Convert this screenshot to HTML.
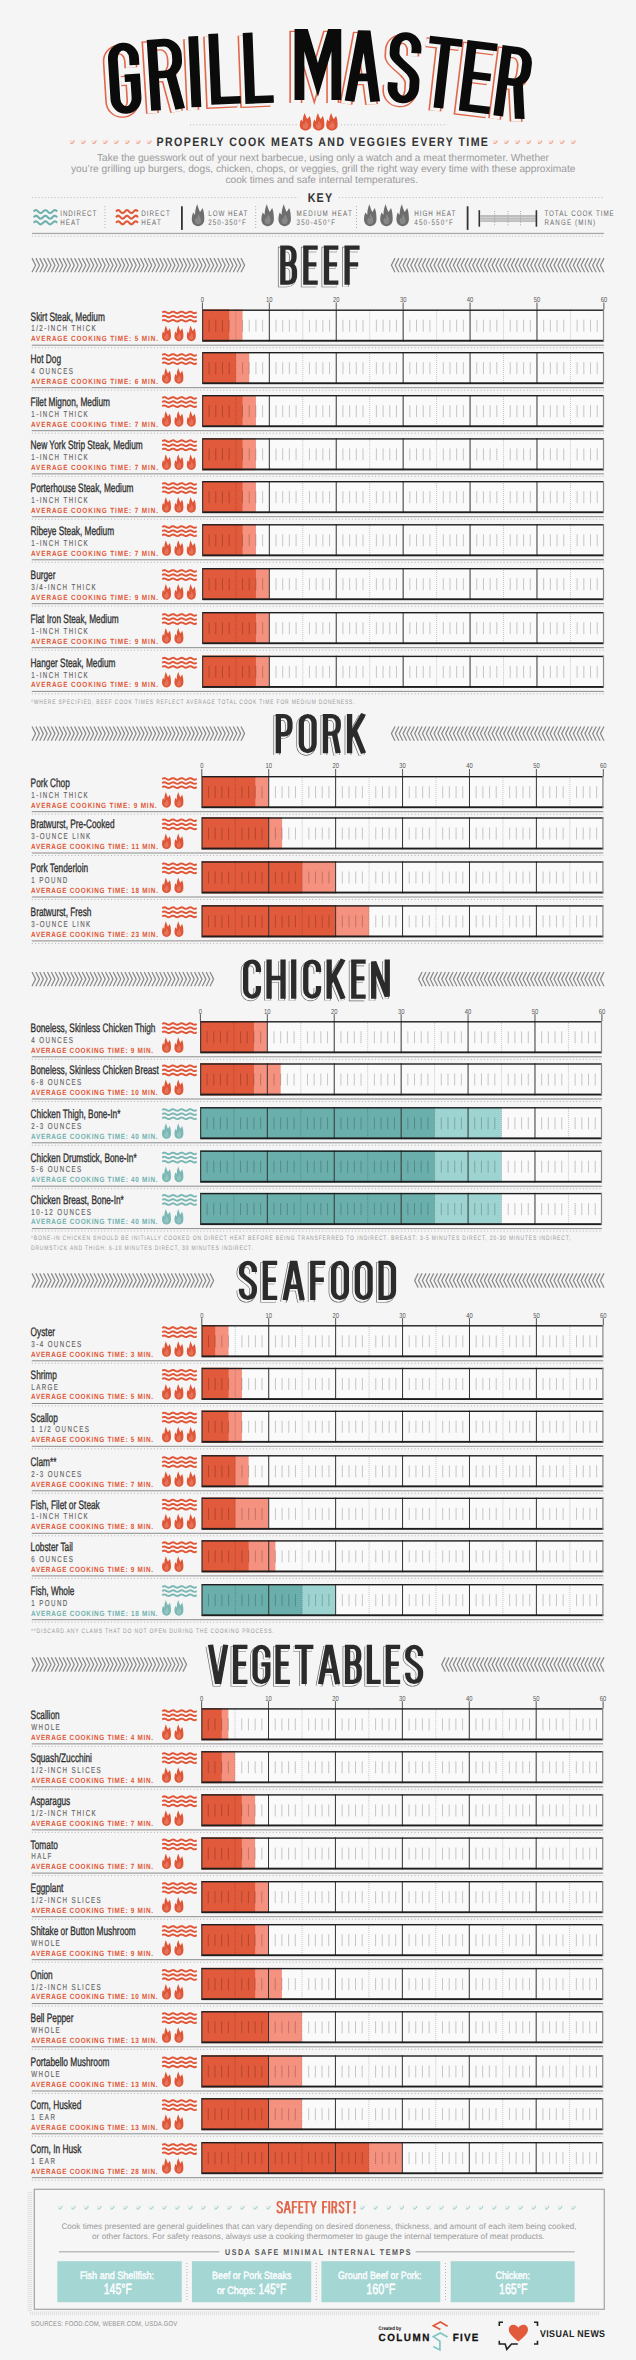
<!DOCTYPE html><html><head><meta charset="utf-8"><style>html,body{margin:0;padding:0;background:#f5f5f5;}text{text-rendering:geometricPrecision;}svg{display:block;}text{font-family:"Liberation Sans",sans-serif;}</style></head><body><svg width="636" height="2360" viewBox="0 0 636 2360" font-family="Liberation Sans, sans-serif">
<rect width="636" height="2360" fill="#f5f5f5"/>
<g transform="translate(121.10,81.10) rotate(-3.600) translate(-10.60,-31.70) scale(1,0.7755)"><path d="M21.20,24.53 V15.04 A10.60,15.04 0 0 0 0.00,15.04 V66.72 A10.60,15.04 0 0 0 21.20,66.72 V40.88 H10.60" fill="none" stroke="#e2664a" stroke-width="13.00" stroke-linejoin="miter" stroke-miterlimit="5" stroke-linecap="butt"/><path d="M21.20,24.53 V15.04 A10.60,15.04 0 0 0 0.00,15.04 V66.72 A10.60,15.04 0 0 0 21.20,66.72 V40.88 H10.60" fill="none" stroke="#f5f5f5" stroke-width="9.80" stroke-linejoin="miter" stroke-miterlimit="5" stroke-linecap="butt"/></g>
<g transform="translate(162.30,77.10) rotate(-3.600) translate(-12.10,-31.70) scale(1,0.7755)"><path d="M0.00,86.65 V0.00 H12.10 A12.10,17.16 0 0 1 24.20,17.16 V23.71 A12.10,17.16 0 0 1 12.10,40.88 H0 M16.94,40.88 L24.20,86.65" fill="none" stroke="#e2664a" stroke-width="13.00" stroke-linejoin="miter" stroke-miterlimit="5" stroke-linecap="butt"/><path d="M0.00,86.65 V0.00 H12.10 A12.10,17.16 0 0 1 24.20,17.16 V23.71 A12.10,17.16 0 0 1 12.10,40.88 H0 M16.94,40.88 L24.20,86.65" fill="none" stroke="#f5f5f5" stroke-width="9.80" stroke-linejoin="miter" stroke-miterlimit="5" stroke-linecap="butt"/></g>
<g transform="translate(190.90,74.50) rotate(-2.600) translate(0.30,-31.70) scale(1,0.7755)"><path d="M0.00,-4.90 V86.65" fill="none" stroke="#e2664a" stroke-width="13.00" stroke-linejoin="miter" stroke-miterlimit="5" stroke-linecap="butt"/><path d="M0.00,-4.90 V86.65" fill="none" stroke="#f5f5f5" stroke-width="9.80" stroke-linejoin="miter" stroke-miterlimit="5" stroke-linecap="butt"/></g>
<g transform="translate(221.00,71.50) rotate(-2.500) translate(-9.90,-31.70) scale(1,0.7755)"><path d="M0.00,-4.90 V81.75 H24.70" fill="none" stroke="#e2664a" stroke-width="13.00" stroke-linejoin="miter" stroke-miterlimit="5" stroke-linecap="butt"/><path d="M0.00,-4.90 V81.75 H24.70" fill="none" stroke="#f5f5f5" stroke-width="9.80" stroke-linejoin="miter" stroke-miterlimit="5" stroke-linecap="butt"/></g>
<g transform="translate(254.70,70.70) rotate(-2.200) translate(-9.35,-31.70) scale(1,0.7755)"><path d="M0.00,-4.90 V81.75 H23.60" fill="none" stroke="#e2664a" stroke-width="13.00" stroke-linejoin="miter" stroke-miterlimit="5" stroke-linecap="butt"/><path d="M0.00,-4.90 V81.75 H23.60" fill="none" stroke="#f5f5f5" stroke-width="9.80" stroke-linejoin="miter" stroke-miterlimit="5" stroke-linecap="butt"/></g>
<g transform="translate(314.30,67.40) translate(-18.45,-31.70) scale(1,0.7755)"><path d="M0.00,86.65 V0.00 H4.43 L18.45,60.50 L32.47,0.00 H36.90 V86.65" fill="none" stroke="#e2664a" stroke-width="13.00" stroke-linejoin="miter" stroke-miterlimit="5" stroke-linecap="butt"/><path d="M0.00,86.65 V0.00 H4.43 L18.45,60.50 L32.47,0.00 H36.90 V86.65" fill="none" stroke="#f5f5f5" stroke-width="9.80" stroke-linejoin="miter" stroke-miterlimit="5" stroke-linecap="butt"/></g>
<g transform="translate(359.70,68.70) rotate(1.500) translate(-12.10,-31.70) scale(1,0.7755)"><path d="M-0.73,86.65 L10.16,0.00 H14.04 L24.93,86.65 M3.63,55.59 H20.57" fill="none" stroke="#e2664a" stroke-width="13.00" stroke-linejoin="miter" stroke-miterlimit="5" stroke-linecap="butt"/><path d="M-0.73,86.65 L10.16,0.00 H14.04 L24.93,86.65 M3.63,55.59 H20.57" fill="none" stroke="#f5f5f5" stroke-width="9.80" stroke-linejoin="miter" stroke-miterlimit="5" stroke-linecap="butt"/></g>
<g transform="translate(400.90,70.60) rotate(3.500) translate(-10.85,-31.70) scale(1,0.7755)"><path d="M21.70,21.26 V15.39 A10.85,15.39 0 0 0 0.00,15.39 V22.89 C0.00,34.34 21.70,42.51 21.70,57.23 V66.36 A10.85,15.39 0 0 1 0.00,66.36 V60.50" fill="none" stroke="#e2664a" stroke-width="13.00" stroke-linejoin="miter" stroke-miterlimit="5" stroke-linecap="butt"/><path d="M21.70,21.26 V15.39 A10.85,15.39 0 0 0 0.00,15.39 V22.89 C0.00,34.34 21.70,42.51 21.70,57.23 V66.36 A10.85,15.39 0 0 1 0.00,66.36 V60.50" fill="none" stroke="#f5f5f5" stroke-width="9.80" stroke-linejoin="miter" stroke-miterlimit="5" stroke-linecap="butt"/></g>
<g transform="translate(438.80,75.60) rotate(6.500) translate(-11.60,-31.70) scale(1,0.7755)"><path d="M-4.90,0.00 H28.10 M11.60,0.00 V86.65" fill="none" stroke="#e2664a" stroke-width="13.00" stroke-linejoin="miter" stroke-miterlimit="5" stroke-linecap="butt"/><path d="M-4.90,0.00 H28.10 M11.60,0.00 V86.65" fill="none" stroke="#f5f5f5" stroke-width="9.80" stroke-linejoin="miter" stroke-miterlimit="5" stroke-linecap="butt"/></g>
<g transform="translate(474.70,80.00) rotate(7.000) translate(-10.35,-31.70) scale(1,0.7755)"><path d="M25.60,0.00 H0 V81.75 H25.60 M0.00,39.24 H22.70" fill="none" stroke="#e2664a" stroke-width="13.00" stroke-linejoin="miter" stroke-miterlimit="5" stroke-linecap="butt"/><path d="M25.60,0.00 H0 V81.75 H25.60 M0.00,39.24 H22.70" fill="none" stroke="#f5f5f5" stroke-width="9.80" stroke-linejoin="miter" stroke-miterlimit="5" stroke-linecap="butt"/></g>
<g transform="translate(510.00,85.00) rotate(7.500) translate(-10.85,-31.70) scale(1,0.7755)"><path d="M0.00,86.65 V0.00 H10.85 A10.85,15.39 0 0 1 21.70,15.39 V25.49 A10.85,15.39 0 0 1 10.85,40.88 H0 M15.19,40.88 L21.70,86.65" fill="none" stroke="#e2664a" stroke-width="13.00" stroke-linejoin="miter" stroke-miterlimit="5" stroke-linecap="butt"/><path d="M0.00,86.65 V0.00 H10.85 A10.85,15.39 0 0 1 21.70,15.39 V25.49 A10.85,15.39 0 0 1 10.85,40.88 H0 M15.19,40.88 L21.70,86.65" fill="none" stroke="#f5f5f5" stroke-width="9.80" stroke-linejoin="miter" stroke-miterlimit="5" stroke-linecap="butt"/></g>
<g transform="translate(124.70,78.30) rotate(-3.600) translate(-10.60,-31.70) scale(1,0.7755)"><path d="M21.20,24.53 V15.04 A10.60,15.04 0 0 0 0.00,15.04 V66.72 A10.60,15.04 0 0 0 21.20,66.72 V40.88 H10.60" fill="none" stroke="#0b0b0b" stroke-width="9.80" stroke-linejoin="miter" stroke-miterlimit="5" stroke-linecap="butt"/></g>
<g transform="translate(165.90,74.30) rotate(-3.600) translate(-12.10,-31.70) scale(1,0.7755)"><path d="M0.00,86.65 V0.00 H12.10 A12.10,17.16 0 0 1 24.20,17.16 V23.71 A12.10,17.16 0 0 1 12.10,40.88 H0 M16.94,40.88 L24.20,86.65" fill="none" stroke="#0b0b0b" stroke-width="9.80" stroke-linejoin="miter" stroke-miterlimit="5" stroke-linecap="butt"/></g>
<g transform="translate(194.50,71.70) rotate(-2.600) translate(0.30,-31.70) scale(1,0.7755)"><path d="M0.00,-4.90 V86.65" fill="none" stroke="#0b0b0b" stroke-width="9.80" stroke-linejoin="miter" stroke-miterlimit="5" stroke-linecap="butt"/></g>
<g transform="translate(224.60,68.70) rotate(-2.500) translate(-9.90,-31.70) scale(1,0.7755)"><path d="M0.00,-4.90 V81.75 H24.70" fill="none" stroke="#0b0b0b" stroke-width="9.80" stroke-linejoin="miter" stroke-miterlimit="5" stroke-linecap="butt"/></g>
<g transform="translate(258.30,67.90) rotate(-2.200) translate(-9.35,-31.70) scale(1,0.7755)"><path d="M0.00,-4.90 V81.75 H23.60" fill="none" stroke="#0b0b0b" stroke-width="9.80" stroke-linejoin="miter" stroke-miterlimit="5" stroke-linecap="butt"/></g>
<g transform="translate(317.90,64.60) translate(-18.45,-31.70) scale(1,0.7755)"><path d="M0.00,86.65 V0.00 H4.43 L18.45,60.50 L32.47,0.00 H36.90 V86.65" fill="none" stroke="#0b0b0b" stroke-width="9.80" stroke-linejoin="miter" stroke-miterlimit="5" stroke-linecap="butt"/></g>
<g transform="translate(363.30,65.90) rotate(1.500) translate(-12.10,-31.70) scale(1,0.7755)"><path d="M-0.73,86.65 L10.16,0.00 H14.04 L24.93,86.65 M3.63,55.59 H20.57" fill="none" stroke="#0b0b0b" stroke-width="9.80" stroke-linejoin="miter" stroke-miterlimit="5" stroke-linecap="butt"/></g>
<g transform="translate(404.50,67.80) rotate(3.500) translate(-10.85,-31.70) scale(1,0.7755)"><path d="M21.70,21.26 V15.39 A10.85,15.39 0 0 0 0.00,15.39 V22.89 C0.00,34.34 21.70,42.51 21.70,57.23 V66.36 A10.85,15.39 0 0 1 0.00,66.36 V60.50" fill="none" stroke="#0b0b0b" stroke-width="9.80" stroke-linejoin="miter" stroke-miterlimit="5" stroke-linecap="butt"/></g>
<g transform="translate(442.40,72.80) rotate(6.500) translate(-11.60,-31.70) scale(1,0.7755)"><path d="M-4.90,0.00 H28.10 M11.60,0.00 V86.65" fill="none" stroke="#0b0b0b" stroke-width="9.80" stroke-linejoin="miter" stroke-miterlimit="5" stroke-linecap="butt"/></g>
<g transform="translate(478.30,77.20) rotate(7.000) translate(-10.35,-31.70) scale(1,0.7755)"><path d="M25.60,0.00 H0 V81.75 H25.60 M0.00,39.24 H22.70" fill="none" stroke="#0b0b0b" stroke-width="9.80" stroke-linejoin="miter" stroke-miterlimit="5" stroke-linecap="butt"/></g>
<g transform="translate(513.60,82.20) rotate(7.500) translate(-10.85,-31.70) scale(1,0.7755)"><path d="M0.00,86.65 V0.00 H10.85 A10.85,15.39 0 0 1 21.70,15.39 V25.49 A10.85,15.39 0 0 1 10.85,40.88 H0 M15.19,40.88 L21.70,86.65" fill="none" stroke="#0b0b0b" stroke-width="9.80" stroke-linejoin="miter" stroke-miterlimit="5" stroke-linecap="butt"/></g>
<line x1="190" y1="124.8" x2="297" y2="124.8" stroke="#b9b9b9" stroke-width="1" stroke-dasharray="1 2.2"/>
<line x1="341" y1="124.8" x2="447" y2="124.8" stroke="#b9b9b9" stroke-width="1" stroke-dasharray="1 2.2"/>
<g transform="translate(299.80,112.90) scale(1.140,1.100)"><path d="M5,16 C2.1,16 0,13.9 0,11 C0,9 0.5,7.3 1.2,5.8 C1.6,6.8 2,7.3 2.6,7.6 C2.6,4.8 3.2,2.2 4.4,0 C5,2.4 5.8,4.2 6.6,5.6 C7.2,4.8 7.9,4 8.6,2.8 C9.6,4.8 10,7.6 10,11 C10,13.9 7.9,16 5,16 Z" fill="#e05536"/><path d="M5.2,7.2 C6,8.8 7.4,9.8 7.4,12 C7.4,13.6 6.4,14.6 5,14.6 C3.6,14.6 2.6,13.6 2.6,12.2 C2.6,11 3.1,10.2 3.6,9.6 C3.8,10.2 4.1,10.6 4.4,10.7 C4.4,9.4 4.7,8.2 5.2,7.2 Z" fill="#ffffff" opacity="0.18"/></g>
<g transform="translate(313.00,112.90) scale(1.140,1.100)"><path d="M5,16 C2.1,16 0,13.9 0,11 C0,9 0.5,7.3 1.2,5.8 C1.6,6.8 2,7.3 2.6,7.6 C2.6,4.8 3.2,2.2 4.4,0 C5,2.4 5.8,4.2 6.6,5.6 C7.2,4.8 7.9,4 8.6,2.8 C9.6,4.8 10,7.6 10,11 C10,13.9 7.9,16 5,16 Z" fill="#e05536"/><path d="M5.2,7.2 C6,8.8 7.4,9.8 7.4,12 C7.4,13.6 6.4,14.6 5,14.6 C3.6,14.6 2.6,13.6 2.6,12.2 C2.6,11 3.1,10.2 3.6,9.6 C3.8,10.2 4.1,10.6 4.4,10.7 C4.4,9.4 4.7,8.2 5.2,7.2 Z" fill="#ffffff" opacity="0.18"/></g>
<g transform="translate(326.20,112.90) scale(1.140,1.100)"><path d="M5,16 C2.1,16 0,13.9 0,11 C0,9 0.5,7.3 1.2,5.8 C1.6,6.8 2,7.3 2.6,7.6 C2.6,4.8 3.2,2.2 4.4,0 C5,2.4 5.8,4.2 6.6,5.6 C7.2,4.8 7.9,4 8.6,2.8 C9.6,4.8 10,7.6 10,11 C10,13.9 7.9,16 5,16 Z" fill="#e05536"/><path d="M5.2,7.2 C6,8.8 7.4,9.8 7.4,12 C7.4,13.6 6.4,14.6 5,14.6 C3.6,14.6 2.6,13.6 2.6,12.2 C2.6,11 3.1,10.2 3.6,9.6 C3.8,10.2 4.1,10.6 4.4,10.7 C4.4,9.4 4.7,8.2 5.2,7.2 Z" fill="#ffffff" opacity="0.18"/></g>
<path d="M69.60,140.00 Q69.80,144.10 72.60,143.90 Q74.60,143.50 74.40,138.90 Q73.20,142.10 69.60,140.00 Z" fill="#f7d3c8" opacity="0.8"/>
<path d="M70.40,143.40 Q73.40,144.10 74.20,140.70" fill="none" stroke="#e05536" stroke-width="0.9" opacity="0.55"/>
<path d="M80.60,140.00 Q80.80,144.10 83.60,143.90 Q85.60,143.50 85.40,138.90 Q84.20,142.10 80.60,140.00 Z" fill="#f7d3c8" opacity="0.8"/>
<path d="M81.40,143.40 Q84.40,144.10 85.20,140.70" fill="none" stroke="#e05536" stroke-width="0.9" opacity="0.55"/>
<path d="M91.60,140.00 Q91.80,144.10 94.60,143.90 Q96.60,143.50 96.40,138.90 Q95.20,142.10 91.60,140.00 Z" fill="#f7d3c8" opacity="0.8"/>
<path d="M92.40,143.40 Q95.40,144.10 96.20,140.70" fill="none" stroke="#e05536" stroke-width="0.9" opacity="0.55"/>
<path d="M102.60,140.00 Q102.80,144.10 105.60,143.90 Q107.60,143.50 107.40,138.90 Q106.20,142.10 102.60,140.00 Z" fill="#f7d3c8" opacity="0.8"/>
<path d="M103.40,143.40 Q106.40,144.10 107.20,140.70" fill="none" stroke="#e05536" stroke-width="0.9" opacity="0.55"/>
<path d="M113.60,140.00 Q113.80,144.10 116.60,143.90 Q118.60,143.50 118.40,138.90 Q117.20,142.10 113.60,140.00 Z" fill="#f7d3c8" opacity="0.8"/>
<path d="M114.40,143.40 Q117.40,144.10 118.20,140.70" fill="none" stroke="#e05536" stroke-width="0.9" opacity="0.55"/>
<path d="M124.60,140.00 Q124.80,144.10 127.60,143.90 Q129.60,143.50 129.40,138.90 Q128.20,142.10 124.60,140.00 Z" fill="#f7d3c8" opacity="0.8"/>
<path d="M125.40,143.40 Q128.40,144.10 129.20,140.70" fill="none" stroke="#e05536" stroke-width="0.9" opacity="0.55"/>
<path d="M135.60,140.00 Q135.80,144.10 138.60,143.90 Q140.60,143.50 140.40,138.90 Q139.20,142.10 135.60,140.00 Z" fill="#f7d3c8" opacity="0.8"/>
<path d="M136.40,143.40 Q139.40,144.10 140.20,140.70" fill="none" stroke="#e05536" stroke-width="0.9" opacity="0.55"/>
<path d="M146.60,140.00 Q146.80,144.10 149.60,143.90 Q151.60,143.50 151.40,138.90 Q150.20,142.10 146.60,140.00 Z" fill="#f7d3c8" opacity="0.8"/>
<path d="M147.40,143.40 Q150.40,144.10 151.20,140.70" fill="none" stroke="#e05536" stroke-width="0.9" opacity="0.55"/>
<path d="M492.60,140.00 Q492.80,144.10 495.60,143.90 Q497.60,143.50 497.40,138.90 Q496.20,142.10 492.60,140.00 Z" fill="#f7d3c8" opacity="0.8"/>
<path d="M493.40,143.40 Q496.40,144.10 497.20,140.70" fill="none" stroke="#e05536" stroke-width="0.9" opacity="0.55"/>
<path d="M503.74,140.00 Q503.94,144.10 506.74,143.90 Q508.74,143.50 508.54,138.90 Q507.34,142.10 503.74,140.00 Z" fill="#f7d3c8" opacity="0.8"/>
<path d="M504.54,143.40 Q507.54,144.10 508.34,140.70" fill="none" stroke="#e05536" stroke-width="0.9" opacity="0.55"/>
<path d="M514.89,140.00 Q515.09,144.10 517.89,143.90 Q519.89,143.50 519.69,138.90 Q518.49,142.10 514.89,140.00 Z" fill="#f7d3c8" opacity="0.8"/>
<path d="M515.69,143.40 Q518.69,144.10 519.49,140.70" fill="none" stroke="#e05536" stroke-width="0.9" opacity="0.55"/>
<path d="M526.03,140.00 Q526.23,144.10 529.03,143.90 Q531.03,143.50 530.83,138.90 Q529.63,142.10 526.03,140.00 Z" fill="#f7d3c8" opacity="0.8"/>
<path d="M526.83,143.40 Q529.83,144.10 530.63,140.70" fill="none" stroke="#e05536" stroke-width="0.9" opacity="0.55"/>
<path d="M537.17,140.00 Q537.37,144.10 540.17,143.90 Q542.17,143.50 541.97,138.90 Q540.77,142.10 537.17,140.00 Z" fill="#f7d3c8" opacity="0.8"/>
<path d="M537.97,143.40 Q540.97,144.10 541.77,140.70" fill="none" stroke="#e05536" stroke-width="0.9" opacity="0.55"/>
<path d="M548.31,140.00 Q548.51,144.10 551.31,143.90 Q553.31,143.50 553.11,138.90 Q551.91,142.10 548.31,140.00 Z" fill="#f7d3c8" opacity="0.8"/>
<path d="M549.11,143.40 Q552.11,144.10 552.91,140.70" fill="none" stroke="#e05536" stroke-width="0.9" opacity="0.55"/>
<path d="M559.46,140.00 Q559.66,144.10 562.46,143.90 Q564.46,143.50 564.26,138.90 Q563.06,142.10 559.46,140.00 Z" fill="#f7d3c8" opacity="0.8"/>
<path d="M560.26,143.40 Q563.26,144.10 564.06,140.70" fill="none" stroke="#e05536" stroke-width="0.9" opacity="0.55"/>
<path d="M570.60,140.00 Q570.80,144.10 573.60,143.90 Q575.60,143.50 575.40,138.90 Q574.20,142.10 570.60,140.00 Z" fill="#f7d3c8" opacity="0.8"/>
<path d="M571.40,143.40 Q574.40,144.10 575.20,140.70" fill="none" stroke="#e05536" stroke-width="0.9" opacity="0.55"/>
<text transform="translate(156.50,146.30) scale(0.86,1)" font-size="12.3" font-weight="bold" fill="#333" letter-spacing="1.650" >PROPERLY COOK MEATS AND VEGGIES EVERY TIME</text>
<text x="97.00" y="160.60" font-size="10.3" fill="#9a9a9a" textLength="452.00" lengthAdjust="spacingAndGlyphs" >Take the guesswork out of your next barbecue, using only a watch and a meat thermometer. Whether</text>
<text x="71.00" y="171.80" font-size="10.3" fill="#9a9a9a" textLength="504.50" lengthAdjust="spacingAndGlyphs" >you’re grilling up burgers, dogs, chicken, chops, or veggies, grill the right way every time with these approximate</text>
<text x="225.40" y="183.00" font-size="10.3" fill="#9a9a9a" textLength="192.60" lengthAdjust="spacingAndGlyphs" >cook times and safe internal temperatures.</text>
<line x1="32" y1="197.6" x2="298" y2="197.6" stroke="#b9b9b9" stroke-width="1" stroke-dasharray="1 2.2"/>
<line x1="339" y1="197.6" x2="604" y2="197.6" stroke="#b9b9b9" stroke-width="1" stroke-dasharray="1 2.2"/>
<text transform="translate(307.70,202.30) scale(0.85,1)" font-size="12.6" font-weight="bold" fill="#333" letter-spacing="1.399" >KEY</text>
<path d="M33.60,211.60 L34.63,210.65 L35.65,210.13 L36.68,210.27 L37.70,211.00 L38.73,212.00 L39.76,212.83 L40.78,213.10 L41.81,212.70 L42.83,211.80 L43.86,210.82 L44.89,210.19 L45.91,210.19 L46.94,210.82 L47.97,211.80 L48.99,212.70 L50.02,213.10 L51.04,212.83 L52.07,212.00 L53.10,211.00 L54.12,210.27 L55.15,210.13 L56.17,210.65 L57.20,211.60" fill="none" stroke="#6fb1ae" stroke-width="2.1"/>
<path d="M33.60,217.20 L34.63,216.25 L35.65,215.73 L36.68,215.87 L37.70,216.60 L38.73,217.60 L39.76,218.43 L40.78,218.70 L41.81,218.30 L42.83,217.40 L43.86,216.42 L44.89,215.79 L45.91,215.79 L46.94,216.42 L47.97,217.40 L48.99,218.30 L50.02,218.70 L51.04,218.43 L52.07,217.60 L53.10,216.60 L54.12,215.87 L55.15,215.73 L56.17,216.25 L57.20,217.20" fill="none" stroke="#6fb1ae" stroke-width="2.1"/>
<path d="M33.60,222.80 L34.63,221.85 L35.65,221.33 L36.68,221.47 L37.70,222.20 L38.73,223.20 L39.76,224.03 L40.78,224.30 L41.81,223.90 L42.83,223.00 L43.86,222.02 L44.89,221.39 L45.91,221.39 L46.94,222.02 L47.97,223.00 L48.99,223.90 L50.02,224.30 L51.04,224.03 L52.07,223.20 L53.10,222.20 L54.12,221.47 L55.15,221.33 L56.17,221.85 L57.20,222.80" fill="none" stroke="#6fb1ae" stroke-width="2.1"/>
<text transform="translate(60.20,215.80) scale(0.78,1)" font-size="8.0" fill="#6b6b6b" letter-spacing="1.233" >INDIRECT</text>
<text transform="translate(60.20,224.90) scale(0.78,1)" font-size="8.0" fill="#6b6b6b" letter-spacing="1.419" >HEAT</text>
<line x1="105" y1="206" x2="105" y2="228.5" stroke="#b0b0b0" stroke-width="1" stroke-dasharray="1 2"/>
<path d="M116.00,211.60 L117.00,210.62 L118.00,210.12 L119.00,210.34 L120.00,211.18 L121.00,212.22 L122.00,212.96 L123.00,213.04 L124.00,212.41 L125.00,211.39 L126.00,210.47 L127.00,210.10 L128.00,210.47 L129.00,211.39 L130.00,212.41 L131.00,213.04 L132.00,212.96 L133.00,212.22 L134.00,211.18 L135.00,210.34 L136.00,210.12 L137.00,210.62 L138.00,211.60" fill="none" stroke="#e05a3a" stroke-width="2.1"/>
<path d="M116.00,217.20 L117.00,216.22 L118.00,215.72 L119.00,215.94 L120.00,216.78 L121.00,217.82 L122.00,218.56 L123.00,218.64 L124.00,218.01 L125.00,216.99 L126.00,216.07 L127.00,215.70 L128.00,216.07 L129.00,216.99 L130.00,218.01 L131.00,218.64 L132.00,218.56 L133.00,217.82 L134.00,216.78 L135.00,215.94 L136.00,215.72 L137.00,216.22 L138.00,217.20" fill="none" stroke="#e05a3a" stroke-width="2.1"/>
<path d="M116.00,222.80 L117.00,221.82 L118.00,221.32 L119.00,221.54 L120.00,222.38 L121.00,223.42 L122.00,224.16 L123.00,224.24 L124.00,223.61 L125.00,222.59 L126.00,221.67 L127.00,221.30 L128.00,221.67 L129.00,222.59 L130.00,223.61 L131.00,224.24 L132.00,224.16 L133.00,223.42 L134.00,222.38 L135.00,221.54 L136.00,221.32 L137.00,221.82 L138.00,222.80" fill="none" stroke="#e05a3a" stroke-width="2.1"/>
<text transform="translate(141.20,215.80) scale(0.78,1)" font-size="8.0" fill="#6b6b6b" letter-spacing="1.352" >DIRECT</text>
<text transform="translate(141.20,224.90) scale(0.78,1)" font-size="8.0" fill="#6b6b6b" letter-spacing="1.419" >HEAT</text>
<rect x="181" y="206.3" width="1.8" height="23.6" fill="#333"/>
<g transform="translate(191.80,204.20) scale(1.250,1.375)"><path d="M5,16 C2.1,16 0,13.9 0,11 C0,9 0.5,7.3 1.2,5.8 C1.6,6.8 2,7.3 2.6,7.6 C2.6,4.8 3.2,2.2 4.4,0 C5,2.4 5.8,4.2 6.6,5.6 C7.2,4.8 7.9,4 8.6,2.8 C9.6,4.8 10,7.6 10,11 C10,13.9 7.9,16 5,16 Z" fill="#6d6d6d"/><path d="M5.2,7.2 C6,8.8 7.4,9.8 7.4,12 C7.4,13.6 6.4,14.6 5,14.6 C3.6,14.6 2.6,13.6 2.6,12.2 C2.6,11 3.1,10.2 3.6,9.6 C3.8,10.2 4.1,10.6 4.4,10.7 C4.4,9.4 4.7,8.2 5.2,7.2 Z" fill="#ffffff" opacity="0.18"/></g>
<text transform="translate(208.20,215.80) scale(0.78,1)" font-size="8.0" fill="#6b6b6b" letter-spacing="1.259" >LOW HEAT</text>
<text transform="translate(208.20,224.90) scale(0.78,1)" font-size="8.0" fill="#6b6b6b" letter-spacing="1.329" >250-350°F</text>
<line x1="255.7" y1="206" x2="255.7" y2="228.5" stroke="#b0b0b0" stroke-width="1" stroke-dasharray="1 2"/>
<g transform="translate(261.40,204.20) scale(1.250,1.375)"><path d="M5,16 C2.1,16 0,13.9 0,11 C0,9 0.5,7.3 1.2,5.8 C1.6,6.8 2,7.3 2.6,7.6 C2.6,4.8 3.2,2.2 4.4,0 C5,2.4 5.8,4.2 6.6,5.6 C7.2,4.8 7.9,4 8.6,2.8 C9.6,4.8 10,7.6 10,11 C10,13.9 7.9,16 5,16 Z" fill="#6d6d6d"/><path d="M5.2,7.2 C6,8.8 7.4,9.8 7.4,12 C7.4,13.6 6.4,14.6 5,14.6 C3.6,14.6 2.6,13.6 2.6,12.2 C2.6,11 3.1,10.2 3.6,9.6 C3.8,10.2 4.1,10.6 4.4,10.7 C4.4,9.4 4.7,8.2 5.2,7.2 Z" fill="#ffffff" opacity="0.18"/></g>
<g transform="translate(278.40,204.20) scale(1.250,1.375)"><path d="M5,16 C2.1,16 0,13.9 0,11 C0,9 0.5,7.3 1.2,5.8 C1.6,6.8 2,7.3 2.6,7.6 C2.6,4.8 3.2,2.2 4.4,0 C5,2.4 5.8,4.2 6.6,5.6 C7.2,4.8 7.9,4 8.6,2.8 C9.6,4.8 10,7.6 10,11 C10,13.9 7.9,16 5,16 Z" fill="#6d6d6d"/><path d="M5.2,7.2 C6,8.8 7.4,9.8 7.4,12 C7.4,13.6 6.4,14.6 5,14.6 C3.6,14.6 2.6,13.6 2.6,12.2 C2.6,11 3.1,10.2 3.6,9.6 C3.8,10.2 4.1,10.6 4.4,10.7 C4.4,9.4 4.7,8.2 5.2,7.2 Z" fill="#ffffff" opacity="0.18"/></g>
<text transform="translate(296.50,215.80) scale(0.78,1)" font-size="8.0" fill="#6b6b6b" letter-spacing="1.536" >MEDIUM HEAT</text>
<text transform="translate(296.50,224.90) scale(0.78,1)" font-size="8.0" fill="#6b6b6b" letter-spacing="1.490" >350-450°F</text>
<line x1="356.5" y1="206" x2="356.5" y2="228.5" stroke="#b0b0b0" stroke-width="1" stroke-dasharray="1 2"/>
<g transform="translate(364.00,204.20) scale(1.250,1.375)"><path d="M5,16 C2.1,16 0,13.9 0,11 C0,9 0.5,7.3 1.2,5.8 C1.6,6.8 2,7.3 2.6,7.6 C2.6,4.8 3.2,2.2 4.4,0 C5,2.4 5.8,4.2 6.6,5.6 C7.2,4.8 7.9,4 8.6,2.8 C9.6,4.8 10,7.6 10,11 C10,13.9 7.9,16 5,16 Z" fill="#6d6d6d"/><path d="M5.2,7.2 C6,8.8 7.4,9.8 7.4,12 C7.4,13.6 6.4,14.6 5,14.6 C3.6,14.6 2.6,13.6 2.6,12.2 C2.6,11 3.1,10.2 3.6,9.6 C3.8,10.2 4.1,10.6 4.4,10.7 C4.4,9.4 4.7,8.2 5.2,7.2 Z" fill="#ffffff" opacity="0.18"/></g>
<g transform="translate(380.20,204.20) scale(1.250,1.375)"><path d="M5,16 C2.1,16 0,13.9 0,11 C0,9 0.5,7.3 1.2,5.8 C1.6,6.8 2,7.3 2.6,7.6 C2.6,4.8 3.2,2.2 4.4,0 C5,2.4 5.8,4.2 6.6,5.6 C7.2,4.8 7.9,4 8.6,2.8 C9.6,4.8 10,7.6 10,11 C10,13.9 7.9,16 5,16 Z" fill="#6d6d6d"/><path d="M5.2,7.2 C6,8.8 7.4,9.8 7.4,12 C7.4,13.6 6.4,14.6 5,14.6 C3.6,14.6 2.6,13.6 2.6,12.2 C2.6,11 3.1,10.2 3.6,9.6 C3.8,10.2 4.1,10.6 4.4,10.7 C4.4,9.4 4.7,8.2 5.2,7.2 Z" fill="#ffffff" opacity="0.18"/></g>
<g transform="translate(396.40,204.20) scale(1.250,1.375)"><path d="M5,16 C2.1,16 0,13.9 0,11 C0,9 0.5,7.3 1.2,5.8 C1.6,6.8 2,7.3 2.6,7.6 C2.6,4.8 3.2,2.2 4.4,0 C5,2.4 5.8,4.2 6.6,5.6 C7.2,4.8 7.9,4 8.6,2.8 C9.6,4.8 10,7.6 10,11 C10,13.9 7.9,16 5,16 Z" fill="#6d6d6d"/><path d="M5.2,7.2 C6,8.8 7.4,9.8 7.4,12 C7.4,13.6 6.4,14.6 5,14.6 C3.6,14.6 2.6,13.6 2.6,12.2 C2.6,11 3.1,10.2 3.6,9.6 C3.8,10.2 4.1,10.6 4.4,10.7 C4.4,9.4 4.7,8.2 5.2,7.2 Z" fill="#ffffff" opacity="0.18"/></g>
<text transform="translate(414.30,215.80) scale(0.78,1)" font-size="8.0" fill="#6b6b6b" letter-spacing="1.200" >HIGH HEAT</text>
<text transform="translate(414.30,224.90) scale(0.78,1)" font-size="8.0" fill="#6b6b6b" letter-spacing="1.490" >450-550°F</text>
<rect x="466.7" y="206.3" width="1.8" height="23.6" fill="#333"/>
<rect x="480.4" y="215" width="55.5" height="7" fill="#bdbdbd"/>
<rect x="480.4" y="217" width="55.5" height="1" fill="#d0d0d0"/><rect x="480.4" y="219.5" width="55.5" height="1" fill="#d0d0d0"/>
<line x1="494.6" y1="211" x2="494.6" y2="225.2" stroke="#999" stroke-width="0.8" stroke-dasharray="1 1.2"/>
<line x1="508" y1="211" x2="508" y2="225.2" stroke="#999" stroke-width="0.8" stroke-dasharray="1 1.2"/>
<line x1="520.5" y1="211" x2="520.5" y2="225.2" stroke="#999" stroke-width="0.8" stroke-dasharray="1 1.2"/>
<rect x="478.5" y="210.2" width="1.6" height="16.5" fill="#333"/><rect x="535.6" y="210.2" width="1.6" height="16.5" fill="#333"/>
<text transform="translate(544.40,215.80) scale(0.78,1)" font-size="8.0" fill="#6b6b6b" letter-spacing="1.224" >TOTAL COOK TIME</text>
<text transform="translate(544.40,224.90) scale(0.78,1)" font-size="8.0" fill="#6b6b6b" letter-spacing="1.446" >RANGE (MIN)</text>
<rect x="32" y="232.8" width="572" height="1.3" fill="#a9a9a9"/>
<line x1="32" y1="236.3" x2="604" y2="236.3" stroke="#bdbdbd" stroke-width="1" stroke-dasharray="1 2.2"/>
<g transform="translate(287.05,267.05) translate(-5.80,-17.50) scale(1,0.8113)"><path d="M0.00,20.28 V0.00 H5.80 A5.57,7.86 0 0 1 11.14,7.86 V12.41 A5.57,7.86 0 0 1 5.80,20.28 H0 V43.14 H5.80 A5.80,7.86 0 0 0 11.60,35.28 V28.14 A5.80,7.86 0 0 0 5.80,20.28" fill="none" stroke="#6a6a6a" stroke-width="6.70" stroke-linejoin="miter" stroke-miterlimit="5" stroke-linecap="butt"/><path d="M0.00,20.28 V0.00 H5.80 A5.57,7.86 0 0 1 11.14,7.86 V12.41 A5.57,7.86 0 0 1 5.80,20.28 H0 V43.14 H5.80 A5.80,7.86 0 0 0 11.60,35.28 V28.14 A5.80,7.86 0 0 0 5.80,20.28" fill="none" stroke="#f5f5f5" stroke-width="5.30" stroke-linejoin="miter" stroke-miterlimit="5" stroke-linecap="butt"/></g>
<g transform="translate(308.87,267.05) translate(-4.62,-17.50) scale(1,0.8113)"><path d="M11.89,0.00 H0 V43.14 H11.89 M0.00,20.71 H10.60" fill="none" stroke="#6a6a6a" stroke-width="6.70" stroke-linejoin="miter" stroke-miterlimit="5" stroke-linecap="butt"/><path d="M11.89,0.00 H0 V43.14 H11.89 M0.00,20.71 H10.60" fill="none" stroke="#f5f5f5" stroke-width="5.30" stroke-linejoin="miter" stroke-miterlimit="5" stroke-linecap="butt"/></g>
<g transform="translate(329.50,267.05) translate(-4.62,-17.50) scale(1,0.8113)"><path d="M11.89,0.00 H0 V43.14 H11.89 M0.00,20.71 H10.60" fill="none" stroke="#6a6a6a" stroke-width="6.70" stroke-linejoin="miter" stroke-miterlimit="5" stroke-linecap="butt"/><path d="M11.89,0.00 H0 V43.14 H11.89 M0.00,20.71 H10.60" fill="none" stroke="#f5f5f5" stroke-width="5.30" stroke-linejoin="miter" stroke-miterlimit="5" stroke-linecap="butt"/></g>
<g transform="translate(350.43,267.05) translate(-4.92,-17.50) scale(1,0.8113)"><path d="M12.48,0.00 H0 V45.79 M0.00,20.71 H11.10" fill="none" stroke="#6a6a6a" stroke-width="6.70" stroke-linejoin="miter" stroke-miterlimit="5" stroke-linecap="butt"/><path d="M12.48,0.00 H0 V45.79 M0.00,20.71 H11.10" fill="none" stroke="#f5f5f5" stroke-width="5.30" stroke-linejoin="miter" stroke-miterlimit="5" stroke-linecap="butt"/></g>
<g transform="translate(288.65,265.15) translate(-5.80,-17.50) scale(1,0.8113)"><path d="M0.00,20.28 V0.00 H5.80 A5.57,7.86 0 0 1 11.14,7.86 V12.41 A5.57,7.86 0 0 1 5.80,20.28 H0 V43.14 H5.80 A5.80,7.86 0 0 0 11.60,35.28 V28.14 A5.80,7.86 0 0 0 5.80,20.28" fill="none" stroke="#2b2b2b" stroke-width="5.30" stroke-linejoin="miter" stroke-miterlimit="5" stroke-linecap="butt"/></g>
<g transform="translate(310.47,265.15) translate(-4.62,-17.50) scale(1,0.8113)"><path d="M11.89,0.00 H0 V43.14 H11.89 M0.00,20.71 H10.60" fill="none" stroke="#2b2b2b" stroke-width="5.30" stroke-linejoin="miter" stroke-miterlimit="5" stroke-linecap="butt"/></g>
<g transform="translate(331.10,265.15) translate(-4.62,-17.50) scale(1,0.8113)"><path d="M11.89,0.00 H0 V43.14 H11.89 M0.00,20.71 H10.60" fill="none" stroke="#2b2b2b" stroke-width="5.30" stroke-linejoin="miter" stroke-miterlimit="5" stroke-linecap="butt"/></g>
<g transform="translate(352.03,265.15) translate(-4.92,-17.50) scale(1,0.8113)"><path d="M12.48,0.00 H0 V45.79 M0.00,20.71 H11.10" fill="none" stroke="#2b2b2b" stroke-width="5.30" stroke-linejoin="miter" stroke-miterlimit="5" stroke-linecap="butt"/></g>
<path d="M32.00,258.10 L35.60,265.20 L32.00,272.30 M35.87,258.10 L39.47,265.20 L35.87,272.30 M39.74,258.10 L43.34,265.20 L39.74,272.30 M43.61,258.10 L47.21,265.20 L43.61,272.30 M47.48,258.10 L51.08,265.20 L47.48,272.30 M51.35,258.10 L54.95,265.20 L51.35,272.30 M55.22,258.10 L58.82,265.20 L55.22,272.30 M59.09,258.10 L62.69,265.20 L59.09,272.30 M62.96,258.10 L66.56,265.20 L62.96,272.30 M66.83,258.10 L70.43,265.20 L66.83,272.30 M70.70,258.10 L74.30,265.20 L70.70,272.30 M74.57,258.10 L78.17,265.20 L74.57,272.30 M78.44,258.10 L82.04,265.20 L78.44,272.30 M82.31,258.10 L85.91,265.20 L82.31,272.30 M86.18,258.10 L89.78,265.20 L86.18,272.30 M90.05,258.10 L93.65,265.20 L90.05,272.30 M93.92,258.10 L97.52,265.20 L93.92,272.30 M97.79,258.10 L101.39,265.20 L97.79,272.30 M101.66,258.10 L105.26,265.20 L101.66,272.30 M105.53,258.10 L109.13,265.20 L105.53,272.30 M109.40,258.10 L113.00,265.20 L109.40,272.30 M113.27,258.10 L116.87,265.20 L113.27,272.30 M117.14,258.10 L120.74,265.20 L117.14,272.30 M121.01,258.10 L124.61,265.20 L121.01,272.30 M124.88,258.10 L128.48,265.20 L124.88,272.30 M128.75,258.10 L132.35,265.20 L128.75,272.30 M132.62,258.10 L136.22,265.20 L132.62,272.30 M136.49,258.10 L140.09,265.20 L136.49,272.30 M140.36,258.10 L143.96,265.20 L140.36,272.30 M144.23,258.10 L147.83,265.20 L144.23,272.30 M148.10,258.10 L151.70,265.20 L148.10,272.30 M151.97,258.10 L155.57,265.20 L151.97,272.30 M155.84,258.10 L159.44,265.20 L155.84,272.30 M159.71,258.10 L163.31,265.20 L159.71,272.30 M163.58,258.10 L167.18,265.20 L163.58,272.30 M167.45,258.10 L171.05,265.20 L167.45,272.30 M171.32,258.10 L174.92,265.20 L171.32,272.30 M175.19,258.10 L178.79,265.20 L175.19,272.30 M179.06,258.10 L182.66,265.20 L179.06,272.30 M182.93,258.10 L186.53,265.20 L182.93,272.30 M186.80,258.10 L190.40,265.20 L186.80,272.30 M190.67,258.10 L194.27,265.20 L190.67,272.30 M194.54,258.10 L198.14,265.20 L194.54,272.30 M198.41,258.10 L202.01,265.20 L198.41,272.30 M202.28,258.10 L205.88,265.20 L202.28,272.30 M206.15,258.10 L209.75,265.20 L206.15,272.30 M210.02,258.10 L213.62,265.20 L210.02,272.30 M213.89,258.10 L217.49,265.20 L213.89,272.30 M217.76,258.10 L221.36,265.20 L217.76,272.30 M221.63,258.10 L225.23,265.20 L221.63,272.30 M225.50,258.10 L229.10,265.20 L225.50,272.30 M229.37,258.10 L232.97,265.20 L229.37,272.30 M233.24,258.10 L236.84,265.20 L233.24,272.30 M237.11,258.10 L240.71,265.20 L237.11,272.30 M240.98,258.10 L244.58,265.20 L240.98,272.30 " fill="none" stroke="#8a8a8a" stroke-width="1.25"/>
<path d="M604.00,258.10 L600.40,265.20 L604.00,272.30 M600.13,258.10 L596.53,265.20 L600.13,272.30 M596.26,258.10 L592.66,265.20 L596.26,272.30 M592.39,258.10 L588.79,265.20 L592.39,272.30 M588.52,258.10 L584.92,265.20 L588.52,272.30 M584.65,258.10 L581.05,265.20 L584.65,272.30 M580.78,258.10 L577.18,265.20 L580.78,272.30 M576.91,258.10 L573.31,265.20 L576.91,272.30 M573.04,258.10 L569.44,265.20 L573.04,272.30 M569.17,258.10 L565.57,265.20 L569.17,272.30 M565.30,258.10 L561.70,265.20 L565.30,272.30 M561.43,258.10 L557.83,265.20 L561.43,272.30 M557.56,258.10 L553.96,265.20 L557.56,272.30 M553.69,258.10 L550.09,265.20 L553.69,272.30 M549.82,258.10 L546.22,265.20 L549.82,272.30 M545.95,258.10 L542.35,265.20 L545.95,272.30 M542.08,258.10 L538.48,265.20 L542.08,272.30 M538.21,258.10 L534.61,265.20 L538.21,272.30 M534.34,258.10 L530.74,265.20 L534.34,272.30 M530.47,258.10 L526.87,265.20 L530.47,272.30 M526.60,258.10 L523.00,265.20 L526.60,272.30 M522.73,258.10 L519.13,265.20 L522.73,272.30 M518.86,258.10 L515.26,265.20 L518.86,272.30 M514.99,258.10 L511.39,265.20 L514.99,272.30 M511.12,258.10 L507.52,265.20 L511.12,272.30 M507.25,258.10 L503.65,265.20 L507.25,272.30 M503.38,258.10 L499.78,265.20 L503.38,272.30 M499.51,258.10 L495.91,265.20 L499.51,272.30 M495.64,258.10 L492.04,265.20 L495.64,272.30 M491.77,258.10 L488.17,265.20 L491.77,272.30 M487.90,258.10 L484.30,265.20 L487.90,272.30 M484.03,258.10 L480.43,265.20 L484.03,272.30 M480.16,258.10 L476.56,265.20 L480.16,272.30 M476.29,258.10 L472.69,265.20 L476.29,272.30 M472.42,258.10 L468.82,265.20 L472.42,272.30 M468.55,258.10 L464.95,265.20 L468.55,272.30 M464.68,258.10 L461.08,265.20 L464.68,272.30 M460.81,258.10 L457.21,265.20 L460.81,272.30 M456.94,258.10 L453.34,265.20 L456.94,272.30 M453.07,258.10 L449.47,265.20 L453.07,272.30 M449.20,258.10 L445.60,265.20 L449.20,272.30 M445.33,258.10 L441.73,265.20 L445.33,272.30 M441.46,258.10 L437.86,265.20 L441.46,272.30 M437.59,258.10 L433.99,265.20 L437.59,272.30 M433.72,258.10 L430.12,265.20 L433.72,272.30 M429.85,258.10 L426.25,265.20 L429.85,272.30 M425.98,258.10 L422.38,265.20 L425.98,272.30 M422.11,258.10 L418.51,265.20 L422.11,272.30 M418.24,258.10 L414.64,265.20 L418.24,272.30 M414.37,258.10 L410.77,265.20 L414.37,272.30 M410.50,258.10 L406.90,265.20 L410.50,272.30 M406.63,258.10 L403.03,265.20 L406.63,272.30 M402.76,258.10 L399.16,265.20 L402.76,272.30 M398.89,258.10 L395.29,265.20 L398.89,272.30 M395.02,258.10 L391.42,265.20 L395.02,272.30 " fill="none" stroke="#8a8a8a" stroke-width="1.25"/>
<text transform="translate(202.40,301.90) scale(0.8,1)" font-size="7.3" fill="#555" text-anchor="middle">0</text>
<line x1="202.40" y1="302.50" x2="202.40" y2="309.5" stroke="#444" stroke-width="0.9"/>
<text transform="translate(269.32,301.90) scale(0.8,1)" font-size="7.3" fill="#555" text-anchor="middle">10</text>
<line x1="269.32" y1="302.50" x2="269.32" y2="309.5" stroke="#444" stroke-width="0.9"/>
<text transform="translate(336.23,301.90) scale(0.8,1)" font-size="7.3" fill="#555" text-anchor="middle">20</text>
<line x1="336.23" y1="302.50" x2="336.23" y2="309.5" stroke="#444" stroke-width="0.9"/>
<text transform="translate(403.15,301.90) scale(0.8,1)" font-size="7.3" fill="#555" text-anchor="middle">30</text>
<line x1="403.15" y1="302.50" x2="403.15" y2="309.5" stroke="#444" stroke-width="0.9"/>
<text transform="translate(470.07,301.90) scale(0.8,1)" font-size="7.3" fill="#555" text-anchor="middle">40</text>
<line x1="470.07" y1="302.50" x2="470.07" y2="309.5" stroke="#444" stroke-width="0.9"/>
<text transform="translate(536.98,301.90) scale(0.8,1)" font-size="7.3" fill="#555" text-anchor="middle">50</text>
<line x1="536.98" y1="302.50" x2="536.98" y2="309.5" stroke="#444" stroke-width="0.9"/>
<text transform="translate(603.90,301.90) scale(0.8,1)" font-size="7.3" fill="#555" text-anchor="middle">60</text>
<line x1="603.90" y1="302.50" x2="603.90" y2="309.5" stroke="#444" stroke-width="0.9"/>
<text x="30.6" y="320.60" font-size="12.3" fill="#2e2e2e" stroke="#2e2e2e" stroke-width="0.32" textLength="74.26" lengthAdjust="spacingAndGlyphs">Skirt Steak, Medium</text>
<text transform="translate(31.3,331.30) scale(0.72,1)" font-size="8.6" fill="#646464" stroke="#646464" stroke-width="0.15" letter-spacing="1.972">1/2-INCH THICK</text>
<text transform="translate(31.1,341.00) scale(0.84,1)" font-size="7.6" font-weight="bold" fill="#e05536" letter-spacing="1.050">AVERAGE COOKING TIME: 5 MIN.</text>
<path d="M162.20,312.40 L163.21,311.86 L164.23,311.60 L165.24,311.76 L166.26,312.25 L167.27,312.82 L168.29,313.17 L169.30,313.12 L170.32,312.69 L171.33,312.11 L172.35,311.68 L173.36,311.63 L174.38,311.98 L175.39,312.55 L176.41,313.04 L177.42,313.20 L178.44,312.94 L179.45,312.40 L180.46,311.86 L181.48,311.60 L182.49,311.76 L183.51,312.25 L184.52,312.82 L185.54,313.17 L186.55,313.12 L187.57,312.69 L188.58,312.11 L189.60,311.68 L190.61,311.63 L191.63,311.98 L192.64,312.55 L193.66,313.04 L194.67,313.20 L195.69,312.94 L196.70,312.40" fill="none" stroke="#e05536" stroke-width="1.9"/>
<path d="M162.20,316.55 L163.21,316.01 L164.23,315.75 L165.24,315.91 L166.26,316.40 L167.27,316.97 L168.29,317.32 L169.30,317.27 L170.32,316.84 L171.33,316.26 L172.35,315.83 L173.36,315.78 L174.38,316.13 L175.39,316.70 L176.41,317.19 L177.42,317.35 L178.44,317.09 L179.45,316.55 L180.46,316.01 L181.48,315.75 L182.49,315.91 L183.51,316.40 L184.52,316.97 L185.54,317.32 L186.55,317.27 L187.57,316.84 L188.58,316.26 L189.60,315.83 L190.61,315.78 L191.63,316.13 L192.64,316.70 L193.66,317.19 L194.67,317.35 L195.69,317.09 L196.70,316.55" fill="none" stroke="#e05536" stroke-width="1.9"/>
<path d="M162.20,320.70 L163.21,320.16 L164.23,319.90 L165.24,320.06 L166.26,320.55 L167.27,321.12 L168.29,321.47 L169.30,321.42 L170.32,320.99 L171.33,320.41 L172.35,319.98 L173.36,319.93 L174.38,320.28 L175.39,320.85 L176.41,321.34 L177.42,321.50 L178.44,321.24 L179.45,320.70 L180.46,320.16 L181.48,319.90 L182.49,320.06 L183.51,320.55 L184.52,321.12 L185.54,321.47 L186.55,321.42 L187.57,320.99 L188.58,320.41 L189.60,319.98 L190.61,319.93 L191.63,320.28 L192.64,320.85 L193.66,321.34 L194.67,321.50 L195.69,321.24 L196.70,320.70" fill="none" stroke="#e05536" stroke-width="1.9"/>
<g transform="translate(162.00,325.60) scale(0.900,0.975)"><path d="M5,16 C2.1,16 0,13.9 0,11 C0,9 0.5,7.3 1.2,5.8 C1.6,6.8 2,7.3 2.6,7.6 C2.6,4.8 3.2,2.2 4.4,0 C5,2.4 5.8,4.2 6.6,5.6 C7.2,4.8 7.9,4 8.6,2.8 C9.6,4.8 10,7.6 10,11 C10,13.9 7.9,16 5,16 Z" fill="#e05536"/><path d="M5.2,7.2 C6,8.8 7.4,9.8 7.4,12 C7.4,13.6 6.4,14.6 5,14.6 C3.6,14.6 2.6,13.6 2.6,12.2 C2.6,11 3.1,10.2 3.6,9.6 C3.8,10.2 4.1,10.6 4.4,10.7 C4.4,9.4 4.7,8.2 5.2,7.2 Z" fill="#ffffff" opacity="0.18"/></g>
<g transform="translate(174.40,325.60) scale(0.900,0.975)"><path d="M5,16 C2.1,16 0,13.9 0,11 C0,9 0.5,7.3 1.2,5.8 C1.6,6.8 2,7.3 2.6,7.6 C2.6,4.8 3.2,2.2 4.4,0 C5,2.4 5.8,4.2 6.6,5.6 C7.2,4.8 7.9,4 8.6,2.8 C9.6,4.8 10,7.6 10,11 C10,13.9 7.9,16 5,16 Z" fill="#e05536"/><path d="M5.2,7.2 C6,8.8 7.4,9.8 7.4,12 C7.4,13.6 6.4,14.6 5,14.6 C3.6,14.6 2.6,13.6 2.6,12.2 C2.6,11 3.1,10.2 3.6,9.6 C3.8,10.2 4.1,10.6 4.4,10.7 C4.4,9.4 4.7,8.2 5.2,7.2 Z" fill="#ffffff" opacity="0.18"/></g>
<g transform="translate(186.80,325.60) scale(0.900,0.975)"><path d="M5,16 C2.1,16 0,13.9 0,11 C0,9 0.5,7.3 1.2,5.8 C1.6,6.8 2,7.3 2.6,7.6 C2.6,4.8 3.2,2.2 4.4,0 C5,2.4 5.8,4.2 6.6,5.6 C7.2,4.8 7.9,4 8.6,2.8 C9.6,4.8 10,7.6 10,11 C10,13.9 7.9,16 5,16 Z" fill="#e05536"/><path d="M5.2,7.2 C6,8.8 7.4,9.8 7.4,12 C7.4,13.6 6.4,14.6 5,14.6 C3.6,14.6 2.6,13.6 2.6,12.2 C2.6,11 3.1,10.2 3.6,9.6 C3.8,10.2 4.1,10.6 4.4,10.7 C4.4,9.4 4.7,8.2 5.2,7.2 Z" fill="#ffffff" opacity="0.18"/></g>
<rect x="202.40" y="309.50" width="401.5" height="32.0" fill="#fafafa"/>
<rect x="202.40" y="309.50" width="40.15" height="32.0" fill="#f5917f"/>
<rect x="202.40" y="309.50" width="26.77" height="32.0" fill="#e05a3b"/>
<path d="M209.09,319.70V331.70M215.78,319.70V331.70M222.47,319.70V331.70M229.17,319.70V331.70M242.55,319.70V331.70M249.24,319.70V331.70M255.93,319.70V331.70M262.62,319.70V331.70M276.01,319.70V331.70M282.70,319.70V331.70M289.39,319.70V331.70M296.08,319.70V331.70M309.47,319.70V331.70M316.16,319.70V331.70M322.85,319.70V331.70M329.54,319.70V331.70M342.93,319.70V331.70M349.62,319.70V331.70M356.31,319.70V331.70M363.00,319.70V331.70M376.38,319.70V331.70M383.07,319.70V331.70M389.77,319.70V331.70M396.46,319.70V331.70M409.84,319.70V331.70M416.53,319.70V331.70M423.23,319.70V331.70M429.92,319.70V331.70M443.30,319.70V331.70M449.99,319.70V331.70M456.68,319.70V331.70M463.38,319.70V331.70M476.76,319.70V331.70M483.45,319.70V331.70M490.14,319.70V331.70M496.83,319.70V331.70M510.22,319.70V331.70M516.91,319.70V331.70M523.60,319.70V331.70M530.29,319.70V331.70M543.67,319.70V331.70M550.37,319.70V331.70M557.06,319.70V331.70M563.75,319.70V331.70M577.13,319.70V331.70M583.83,319.70V331.70M590.52,319.70V331.70M597.21,319.70V331.70" stroke="#000" stroke-width="0.85" opacity="0.24"/>
<path d="M235.86,309.50V341.50M302.77,309.50V341.50M369.69,309.50V341.50M436.61,309.50V341.50M503.52,309.50V341.50M570.44,309.50V341.50" stroke="#000" stroke-width="0.8" stroke-dasharray="1 1" opacity="0.26"/>
<path d="M269.32,309.50V341.50M336.23,309.50V341.50M403.15,309.50V341.50M470.07,309.50V341.50M536.98,309.50V341.50" stroke="#333" stroke-width="1"/>
<rect x="202.40" y="309.50" width="401.5" height="1.4" fill="#1e1e1e"/>
<rect x="202.40" y="339.80" width="401.5" height="1.9" fill="#1e1e1e"/>
<rect x="202.10" y="309.50" width="1.1" height="32.0" fill="#333"/>
<rect x="602.90" y="309.50" width="1.2" height="32.0" fill="#888"/>
<line x1="31.8" y1="345.20" x2="603.90" y2="345.20" stroke="#8c8c8c" stroke-width="1"/>
<line x1="31.8" y1="347.7" x2="603.9" y2="347.7" stroke="#b5b5b5" stroke-width="1" stroke-dasharray="1 2.3"/>
<text x="30.6" y="363.10" font-size="12.3" fill="#2e2e2e" stroke="#2e2e2e" stroke-width="0.32" textLength="30.45" lengthAdjust="spacingAndGlyphs">Hot Dog</text>
<text transform="translate(31.3,373.80) scale(0.72,1)" font-size="8.6" fill="#646464" stroke="#646464" stroke-width="0.15" letter-spacing="1.972">4 OUNCES</text>
<text transform="translate(31.1,383.50) scale(0.84,1)" font-size="7.6" font-weight="bold" fill="#e05536" letter-spacing="1.050">AVERAGE COOKING TIME: 6 MIN.</text>
<path d="M162.20,354.90 L163.21,354.36 L164.23,354.10 L165.24,354.26 L166.26,354.75 L167.27,355.32 L168.29,355.67 L169.30,355.62 L170.32,355.19 L171.33,354.61 L172.35,354.18 L173.36,354.13 L174.38,354.48 L175.39,355.05 L176.41,355.54 L177.42,355.70 L178.44,355.44 L179.45,354.90 L180.46,354.36 L181.48,354.10 L182.49,354.26 L183.51,354.75 L184.52,355.32 L185.54,355.67 L186.55,355.62 L187.57,355.19 L188.58,354.61 L189.60,354.18 L190.61,354.13 L191.63,354.48 L192.64,355.05 L193.66,355.54 L194.67,355.70 L195.69,355.44 L196.70,354.90" fill="none" stroke="#e05536" stroke-width="1.9"/>
<path d="M162.20,359.05 L163.21,358.51 L164.23,358.25 L165.24,358.41 L166.26,358.90 L167.27,359.47 L168.29,359.82 L169.30,359.77 L170.32,359.34 L171.33,358.76 L172.35,358.33 L173.36,358.28 L174.38,358.63 L175.39,359.20 L176.41,359.69 L177.42,359.85 L178.44,359.59 L179.45,359.05 L180.46,358.51 L181.48,358.25 L182.49,358.41 L183.51,358.90 L184.52,359.47 L185.54,359.82 L186.55,359.77 L187.57,359.34 L188.58,358.76 L189.60,358.33 L190.61,358.28 L191.63,358.63 L192.64,359.20 L193.66,359.69 L194.67,359.85 L195.69,359.59 L196.70,359.05" fill="none" stroke="#e05536" stroke-width="1.9"/>
<path d="M162.20,363.20 L163.21,362.66 L164.23,362.40 L165.24,362.56 L166.26,363.05 L167.27,363.62 L168.29,363.97 L169.30,363.92 L170.32,363.49 L171.33,362.91 L172.35,362.48 L173.36,362.43 L174.38,362.78 L175.39,363.35 L176.41,363.84 L177.42,364.00 L178.44,363.74 L179.45,363.20 L180.46,362.66 L181.48,362.40 L182.49,362.56 L183.51,363.05 L184.52,363.62 L185.54,363.97 L186.55,363.92 L187.57,363.49 L188.58,362.91 L189.60,362.48 L190.61,362.43 L191.63,362.78 L192.64,363.35 L193.66,363.84 L194.67,364.00 L195.69,363.74 L196.70,363.20" fill="none" stroke="#e05536" stroke-width="1.9"/>
<g transform="translate(162.00,368.10) scale(0.900,0.975)"><path d="M5,16 C2.1,16 0,13.9 0,11 C0,9 0.5,7.3 1.2,5.8 C1.6,6.8 2,7.3 2.6,7.6 C2.6,4.8 3.2,2.2 4.4,0 C5,2.4 5.8,4.2 6.6,5.6 C7.2,4.8 7.9,4 8.6,2.8 C9.6,4.8 10,7.6 10,11 C10,13.9 7.9,16 5,16 Z" fill="#e05536"/><path d="M5.2,7.2 C6,8.8 7.4,9.8 7.4,12 C7.4,13.6 6.4,14.6 5,14.6 C3.6,14.6 2.6,13.6 2.6,12.2 C2.6,11 3.1,10.2 3.6,9.6 C3.8,10.2 4.1,10.6 4.4,10.7 C4.4,9.4 4.7,8.2 5.2,7.2 Z" fill="#ffffff" opacity="0.18"/></g>
<g transform="translate(174.40,368.10) scale(0.900,0.975)"><path d="M5,16 C2.1,16 0,13.9 0,11 C0,9 0.5,7.3 1.2,5.8 C1.6,6.8 2,7.3 2.6,7.6 C2.6,4.8 3.2,2.2 4.4,0 C5,2.4 5.8,4.2 6.6,5.6 C7.2,4.8 7.9,4 8.6,2.8 C9.6,4.8 10,7.6 10,11 C10,13.9 7.9,16 5,16 Z" fill="#e05536"/><path d="M5.2,7.2 C6,8.8 7.4,9.8 7.4,12 C7.4,13.6 6.4,14.6 5,14.6 C3.6,14.6 2.6,13.6 2.6,12.2 C2.6,11 3.1,10.2 3.6,9.6 C3.8,10.2 4.1,10.6 4.4,10.7 C4.4,9.4 4.7,8.2 5.2,7.2 Z" fill="#ffffff" opacity="0.18"/></g>
<rect x="202.40" y="352.00" width="401.5" height="32.0" fill="#fafafa"/>
<rect x="202.40" y="352.00" width="46.84" height="32.0" fill="#f5917f"/>
<rect x="202.40" y="352.00" width="33.46" height="32.0" fill="#e05a3b"/>
<path d="M209.09,362.20V374.20M215.78,362.20V374.20M222.47,362.20V374.20M229.17,362.20V374.20M242.55,362.20V374.20M249.24,362.20V374.20M255.93,362.20V374.20M262.62,362.20V374.20M276.01,362.20V374.20M282.70,362.20V374.20M289.39,362.20V374.20M296.08,362.20V374.20M309.47,362.20V374.20M316.16,362.20V374.20M322.85,362.20V374.20M329.54,362.20V374.20M342.93,362.20V374.20M349.62,362.20V374.20M356.31,362.20V374.20M363.00,362.20V374.20M376.38,362.20V374.20M383.07,362.20V374.20M389.77,362.20V374.20M396.46,362.20V374.20M409.84,362.20V374.20M416.53,362.20V374.20M423.23,362.20V374.20M429.92,362.20V374.20M443.30,362.20V374.20M449.99,362.20V374.20M456.68,362.20V374.20M463.38,362.20V374.20M476.76,362.20V374.20M483.45,362.20V374.20M490.14,362.20V374.20M496.83,362.20V374.20M510.22,362.20V374.20M516.91,362.20V374.20M523.60,362.20V374.20M530.29,362.20V374.20M543.67,362.20V374.20M550.37,362.20V374.20M557.06,362.20V374.20M563.75,362.20V374.20M577.13,362.20V374.20M583.83,362.20V374.20M590.52,362.20V374.20M597.21,362.20V374.20" stroke="#000" stroke-width="0.85" opacity="0.24"/>
<path d="M235.86,352.00V384.00M302.77,352.00V384.00M369.69,352.00V384.00M436.61,352.00V384.00M503.52,352.00V384.00M570.44,352.00V384.00" stroke="#000" stroke-width="0.8" stroke-dasharray="1 1" opacity="0.26"/>
<path d="M269.32,352.00V384.00M336.23,352.00V384.00M403.15,352.00V384.00M470.07,352.00V384.00M536.98,352.00V384.00" stroke="#333" stroke-width="1"/>
<rect x="202.40" y="352.00" width="401.5" height="1.4" fill="#1e1e1e"/>
<rect x="202.40" y="382.30" width="401.5" height="1.9" fill="#1e1e1e"/>
<rect x="202.10" y="352.00" width="1.1" height="32.0" fill="#333"/>
<rect x="602.90" y="352.00" width="1.2" height="32.0" fill="#888"/>
<line x1="31.8" y1="387.70" x2="603.90" y2="387.70" stroke="#8c8c8c" stroke-width="1"/>
<line x1="31.8" y1="390.2" x2="603.9" y2="390.2" stroke="#b5b5b5" stroke-width="1" stroke-dasharray="1 2.3"/>
<text x="30.6" y="406.10" font-size="12.3" fill="#2e2e2e" stroke="#2e2e2e" stroke-width="0.32" textLength="79.34" lengthAdjust="spacingAndGlyphs">Filet Mignon, Medium</text>
<text transform="translate(31.3,416.80) scale(0.72,1)" font-size="8.6" fill="#646464" stroke="#646464" stroke-width="0.15" letter-spacing="1.972">1-INCH THICK</text>
<text transform="translate(31.1,426.50) scale(0.84,1)" font-size="7.6" font-weight="bold" fill="#e05536" letter-spacing="1.050">AVERAGE COOKING TIME: 7 MIN.</text>
<path d="M162.20,397.90 L163.21,397.36 L164.23,397.10 L165.24,397.26 L166.26,397.75 L167.27,398.32 L168.29,398.67 L169.30,398.62 L170.32,398.19 L171.33,397.61 L172.35,397.18 L173.36,397.13 L174.38,397.48 L175.39,398.05 L176.41,398.54 L177.42,398.70 L178.44,398.44 L179.45,397.90 L180.46,397.36 L181.48,397.10 L182.49,397.26 L183.51,397.75 L184.52,398.32 L185.54,398.67 L186.55,398.62 L187.57,398.19 L188.58,397.61 L189.60,397.18 L190.61,397.13 L191.63,397.48 L192.64,398.05 L193.66,398.54 L194.67,398.70 L195.69,398.44 L196.70,397.90" fill="none" stroke="#e05536" stroke-width="1.9"/>
<path d="M162.20,402.05 L163.21,401.51 L164.23,401.25 L165.24,401.41 L166.26,401.90 L167.27,402.47 L168.29,402.82 L169.30,402.77 L170.32,402.34 L171.33,401.76 L172.35,401.33 L173.36,401.28 L174.38,401.63 L175.39,402.20 L176.41,402.69 L177.42,402.85 L178.44,402.59 L179.45,402.05 L180.46,401.51 L181.48,401.25 L182.49,401.41 L183.51,401.90 L184.52,402.47 L185.54,402.82 L186.55,402.77 L187.57,402.34 L188.58,401.76 L189.60,401.33 L190.61,401.28 L191.63,401.63 L192.64,402.20 L193.66,402.69 L194.67,402.85 L195.69,402.59 L196.70,402.05" fill="none" stroke="#e05536" stroke-width="1.9"/>
<path d="M162.20,406.20 L163.21,405.66 L164.23,405.40 L165.24,405.56 L166.26,406.05 L167.27,406.62 L168.29,406.97 L169.30,406.92 L170.32,406.49 L171.33,405.91 L172.35,405.48 L173.36,405.43 L174.38,405.78 L175.39,406.35 L176.41,406.84 L177.42,407.00 L178.44,406.74 L179.45,406.20 L180.46,405.66 L181.48,405.40 L182.49,405.56 L183.51,406.05 L184.52,406.62 L185.54,406.97 L186.55,406.92 L187.57,406.49 L188.58,405.91 L189.60,405.48 L190.61,405.43 L191.63,405.78 L192.64,406.35 L193.66,406.84 L194.67,407.00 L195.69,406.74 L196.70,406.20" fill="none" stroke="#e05536" stroke-width="1.9"/>
<g transform="translate(162.00,411.10) scale(0.900,0.975)"><path d="M5,16 C2.1,16 0,13.9 0,11 C0,9 0.5,7.3 1.2,5.8 C1.6,6.8 2,7.3 2.6,7.6 C2.6,4.8 3.2,2.2 4.4,0 C5,2.4 5.8,4.2 6.6,5.6 C7.2,4.8 7.9,4 8.6,2.8 C9.6,4.8 10,7.6 10,11 C10,13.9 7.9,16 5,16 Z" fill="#e05536"/><path d="M5.2,7.2 C6,8.8 7.4,9.8 7.4,12 C7.4,13.6 6.4,14.6 5,14.6 C3.6,14.6 2.6,13.6 2.6,12.2 C2.6,11 3.1,10.2 3.6,9.6 C3.8,10.2 4.1,10.6 4.4,10.7 C4.4,9.4 4.7,8.2 5.2,7.2 Z" fill="#ffffff" opacity="0.18"/></g>
<g transform="translate(174.40,411.10) scale(0.900,0.975)"><path d="M5,16 C2.1,16 0,13.9 0,11 C0,9 0.5,7.3 1.2,5.8 C1.6,6.8 2,7.3 2.6,7.6 C2.6,4.8 3.2,2.2 4.4,0 C5,2.4 5.8,4.2 6.6,5.6 C7.2,4.8 7.9,4 8.6,2.8 C9.6,4.8 10,7.6 10,11 C10,13.9 7.9,16 5,16 Z" fill="#e05536"/><path d="M5.2,7.2 C6,8.8 7.4,9.8 7.4,12 C7.4,13.6 6.4,14.6 5,14.6 C3.6,14.6 2.6,13.6 2.6,12.2 C2.6,11 3.1,10.2 3.6,9.6 C3.8,10.2 4.1,10.6 4.4,10.7 C4.4,9.4 4.7,8.2 5.2,7.2 Z" fill="#ffffff" opacity="0.18"/></g>
<g transform="translate(186.80,411.10) scale(0.900,0.975)"><path d="M5,16 C2.1,16 0,13.9 0,11 C0,9 0.5,7.3 1.2,5.8 C1.6,6.8 2,7.3 2.6,7.6 C2.6,4.8 3.2,2.2 4.4,0 C5,2.4 5.8,4.2 6.6,5.6 C7.2,4.8 7.9,4 8.6,2.8 C9.6,4.8 10,7.6 10,11 C10,13.9 7.9,16 5,16 Z" fill="#e05536"/><path d="M5.2,7.2 C6,8.8 7.4,9.8 7.4,12 C7.4,13.6 6.4,14.6 5,14.6 C3.6,14.6 2.6,13.6 2.6,12.2 C2.6,11 3.1,10.2 3.6,9.6 C3.8,10.2 4.1,10.6 4.4,10.7 C4.4,9.4 4.7,8.2 5.2,7.2 Z" fill="#ffffff" opacity="0.18"/></g>
<rect x="202.40" y="395.00" width="401.5" height="32.0" fill="#fafafa"/>
<rect x="202.40" y="395.00" width="53.53" height="32.0" fill="#f5917f"/>
<rect x="202.40" y="395.00" width="40.15" height="32.0" fill="#e05a3b"/>
<path d="M209.09,405.20V417.20M215.78,405.20V417.20M222.47,405.20V417.20M229.17,405.20V417.20M242.55,405.20V417.20M249.24,405.20V417.20M255.93,405.20V417.20M262.62,405.20V417.20M276.01,405.20V417.20M282.70,405.20V417.20M289.39,405.20V417.20M296.08,405.20V417.20M309.47,405.20V417.20M316.16,405.20V417.20M322.85,405.20V417.20M329.54,405.20V417.20M342.93,405.20V417.20M349.62,405.20V417.20M356.31,405.20V417.20M363.00,405.20V417.20M376.38,405.20V417.20M383.07,405.20V417.20M389.77,405.20V417.20M396.46,405.20V417.20M409.84,405.20V417.20M416.53,405.20V417.20M423.23,405.20V417.20M429.92,405.20V417.20M443.30,405.20V417.20M449.99,405.20V417.20M456.68,405.20V417.20M463.38,405.20V417.20M476.76,405.20V417.20M483.45,405.20V417.20M490.14,405.20V417.20M496.83,405.20V417.20M510.22,405.20V417.20M516.91,405.20V417.20M523.60,405.20V417.20M530.29,405.20V417.20M543.67,405.20V417.20M550.37,405.20V417.20M557.06,405.20V417.20M563.75,405.20V417.20M577.13,405.20V417.20M583.83,405.20V417.20M590.52,405.20V417.20M597.21,405.20V417.20" stroke="#000" stroke-width="0.85" opacity="0.24"/>
<path d="M235.86,395.00V427.00M302.77,395.00V427.00M369.69,395.00V427.00M436.61,395.00V427.00M503.52,395.00V427.00M570.44,395.00V427.00" stroke="#000" stroke-width="0.8" stroke-dasharray="1 1" opacity="0.26"/>
<path d="M269.32,395.00V427.00M336.23,395.00V427.00M403.15,395.00V427.00M470.07,395.00V427.00M536.98,395.00V427.00" stroke="#333" stroke-width="1"/>
<rect x="202.40" y="395.00" width="401.5" height="1.4" fill="#1e1e1e"/>
<rect x="202.40" y="425.30" width="401.5" height="1.9" fill="#1e1e1e"/>
<rect x="202.10" y="395.00" width="1.1" height="32.0" fill="#333"/>
<rect x="602.90" y="395.00" width="1.2" height="32.0" fill="#888"/>
<line x1="31.8" y1="430.70" x2="603.90" y2="430.70" stroke="#8c8c8c" stroke-width="1"/>
<line x1="31.8" y1="433.2" x2="603.9" y2="433.2" stroke="#b5b5b5" stroke-width="1" stroke-dasharray="1 2.3"/>
<text x="30.6" y="449.30" font-size="12.3" fill="#2e2e2e" stroke="#2e2e2e" stroke-width="0.32" textLength="112.09" lengthAdjust="spacingAndGlyphs">New York Strip Steak, Medium</text>
<text transform="translate(31.3,460.00) scale(0.72,1)" font-size="8.6" fill="#646464" stroke="#646464" stroke-width="0.15" letter-spacing="1.972">1-INCH THICK</text>
<text transform="translate(31.1,469.70) scale(0.84,1)" font-size="7.6" font-weight="bold" fill="#e05536" letter-spacing="1.050">AVERAGE COOKING TIME: 7 MIN.</text>
<path d="M162.20,441.10 L163.21,440.56 L164.23,440.30 L165.24,440.46 L166.26,440.95 L167.27,441.52 L168.29,441.87 L169.30,441.82 L170.32,441.39 L171.33,440.81 L172.35,440.38 L173.36,440.33 L174.38,440.68 L175.39,441.25 L176.41,441.74 L177.42,441.90 L178.44,441.64 L179.45,441.10 L180.46,440.56 L181.48,440.30 L182.49,440.46 L183.51,440.95 L184.52,441.52 L185.54,441.87 L186.55,441.82 L187.57,441.39 L188.58,440.81 L189.60,440.38 L190.61,440.33 L191.63,440.68 L192.64,441.25 L193.66,441.74 L194.67,441.90 L195.69,441.64 L196.70,441.10" fill="none" stroke="#e05536" stroke-width="1.9"/>
<path d="M162.20,445.25 L163.21,444.71 L164.23,444.45 L165.24,444.61 L166.26,445.10 L167.27,445.67 L168.29,446.02 L169.30,445.97 L170.32,445.54 L171.33,444.96 L172.35,444.53 L173.36,444.48 L174.38,444.83 L175.39,445.40 L176.41,445.89 L177.42,446.05 L178.44,445.79 L179.45,445.25 L180.46,444.71 L181.48,444.45 L182.49,444.61 L183.51,445.10 L184.52,445.67 L185.54,446.02 L186.55,445.97 L187.57,445.54 L188.58,444.96 L189.60,444.53 L190.61,444.48 L191.63,444.83 L192.64,445.40 L193.66,445.89 L194.67,446.05 L195.69,445.79 L196.70,445.25" fill="none" stroke="#e05536" stroke-width="1.9"/>
<path d="M162.20,449.40 L163.21,448.86 L164.23,448.60 L165.24,448.76 L166.26,449.25 L167.27,449.82 L168.29,450.17 L169.30,450.12 L170.32,449.69 L171.33,449.11 L172.35,448.68 L173.36,448.63 L174.38,448.98 L175.39,449.55 L176.41,450.04 L177.42,450.20 L178.44,449.94 L179.45,449.40 L180.46,448.86 L181.48,448.60 L182.49,448.76 L183.51,449.25 L184.52,449.82 L185.54,450.17 L186.55,450.12 L187.57,449.69 L188.58,449.11 L189.60,448.68 L190.61,448.63 L191.63,448.98 L192.64,449.55 L193.66,450.04 L194.67,450.20 L195.69,449.94 L196.70,449.40" fill="none" stroke="#e05536" stroke-width="1.9"/>
<g transform="translate(162.00,454.30) scale(0.900,0.975)"><path d="M5,16 C2.1,16 0,13.9 0,11 C0,9 0.5,7.3 1.2,5.8 C1.6,6.8 2,7.3 2.6,7.6 C2.6,4.8 3.2,2.2 4.4,0 C5,2.4 5.8,4.2 6.6,5.6 C7.2,4.8 7.9,4 8.6,2.8 C9.6,4.8 10,7.6 10,11 C10,13.9 7.9,16 5,16 Z" fill="#e05536"/><path d="M5.2,7.2 C6,8.8 7.4,9.8 7.4,12 C7.4,13.6 6.4,14.6 5,14.6 C3.6,14.6 2.6,13.6 2.6,12.2 C2.6,11 3.1,10.2 3.6,9.6 C3.8,10.2 4.1,10.6 4.4,10.7 C4.4,9.4 4.7,8.2 5.2,7.2 Z" fill="#ffffff" opacity="0.18"/></g>
<g transform="translate(174.40,454.30) scale(0.900,0.975)"><path d="M5,16 C2.1,16 0,13.9 0,11 C0,9 0.5,7.3 1.2,5.8 C1.6,6.8 2,7.3 2.6,7.6 C2.6,4.8 3.2,2.2 4.4,0 C5,2.4 5.8,4.2 6.6,5.6 C7.2,4.8 7.9,4 8.6,2.8 C9.6,4.8 10,7.6 10,11 C10,13.9 7.9,16 5,16 Z" fill="#e05536"/><path d="M5.2,7.2 C6,8.8 7.4,9.8 7.4,12 C7.4,13.6 6.4,14.6 5,14.6 C3.6,14.6 2.6,13.6 2.6,12.2 C2.6,11 3.1,10.2 3.6,9.6 C3.8,10.2 4.1,10.6 4.4,10.7 C4.4,9.4 4.7,8.2 5.2,7.2 Z" fill="#ffffff" opacity="0.18"/></g>
<g transform="translate(186.80,454.30) scale(0.900,0.975)"><path d="M5,16 C2.1,16 0,13.9 0,11 C0,9 0.5,7.3 1.2,5.8 C1.6,6.8 2,7.3 2.6,7.6 C2.6,4.8 3.2,2.2 4.4,0 C5,2.4 5.8,4.2 6.6,5.6 C7.2,4.8 7.9,4 8.6,2.8 C9.6,4.8 10,7.6 10,11 C10,13.9 7.9,16 5,16 Z" fill="#e05536"/><path d="M5.2,7.2 C6,8.8 7.4,9.8 7.4,12 C7.4,13.6 6.4,14.6 5,14.6 C3.6,14.6 2.6,13.6 2.6,12.2 C2.6,11 3.1,10.2 3.6,9.6 C3.8,10.2 4.1,10.6 4.4,10.7 C4.4,9.4 4.7,8.2 5.2,7.2 Z" fill="#ffffff" opacity="0.18"/></g>
<rect x="202.40" y="438.20" width="401.5" height="32.0" fill="#fafafa"/>
<rect x="202.40" y="438.20" width="53.53" height="32.0" fill="#f5917f"/>
<rect x="202.40" y="438.20" width="40.15" height="32.0" fill="#e05a3b"/>
<path d="M209.09,448.40V460.40M215.78,448.40V460.40M222.47,448.40V460.40M229.17,448.40V460.40M242.55,448.40V460.40M249.24,448.40V460.40M255.93,448.40V460.40M262.62,448.40V460.40M276.01,448.40V460.40M282.70,448.40V460.40M289.39,448.40V460.40M296.08,448.40V460.40M309.47,448.40V460.40M316.16,448.40V460.40M322.85,448.40V460.40M329.54,448.40V460.40M342.93,448.40V460.40M349.62,448.40V460.40M356.31,448.40V460.40M363.00,448.40V460.40M376.38,448.40V460.40M383.07,448.40V460.40M389.77,448.40V460.40M396.46,448.40V460.40M409.84,448.40V460.40M416.53,448.40V460.40M423.23,448.40V460.40M429.92,448.40V460.40M443.30,448.40V460.40M449.99,448.40V460.40M456.68,448.40V460.40M463.38,448.40V460.40M476.76,448.40V460.40M483.45,448.40V460.40M490.14,448.40V460.40M496.83,448.40V460.40M510.22,448.40V460.40M516.91,448.40V460.40M523.60,448.40V460.40M530.29,448.40V460.40M543.67,448.40V460.40M550.37,448.40V460.40M557.06,448.40V460.40M563.75,448.40V460.40M577.13,448.40V460.40M583.83,448.40V460.40M590.52,448.40V460.40M597.21,448.40V460.40" stroke="#000" stroke-width="0.85" opacity="0.24"/>
<path d="M235.86,438.20V470.20M302.77,438.20V470.20M369.69,438.20V470.20M436.61,438.20V470.20M503.52,438.20V470.20M570.44,438.20V470.20" stroke="#000" stroke-width="0.8" stroke-dasharray="1 1" opacity="0.26"/>
<path d="M269.32,438.20V470.20M336.23,438.20V470.20M403.15,438.20V470.20M470.07,438.20V470.20M536.98,438.20V470.20" stroke="#333" stroke-width="1"/>
<rect x="202.40" y="438.20" width="401.5" height="1.4" fill="#1e1e1e"/>
<rect x="202.40" y="468.50" width="401.5" height="1.9" fill="#1e1e1e"/>
<rect x="202.10" y="438.20" width="1.1" height="32.0" fill="#333"/>
<rect x="602.90" y="438.20" width="1.2" height="32.0" fill="#888"/>
<line x1="31.8" y1="473.90" x2="603.90" y2="473.90" stroke="#8c8c8c" stroke-width="1"/>
<line x1="31.8" y1="476.4" x2="603.9" y2="476.4" stroke="#b5b5b5" stroke-width="1" stroke-dasharray="1 2.3"/>
<text x="30.6" y="492.10" font-size="12.3" fill="#2e2e2e" stroke="#2e2e2e" stroke-width="0.32" textLength="102.87" lengthAdjust="spacingAndGlyphs">Porterhouse Steak, Medium</text>
<text transform="translate(31.3,502.80) scale(0.72,1)" font-size="8.6" fill="#646464" stroke="#646464" stroke-width="0.15" letter-spacing="1.972">1-INCH THICK</text>
<text transform="translate(31.1,512.50) scale(0.84,1)" font-size="7.6" font-weight="bold" fill="#e05536" letter-spacing="1.050">AVERAGE COOKING TIME: 7 MIN.</text>
<path d="M162.20,483.90 L163.21,483.36 L164.23,483.10 L165.24,483.26 L166.26,483.75 L167.27,484.32 L168.29,484.67 L169.30,484.62 L170.32,484.19 L171.33,483.61 L172.35,483.18 L173.36,483.13 L174.38,483.48 L175.39,484.05 L176.41,484.54 L177.42,484.70 L178.44,484.44 L179.45,483.90 L180.46,483.36 L181.48,483.10 L182.49,483.26 L183.51,483.75 L184.52,484.32 L185.54,484.67 L186.55,484.62 L187.57,484.19 L188.58,483.61 L189.60,483.18 L190.61,483.13 L191.63,483.48 L192.64,484.05 L193.66,484.54 L194.67,484.70 L195.69,484.44 L196.70,483.90" fill="none" stroke="#e05536" stroke-width="1.9"/>
<path d="M162.20,488.05 L163.21,487.51 L164.23,487.25 L165.24,487.41 L166.26,487.90 L167.27,488.47 L168.29,488.82 L169.30,488.77 L170.32,488.34 L171.33,487.76 L172.35,487.33 L173.36,487.28 L174.38,487.63 L175.39,488.20 L176.41,488.69 L177.42,488.85 L178.44,488.59 L179.45,488.05 L180.46,487.51 L181.48,487.25 L182.49,487.41 L183.51,487.90 L184.52,488.47 L185.54,488.82 L186.55,488.77 L187.57,488.34 L188.58,487.76 L189.60,487.33 L190.61,487.28 L191.63,487.63 L192.64,488.20 L193.66,488.69 L194.67,488.85 L195.69,488.59 L196.70,488.05" fill="none" stroke="#e05536" stroke-width="1.9"/>
<path d="M162.20,492.20 L163.21,491.66 L164.23,491.40 L165.24,491.56 L166.26,492.05 L167.27,492.62 L168.29,492.97 L169.30,492.92 L170.32,492.49 L171.33,491.91 L172.35,491.48 L173.36,491.43 L174.38,491.78 L175.39,492.35 L176.41,492.84 L177.42,493.00 L178.44,492.74 L179.45,492.20 L180.46,491.66 L181.48,491.40 L182.49,491.56 L183.51,492.05 L184.52,492.62 L185.54,492.97 L186.55,492.92 L187.57,492.49 L188.58,491.91 L189.60,491.48 L190.61,491.43 L191.63,491.78 L192.64,492.35 L193.66,492.84 L194.67,493.00 L195.69,492.74 L196.70,492.20" fill="none" stroke="#e05536" stroke-width="1.9"/>
<g transform="translate(162.00,497.10) scale(0.900,0.975)"><path d="M5,16 C2.1,16 0,13.9 0,11 C0,9 0.5,7.3 1.2,5.8 C1.6,6.8 2,7.3 2.6,7.6 C2.6,4.8 3.2,2.2 4.4,0 C5,2.4 5.8,4.2 6.6,5.6 C7.2,4.8 7.9,4 8.6,2.8 C9.6,4.8 10,7.6 10,11 C10,13.9 7.9,16 5,16 Z" fill="#e05536"/><path d="M5.2,7.2 C6,8.8 7.4,9.8 7.4,12 C7.4,13.6 6.4,14.6 5,14.6 C3.6,14.6 2.6,13.6 2.6,12.2 C2.6,11 3.1,10.2 3.6,9.6 C3.8,10.2 4.1,10.6 4.4,10.7 C4.4,9.4 4.7,8.2 5.2,7.2 Z" fill="#ffffff" opacity="0.18"/></g>
<g transform="translate(174.40,497.10) scale(0.900,0.975)"><path d="M5,16 C2.1,16 0,13.9 0,11 C0,9 0.5,7.3 1.2,5.8 C1.6,6.8 2,7.3 2.6,7.6 C2.6,4.8 3.2,2.2 4.4,0 C5,2.4 5.8,4.2 6.6,5.6 C7.2,4.8 7.9,4 8.6,2.8 C9.6,4.8 10,7.6 10,11 C10,13.9 7.9,16 5,16 Z" fill="#e05536"/><path d="M5.2,7.2 C6,8.8 7.4,9.8 7.4,12 C7.4,13.6 6.4,14.6 5,14.6 C3.6,14.6 2.6,13.6 2.6,12.2 C2.6,11 3.1,10.2 3.6,9.6 C3.8,10.2 4.1,10.6 4.4,10.7 C4.4,9.4 4.7,8.2 5.2,7.2 Z" fill="#ffffff" opacity="0.18"/></g>
<g transform="translate(186.80,497.10) scale(0.900,0.975)"><path d="M5,16 C2.1,16 0,13.9 0,11 C0,9 0.5,7.3 1.2,5.8 C1.6,6.8 2,7.3 2.6,7.6 C2.6,4.8 3.2,2.2 4.4,0 C5,2.4 5.8,4.2 6.6,5.6 C7.2,4.8 7.9,4 8.6,2.8 C9.6,4.8 10,7.6 10,11 C10,13.9 7.9,16 5,16 Z" fill="#e05536"/><path d="M5.2,7.2 C6,8.8 7.4,9.8 7.4,12 C7.4,13.6 6.4,14.6 5,14.6 C3.6,14.6 2.6,13.6 2.6,12.2 C2.6,11 3.1,10.2 3.6,9.6 C3.8,10.2 4.1,10.6 4.4,10.7 C4.4,9.4 4.7,8.2 5.2,7.2 Z" fill="#ffffff" opacity="0.18"/></g>
<rect x="202.40" y="481.00" width="401.5" height="32.0" fill="#fafafa"/>
<rect x="202.40" y="481.00" width="53.53" height="32.0" fill="#f5917f"/>
<rect x="202.40" y="481.00" width="40.15" height="32.0" fill="#e05a3b"/>
<path d="M209.09,491.20V503.20M215.78,491.20V503.20M222.47,491.20V503.20M229.17,491.20V503.20M242.55,491.20V503.20M249.24,491.20V503.20M255.93,491.20V503.20M262.62,491.20V503.20M276.01,491.20V503.20M282.70,491.20V503.20M289.39,491.20V503.20M296.08,491.20V503.20M309.47,491.20V503.20M316.16,491.20V503.20M322.85,491.20V503.20M329.54,491.20V503.20M342.93,491.20V503.20M349.62,491.20V503.20M356.31,491.20V503.20M363.00,491.20V503.20M376.38,491.20V503.20M383.07,491.20V503.20M389.77,491.20V503.20M396.46,491.20V503.20M409.84,491.20V503.20M416.53,491.20V503.20M423.23,491.20V503.20M429.92,491.20V503.20M443.30,491.20V503.20M449.99,491.20V503.20M456.68,491.20V503.20M463.38,491.20V503.20M476.76,491.20V503.20M483.45,491.20V503.20M490.14,491.20V503.20M496.83,491.20V503.20M510.22,491.20V503.20M516.91,491.20V503.20M523.60,491.20V503.20M530.29,491.20V503.20M543.67,491.20V503.20M550.37,491.20V503.20M557.06,491.20V503.20M563.75,491.20V503.20M577.13,491.20V503.20M583.83,491.20V503.20M590.52,491.20V503.20M597.21,491.20V503.20" stroke="#000" stroke-width="0.85" opacity="0.24"/>
<path d="M235.86,481.00V513.00M302.77,481.00V513.00M369.69,481.00V513.00M436.61,481.00V513.00M503.52,481.00V513.00M570.44,481.00V513.00" stroke="#000" stroke-width="0.8" stroke-dasharray="1 1" opacity="0.26"/>
<path d="M269.32,481.00V513.00M336.23,481.00V513.00M403.15,481.00V513.00M470.07,481.00V513.00M536.98,481.00V513.00" stroke="#333" stroke-width="1"/>
<rect x="202.40" y="481.00" width="401.5" height="1.4" fill="#1e1e1e"/>
<rect x="202.40" y="511.30" width="401.5" height="1.9" fill="#1e1e1e"/>
<rect x="202.10" y="481.00" width="1.1" height="32.0" fill="#333"/>
<rect x="602.90" y="481.00" width="1.2" height="32.0" fill="#888"/>
<line x1="31.8" y1="516.70" x2="603.90" y2="516.70" stroke="#8c8c8c" stroke-width="1"/>
<line x1="31.8" y1="519.2" x2="603.9" y2="519.2" stroke="#b5b5b5" stroke-width="1" stroke-dasharray="1 2.3"/>
<text x="30.6" y="535.20" font-size="12.3" fill="#2e2e2e" stroke="#2e2e2e" stroke-width="0.32" textLength="83.49" lengthAdjust="spacingAndGlyphs">Ribeye Steak, Medium</text>
<text transform="translate(31.3,545.90) scale(0.72,1)" font-size="8.6" fill="#646464" stroke="#646464" stroke-width="0.15" letter-spacing="1.972">1-INCH THICK</text>
<text transform="translate(31.1,555.60) scale(0.84,1)" font-size="7.6" font-weight="bold" fill="#e05536" letter-spacing="1.050">AVERAGE COOKING TIME: 7 MIN.</text>
<path d="M162.20,527.00 L163.21,526.46 L164.23,526.20 L165.24,526.36 L166.26,526.85 L167.27,527.42 L168.29,527.77 L169.30,527.72 L170.32,527.29 L171.33,526.71 L172.35,526.28 L173.36,526.23 L174.38,526.58 L175.39,527.15 L176.41,527.64 L177.42,527.80 L178.44,527.54 L179.45,527.00 L180.46,526.46 L181.48,526.20 L182.49,526.36 L183.51,526.85 L184.52,527.42 L185.54,527.77 L186.55,527.72 L187.57,527.29 L188.58,526.71 L189.60,526.28 L190.61,526.23 L191.63,526.58 L192.64,527.15 L193.66,527.64 L194.67,527.80 L195.69,527.54 L196.70,527.00" fill="none" stroke="#e05536" stroke-width="1.9"/>
<path d="M162.20,531.15 L163.21,530.61 L164.23,530.35 L165.24,530.51 L166.26,531.00 L167.27,531.57 L168.29,531.92 L169.30,531.87 L170.32,531.44 L171.33,530.86 L172.35,530.43 L173.36,530.38 L174.38,530.73 L175.39,531.30 L176.41,531.79 L177.42,531.95 L178.44,531.69 L179.45,531.15 L180.46,530.61 L181.48,530.35 L182.49,530.51 L183.51,531.00 L184.52,531.57 L185.54,531.92 L186.55,531.87 L187.57,531.44 L188.58,530.86 L189.60,530.43 L190.61,530.38 L191.63,530.73 L192.64,531.30 L193.66,531.79 L194.67,531.95 L195.69,531.69 L196.70,531.15" fill="none" stroke="#e05536" stroke-width="1.9"/>
<path d="M162.20,535.30 L163.21,534.76 L164.23,534.50 L165.24,534.66 L166.26,535.15 L167.27,535.72 L168.29,536.07 L169.30,536.02 L170.32,535.59 L171.33,535.01 L172.35,534.58 L173.36,534.53 L174.38,534.88 L175.39,535.45 L176.41,535.94 L177.42,536.10 L178.44,535.84 L179.45,535.30 L180.46,534.76 L181.48,534.50 L182.49,534.66 L183.51,535.15 L184.52,535.72 L185.54,536.07 L186.55,536.02 L187.57,535.59 L188.58,535.01 L189.60,534.58 L190.61,534.53 L191.63,534.88 L192.64,535.45 L193.66,535.94 L194.67,536.10 L195.69,535.84 L196.70,535.30" fill="none" stroke="#e05536" stroke-width="1.9"/>
<g transform="translate(162.00,540.20) scale(0.900,0.975)"><path d="M5,16 C2.1,16 0,13.9 0,11 C0,9 0.5,7.3 1.2,5.8 C1.6,6.8 2,7.3 2.6,7.6 C2.6,4.8 3.2,2.2 4.4,0 C5,2.4 5.8,4.2 6.6,5.6 C7.2,4.8 7.9,4 8.6,2.8 C9.6,4.8 10,7.6 10,11 C10,13.9 7.9,16 5,16 Z" fill="#e05536"/><path d="M5.2,7.2 C6,8.8 7.4,9.8 7.4,12 C7.4,13.6 6.4,14.6 5,14.6 C3.6,14.6 2.6,13.6 2.6,12.2 C2.6,11 3.1,10.2 3.6,9.6 C3.8,10.2 4.1,10.6 4.4,10.7 C4.4,9.4 4.7,8.2 5.2,7.2 Z" fill="#ffffff" opacity="0.18"/></g>
<g transform="translate(174.40,540.20) scale(0.900,0.975)"><path d="M5,16 C2.1,16 0,13.9 0,11 C0,9 0.5,7.3 1.2,5.8 C1.6,6.8 2,7.3 2.6,7.6 C2.6,4.8 3.2,2.2 4.4,0 C5,2.4 5.8,4.2 6.6,5.6 C7.2,4.8 7.9,4 8.6,2.8 C9.6,4.8 10,7.6 10,11 C10,13.9 7.9,16 5,16 Z" fill="#e05536"/><path d="M5.2,7.2 C6,8.8 7.4,9.8 7.4,12 C7.4,13.6 6.4,14.6 5,14.6 C3.6,14.6 2.6,13.6 2.6,12.2 C2.6,11 3.1,10.2 3.6,9.6 C3.8,10.2 4.1,10.6 4.4,10.7 C4.4,9.4 4.7,8.2 5.2,7.2 Z" fill="#ffffff" opacity="0.18"/></g>
<g transform="translate(186.80,540.20) scale(0.900,0.975)"><path d="M5,16 C2.1,16 0,13.9 0,11 C0,9 0.5,7.3 1.2,5.8 C1.6,6.8 2,7.3 2.6,7.6 C2.6,4.8 3.2,2.2 4.4,0 C5,2.4 5.8,4.2 6.6,5.6 C7.2,4.8 7.9,4 8.6,2.8 C9.6,4.8 10,7.6 10,11 C10,13.9 7.9,16 5,16 Z" fill="#e05536"/><path d="M5.2,7.2 C6,8.8 7.4,9.8 7.4,12 C7.4,13.6 6.4,14.6 5,14.6 C3.6,14.6 2.6,13.6 2.6,12.2 C2.6,11 3.1,10.2 3.6,9.6 C3.8,10.2 4.1,10.6 4.4,10.7 C4.4,9.4 4.7,8.2 5.2,7.2 Z" fill="#ffffff" opacity="0.18"/></g>
<rect x="202.40" y="524.10" width="401.5" height="32.0" fill="#fafafa"/>
<rect x="202.40" y="524.10" width="53.53" height="32.0" fill="#f5917f"/>
<rect x="202.40" y="524.10" width="40.15" height="32.0" fill="#e05a3b"/>
<path d="M209.09,534.30V546.30M215.78,534.30V546.30M222.47,534.30V546.30M229.17,534.30V546.30M242.55,534.30V546.30M249.24,534.30V546.30M255.93,534.30V546.30M262.62,534.30V546.30M276.01,534.30V546.30M282.70,534.30V546.30M289.39,534.30V546.30M296.08,534.30V546.30M309.47,534.30V546.30M316.16,534.30V546.30M322.85,534.30V546.30M329.54,534.30V546.30M342.93,534.30V546.30M349.62,534.30V546.30M356.31,534.30V546.30M363.00,534.30V546.30M376.38,534.30V546.30M383.07,534.30V546.30M389.77,534.30V546.30M396.46,534.30V546.30M409.84,534.30V546.30M416.53,534.30V546.30M423.23,534.30V546.30M429.92,534.30V546.30M443.30,534.30V546.30M449.99,534.30V546.30M456.68,534.30V546.30M463.38,534.30V546.30M476.76,534.30V546.30M483.45,534.30V546.30M490.14,534.30V546.30M496.83,534.30V546.30M510.22,534.30V546.30M516.91,534.30V546.30M523.60,534.30V546.30M530.29,534.30V546.30M543.67,534.30V546.30M550.37,534.30V546.30M557.06,534.30V546.30M563.75,534.30V546.30M577.13,534.30V546.30M583.83,534.30V546.30M590.52,534.30V546.30M597.21,534.30V546.30" stroke="#000" stroke-width="0.85" opacity="0.24"/>
<path d="M235.86,524.10V556.10M302.77,524.10V556.10M369.69,524.10V556.10M436.61,524.10V556.10M503.52,524.10V556.10M570.44,524.10V556.10" stroke="#000" stroke-width="0.8" stroke-dasharray="1 1" opacity="0.26"/>
<path d="M269.32,524.10V556.10M336.23,524.10V556.10M403.15,524.10V556.10M470.07,524.10V556.10M536.98,524.10V556.10" stroke="#333" stroke-width="1"/>
<rect x="202.40" y="524.10" width="401.5" height="1.4" fill="#1e1e1e"/>
<rect x="202.40" y="554.40" width="401.5" height="1.9" fill="#1e1e1e"/>
<rect x="202.10" y="524.10" width="1.1" height="32.0" fill="#333"/>
<rect x="602.90" y="524.10" width="1.2" height="32.0" fill="#888"/>
<line x1="31.8" y1="559.80" x2="603.90" y2="559.80" stroke="#8c8c8c" stroke-width="1"/>
<line x1="31.8" y1="562.3000000000001" x2="603.9" y2="562.3000000000001" stroke="#b5b5b5" stroke-width="1" stroke-dasharray="1 2.3"/>
<text x="30.6" y="579.10" font-size="12.3" fill="#2e2e2e" stroke="#2e2e2e" stroke-width="0.32" textLength="24.91" lengthAdjust="spacingAndGlyphs">Burger</text>
<text transform="translate(31.3,589.80) scale(0.72,1)" font-size="8.6" fill="#646464" stroke="#646464" stroke-width="0.15" letter-spacing="1.972">3/4-INCH THICK</text>
<text transform="translate(31.1,599.50) scale(0.84,1)" font-size="7.6" font-weight="bold" fill="#e05536" letter-spacing="1.050">AVERAGE COOKING TIME: 9 MIN.</text>
<path d="M162.20,570.90 L163.21,570.36 L164.23,570.10 L165.24,570.26 L166.26,570.75 L167.27,571.32 L168.29,571.67 L169.30,571.62 L170.32,571.19 L171.33,570.61 L172.35,570.18 L173.36,570.13 L174.38,570.48 L175.39,571.05 L176.41,571.54 L177.42,571.70 L178.44,571.44 L179.45,570.90 L180.46,570.36 L181.48,570.10 L182.49,570.26 L183.51,570.75 L184.52,571.32 L185.54,571.67 L186.55,571.62 L187.57,571.19 L188.58,570.61 L189.60,570.18 L190.61,570.13 L191.63,570.48 L192.64,571.05 L193.66,571.54 L194.67,571.70 L195.69,571.44 L196.70,570.90" fill="none" stroke="#e05536" stroke-width="1.9"/>
<path d="M162.20,575.05 L163.21,574.51 L164.23,574.25 L165.24,574.41 L166.26,574.90 L167.27,575.47 L168.29,575.82 L169.30,575.77 L170.32,575.34 L171.33,574.76 L172.35,574.33 L173.36,574.28 L174.38,574.63 L175.39,575.20 L176.41,575.69 L177.42,575.85 L178.44,575.59 L179.45,575.05 L180.46,574.51 L181.48,574.25 L182.49,574.41 L183.51,574.90 L184.52,575.47 L185.54,575.82 L186.55,575.77 L187.57,575.34 L188.58,574.76 L189.60,574.33 L190.61,574.28 L191.63,574.63 L192.64,575.20 L193.66,575.69 L194.67,575.85 L195.69,575.59 L196.70,575.05" fill="none" stroke="#e05536" stroke-width="1.9"/>
<path d="M162.20,579.20 L163.21,578.66 L164.23,578.40 L165.24,578.56 L166.26,579.05 L167.27,579.62 L168.29,579.97 L169.30,579.92 L170.32,579.49 L171.33,578.91 L172.35,578.48 L173.36,578.43 L174.38,578.78 L175.39,579.35 L176.41,579.84 L177.42,580.00 L178.44,579.74 L179.45,579.20 L180.46,578.66 L181.48,578.40 L182.49,578.56 L183.51,579.05 L184.52,579.62 L185.54,579.97 L186.55,579.92 L187.57,579.49 L188.58,578.91 L189.60,578.48 L190.61,578.43 L191.63,578.78 L192.64,579.35 L193.66,579.84 L194.67,580.00 L195.69,579.74 L196.70,579.20" fill="none" stroke="#e05536" stroke-width="1.9"/>
<g transform="translate(162.00,584.10) scale(0.900,0.975)"><path d="M5,16 C2.1,16 0,13.9 0,11 C0,9 0.5,7.3 1.2,5.8 C1.6,6.8 2,7.3 2.6,7.6 C2.6,4.8 3.2,2.2 4.4,0 C5,2.4 5.8,4.2 6.6,5.6 C7.2,4.8 7.9,4 8.6,2.8 C9.6,4.8 10,7.6 10,11 C10,13.9 7.9,16 5,16 Z" fill="#e05536"/><path d="M5.2,7.2 C6,8.8 7.4,9.8 7.4,12 C7.4,13.6 6.4,14.6 5,14.6 C3.6,14.6 2.6,13.6 2.6,12.2 C2.6,11 3.1,10.2 3.6,9.6 C3.8,10.2 4.1,10.6 4.4,10.7 C4.4,9.4 4.7,8.2 5.2,7.2 Z" fill="#ffffff" opacity="0.18"/></g>
<g transform="translate(174.40,584.10) scale(0.900,0.975)"><path d="M5,16 C2.1,16 0,13.9 0,11 C0,9 0.5,7.3 1.2,5.8 C1.6,6.8 2,7.3 2.6,7.6 C2.6,4.8 3.2,2.2 4.4,0 C5,2.4 5.8,4.2 6.6,5.6 C7.2,4.8 7.9,4 8.6,2.8 C9.6,4.8 10,7.6 10,11 C10,13.9 7.9,16 5,16 Z" fill="#e05536"/><path d="M5.2,7.2 C6,8.8 7.4,9.8 7.4,12 C7.4,13.6 6.4,14.6 5,14.6 C3.6,14.6 2.6,13.6 2.6,12.2 C2.6,11 3.1,10.2 3.6,9.6 C3.8,10.2 4.1,10.6 4.4,10.7 C4.4,9.4 4.7,8.2 5.2,7.2 Z" fill="#ffffff" opacity="0.18"/></g>
<g transform="translate(186.80,584.10) scale(0.900,0.975)"><path d="M5,16 C2.1,16 0,13.9 0,11 C0,9 0.5,7.3 1.2,5.8 C1.6,6.8 2,7.3 2.6,7.6 C2.6,4.8 3.2,2.2 4.4,0 C5,2.4 5.8,4.2 6.6,5.6 C7.2,4.8 7.9,4 8.6,2.8 C9.6,4.8 10,7.6 10,11 C10,13.9 7.9,16 5,16 Z" fill="#e05536"/><path d="M5.2,7.2 C6,8.8 7.4,9.8 7.4,12 C7.4,13.6 6.4,14.6 5,14.6 C3.6,14.6 2.6,13.6 2.6,12.2 C2.6,11 3.1,10.2 3.6,9.6 C3.8,10.2 4.1,10.6 4.4,10.7 C4.4,9.4 4.7,8.2 5.2,7.2 Z" fill="#ffffff" opacity="0.18"/></g>
<rect x="202.40" y="568.00" width="401.5" height="32.0" fill="#fafafa"/>
<rect x="202.40" y="568.00" width="66.92" height="32.0" fill="#f5917f"/>
<rect x="202.40" y="568.00" width="53.53" height="32.0" fill="#e05a3b"/>
<path d="M209.09,578.20V590.20M215.78,578.20V590.20M222.47,578.20V590.20M229.17,578.20V590.20M242.55,578.20V590.20M249.24,578.20V590.20M255.93,578.20V590.20M262.62,578.20V590.20M276.01,578.20V590.20M282.70,578.20V590.20M289.39,578.20V590.20M296.08,578.20V590.20M309.47,578.20V590.20M316.16,578.20V590.20M322.85,578.20V590.20M329.54,578.20V590.20M342.93,578.20V590.20M349.62,578.20V590.20M356.31,578.20V590.20M363.00,578.20V590.20M376.38,578.20V590.20M383.07,578.20V590.20M389.77,578.20V590.20M396.46,578.20V590.20M409.84,578.20V590.20M416.53,578.20V590.20M423.23,578.20V590.20M429.92,578.20V590.20M443.30,578.20V590.20M449.99,578.20V590.20M456.68,578.20V590.20M463.38,578.20V590.20M476.76,578.20V590.20M483.45,578.20V590.20M490.14,578.20V590.20M496.83,578.20V590.20M510.22,578.20V590.20M516.91,578.20V590.20M523.60,578.20V590.20M530.29,578.20V590.20M543.67,578.20V590.20M550.37,578.20V590.20M557.06,578.20V590.20M563.75,578.20V590.20M577.13,578.20V590.20M583.83,578.20V590.20M590.52,578.20V590.20M597.21,578.20V590.20" stroke="#000" stroke-width="0.85" opacity="0.24"/>
<path d="M235.86,568.00V600.00M302.77,568.00V600.00M369.69,568.00V600.00M436.61,568.00V600.00M503.52,568.00V600.00M570.44,568.00V600.00" stroke="#000" stroke-width="0.8" stroke-dasharray="1 1" opacity="0.26"/>
<path d="M269.32,568.00V600.00M336.23,568.00V600.00M403.15,568.00V600.00M470.07,568.00V600.00M536.98,568.00V600.00" stroke="#333" stroke-width="1"/>
<rect x="202.40" y="568.00" width="401.5" height="1.4" fill="#1e1e1e"/>
<rect x="202.40" y="598.30" width="401.5" height="1.9" fill="#1e1e1e"/>
<rect x="202.10" y="568.00" width="1.1" height="32.0" fill="#333"/>
<rect x="602.90" y="568.00" width="1.2" height="32.0" fill="#888"/>
<line x1="31.8" y1="603.70" x2="603.90" y2="603.70" stroke="#8c8c8c" stroke-width="1"/>
<line x1="31.8" y1="606.2" x2="603.9" y2="606.2" stroke="#b5b5b5" stroke-width="1" stroke-dasharray="1 2.3"/>
<text x="30.6" y="623.10" font-size="12.3" fill="#2e2e2e" stroke="#2e2e2e" stroke-width="0.32" textLength="88.10" lengthAdjust="spacingAndGlyphs">Flat Iron Steak, Medium</text>
<text transform="translate(31.3,633.80) scale(0.72,1)" font-size="8.6" fill="#646464" stroke="#646464" stroke-width="0.15" letter-spacing="1.972">1-INCH THICK</text>
<text transform="translate(31.1,643.50) scale(0.84,1)" font-size="7.6" font-weight="bold" fill="#e05536" letter-spacing="1.050">AVERAGE COOKING TIME: 9 MIN.</text>
<path d="M162.20,614.90 L163.21,614.36 L164.23,614.10 L165.24,614.26 L166.26,614.75 L167.27,615.32 L168.29,615.67 L169.30,615.62 L170.32,615.19 L171.33,614.61 L172.35,614.18 L173.36,614.13 L174.38,614.48 L175.39,615.05 L176.41,615.54 L177.42,615.70 L178.44,615.44 L179.45,614.90 L180.46,614.36 L181.48,614.10 L182.49,614.26 L183.51,614.75 L184.52,615.32 L185.54,615.67 L186.55,615.62 L187.57,615.19 L188.58,614.61 L189.60,614.18 L190.61,614.13 L191.63,614.48 L192.64,615.05 L193.66,615.54 L194.67,615.70 L195.69,615.44 L196.70,614.90" fill="none" stroke="#e05536" stroke-width="1.9"/>
<path d="M162.20,619.05 L163.21,618.51 L164.23,618.25 L165.24,618.41 L166.26,618.90 L167.27,619.47 L168.29,619.82 L169.30,619.77 L170.32,619.34 L171.33,618.76 L172.35,618.33 L173.36,618.28 L174.38,618.63 L175.39,619.20 L176.41,619.69 L177.42,619.85 L178.44,619.59 L179.45,619.05 L180.46,618.51 L181.48,618.25 L182.49,618.41 L183.51,618.90 L184.52,619.47 L185.54,619.82 L186.55,619.77 L187.57,619.34 L188.58,618.76 L189.60,618.33 L190.61,618.28 L191.63,618.63 L192.64,619.20 L193.66,619.69 L194.67,619.85 L195.69,619.59 L196.70,619.05" fill="none" stroke="#e05536" stroke-width="1.9"/>
<path d="M162.20,623.20 L163.21,622.66 L164.23,622.40 L165.24,622.56 L166.26,623.05 L167.27,623.62 L168.29,623.97 L169.30,623.92 L170.32,623.49 L171.33,622.91 L172.35,622.48 L173.36,622.43 L174.38,622.78 L175.39,623.35 L176.41,623.84 L177.42,624.00 L178.44,623.74 L179.45,623.20 L180.46,622.66 L181.48,622.40 L182.49,622.56 L183.51,623.05 L184.52,623.62 L185.54,623.97 L186.55,623.92 L187.57,623.49 L188.58,622.91 L189.60,622.48 L190.61,622.43 L191.63,622.78 L192.64,623.35 L193.66,623.84 L194.67,624.00 L195.69,623.74 L196.70,623.20" fill="none" stroke="#e05536" stroke-width="1.9"/>
<g transform="translate(162.00,628.10) scale(0.900,0.975)"><path d="M5,16 C2.1,16 0,13.9 0,11 C0,9 0.5,7.3 1.2,5.8 C1.6,6.8 2,7.3 2.6,7.6 C2.6,4.8 3.2,2.2 4.4,0 C5,2.4 5.8,4.2 6.6,5.6 C7.2,4.8 7.9,4 8.6,2.8 C9.6,4.8 10,7.6 10,11 C10,13.9 7.9,16 5,16 Z" fill="#e05536"/><path d="M5.2,7.2 C6,8.8 7.4,9.8 7.4,12 C7.4,13.6 6.4,14.6 5,14.6 C3.6,14.6 2.6,13.6 2.6,12.2 C2.6,11 3.1,10.2 3.6,9.6 C3.8,10.2 4.1,10.6 4.4,10.7 C4.4,9.4 4.7,8.2 5.2,7.2 Z" fill="#ffffff" opacity="0.18"/></g>
<g transform="translate(174.40,628.10) scale(0.900,0.975)"><path d="M5,16 C2.1,16 0,13.9 0,11 C0,9 0.5,7.3 1.2,5.8 C1.6,6.8 2,7.3 2.6,7.6 C2.6,4.8 3.2,2.2 4.4,0 C5,2.4 5.8,4.2 6.6,5.6 C7.2,4.8 7.9,4 8.6,2.8 C9.6,4.8 10,7.6 10,11 C10,13.9 7.9,16 5,16 Z" fill="#e05536"/><path d="M5.2,7.2 C6,8.8 7.4,9.8 7.4,12 C7.4,13.6 6.4,14.6 5,14.6 C3.6,14.6 2.6,13.6 2.6,12.2 C2.6,11 3.1,10.2 3.6,9.6 C3.8,10.2 4.1,10.6 4.4,10.7 C4.4,9.4 4.7,8.2 5.2,7.2 Z" fill="#ffffff" opacity="0.18"/></g>
<rect x="202.40" y="612.00" width="401.5" height="32.0" fill="#fafafa"/>
<rect x="202.40" y="612.00" width="66.92" height="32.0" fill="#f5917f"/>
<rect x="202.40" y="612.00" width="53.53" height="32.0" fill="#e05a3b"/>
<path d="M209.09,622.20V634.20M215.78,622.20V634.20M222.47,622.20V634.20M229.17,622.20V634.20M242.55,622.20V634.20M249.24,622.20V634.20M255.93,622.20V634.20M262.62,622.20V634.20M276.01,622.20V634.20M282.70,622.20V634.20M289.39,622.20V634.20M296.08,622.20V634.20M309.47,622.20V634.20M316.16,622.20V634.20M322.85,622.20V634.20M329.54,622.20V634.20M342.93,622.20V634.20M349.62,622.20V634.20M356.31,622.20V634.20M363.00,622.20V634.20M376.38,622.20V634.20M383.07,622.20V634.20M389.77,622.20V634.20M396.46,622.20V634.20M409.84,622.20V634.20M416.53,622.20V634.20M423.23,622.20V634.20M429.92,622.20V634.20M443.30,622.20V634.20M449.99,622.20V634.20M456.68,622.20V634.20M463.38,622.20V634.20M476.76,622.20V634.20M483.45,622.20V634.20M490.14,622.20V634.20M496.83,622.20V634.20M510.22,622.20V634.20M516.91,622.20V634.20M523.60,622.20V634.20M530.29,622.20V634.20M543.67,622.20V634.20M550.37,622.20V634.20M557.06,622.20V634.20M563.75,622.20V634.20M577.13,622.20V634.20M583.83,622.20V634.20M590.52,622.20V634.20M597.21,622.20V634.20" stroke="#000" stroke-width="0.85" opacity="0.24"/>
<path d="M235.86,612.00V644.00M302.77,612.00V644.00M369.69,612.00V644.00M436.61,612.00V644.00M503.52,612.00V644.00M570.44,612.00V644.00" stroke="#000" stroke-width="0.8" stroke-dasharray="1 1" opacity="0.26"/>
<path d="M269.32,612.00V644.00M336.23,612.00V644.00M403.15,612.00V644.00M470.07,612.00V644.00M536.98,612.00V644.00" stroke="#333" stroke-width="1"/>
<rect x="202.40" y="612.00" width="401.5" height="1.4" fill="#1e1e1e"/>
<rect x="202.40" y="642.30" width="401.5" height="1.9" fill="#1e1e1e"/>
<rect x="202.10" y="612.00" width="1.1" height="32.0" fill="#333"/>
<rect x="602.90" y="612.00" width="1.2" height="32.0" fill="#888"/>
<line x1="31.8" y1="647.70" x2="603.90" y2="647.70" stroke="#8c8c8c" stroke-width="1"/>
<line x1="31.8" y1="650.2" x2="603.9" y2="650.2" stroke="#b5b5b5" stroke-width="1" stroke-dasharray="1 2.3"/>
<text x="30.6" y="666.80" font-size="12.3" fill="#2e2e2e" stroke="#2e2e2e" stroke-width="0.32" textLength="84.88" lengthAdjust="spacingAndGlyphs">Hanger Steak, Medium</text>
<text transform="translate(31.3,677.50) scale(0.72,1)" font-size="8.6" fill="#646464" stroke="#646464" stroke-width="0.15" letter-spacing="1.972">1-INCH THICK</text>
<text transform="translate(31.1,687.20) scale(0.84,1)" font-size="7.6" font-weight="bold" fill="#e05536" letter-spacing="1.050">AVERAGE COOKING TIME: 9 MIN.</text>
<path d="M162.20,658.60 L163.21,658.06 L164.23,657.80 L165.24,657.96 L166.26,658.45 L167.27,659.02 L168.29,659.37 L169.30,659.32 L170.32,658.89 L171.33,658.31 L172.35,657.88 L173.36,657.83 L174.38,658.18 L175.39,658.75 L176.41,659.24 L177.42,659.40 L178.44,659.14 L179.45,658.60 L180.46,658.06 L181.48,657.80 L182.49,657.96 L183.51,658.45 L184.52,659.02 L185.54,659.37 L186.55,659.32 L187.57,658.89 L188.58,658.31 L189.60,657.88 L190.61,657.83 L191.63,658.18 L192.64,658.75 L193.66,659.24 L194.67,659.40 L195.69,659.14 L196.70,658.60" fill="none" stroke="#e05536" stroke-width="1.9"/>
<path d="M162.20,662.75 L163.21,662.21 L164.23,661.95 L165.24,662.11 L166.26,662.60 L167.27,663.17 L168.29,663.52 L169.30,663.47 L170.32,663.04 L171.33,662.46 L172.35,662.03 L173.36,661.98 L174.38,662.33 L175.39,662.90 L176.41,663.39 L177.42,663.55 L178.44,663.29 L179.45,662.75 L180.46,662.21 L181.48,661.95 L182.49,662.11 L183.51,662.60 L184.52,663.17 L185.54,663.52 L186.55,663.47 L187.57,663.04 L188.58,662.46 L189.60,662.03 L190.61,661.98 L191.63,662.33 L192.64,662.90 L193.66,663.39 L194.67,663.55 L195.69,663.29 L196.70,662.75" fill="none" stroke="#e05536" stroke-width="1.9"/>
<path d="M162.20,666.90 L163.21,666.36 L164.23,666.10 L165.24,666.26 L166.26,666.75 L167.27,667.32 L168.29,667.67 L169.30,667.62 L170.32,667.19 L171.33,666.61 L172.35,666.18 L173.36,666.13 L174.38,666.48 L175.39,667.05 L176.41,667.54 L177.42,667.70 L178.44,667.44 L179.45,666.90 L180.46,666.36 L181.48,666.10 L182.49,666.26 L183.51,666.75 L184.52,667.32 L185.54,667.67 L186.55,667.62 L187.57,667.19 L188.58,666.61 L189.60,666.18 L190.61,666.13 L191.63,666.48 L192.64,667.05 L193.66,667.54 L194.67,667.70 L195.69,667.44 L196.70,666.90" fill="none" stroke="#e05536" stroke-width="1.9"/>
<g transform="translate(162.00,671.80) scale(0.900,0.975)"><path d="M5,16 C2.1,16 0,13.9 0,11 C0,9 0.5,7.3 1.2,5.8 C1.6,6.8 2,7.3 2.6,7.6 C2.6,4.8 3.2,2.2 4.4,0 C5,2.4 5.8,4.2 6.6,5.6 C7.2,4.8 7.9,4 8.6,2.8 C9.6,4.8 10,7.6 10,11 C10,13.9 7.9,16 5,16 Z" fill="#e05536"/><path d="M5.2,7.2 C6,8.8 7.4,9.8 7.4,12 C7.4,13.6 6.4,14.6 5,14.6 C3.6,14.6 2.6,13.6 2.6,12.2 C2.6,11 3.1,10.2 3.6,9.6 C3.8,10.2 4.1,10.6 4.4,10.7 C4.4,9.4 4.7,8.2 5.2,7.2 Z" fill="#ffffff" opacity="0.18"/></g>
<g transform="translate(174.40,671.80) scale(0.900,0.975)"><path d="M5,16 C2.1,16 0,13.9 0,11 C0,9 0.5,7.3 1.2,5.8 C1.6,6.8 2,7.3 2.6,7.6 C2.6,4.8 3.2,2.2 4.4,0 C5,2.4 5.8,4.2 6.6,5.6 C7.2,4.8 7.9,4 8.6,2.8 C9.6,4.8 10,7.6 10,11 C10,13.9 7.9,16 5,16 Z" fill="#e05536"/><path d="M5.2,7.2 C6,8.8 7.4,9.8 7.4,12 C7.4,13.6 6.4,14.6 5,14.6 C3.6,14.6 2.6,13.6 2.6,12.2 C2.6,11 3.1,10.2 3.6,9.6 C3.8,10.2 4.1,10.6 4.4,10.7 C4.4,9.4 4.7,8.2 5.2,7.2 Z" fill="#ffffff" opacity="0.18"/></g>
<rect x="202.40" y="655.70" width="401.5" height="32.0" fill="#fafafa"/>
<rect x="202.40" y="655.70" width="66.92" height="32.0" fill="#f5917f"/>
<rect x="202.40" y="655.70" width="53.53" height="32.0" fill="#e05a3b"/>
<path d="M209.09,665.90V677.90M215.78,665.90V677.90M222.47,665.90V677.90M229.17,665.90V677.90M242.55,665.90V677.90M249.24,665.90V677.90M255.93,665.90V677.90M262.62,665.90V677.90M276.01,665.90V677.90M282.70,665.90V677.90M289.39,665.90V677.90M296.08,665.90V677.90M309.47,665.90V677.90M316.16,665.90V677.90M322.85,665.90V677.90M329.54,665.90V677.90M342.93,665.90V677.90M349.62,665.90V677.90M356.31,665.90V677.90M363.00,665.90V677.90M376.38,665.90V677.90M383.07,665.90V677.90M389.77,665.90V677.90M396.46,665.90V677.90M409.84,665.90V677.90M416.53,665.90V677.90M423.23,665.90V677.90M429.92,665.90V677.90M443.30,665.90V677.90M449.99,665.90V677.90M456.68,665.90V677.90M463.38,665.90V677.90M476.76,665.90V677.90M483.45,665.90V677.90M490.14,665.90V677.90M496.83,665.90V677.90M510.22,665.90V677.90M516.91,665.90V677.90M523.60,665.90V677.90M530.29,665.90V677.90M543.67,665.90V677.90M550.37,665.90V677.90M557.06,665.90V677.90M563.75,665.90V677.90M577.13,665.90V677.90M583.83,665.90V677.90M590.52,665.90V677.90M597.21,665.90V677.90" stroke="#000" stroke-width="0.85" opacity="0.24"/>
<path d="M235.86,655.70V687.70M302.77,655.70V687.70M369.69,655.70V687.70M436.61,655.70V687.70M503.52,655.70V687.70M570.44,655.70V687.70" stroke="#000" stroke-width="0.8" stroke-dasharray="1 1" opacity="0.26"/>
<path d="M269.32,655.70V687.70M336.23,655.70V687.70M403.15,655.70V687.70M470.07,655.70V687.70M536.98,655.70V687.70" stroke="#333" stroke-width="1"/>
<rect x="202.40" y="655.70" width="401.5" height="1.4" fill="#1e1e1e"/>
<rect x="202.40" y="686.00" width="401.5" height="1.9" fill="#1e1e1e"/>
<rect x="202.10" y="655.70" width="1.1" height="32.0" fill="#333"/>
<rect x="602.90" y="655.70" width="1.2" height="32.0" fill="#888"/>
<line x1="31.8" y1="691.40" x2="603.90" y2="691.40" stroke="#8c8c8c" stroke-width="1"/>
<line x1="31.8" y1="693.9000000000001" x2="603.9" y2="693.9000000000001" stroke="#b5b5b5" stroke-width="1" stroke-dasharray="1 2.3"/>
<text transform="translate(31.00,704.00) scale(0.78,1)" font-size="6.4" fill="#9a9a9a" letter-spacing="1.025" >*WHERE SPECIFIED, BEEF COOK TIMES REFLECT AVERAGE TOTAL COOK TIME FOR MEDIUM DONENESS.</text>
<g transform="translate(282.55,735.45) translate(-5.80,-17.50) scale(1,0.8113)"><path d="M0.00,45.79 V0.00 H5.80 A5.80,7.86 0 0 1 11.60,7.86 V14.57 A5.80,7.86 0 0 1 5.80,22.43 H0" fill="none" stroke="#6a6a6a" stroke-width="6.70" stroke-linejoin="miter" stroke-miterlimit="5" stroke-linecap="butt"/><path d="M0.00,45.79 V0.00 H5.80 A5.80,7.86 0 0 1 11.60,7.86 V14.57 A5.80,7.86 0 0 1 5.80,22.43 H0" fill="none" stroke="#f5f5f5" stroke-width="5.30" stroke-linejoin="miter" stroke-miterlimit="5" stroke-linecap="butt"/></g>
<g transform="translate(306.10,735.45) translate(-6.39,-17.50) scale(1,0.8113)"><path d="M0.00,8.66 A6.39,8.66 0 0 1 12.78,8.66 V34.48 A6.39,8.66 0 0 1 0.00,34.48 Z" fill="none" stroke="#6a6a6a" stroke-width="6.70" stroke-linejoin="miter" stroke-miterlimit="5" stroke-linecap="butt"/><path d="M0.00,8.66 A6.39,8.66 0 0 1 12.78,8.66 V34.48 A6.39,8.66 0 0 1 0.00,34.48 Z" fill="none" stroke="#f5f5f5" stroke-width="5.30" stroke-linejoin="miter" stroke-miterlimit="5" stroke-linecap="butt"/></g>
<g transform="translate(330.24,735.45) translate(-6.39,-17.50) scale(1,0.8113)"><path d="M0.00,45.79 V0.00 H6.39 A6.39,8.66 0 0 1 12.78,8.66 V12.91 A6.39,8.66 0 0 1 6.39,21.57 H0 M8.94,21.57 L12.78,45.79" fill="none" stroke="#6a6a6a" stroke-width="6.70" stroke-linejoin="miter" stroke-miterlimit="5" stroke-linecap="butt"/><path d="M0.00,45.79 V0.00 H6.39 A6.39,8.66 0 0 1 12.78,8.66 V12.91 A6.39,8.66 0 0 1 6.39,21.57 H0 M8.94,21.57 L12.78,45.79" fill="none" stroke="#f5f5f5" stroke-width="5.30" stroke-linejoin="miter" stroke-miterlimit="5" stroke-linecap="butt"/></g>
<g transform="translate(354.97,735.45) translate(-6.98,-17.50) scale(1,0.8113)"><path d="M0.00,-2.65 V45.79 M13.96,-2.65 L0.00,27.61 M4.75,18.12 L13.96,45.79" fill="none" stroke="#6a6a6a" stroke-width="6.70" stroke-linejoin="miter" stroke-miterlimit="5" stroke-linecap="butt"/><path d="M0.00,-2.65 V45.79 M13.96,-2.65 L0.00,27.61 M4.75,18.12 L13.96,45.79" fill="none" stroke="#f5f5f5" stroke-width="5.30" stroke-linejoin="miter" stroke-miterlimit="5" stroke-linecap="butt"/></g>
<g transform="translate(284.15,733.55) translate(-5.80,-17.50) scale(1,0.8113)"><path d="M0.00,45.79 V0.00 H5.80 A5.80,7.86 0 0 1 11.60,7.86 V14.57 A5.80,7.86 0 0 1 5.80,22.43 H0" fill="none" stroke="#2b2b2b" stroke-width="5.30" stroke-linejoin="miter" stroke-miterlimit="5" stroke-linecap="butt"/></g>
<g transform="translate(307.70,733.55) translate(-6.39,-17.50) scale(1,0.8113)"><path d="M0.00,8.66 A6.39,8.66 0 0 1 12.78,8.66 V34.48 A6.39,8.66 0 0 1 0.00,34.48 Z" fill="none" stroke="#2b2b2b" stroke-width="5.30" stroke-linejoin="miter" stroke-miterlimit="5" stroke-linecap="butt"/></g>
<g transform="translate(331.84,733.55) translate(-6.39,-17.50) scale(1,0.8113)"><path d="M0.00,45.79 V0.00 H6.39 A6.39,8.66 0 0 1 12.78,8.66 V12.91 A6.39,8.66 0 0 1 6.39,21.57 H0 M8.94,21.57 L12.78,45.79" fill="none" stroke="#2b2b2b" stroke-width="5.30" stroke-linejoin="miter" stroke-miterlimit="5" stroke-linecap="butt"/></g>
<g transform="translate(356.57,733.55) translate(-6.98,-17.50) scale(1,0.8113)"><path d="M0.00,-2.65 V45.79 M13.96,-2.65 L0.00,27.61 M4.75,18.12 L13.96,45.79" fill="none" stroke="#2b2b2b" stroke-width="5.30" stroke-linejoin="miter" stroke-miterlimit="5" stroke-linecap="butt"/></g>
<path d="M32.00,726.50 L35.60,733.60 L32.00,740.70 M35.87,726.50 L39.47,733.60 L35.87,740.70 M39.74,726.50 L43.34,733.60 L39.74,740.70 M43.61,726.50 L47.21,733.60 L43.61,740.70 M47.48,726.50 L51.08,733.60 L47.48,740.70 M51.35,726.50 L54.95,733.60 L51.35,740.70 M55.22,726.50 L58.82,733.60 L55.22,740.70 M59.09,726.50 L62.69,733.60 L59.09,740.70 M62.96,726.50 L66.56,733.60 L62.96,740.70 M66.83,726.50 L70.43,733.60 L66.83,740.70 M70.70,726.50 L74.30,733.60 L70.70,740.70 M74.57,726.50 L78.17,733.60 L74.57,740.70 M78.44,726.50 L82.04,733.60 L78.44,740.70 M82.31,726.50 L85.91,733.60 L82.31,740.70 M86.18,726.50 L89.78,733.60 L86.18,740.70 M90.05,726.50 L93.65,733.60 L90.05,740.70 M93.92,726.50 L97.52,733.60 L93.92,740.70 M97.79,726.50 L101.39,733.60 L97.79,740.70 M101.66,726.50 L105.26,733.60 L101.66,740.70 M105.53,726.50 L109.13,733.60 L105.53,740.70 M109.40,726.50 L113.00,733.60 L109.40,740.70 M113.27,726.50 L116.87,733.60 L113.27,740.70 M117.14,726.50 L120.74,733.60 L117.14,740.70 M121.01,726.50 L124.61,733.60 L121.01,740.70 M124.88,726.50 L128.48,733.60 L124.88,740.70 M128.75,726.50 L132.35,733.60 L128.75,740.70 M132.62,726.50 L136.22,733.60 L132.62,740.70 M136.49,726.50 L140.09,733.60 L136.49,740.70 M140.36,726.50 L143.96,733.60 L140.36,740.70 M144.23,726.50 L147.83,733.60 L144.23,740.70 M148.10,726.50 L151.70,733.60 L148.10,740.70 M151.97,726.50 L155.57,733.60 L151.97,740.70 M155.84,726.50 L159.44,733.60 L155.84,740.70 M159.71,726.50 L163.31,733.60 L159.71,740.70 M163.58,726.50 L167.18,733.60 L163.58,740.70 M167.45,726.50 L171.05,733.60 L167.45,740.70 M171.32,726.50 L174.92,733.60 L171.32,740.70 M175.19,726.50 L178.79,733.60 L175.19,740.70 M179.06,726.50 L182.66,733.60 L179.06,740.70 M182.93,726.50 L186.53,733.60 L182.93,740.70 M186.80,726.50 L190.40,733.60 L186.80,740.70 M190.67,726.50 L194.27,733.60 L190.67,740.70 M194.54,726.50 L198.14,733.60 L194.54,740.70 M198.41,726.50 L202.01,733.60 L198.41,740.70 M202.28,726.50 L205.88,733.60 L202.28,740.70 M206.15,726.50 L209.75,733.60 L206.15,740.70 M210.02,726.50 L213.62,733.60 L210.02,740.70 M213.89,726.50 L217.49,733.60 L213.89,740.70 M217.76,726.50 L221.36,733.60 L217.76,740.70 M221.63,726.50 L225.23,733.60 L221.63,740.70 M225.50,726.50 L229.10,733.60 L225.50,740.70 M229.37,726.50 L232.97,733.60 L229.37,740.70 M233.24,726.50 L236.84,733.60 L233.24,740.70 M237.11,726.50 L240.71,733.60 L237.11,740.70 M240.98,726.50 L244.58,733.60 L240.98,740.70 " fill="none" stroke="#8a8a8a" stroke-width="1.25"/>
<path d="M604.00,726.50 L600.40,733.60 L604.00,740.70 M600.13,726.50 L596.53,733.60 L600.13,740.70 M596.26,726.50 L592.66,733.60 L596.26,740.70 M592.39,726.50 L588.79,733.60 L592.39,740.70 M588.52,726.50 L584.92,733.60 L588.52,740.70 M584.65,726.50 L581.05,733.60 L584.65,740.70 M580.78,726.50 L577.18,733.60 L580.78,740.70 M576.91,726.50 L573.31,733.60 L576.91,740.70 M573.04,726.50 L569.44,733.60 L573.04,740.70 M569.17,726.50 L565.57,733.60 L569.17,740.70 M565.30,726.50 L561.70,733.60 L565.30,740.70 M561.43,726.50 L557.83,733.60 L561.43,740.70 M557.56,726.50 L553.96,733.60 L557.56,740.70 M553.69,726.50 L550.09,733.60 L553.69,740.70 M549.82,726.50 L546.22,733.60 L549.82,740.70 M545.95,726.50 L542.35,733.60 L545.95,740.70 M542.08,726.50 L538.48,733.60 L542.08,740.70 M538.21,726.50 L534.61,733.60 L538.21,740.70 M534.34,726.50 L530.74,733.60 L534.34,740.70 M530.47,726.50 L526.87,733.60 L530.47,740.70 M526.60,726.50 L523.00,733.60 L526.60,740.70 M522.73,726.50 L519.13,733.60 L522.73,740.70 M518.86,726.50 L515.26,733.60 L518.86,740.70 M514.99,726.50 L511.39,733.60 L514.99,740.70 M511.12,726.50 L507.52,733.60 L511.12,740.70 M507.25,726.50 L503.65,733.60 L507.25,740.70 M503.38,726.50 L499.78,733.60 L503.38,740.70 M499.51,726.50 L495.91,733.60 L499.51,740.70 M495.64,726.50 L492.04,733.60 L495.64,740.70 M491.77,726.50 L488.17,733.60 L491.77,740.70 M487.90,726.50 L484.30,733.60 L487.90,740.70 M484.03,726.50 L480.43,733.60 L484.03,740.70 M480.16,726.50 L476.56,733.60 L480.16,740.70 M476.29,726.50 L472.69,733.60 L476.29,740.70 M472.42,726.50 L468.82,733.60 L472.42,740.70 M468.55,726.50 L464.95,733.60 L468.55,740.70 M464.68,726.50 L461.08,733.60 L464.68,740.70 M460.81,726.50 L457.21,733.60 L460.81,740.70 M456.94,726.50 L453.34,733.60 L456.94,740.70 M453.07,726.50 L449.47,733.60 L453.07,740.70 M449.20,726.50 L445.60,733.60 L449.20,740.70 M445.33,726.50 L441.73,733.60 L445.33,740.70 M441.46,726.50 L437.86,733.60 L441.46,740.70 M437.59,726.50 L433.99,733.60 L437.59,740.70 M433.72,726.50 L430.12,733.60 L433.72,740.70 M429.85,726.50 L426.25,733.60 L429.85,740.70 M425.98,726.50 L422.38,733.60 L425.98,740.70 M422.11,726.50 L418.51,733.60 L422.11,740.70 M418.24,726.50 L414.64,733.60 L418.24,740.70 M414.37,726.50 L410.77,733.60 L414.37,740.70 M410.50,726.50 L406.90,733.60 L410.50,740.70 M406.63,726.50 L403.03,733.60 L406.63,740.70 M402.76,726.50 L399.16,733.60 L402.76,740.70 M398.89,726.50 L395.29,733.60 L398.89,740.70 M395.02,726.50 L391.42,733.60 L395.02,740.70 " fill="none" stroke="#8a8a8a" stroke-width="1.25"/>
<text transform="translate(201.80,768.40) scale(0.8,1)" font-size="7.3" fill="#555" text-anchor="middle">0</text>
<line x1="201.80" y1="769.00" x2="201.80" y2="776.0" stroke="#444" stroke-width="0.9"/>
<text transform="translate(268.72,768.40) scale(0.8,1)" font-size="7.3" fill="#555" text-anchor="middle">10</text>
<line x1="268.72" y1="769.00" x2="268.72" y2="776.0" stroke="#444" stroke-width="0.9"/>
<text transform="translate(335.63,768.40) scale(0.8,1)" font-size="7.3" fill="#555" text-anchor="middle">20</text>
<line x1="335.63" y1="769.00" x2="335.63" y2="776.0" stroke="#444" stroke-width="0.9"/>
<text transform="translate(402.55,768.40) scale(0.8,1)" font-size="7.3" fill="#555" text-anchor="middle">30</text>
<line x1="402.55" y1="769.00" x2="402.55" y2="776.0" stroke="#444" stroke-width="0.9"/>
<text transform="translate(469.47,768.40) scale(0.8,1)" font-size="7.3" fill="#555" text-anchor="middle">40</text>
<line x1="469.47" y1="769.00" x2="469.47" y2="776.0" stroke="#444" stroke-width="0.9"/>
<text transform="translate(536.38,768.40) scale(0.8,1)" font-size="7.3" fill="#555" text-anchor="middle">50</text>
<line x1="536.38" y1="769.00" x2="536.38" y2="776.0" stroke="#444" stroke-width="0.9"/>
<text transform="translate(603.30,768.40) scale(0.8,1)" font-size="7.3" fill="#555" text-anchor="middle">60</text>
<line x1="603.30" y1="769.00" x2="603.30" y2="776.0" stroke="#444" stroke-width="0.9"/>
<text x="30.6" y="787.10" font-size="12.3" fill="#2e2e2e" stroke="#2e2e2e" stroke-width="0.32" textLength="39.21" lengthAdjust="spacingAndGlyphs">Pork Chop</text>
<text transform="translate(31.3,797.80) scale(0.72,1)" font-size="8.6" fill="#646464" stroke="#646464" stroke-width="0.15" letter-spacing="1.972">1-INCH THICK</text>
<text transform="translate(31.1,807.50) scale(0.84,1)" font-size="7.6" font-weight="bold" fill="#e05536" letter-spacing="0.992">AVERAGE COOKING TIME: 9 MIN.</text>
<path d="M162.20,778.90 L163.21,778.36 L164.23,778.10 L165.24,778.26 L166.26,778.75 L167.27,779.32 L168.29,779.67 L169.30,779.62 L170.32,779.19 L171.33,778.61 L172.35,778.18 L173.36,778.13 L174.38,778.48 L175.39,779.05 L176.41,779.54 L177.42,779.70 L178.44,779.44 L179.45,778.90 L180.46,778.36 L181.48,778.10 L182.49,778.26 L183.51,778.75 L184.52,779.32 L185.54,779.67 L186.55,779.62 L187.57,779.19 L188.58,778.61 L189.60,778.18 L190.61,778.13 L191.63,778.48 L192.64,779.05 L193.66,779.54 L194.67,779.70 L195.69,779.44 L196.70,778.90" fill="none" stroke="#e05536" stroke-width="1.9"/>
<path d="M162.20,783.05 L163.21,782.51 L164.23,782.25 L165.24,782.41 L166.26,782.90 L167.27,783.47 L168.29,783.82 L169.30,783.77 L170.32,783.34 L171.33,782.76 L172.35,782.33 L173.36,782.28 L174.38,782.63 L175.39,783.20 L176.41,783.69 L177.42,783.85 L178.44,783.59 L179.45,783.05 L180.46,782.51 L181.48,782.25 L182.49,782.41 L183.51,782.90 L184.52,783.47 L185.54,783.82 L186.55,783.77 L187.57,783.34 L188.58,782.76 L189.60,782.33 L190.61,782.28 L191.63,782.63 L192.64,783.20 L193.66,783.69 L194.67,783.85 L195.69,783.59 L196.70,783.05" fill="none" stroke="#e05536" stroke-width="1.9"/>
<path d="M162.20,787.20 L163.21,786.66 L164.23,786.40 L165.24,786.56 L166.26,787.05 L167.27,787.62 L168.29,787.97 L169.30,787.92 L170.32,787.49 L171.33,786.91 L172.35,786.48 L173.36,786.43 L174.38,786.78 L175.39,787.35 L176.41,787.84 L177.42,788.00 L178.44,787.74 L179.45,787.20 L180.46,786.66 L181.48,786.40 L182.49,786.56 L183.51,787.05 L184.52,787.62 L185.54,787.97 L186.55,787.92 L187.57,787.49 L188.58,786.91 L189.60,786.48 L190.61,786.43 L191.63,786.78 L192.64,787.35 L193.66,787.84 L194.67,788.00 L195.69,787.74 L196.70,787.20" fill="none" stroke="#e05536" stroke-width="1.9"/>
<g transform="translate(162.00,792.10) scale(0.900,0.975)"><path d="M5,16 C2.1,16 0,13.9 0,11 C0,9 0.5,7.3 1.2,5.8 C1.6,6.8 2,7.3 2.6,7.6 C2.6,4.8 3.2,2.2 4.4,0 C5,2.4 5.8,4.2 6.6,5.6 C7.2,4.8 7.9,4 8.6,2.8 C9.6,4.8 10,7.6 10,11 C10,13.9 7.9,16 5,16 Z" fill="#e05536"/><path d="M5.2,7.2 C6,8.8 7.4,9.8 7.4,12 C7.4,13.6 6.4,14.6 5,14.6 C3.6,14.6 2.6,13.6 2.6,12.2 C2.6,11 3.1,10.2 3.6,9.6 C3.8,10.2 4.1,10.6 4.4,10.7 C4.4,9.4 4.7,8.2 5.2,7.2 Z" fill="#ffffff" opacity="0.18"/></g>
<g transform="translate(174.40,792.10) scale(0.900,0.975)"><path d="M5,16 C2.1,16 0,13.9 0,11 C0,9 0.5,7.3 1.2,5.8 C1.6,6.8 2,7.3 2.6,7.6 C2.6,4.8 3.2,2.2 4.4,0 C5,2.4 5.8,4.2 6.6,5.6 C7.2,4.8 7.9,4 8.6,2.8 C9.6,4.8 10,7.6 10,11 C10,13.9 7.9,16 5,16 Z" fill="#e05536"/><path d="M5.2,7.2 C6,8.8 7.4,9.8 7.4,12 C7.4,13.6 6.4,14.6 5,14.6 C3.6,14.6 2.6,13.6 2.6,12.2 C2.6,11 3.1,10.2 3.6,9.6 C3.8,10.2 4.1,10.6 4.4,10.7 C4.4,9.4 4.7,8.2 5.2,7.2 Z" fill="#ffffff" opacity="0.18"/></g>
<rect x="201.80" y="776.00" width="401.5" height="32.0" fill="#fafafa"/>
<rect x="201.80" y="776.00" width="66.92" height="32.0" fill="#f5917f"/>
<rect x="201.80" y="776.00" width="53.53" height="32.0" fill="#e05a3b"/>
<path d="M208.49,786.20V798.20M215.18,786.20V798.20M221.88,786.20V798.20M228.57,786.20V798.20M241.95,786.20V798.20M248.64,786.20V798.20M255.33,786.20V798.20M262.02,786.20V798.20M275.41,786.20V798.20M282.10,786.20V798.20M288.79,786.20V798.20M295.48,786.20V798.20M308.87,786.20V798.20M315.56,786.20V798.20M322.25,786.20V798.20M328.94,786.20V798.20M342.33,786.20V798.20M349.02,786.20V798.20M355.71,786.20V798.20M362.40,786.20V798.20M375.78,786.20V798.20M382.48,786.20V798.20M389.17,786.20V798.20M395.86,786.20V798.20M409.24,786.20V798.20M415.93,786.20V798.20M422.62,786.20V798.20M429.32,786.20V798.20M442.70,786.20V798.20M449.39,786.20V798.20M456.08,786.20V798.20M462.77,786.20V798.20M476.16,786.20V798.20M482.85,786.20V798.20M489.54,786.20V798.20M496.23,786.20V798.20M509.62,786.20V798.20M516.31,786.20V798.20M523.00,786.20V798.20M529.69,786.20V798.20M543.08,786.20V798.20M549.77,786.20V798.20M556.46,786.20V798.20M563.15,786.20V798.20M576.53,786.20V798.20M583.23,786.20V798.20M589.92,786.20V798.20M596.61,786.20V798.20" stroke="#000" stroke-width="0.85" opacity="0.24"/>
<path d="M235.26,776.00V808.00M302.18,776.00V808.00M369.09,776.00V808.00M436.01,776.00V808.00M502.93,776.00V808.00M569.84,776.00V808.00" stroke="#000" stroke-width="0.8" stroke-dasharray="1 1" opacity="0.26"/>
<path d="M268.72,776.00V808.00M335.63,776.00V808.00M402.55,776.00V808.00M469.47,776.00V808.00M536.38,776.00V808.00" stroke="#333" stroke-width="1"/>
<rect x="201.80" y="776.00" width="401.5" height="1.4" fill="#1e1e1e"/>
<rect x="201.80" y="806.30" width="401.5" height="1.9" fill="#1e1e1e"/>
<rect x="201.50" y="776.00" width="1.1" height="32.0" fill="#333"/>
<rect x="602.30" y="776.00" width="1.2" height="32.0" fill="#888"/>
<line x1="31.8" y1="811.70" x2="603.30" y2="811.70" stroke="#8c8c8c" stroke-width="1"/>
<line x1="31.8" y1="814.2" x2="603.3" y2="814.2" stroke="#b5b5b5" stroke-width="1" stroke-dasharray="1 2.3"/>
<text x="30.6" y="828.40" font-size="12.3" fill="#2e2e2e" stroke="#2e2e2e" stroke-width="0.32" textLength="83.95" lengthAdjust="spacingAndGlyphs">Bratwurst, Pre-Cooked</text>
<text transform="translate(31.3,839.10) scale(0.72,1)" font-size="8.6" fill="#646464" stroke="#646464" stroke-width="0.15" letter-spacing="1.972">3-OUNCE LINK</text>
<text transform="translate(31.1,848.80) scale(0.84,1)" font-size="7.6" font-weight="bold" fill="#e05536" letter-spacing="0.876">AVERAGE COOKING TIME: 11 MIN.</text>
<path d="M162.20,820.20 L163.21,819.66 L164.23,819.40 L165.24,819.56 L166.26,820.05 L167.27,820.62 L168.29,820.97 L169.30,820.92 L170.32,820.49 L171.33,819.91 L172.35,819.48 L173.36,819.43 L174.38,819.78 L175.39,820.35 L176.41,820.84 L177.42,821.00 L178.44,820.74 L179.45,820.20 L180.46,819.66 L181.48,819.40 L182.49,819.56 L183.51,820.05 L184.52,820.62 L185.54,820.97 L186.55,820.92 L187.57,820.49 L188.58,819.91 L189.60,819.48 L190.61,819.43 L191.63,819.78 L192.64,820.35 L193.66,820.84 L194.67,821.00 L195.69,820.74 L196.70,820.20" fill="none" stroke="#e05536" stroke-width="1.9"/>
<path d="M162.20,824.35 L163.21,823.81 L164.23,823.55 L165.24,823.71 L166.26,824.20 L167.27,824.77 L168.29,825.12 L169.30,825.07 L170.32,824.64 L171.33,824.06 L172.35,823.63 L173.36,823.58 L174.38,823.93 L175.39,824.50 L176.41,824.99 L177.42,825.15 L178.44,824.89 L179.45,824.35 L180.46,823.81 L181.48,823.55 L182.49,823.71 L183.51,824.20 L184.52,824.77 L185.54,825.12 L186.55,825.07 L187.57,824.64 L188.58,824.06 L189.60,823.63 L190.61,823.58 L191.63,823.93 L192.64,824.50 L193.66,824.99 L194.67,825.15 L195.69,824.89 L196.70,824.35" fill="none" stroke="#e05536" stroke-width="1.9"/>
<path d="M162.20,828.50 L163.21,827.96 L164.23,827.70 L165.24,827.86 L166.26,828.35 L167.27,828.92 L168.29,829.27 L169.30,829.22 L170.32,828.79 L171.33,828.21 L172.35,827.78 L173.36,827.73 L174.38,828.08 L175.39,828.65 L176.41,829.14 L177.42,829.30 L178.44,829.04 L179.45,828.50 L180.46,827.96 L181.48,827.70 L182.49,827.86 L183.51,828.35 L184.52,828.92 L185.54,829.27 L186.55,829.22 L187.57,828.79 L188.58,828.21 L189.60,827.78 L190.61,827.73 L191.63,828.08 L192.64,828.65 L193.66,829.14 L194.67,829.30 L195.69,829.04 L196.70,828.50" fill="none" stroke="#e05536" stroke-width="1.9"/>
<g transform="translate(162.00,833.40) scale(0.900,0.975)"><path d="M5,16 C2.1,16 0,13.9 0,11 C0,9 0.5,7.3 1.2,5.8 C1.6,6.8 2,7.3 2.6,7.6 C2.6,4.8 3.2,2.2 4.4,0 C5,2.4 5.8,4.2 6.6,5.6 C7.2,4.8 7.9,4 8.6,2.8 C9.6,4.8 10,7.6 10,11 C10,13.9 7.9,16 5,16 Z" fill="#e05536"/><path d="M5.2,7.2 C6,8.8 7.4,9.8 7.4,12 C7.4,13.6 6.4,14.6 5,14.6 C3.6,14.6 2.6,13.6 2.6,12.2 C2.6,11 3.1,10.2 3.6,9.6 C3.8,10.2 4.1,10.6 4.4,10.7 C4.4,9.4 4.7,8.2 5.2,7.2 Z" fill="#ffffff" opacity="0.18"/></g>
<g transform="translate(174.40,833.40) scale(0.900,0.975)"><path d="M5,16 C2.1,16 0,13.9 0,11 C0,9 0.5,7.3 1.2,5.8 C1.6,6.8 2,7.3 2.6,7.6 C2.6,4.8 3.2,2.2 4.4,0 C5,2.4 5.8,4.2 6.6,5.6 C7.2,4.8 7.9,4 8.6,2.8 C9.6,4.8 10,7.6 10,11 C10,13.9 7.9,16 5,16 Z" fill="#e05536"/><path d="M5.2,7.2 C6,8.8 7.4,9.8 7.4,12 C7.4,13.6 6.4,14.6 5,14.6 C3.6,14.6 2.6,13.6 2.6,12.2 C2.6,11 3.1,10.2 3.6,9.6 C3.8,10.2 4.1,10.6 4.4,10.7 C4.4,9.4 4.7,8.2 5.2,7.2 Z" fill="#ffffff" opacity="0.18"/></g>
<rect x="201.80" y="817.30" width="401.5" height="32.0" fill="#fafafa"/>
<rect x="201.80" y="817.30" width="80.30" height="32.0" fill="#f5917f"/>
<rect x="201.80" y="817.30" width="66.92" height="32.0" fill="#e05a3b"/>
<path d="M208.49,827.50V839.50M215.18,827.50V839.50M221.88,827.50V839.50M228.57,827.50V839.50M241.95,827.50V839.50M248.64,827.50V839.50M255.33,827.50V839.50M262.02,827.50V839.50M275.41,827.50V839.50M282.10,827.50V839.50M288.79,827.50V839.50M295.48,827.50V839.50M308.87,827.50V839.50M315.56,827.50V839.50M322.25,827.50V839.50M328.94,827.50V839.50M342.33,827.50V839.50M349.02,827.50V839.50M355.71,827.50V839.50M362.40,827.50V839.50M375.78,827.50V839.50M382.48,827.50V839.50M389.17,827.50V839.50M395.86,827.50V839.50M409.24,827.50V839.50M415.93,827.50V839.50M422.62,827.50V839.50M429.32,827.50V839.50M442.70,827.50V839.50M449.39,827.50V839.50M456.08,827.50V839.50M462.77,827.50V839.50M476.16,827.50V839.50M482.85,827.50V839.50M489.54,827.50V839.50M496.23,827.50V839.50M509.62,827.50V839.50M516.31,827.50V839.50M523.00,827.50V839.50M529.69,827.50V839.50M543.08,827.50V839.50M549.77,827.50V839.50M556.46,827.50V839.50M563.15,827.50V839.50M576.53,827.50V839.50M583.23,827.50V839.50M589.92,827.50V839.50M596.61,827.50V839.50" stroke="#000" stroke-width="0.85" opacity="0.24"/>
<path d="M235.26,817.30V849.30M302.18,817.30V849.30M369.09,817.30V849.30M436.01,817.30V849.30M502.93,817.30V849.30M569.84,817.30V849.30" stroke="#000" stroke-width="0.8" stroke-dasharray="1 1" opacity="0.26"/>
<path d="M268.72,817.30V849.30M335.63,817.30V849.30M402.55,817.30V849.30M469.47,817.30V849.30M536.38,817.30V849.30" stroke="#333" stroke-width="1"/>
<rect x="201.80" y="817.30" width="401.5" height="1.4" fill="#1e1e1e"/>
<rect x="201.80" y="847.60" width="401.5" height="1.9" fill="#1e1e1e"/>
<rect x="201.50" y="817.30" width="1.1" height="32.0" fill="#333"/>
<rect x="602.30" y="817.30" width="1.2" height="32.0" fill="#888"/>
<line x1="31.8" y1="853.00" x2="603.30" y2="853.00" stroke="#8c8c8c" stroke-width="1"/>
<line x1="31.8" y1="855.5" x2="603.3" y2="855.5" stroke="#b5b5b5" stroke-width="1" stroke-dasharray="1 2.3"/>
<text x="30.6" y="872.40" font-size="12.3" fill="#2e2e2e" stroke="#2e2e2e" stroke-width="0.32" textLength="57.52" lengthAdjust="spacingAndGlyphs">Pork Tenderloin</text>
<text transform="translate(31.3,883.10) scale(0.72,1)" font-size="8.6" fill="#646464" stroke="#646464" stroke-width="0.15" letter-spacing="1.972">1 POUND</text>
<text transform="translate(31.1,892.80) scale(0.84,1)" font-size="7.6" font-weight="bold" fill="#e05536" letter-spacing="0.861">AVERAGE COOKING TIME: 18 MIN.</text>
<path d="M162.20,864.20 L163.21,863.66 L164.23,863.40 L165.24,863.56 L166.26,864.05 L167.27,864.62 L168.29,864.97 L169.30,864.92 L170.32,864.49 L171.33,863.91 L172.35,863.48 L173.36,863.43 L174.38,863.78 L175.39,864.35 L176.41,864.84 L177.42,865.00 L178.44,864.74 L179.45,864.20 L180.46,863.66 L181.48,863.40 L182.49,863.56 L183.51,864.05 L184.52,864.62 L185.54,864.97 L186.55,864.92 L187.57,864.49 L188.58,863.91 L189.60,863.48 L190.61,863.43 L191.63,863.78 L192.64,864.35 L193.66,864.84 L194.67,865.00 L195.69,864.74 L196.70,864.20" fill="none" stroke="#e05536" stroke-width="1.9"/>
<path d="M162.20,868.35 L163.21,867.81 L164.23,867.55 L165.24,867.71 L166.26,868.20 L167.27,868.77 L168.29,869.12 L169.30,869.07 L170.32,868.64 L171.33,868.06 L172.35,867.63 L173.36,867.58 L174.38,867.93 L175.39,868.50 L176.41,868.99 L177.42,869.15 L178.44,868.89 L179.45,868.35 L180.46,867.81 L181.48,867.55 L182.49,867.71 L183.51,868.20 L184.52,868.77 L185.54,869.12 L186.55,869.07 L187.57,868.64 L188.58,868.06 L189.60,867.63 L190.61,867.58 L191.63,867.93 L192.64,868.50 L193.66,868.99 L194.67,869.15 L195.69,868.89 L196.70,868.35" fill="none" stroke="#e05536" stroke-width="1.9"/>
<path d="M162.20,872.50 L163.21,871.96 L164.23,871.70 L165.24,871.86 L166.26,872.35 L167.27,872.92 L168.29,873.27 L169.30,873.22 L170.32,872.79 L171.33,872.21 L172.35,871.78 L173.36,871.73 L174.38,872.08 L175.39,872.65 L176.41,873.14 L177.42,873.30 L178.44,873.04 L179.45,872.50 L180.46,871.96 L181.48,871.70 L182.49,871.86 L183.51,872.35 L184.52,872.92 L185.54,873.27 L186.55,873.22 L187.57,872.79 L188.58,872.21 L189.60,871.78 L190.61,871.73 L191.63,872.08 L192.64,872.65 L193.66,873.14 L194.67,873.30 L195.69,873.04 L196.70,872.50" fill="none" stroke="#e05536" stroke-width="1.9"/>
<g transform="translate(162.00,877.40) scale(0.900,0.975)"><path d="M5,16 C2.1,16 0,13.9 0,11 C0,9 0.5,7.3 1.2,5.8 C1.6,6.8 2,7.3 2.6,7.6 C2.6,4.8 3.2,2.2 4.4,0 C5,2.4 5.8,4.2 6.6,5.6 C7.2,4.8 7.9,4 8.6,2.8 C9.6,4.8 10,7.6 10,11 C10,13.9 7.9,16 5,16 Z" fill="#e05536"/><path d="M5.2,7.2 C6,8.8 7.4,9.8 7.4,12 C7.4,13.6 6.4,14.6 5,14.6 C3.6,14.6 2.6,13.6 2.6,12.2 C2.6,11 3.1,10.2 3.6,9.6 C3.8,10.2 4.1,10.6 4.4,10.7 C4.4,9.4 4.7,8.2 5.2,7.2 Z" fill="#ffffff" opacity="0.18"/></g>
<g transform="translate(174.40,877.40) scale(0.900,0.975)"><path d="M5,16 C2.1,16 0,13.9 0,11 C0,9 0.5,7.3 1.2,5.8 C1.6,6.8 2,7.3 2.6,7.6 C2.6,4.8 3.2,2.2 4.4,0 C5,2.4 5.8,4.2 6.6,5.6 C7.2,4.8 7.9,4 8.6,2.8 C9.6,4.8 10,7.6 10,11 C10,13.9 7.9,16 5,16 Z" fill="#e05536"/><path d="M5.2,7.2 C6,8.8 7.4,9.8 7.4,12 C7.4,13.6 6.4,14.6 5,14.6 C3.6,14.6 2.6,13.6 2.6,12.2 C2.6,11 3.1,10.2 3.6,9.6 C3.8,10.2 4.1,10.6 4.4,10.7 C4.4,9.4 4.7,8.2 5.2,7.2 Z" fill="#ffffff" opacity="0.18"/></g>
<rect x="201.80" y="861.30" width="401.5" height="32.0" fill="#fafafa"/>
<rect x="201.80" y="861.30" width="133.83" height="32.0" fill="#f5917f"/>
<rect x="201.80" y="861.30" width="100.38" height="32.0" fill="#e05a3b"/>
<path d="M208.49,871.50V883.50M215.18,871.50V883.50M221.88,871.50V883.50M228.57,871.50V883.50M241.95,871.50V883.50M248.64,871.50V883.50M255.33,871.50V883.50M262.02,871.50V883.50M275.41,871.50V883.50M282.10,871.50V883.50M288.79,871.50V883.50M295.48,871.50V883.50M308.87,871.50V883.50M315.56,871.50V883.50M322.25,871.50V883.50M328.94,871.50V883.50M342.33,871.50V883.50M349.02,871.50V883.50M355.71,871.50V883.50M362.40,871.50V883.50M375.78,871.50V883.50M382.48,871.50V883.50M389.17,871.50V883.50M395.86,871.50V883.50M409.24,871.50V883.50M415.93,871.50V883.50M422.62,871.50V883.50M429.32,871.50V883.50M442.70,871.50V883.50M449.39,871.50V883.50M456.08,871.50V883.50M462.77,871.50V883.50M476.16,871.50V883.50M482.85,871.50V883.50M489.54,871.50V883.50M496.23,871.50V883.50M509.62,871.50V883.50M516.31,871.50V883.50M523.00,871.50V883.50M529.69,871.50V883.50M543.08,871.50V883.50M549.77,871.50V883.50M556.46,871.50V883.50M563.15,871.50V883.50M576.53,871.50V883.50M583.23,871.50V883.50M589.92,871.50V883.50M596.61,871.50V883.50" stroke="#000" stroke-width="0.85" opacity="0.24"/>
<path d="M235.26,861.30V893.30M302.18,861.30V893.30M369.09,861.30V893.30M436.01,861.30V893.30M502.93,861.30V893.30M569.84,861.30V893.30" stroke="#000" stroke-width="0.8" stroke-dasharray="1 1" opacity="0.26"/>
<path d="M268.72,861.30V893.30M335.63,861.30V893.30M402.55,861.30V893.30M469.47,861.30V893.30M536.38,861.30V893.30" stroke="#333" stroke-width="1"/>
<rect x="201.80" y="861.30" width="401.5" height="1.4" fill="#1e1e1e"/>
<rect x="201.80" y="891.60" width="401.5" height="1.9" fill="#1e1e1e"/>
<rect x="201.50" y="861.30" width="1.1" height="32.0" fill="#333"/>
<rect x="602.30" y="861.30" width="1.2" height="32.0" fill="#888"/>
<line x1="31.8" y1="897.00" x2="603.30" y2="897.00" stroke="#8c8c8c" stroke-width="1"/>
<line x1="31.8" y1="899.5" x2="603.3" y2="899.5" stroke="#b5b5b5" stroke-width="1" stroke-dasharray="1 2.3"/>
<text x="30.6" y="916.30" font-size="12.3" fill="#2e2e2e" stroke="#2e2e2e" stroke-width="0.32" textLength="60.88" lengthAdjust="spacingAndGlyphs">Bratwurst, Fresh</text>
<text transform="translate(31.3,927.00) scale(0.72,1)" font-size="8.6" fill="#646464" stroke="#646464" stroke-width="0.15" letter-spacing="1.972">3-OUNCE LINK</text>
<text transform="translate(31.1,936.70) scale(0.84,1)" font-size="7.6" font-weight="bold" fill="#e05536" letter-spacing="0.861">AVERAGE COOKING TIME: 23 MIN.</text>
<path d="M162.20,908.10 L163.21,907.56 L164.23,907.30 L165.24,907.46 L166.26,907.95 L167.27,908.52 L168.29,908.87 L169.30,908.82 L170.32,908.39 L171.33,907.81 L172.35,907.38 L173.36,907.33 L174.38,907.68 L175.39,908.25 L176.41,908.74 L177.42,908.90 L178.44,908.64 L179.45,908.10 L180.46,907.56 L181.48,907.30 L182.49,907.46 L183.51,907.95 L184.52,908.52 L185.54,908.87 L186.55,908.82 L187.57,908.39 L188.58,907.81 L189.60,907.38 L190.61,907.33 L191.63,907.68 L192.64,908.25 L193.66,908.74 L194.67,908.90 L195.69,908.64 L196.70,908.10" fill="none" stroke="#e05536" stroke-width="1.9"/>
<path d="M162.20,912.25 L163.21,911.71 L164.23,911.45 L165.24,911.61 L166.26,912.10 L167.27,912.67 L168.29,913.02 L169.30,912.97 L170.32,912.54 L171.33,911.96 L172.35,911.53 L173.36,911.48 L174.38,911.83 L175.39,912.40 L176.41,912.89 L177.42,913.05 L178.44,912.79 L179.45,912.25 L180.46,911.71 L181.48,911.45 L182.49,911.61 L183.51,912.10 L184.52,912.67 L185.54,913.02 L186.55,912.97 L187.57,912.54 L188.58,911.96 L189.60,911.53 L190.61,911.48 L191.63,911.83 L192.64,912.40 L193.66,912.89 L194.67,913.05 L195.69,912.79 L196.70,912.25" fill="none" stroke="#e05536" stroke-width="1.9"/>
<path d="M162.20,916.40 L163.21,915.86 L164.23,915.60 L165.24,915.76 L166.26,916.25 L167.27,916.82 L168.29,917.17 L169.30,917.12 L170.32,916.69 L171.33,916.11 L172.35,915.68 L173.36,915.63 L174.38,915.98 L175.39,916.55 L176.41,917.04 L177.42,917.20 L178.44,916.94 L179.45,916.40 L180.46,915.86 L181.48,915.60 L182.49,915.76 L183.51,916.25 L184.52,916.82 L185.54,917.17 L186.55,917.12 L187.57,916.69 L188.58,916.11 L189.60,915.68 L190.61,915.63 L191.63,915.98 L192.64,916.55 L193.66,917.04 L194.67,917.20 L195.69,916.94 L196.70,916.40" fill="none" stroke="#e05536" stroke-width="1.9"/>
<g transform="translate(162.00,921.30) scale(0.900,0.975)"><path d="M5,16 C2.1,16 0,13.9 0,11 C0,9 0.5,7.3 1.2,5.8 C1.6,6.8 2,7.3 2.6,7.6 C2.6,4.8 3.2,2.2 4.4,0 C5,2.4 5.8,4.2 6.6,5.6 C7.2,4.8 7.9,4 8.6,2.8 C9.6,4.8 10,7.6 10,11 C10,13.9 7.9,16 5,16 Z" fill="#e05536"/><path d="M5.2,7.2 C6,8.8 7.4,9.8 7.4,12 C7.4,13.6 6.4,14.6 5,14.6 C3.6,14.6 2.6,13.6 2.6,12.2 C2.6,11 3.1,10.2 3.6,9.6 C3.8,10.2 4.1,10.6 4.4,10.7 C4.4,9.4 4.7,8.2 5.2,7.2 Z" fill="#ffffff" opacity="0.18"/></g>
<g transform="translate(174.40,921.30) scale(0.900,0.975)"><path d="M5,16 C2.1,16 0,13.9 0,11 C0,9 0.5,7.3 1.2,5.8 C1.6,6.8 2,7.3 2.6,7.6 C2.6,4.8 3.2,2.2 4.4,0 C5,2.4 5.8,4.2 6.6,5.6 C7.2,4.8 7.9,4 8.6,2.8 C9.6,4.8 10,7.6 10,11 C10,13.9 7.9,16 5,16 Z" fill="#e05536"/><path d="M5.2,7.2 C6,8.8 7.4,9.8 7.4,12 C7.4,13.6 6.4,14.6 5,14.6 C3.6,14.6 2.6,13.6 2.6,12.2 C2.6,11 3.1,10.2 3.6,9.6 C3.8,10.2 4.1,10.6 4.4,10.7 C4.4,9.4 4.7,8.2 5.2,7.2 Z" fill="#ffffff" opacity="0.18"/></g>
<rect x="201.80" y="905.20" width="401.5" height="32.0" fill="#fafafa"/>
<rect x="201.80" y="905.20" width="167.29" height="32.0" fill="#f5917f"/>
<rect x="201.80" y="905.20" width="133.83" height="32.0" fill="#e05a3b"/>
<path d="M208.49,915.40V927.40M215.18,915.40V927.40M221.88,915.40V927.40M228.57,915.40V927.40M241.95,915.40V927.40M248.64,915.40V927.40M255.33,915.40V927.40M262.02,915.40V927.40M275.41,915.40V927.40M282.10,915.40V927.40M288.79,915.40V927.40M295.48,915.40V927.40M308.87,915.40V927.40M315.56,915.40V927.40M322.25,915.40V927.40M328.94,915.40V927.40M342.33,915.40V927.40M349.02,915.40V927.40M355.71,915.40V927.40M362.40,915.40V927.40M375.78,915.40V927.40M382.48,915.40V927.40M389.17,915.40V927.40M395.86,915.40V927.40M409.24,915.40V927.40M415.93,915.40V927.40M422.62,915.40V927.40M429.32,915.40V927.40M442.70,915.40V927.40M449.39,915.40V927.40M456.08,915.40V927.40M462.77,915.40V927.40M476.16,915.40V927.40M482.85,915.40V927.40M489.54,915.40V927.40M496.23,915.40V927.40M509.62,915.40V927.40M516.31,915.40V927.40M523.00,915.40V927.40M529.69,915.40V927.40M543.08,915.40V927.40M549.77,915.40V927.40M556.46,915.40V927.40M563.15,915.40V927.40M576.53,915.40V927.40M583.23,915.40V927.40M589.92,915.40V927.40M596.61,915.40V927.40" stroke="#000" stroke-width="0.85" opacity="0.24"/>
<path d="M235.26,905.20V937.20M302.18,905.20V937.20M369.09,905.20V937.20M436.01,905.20V937.20M502.93,905.20V937.20M569.84,905.20V937.20" stroke="#000" stroke-width="0.8" stroke-dasharray="1 1" opacity="0.26"/>
<path d="M268.72,905.20V937.20M335.63,905.20V937.20M402.55,905.20V937.20M469.47,905.20V937.20M536.38,905.20V937.20" stroke="#333" stroke-width="1"/>
<rect x="201.80" y="905.20" width="401.5" height="1.4" fill="#1e1e1e"/>
<rect x="201.80" y="935.50" width="401.5" height="1.9" fill="#1e1e1e"/>
<rect x="201.50" y="905.20" width="1.1" height="32.0" fill="#333"/>
<rect x="602.30" y="905.20" width="1.2" height="32.0" fill="#888"/>
<line x1="31.8" y1="940.90" x2="603.30" y2="940.90" stroke="#8c8c8c" stroke-width="1"/>
<line x1="31.8" y1="943.4000000000001" x2="603.3" y2="943.4000000000001" stroke="#b5b5b5" stroke-width="1" stroke-dasharray="1 2.3"/>
<g transform="translate(250.44,980.95) translate(-6.39,-17.50) scale(1,0.8113)"><path d="M12.78,12.94 V8.66 A6.39,8.66 0 0 0 0.00,8.66 V34.48 A6.39,8.66 0 0 0 12.78,34.48 V30.20" fill="none" stroke="#6a6a6a" stroke-width="6.70" stroke-linejoin="miter" stroke-miterlimit="5" stroke-linecap="butt"/><path d="M12.78,12.94 V8.66 A6.39,8.66 0 0 0 0.00,8.66 V34.48 A6.39,8.66 0 0 0 12.78,34.48 V30.20" fill="none" stroke="#f5f5f5" stroke-width="5.30" stroke-linejoin="miter" stroke-miterlimit="5" stroke-linecap="butt"/></g>
<g transform="translate(274.46,980.95) translate(-6.98,-17.50) scale(1,0.8113)"><path d="M0.00,-2.65 V45.79 M13.96,-2.65 V45.79 M0.00,20.28 H13.96" fill="none" stroke="#6a6a6a" stroke-width="6.70" stroke-linejoin="miter" stroke-miterlimit="5" stroke-linecap="butt"/><path d="M0.00,-2.65 V45.79 M13.96,-2.65 V45.79 M0.00,20.28 H13.96" fill="none" stroke="#f5f5f5" stroke-width="5.30" stroke-linejoin="miter" stroke-miterlimit="5" stroke-linecap="butt"/></g>
<g transform="translate(292.79,980.95) translate(-0.69,-17.50) scale(1,0.8113)"><path d="M0.00,-2.65 V45.79" fill="none" stroke="#6a6a6a" stroke-width="6.70" stroke-linejoin="miter" stroke-miterlimit="5" stroke-linecap="butt"/><path d="M0.00,-2.65 V45.79" fill="none" stroke="#f5f5f5" stroke-width="5.30" stroke-linejoin="miter" stroke-miterlimit="5" stroke-linecap="butt"/></g>
<g transform="translate(310.53,980.95) translate(-6.39,-17.50) scale(1,0.8113)"><path d="M12.78,12.94 V8.66 A6.39,8.66 0 0 0 0.00,8.66 V34.48 A6.39,8.66 0 0 0 12.78,34.48 V30.20" fill="none" stroke="#6a6a6a" stroke-width="6.70" stroke-linejoin="miter" stroke-miterlimit="5" stroke-linecap="butt"/><path d="M12.78,12.94 V8.66 A6.39,8.66 0 0 0 0.00,8.66 V34.48 A6.39,8.66 0 0 0 12.78,34.48 V30.20" fill="none" stroke="#f5f5f5" stroke-width="5.30" stroke-linejoin="miter" stroke-miterlimit="5" stroke-linecap="butt"/></g>
<g transform="translate(334.55,980.95) translate(-6.98,-17.50) scale(1,0.8113)"><path d="M0.00,-2.65 V45.79 M13.96,-2.65 L0.00,27.61 M4.75,18.12 L13.96,45.79" fill="none" stroke="#6a6a6a" stroke-width="6.70" stroke-linejoin="miter" stroke-miterlimit="5" stroke-linecap="butt"/><path d="M0.00,-2.65 V45.79 M13.96,-2.65 L0.00,27.61 M4.75,18.12 L13.96,45.79" fill="none" stroke="#f5f5f5" stroke-width="5.30" stroke-linejoin="miter" stroke-miterlimit="5" stroke-linecap="butt"/></g>
<g transform="translate(356.81,980.95) translate(-4.62,-17.50) scale(1,0.8113)"><path d="M11.89,0.00 H0 V43.14 H11.89 M0.00,20.71 H10.60" fill="none" stroke="#6a6a6a" stroke-width="6.70" stroke-linejoin="miter" stroke-miterlimit="5" stroke-linecap="butt"/><path d="M11.89,0.00 H0 V43.14 H11.89 M0.00,20.71 H10.60" fill="none" stroke="#f5f5f5" stroke-width="5.30" stroke-linejoin="miter" stroke-miterlimit="5" stroke-linecap="butt"/></g>
<g transform="translate(378.87,980.95) translate(-6.78,-17.50) scale(1,0.8113)"><path d="M0.00,45.79 V0.00 L13.56,43.14 V-2.65" fill="none" stroke="#6a6a6a" stroke-width="6.70" stroke-linejoin="miter" stroke-miterlimit="5" stroke-linecap="butt"/><path d="M0.00,45.79 V0.00 L13.56,43.14 V-2.65" fill="none" stroke="#f5f5f5" stroke-width="5.30" stroke-linejoin="miter" stroke-miterlimit="5" stroke-linecap="butt"/></g>
<g transform="translate(252.04,979.05) translate(-6.39,-17.50) scale(1,0.8113)"><path d="M12.78,12.94 V8.66 A6.39,8.66 0 0 0 0.00,8.66 V34.48 A6.39,8.66 0 0 0 12.78,34.48 V30.20" fill="none" stroke="#2b2b2b" stroke-width="5.30" stroke-linejoin="miter" stroke-miterlimit="5" stroke-linecap="butt"/></g>
<g transform="translate(276.06,979.05) translate(-6.98,-17.50) scale(1,0.8113)"><path d="M0.00,-2.65 V45.79 M13.96,-2.65 V45.79 M0.00,20.28 H13.96" fill="none" stroke="#2b2b2b" stroke-width="5.30" stroke-linejoin="miter" stroke-miterlimit="5" stroke-linecap="butt"/></g>
<g transform="translate(294.39,979.05) translate(-0.69,-17.50) scale(1,0.8113)"><path d="M0.00,-2.65 V45.79" fill="none" stroke="#2b2b2b" stroke-width="5.30" stroke-linejoin="miter" stroke-miterlimit="5" stroke-linecap="butt"/></g>
<g transform="translate(312.13,979.05) translate(-6.39,-17.50) scale(1,0.8113)"><path d="M12.78,12.94 V8.66 A6.39,8.66 0 0 0 0.00,8.66 V34.48 A6.39,8.66 0 0 0 12.78,34.48 V30.20" fill="none" stroke="#2b2b2b" stroke-width="5.30" stroke-linejoin="miter" stroke-miterlimit="5" stroke-linecap="butt"/></g>
<g transform="translate(336.15,979.05) translate(-6.98,-17.50) scale(1,0.8113)"><path d="M0.00,-2.65 V45.79 M13.96,-2.65 L0.00,27.61 M4.75,18.12 L13.96,45.79" fill="none" stroke="#2b2b2b" stroke-width="5.30" stroke-linejoin="miter" stroke-miterlimit="5" stroke-linecap="butt"/></g>
<g transform="translate(358.41,979.05) translate(-4.62,-17.50) scale(1,0.8113)"><path d="M11.89,0.00 H0 V43.14 H11.89 M0.00,20.71 H10.60" fill="none" stroke="#2b2b2b" stroke-width="5.30" stroke-linejoin="miter" stroke-miterlimit="5" stroke-linecap="butt"/></g>
<g transform="translate(380.47,979.05) translate(-6.78,-17.50) scale(1,0.8113)"><path d="M0.00,45.79 V0.00 L13.56,43.14 V-2.65" fill="none" stroke="#2b2b2b" stroke-width="5.30" stroke-linejoin="miter" stroke-miterlimit="5" stroke-linecap="butt"/></g>
<path d="M32.00,972.00 L35.60,979.10 L32.00,986.20 M35.87,972.00 L39.47,979.10 L35.87,986.20 M39.74,972.00 L43.34,979.10 L39.74,986.20 M43.61,972.00 L47.21,979.10 L43.61,986.20 M47.48,972.00 L51.08,979.10 L47.48,986.20 M51.35,972.00 L54.95,979.10 L51.35,986.20 M55.22,972.00 L58.82,979.10 L55.22,986.20 M59.09,972.00 L62.69,979.10 L59.09,986.20 M62.96,972.00 L66.56,979.10 L62.96,986.20 M66.83,972.00 L70.43,979.10 L66.83,986.20 M70.70,972.00 L74.30,979.10 L70.70,986.20 M74.57,972.00 L78.17,979.10 L74.57,986.20 M78.44,972.00 L82.04,979.10 L78.44,986.20 M82.31,972.00 L85.91,979.10 L82.31,986.20 M86.18,972.00 L89.78,979.10 L86.18,986.20 M90.05,972.00 L93.65,979.10 L90.05,986.20 M93.92,972.00 L97.52,979.10 L93.92,986.20 M97.79,972.00 L101.39,979.10 L97.79,986.20 M101.66,972.00 L105.26,979.10 L101.66,986.20 M105.53,972.00 L109.13,979.10 L105.53,986.20 M109.40,972.00 L113.00,979.10 L109.40,986.20 M113.27,972.00 L116.87,979.10 L113.27,986.20 M117.14,972.00 L120.74,979.10 L117.14,986.20 M121.01,972.00 L124.61,979.10 L121.01,986.20 M124.88,972.00 L128.48,979.10 L124.88,986.20 M128.75,972.00 L132.35,979.10 L128.75,986.20 M132.62,972.00 L136.22,979.10 L132.62,986.20 M136.49,972.00 L140.09,979.10 L136.49,986.20 M140.36,972.00 L143.96,979.10 L140.36,986.20 M144.23,972.00 L147.83,979.10 L144.23,986.20 M148.10,972.00 L151.70,979.10 L148.10,986.20 M151.97,972.00 L155.57,979.10 L151.97,986.20 M155.84,972.00 L159.44,979.10 L155.84,986.20 M159.71,972.00 L163.31,979.10 L159.71,986.20 M163.58,972.00 L167.18,979.10 L163.58,986.20 M167.45,972.00 L171.05,979.10 L167.45,986.20 M171.32,972.00 L174.92,979.10 L171.32,986.20 M175.19,972.00 L178.79,979.10 L175.19,986.20 M179.06,972.00 L182.66,979.10 L179.06,986.20 M182.93,972.00 L186.53,979.10 L182.93,986.20 M186.80,972.00 L190.40,979.10 L186.80,986.20 M190.67,972.00 L194.27,979.10 L190.67,986.20 M194.54,972.00 L198.14,979.10 L194.54,986.20 M198.41,972.00 L202.01,979.10 L198.41,986.20 M202.28,972.00 L205.88,979.10 L202.28,986.20 M206.15,972.00 L209.75,979.10 L206.15,986.20 M210.02,972.00 L213.62,979.10 L210.02,986.20 " fill="none" stroke="#8a8a8a" stroke-width="1.25"/>
<path d="M604.00,972.00 L600.40,979.10 L604.00,986.20 M600.13,972.00 L596.53,979.10 L600.13,986.20 M596.26,972.00 L592.66,979.10 L596.26,986.20 M592.39,972.00 L588.79,979.10 L592.39,986.20 M588.52,972.00 L584.92,979.10 L588.52,986.20 M584.65,972.00 L581.05,979.10 L584.65,986.20 M580.78,972.00 L577.18,979.10 L580.78,986.20 M576.91,972.00 L573.31,979.10 L576.91,986.20 M573.04,972.00 L569.44,979.10 L573.04,986.20 M569.17,972.00 L565.57,979.10 L569.17,986.20 M565.30,972.00 L561.70,979.10 L565.30,986.20 M561.43,972.00 L557.83,979.10 L561.43,986.20 M557.56,972.00 L553.96,979.10 L557.56,986.20 M553.69,972.00 L550.09,979.10 L553.69,986.20 M549.82,972.00 L546.22,979.10 L549.82,986.20 M545.95,972.00 L542.35,979.10 L545.95,986.20 M542.08,972.00 L538.48,979.10 L542.08,986.20 M538.21,972.00 L534.61,979.10 L538.21,986.20 M534.34,972.00 L530.74,979.10 L534.34,986.20 M530.47,972.00 L526.87,979.10 L530.47,986.20 M526.60,972.00 L523.00,979.10 L526.60,986.20 M522.73,972.00 L519.13,979.10 L522.73,986.20 M518.86,972.00 L515.26,979.10 L518.86,986.20 M514.99,972.00 L511.39,979.10 L514.99,986.20 M511.12,972.00 L507.52,979.10 L511.12,986.20 M507.25,972.00 L503.65,979.10 L507.25,986.20 M503.38,972.00 L499.78,979.10 L503.38,986.20 M499.51,972.00 L495.91,979.10 L499.51,986.20 M495.64,972.00 L492.04,979.10 L495.64,986.20 M491.77,972.00 L488.17,979.10 L491.77,986.20 M487.90,972.00 L484.30,979.10 L487.90,986.20 M484.03,972.00 L480.43,979.10 L484.03,986.20 M480.16,972.00 L476.56,979.10 L480.16,986.20 M476.29,972.00 L472.69,979.10 L476.29,986.20 M472.42,972.00 L468.82,979.10 L472.42,986.20 M468.55,972.00 L464.95,979.10 L468.55,986.20 M464.68,972.00 L461.08,979.10 L464.68,986.20 M460.81,972.00 L457.21,979.10 L460.81,986.20 M456.94,972.00 L453.34,979.10 L456.94,986.20 M453.07,972.00 L449.47,979.10 L453.07,986.20 M449.20,972.00 L445.60,979.10 L449.20,986.20 M445.33,972.00 L441.73,979.10 L445.33,986.20 M441.46,972.00 L437.86,979.10 L441.46,986.20 M437.59,972.00 L433.99,979.10 L437.59,986.20 M433.72,972.00 L430.12,979.10 L433.72,986.20 M429.85,972.00 L426.25,979.10 L429.85,986.20 M425.98,972.00 L422.38,979.10 L425.98,986.20 M422.11,972.00 L418.51,979.10 L422.11,986.20 " fill="none" stroke="#8a8a8a" stroke-width="1.25"/>
<text transform="translate(200.40,1013.50) scale(0.8,1)" font-size="7.3" fill="#555" text-anchor="middle">0</text>
<line x1="200.40" y1="1014.10" x2="200.40" y2="1021.1" stroke="#444" stroke-width="0.9"/>
<text transform="translate(267.32,1013.50) scale(0.8,1)" font-size="7.3" fill="#555" text-anchor="middle">10</text>
<line x1="267.32" y1="1014.10" x2="267.32" y2="1021.1" stroke="#444" stroke-width="0.9"/>
<text transform="translate(334.23,1013.50) scale(0.8,1)" font-size="7.3" fill="#555" text-anchor="middle">20</text>
<line x1="334.23" y1="1014.10" x2="334.23" y2="1021.1" stroke="#444" stroke-width="0.9"/>
<text transform="translate(401.15,1013.50) scale(0.8,1)" font-size="7.3" fill="#555" text-anchor="middle">30</text>
<line x1="401.15" y1="1014.10" x2="401.15" y2="1021.1" stroke="#444" stroke-width="0.9"/>
<text transform="translate(468.07,1013.50) scale(0.8,1)" font-size="7.3" fill="#555" text-anchor="middle">40</text>
<line x1="468.07" y1="1014.10" x2="468.07" y2="1021.1" stroke="#444" stroke-width="0.9"/>
<text transform="translate(534.98,1013.50) scale(0.8,1)" font-size="7.3" fill="#555" text-anchor="middle">50</text>
<line x1="534.98" y1="1014.10" x2="534.98" y2="1021.1" stroke="#444" stroke-width="0.9"/>
<text transform="translate(601.90,1013.50) scale(0.8,1)" font-size="7.3" fill="#555" text-anchor="middle">60</text>
<line x1="601.90" y1="1014.10" x2="601.90" y2="1021.1" stroke="#444" stroke-width="0.9"/>
<text x="30.6" y="1032.20" font-size="12.3" fill="#2e2e2e" stroke="#2e2e2e" stroke-width="0.32" textLength="124.87" lengthAdjust="spacingAndGlyphs">Boneless, Skinless Chicken Thigh</text>
<text transform="translate(31.3,1042.90) scale(0.72,1)" font-size="8.6" fill="#646464" stroke="#646464" stroke-width="0.15" letter-spacing="1.972">4 OUNCES</text>
<text transform="translate(31.1,1052.60) scale(0.84,1)" font-size="7.6" font-weight="bold" fill="#e05536" letter-spacing="0.838">AVERAGE COOKING TIME: 9 MIN.</text>
<path d="M162.20,1024.00 L163.21,1023.46 L164.23,1023.20 L165.24,1023.36 L166.26,1023.85 L167.27,1024.42 L168.29,1024.77 L169.30,1024.72 L170.32,1024.29 L171.33,1023.71 L172.35,1023.28 L173.36,1023.23 L174.38,1023.58 L175.39,1024.15 L176.41,1024.64 L177.42,1024.80 L178.44,1024.54 L179.45,1024.00 L180.46,1023.46 L181.48,1023.20 L182.49,1023.36 L183.51,1023.85 L184.52,1024.42 L185.54,1024.77 L186.55,1024.72 L187.57,1024.29 L188.58,1023.71 L189.60,1023.28 L190.61,1023.23 L191.63,1023.58 L192.64,1024.15 L193.66,1024.64 L194.67,1024.80 L195.69,1024.54 L196.70,1024.00" fill="none" stroke="#e05536" stroke-width="1.9"/>
<path d="M162.20,1028.15 L163.21,1027.61 L164.23,1027.35 L165.24,1027.51 L166.26,1028.00 L167.27,1028.57 L168.29,1028.92 L169.30,1028.87 L170.32,1028.44 L171.33,1027.86 L172.35,1027.43 L173.36,1027.38 L174.38,1027.73 L175.39,1028.30 L176.41,1028.79 L177.42,1028.95 L178.44,1028.69 L179.45,1028.15 L180.46,1027.61 L181.48,1027.35 L182.49,1027.51 L183.51,1028.00 L184.52,1028.57 L185.54,1028.92 L186.55,1028.87 L187.57,1028.44 L188.58,1027.86 L189.60,1027.43 L190.61,1027.38 L191.63,1027.73 L192.64,1028.30 L193.66,1028.79 L194.67,1028.95 L195.69,1028.69 L196.70,1028.15" fill="none" stroke="#e05536" stroke-width="1.9"/>
<path d="M162.20,1032.30 L163.21,1031.76 L164.23,1031.50 L165.24,1031.66 L166.26,1032.15 L167.27,1032.72 L168.29,1033.07 L169.30,1033.02 L170.32,1032.59 L171.33,1032.01 L172.35,1031.58 L173.36,1031.53 L174.38,1031.88 L175.39,1032.45 L176.41,1032.94 L177.42,1033.10 L178.44,1032.84 L179.45,1032.30 L180.46,1031.76 L181.48,1031.50 L182.49,1031.66 L183.51,1032.15 L184.52,1032.72 L185.54,1033.07 L186.55,1033.02 L187.57,1032.59 L188.58,1032.01 L189.60,1031.58 L190.61,1031.53 L191.63,1031.88 L192.64,1032.45 L193.66,1032.94 L194.67,1033.10 L195.69,1032.84 L196.70,1032.30" fill="none" stroke="#e05536" stroke-width="1.9"/>
<g transform="translate(162.00,1037.20) scale(0.900,0.975)"><path d="M5,16 C2.1,16 0,13.9 0,11 C0,9 0.5,7.3 1.2,5.8 C1.6,6.8 2,7.3 2.6,7.6 C2.6,4.8 3.2,2.2 4.4,0 C5,2.4 5.8,4.2 6.6,5.6 C7.2,4.8 7.9,4 8.6,2.8 C9.6,4.8 10,7.6 10,11 C10,13.9 7.9,16 5,16 Z" fill="#e05536"/><path d="M5.2,7.2 C6,8.8 7.4,9.8 7.4,12 C7.4,13.6 6.4,14.6 5,14.6 C3.6,14.6 2.6,13.6 2.6,12.2 C2.6,11 3.1,10.2 3.6,9.6 C3.8,10.2 4.1,10.6 4.4,10.7 C4.4,9.4 4.7,8.2 5.2,7.2 Z" fill="#ffffff" opacity="0.18"/></g>
<g transform="translate(174.40,1037.20) scale(0.900,0.975)"><path d="M5,16 C2.1,16 0,13.9 0,11 C0,9 0.5,7.3 1.2,5.8 C1.6,6.8 2,7.3 2.6,7.6 C2.6,4.8 3.2,2.2 4.4,0 C5,2.4 5.8,4.2 6.6,5.6 C7.2,4.8 7.9,4 8.6,2.8 C9.6,4.8 10,7.6 10,11 C10,13.9 7.9,16 5,16 Z" fill="#e05536"/><path d="M5.2,7.2 C6,8.8 7.4,9.8 7.4,12 C7.4,13.6 6.4,14.6 5,14.6 C3.6,14.6 2.6,13.6 2.6,12.2 C2.6,11 3.1,10.2 3.6,9.6 C3.8,10.2 4.1,10.6 4.4,10.7 C4.4,9.4 4.7,8.2 5.2,7.2 Z" fill="#ffffff" opacity="0.18"/></g>
<rect x="200.40" y="1021.10" width="401.5" height="32.0" fill="#fafafa"/>
<rect x="200.40" y="1021.10" width="66.92" height="32.0" fill="#f5917f"/>
<rect x="200.40" y="1021.10" width="53.53" height="32.0" fill="#e05a3b"/>
<path d="M207.09,1031.30V1043.30M213.78,1031.30V1043.30M220.47,1031.30V1043.30M227.17,1031.30V1043.30M240.55,1031.30V1043.30M247.24,1031.30V1043.30M253.93,1031.30V1043.30M260.62,1031.30V1043.30M274.01,1031.30V1043.30M280.70,1031.30V1043.30M287.39,1031.30V1043.30M294.08,1031.30V1043.30M307.47,1031.30V1043.30M314.16,1031.30V1043.30M320.85,1031.30V1043.30M327.54,1031.30V1043.30M340.93,1031.30V1043.30M347.62,1031.30V1043.30M354.31,1031.30V1043.30M361.00,1031.30V1043.30M374.38,1031.30V1043.30M381.07,1031.30V1043.30M387.77,1031.30V1043.30M394.46,1031.30V1043.30M407.84,1031.30V1043.30M414.53,1031.30V1043.30M421.23,1031.30V1043.30M427.92,1031.30V1043.30M441.30,1031.30V1043.30M447.99,1031.30V1043.30M454.68,1031.30V1043.30M461.38,1031.30V1043.30M474.76,1031.30V1043.30M481.45,1031.30V1043.30M488.14,1031.30V1043.30M494.83,1031.30V1043.30M508.22,1031.30V1043.30M514.91,1031.30V1043.30M521.60,1031.30V1043.30M528.29,1031.30V1043.30M541.67,1031.30V1043.30M548.37,1031.30V1043.30M555.06,1031.30V1043.30M561.75,1031.30V1043.30M575.13,1031.30V1043.30M581.83,1031.30V1043.30M588.52,1031.30V1043.30M595.21,1031.30V1043.30" stroke="#000" stroke-width="0.85" opacity="0.24"/>
<path d="M233.86,1021.10V1053.10M300.77,1021.10V1053.10M367.69,1021.10V1053.10M434.61,1021.10V1053.10M501.52,1021.10V1053.10M568.44,1021.10V1053.10" stroke="#000" stroke-width="0.8" stroke-dasharray="1 1" opacity="0.26"/>
<path d="M267.32,1021.10V1053.10M334.23,1021.10V1053.10M401.15,1021.10V1053.10M468.07,1021.10V1053.10M534.98,1021.10V1053.10" stroke="#333" stroke-width="1"/>
<rect x="200.40" y="1021.10" width="401.5" height="1.4" fill="#1e1e1e"/>
<rect x="200.40" y="1051.40" width="401.5" height="1.9" fill="#1e1e1e"/>
<rect x="200.10" y="1021.10" width="1.1" height="32.0" fill="#333"/>
<rect x="600.90" y="1021.10" width="1.2" height="32.0" fill="#888"/>
<line x1="31.8" y1="1056.80" x2="601.90" y2="1056.80" stroke="#8c8c8c" stroke-width="1"/>
<line x1="31.8" y1="1059.3" x2="601.9" y2="1059.3" stroke="#b5b5b5" stroke-width="1" stroke-dasharray="1 2.3"/>
<text x="30.6" y="1074.40" font-size="12.3" fill="#2e2e2e" stroke="#2e2e2e" stroke-width="0.32" textLength="128.24" lengthAdjust="spacingAndGlyphs">Boneless, Skinless Chicken Breast</text>
<text transform="translate(31.3,1085.10) scale(0.72,1)" font-size="8.6" fill="#646464" stroke="#646464" stroke-width="0.15" letter-spacing="1.972">6-8 OUNCES</text>
<text transform="translate(31.1,1094.80) scale(0.84,1)" font-size="7.6" font-weight="bold" fill="#e05536" letter-spacing="0.848">AVERAGE COOKING TIME: 10 MIN.</text>
<path d="M162.20,1066.20 L163.21,1065.66 L164.23,1065.40 L165.24,1065.56 L166.26,1066.05 L167.27,1066.62 L168.29,1066.97 L169.30,1066.92 L170.32,1066.49 L171.33,1065.91 L172.35,1065.48 L173.36,1065.43 L174.38,1065.78 L175.39,1066.35 L176.41,1066.84 L177.42,1067.00 L178.44,1066.74 L179.45,1066.20 L180.46,1065.66 L181.48,1065.40 L182.49,1065.56 L183.51,1066.05 L184.52,1066.62 L185.54,1066.97 L186.55,1066.92 L187.57,1066.49 L188.58,1065.91 L189.60,1065.48 L190.61,1065.43 L191.63,1065.78 L192.64,1066.35 L193.66,1066.84 L194.67,1067.00 L195.69,1066.74 L196.70,1066.20" fill="none" stroke="#e05536" stroke-width="1.9"/>
<path d="M162.20,1070.35 L163.21,1069.81 L164.23,1069.55 L165.24,1069.71 L166.26,1070.20 L167.27,1070.77 L168.29,1071.12 L169.30,1071.07 L170.32,1070.64 L171.33,1070.06 L172.35,1069.63 L173.36,1069.58 L174.38,1069.93 L175.39,1070.50 L176.41,1070.99 L177.42,1071.15 L178.44,1070.89 L179.45,1070.35 L180.46,1069.81 L181.48,1069.55 L182.49,1069.71 L183.51,1070.20 L184.52,1070.77 L185.54,1071.12 L186.55,1071.07 L187.57,1070.64 L188.58,1070.06 L189.60,1069.63 L190.61,1069.58 L191.63,1069.93 L192.64,1070.50 L193.66,1070.99 L194.67,1071.15 L195.69,1070.89 L196.70,1070.35" fill="none" stroke="#e05536" stroke-width="1.9"/>
<path d="M162.20,1074.50 L163.21,1073.96 L164.23,1073.70 L165.24,1073.86 L166.26,1074.35 L167.27,1074.92 L168.29,1075.27 L169.30,1075.22 L170.32,1074.79 L171.33,1074.21 L172.35,1073.78 L173.36,1073.73 L174.38,1074.08 L175.39,1074.65 L176.41,1075.14 L177.42,1075.30 L178.44,1075.04 L179.45,1074.50 L180.46,1073.96 L181.48,1073.70 L182.49,1073.86 L183.51,1074.35 L184.52,1074.92 L185.54,1075.27 L186.55,1075.22 L187.57,1074.79 L188.58,1074.21 L189.60,1073.78 L190.61,1073.73 L191.63,1074.08 L192.64,1074.65 L193.66,1075.14 L194.67,1075.30 L195.69,1075.04 L196.70,1074.50" fill="none" stroke="#e05536" stroke-width="1.9"/>
<g transform="translate(162.00,1079.40) scale(0.900,0.975)"><path d="M5,16 C2.1,16 0,13.9 0,11 C0,9 0.5,7.3 1.2,5.8 C1.6,6.8 2,7.3 2.6,7.6 C2.6,4.8 3.2,2.2 4.4,0 C5,2.4 5.8,4.2 6.6,5.6 C7.2,4.8 7.9,4 8.6,2.8 C9.6,4.8 10,7.6 10,11 C10,13.9 7.9,16 5,16 Z" fill="#e05536"/><path d="M5.2,7.2 C6,8.8 7.4,9.8 7.4,12 C7.4,13.6 6.4,14.6 5,14.6 C3.6,14.6 2.6,13.6 2.6,12.2 C2.6,11 3.1,10.2 3.6,9.6 C3.8,10.2 4.1,10.6 4.4,10.7 C4.4,9.4 4.7,8.2 5.2,7.2 Z" fill="#ffffff" opacity="0.18"/></g>
<g transform="translate(174.40,1079.40) scale(0.900,0.975)"><path d="M5,16 C2.1,16 0,13.9 0,11 C0,9 0.5,7.3 1.2,5.8 C1.6,6.8 2,7.3 2.6,7.6 C2.6,4.8 3.2,2.2 4.4,0 C5,2.4 5.8,4.2 6.6,5.6 C7.2,4.8 7.9,4 8.6,2.8 C9.6,4.8 10,7.6 10,11 C10,13.9 7.9,16 5,16 Z" fill="#e05536"/><path d="M5.2,7.2 C6,8.8 7.4,9.8 7.4,12 C7.4,13.6 6.4,14.6 5,14.6 C3.6,14.6 2.6,13.6 2.6,12.2 C2.6,11 3.1,10.2 3.6,9.6 C3.8,10.2 4.1,10.6 4.4,10.7 C4.4,9.4 4.7,8.2 5.2,7.2 Z" fill="#ffffff" opacity="0.18"/></g>
<rect x="200.40" y="1063.30" width="401.5" height="32.0" fill="#fafafa"/>
<rect x="200.40" y="1063.30" width="80.30" height="32.0" fill="#f5917f"/>
<rect x="200.40" y="1063.30" width="53.53" height="32.0" fill="#e05a3b"/>
<path d="M207.09,1073.50V1085.50M213.78,1073.50V1085.50M220.47,1073.50V1085.50M227.17,1073.50V1085.50M240.55,1073.50V1085.50M247.24,1073.50V1085.50M253.93,1073.50V1085.50M260.62,1073.50V1085.50M274.01,1073.50V1085.50M280.70,1073.50V1085.50M287.39,1073.50V1085.50M294.08,1073.50V1085.50M307.47,1073.50V1085.50M314.16,1073.50V1085.50M320.85,1073.50V1085.50M327.54,1073.50V1085.50M340.93,1073.50V1085.50M347.62,1073.50V1085.50M354.31,1073.50V1085.50M361.00,1073.50V1085.50M374.38,1073.50V1085.50M381.07,1073.50V1085.50M387.77,1073.50V1085.50M394.46,1073.50V1085.50M407.84,1073.50V1085.50M414.53,1073.50V1085.50M421.23,1073.50V1085.50M427.92,1073.50V1085.50M441.30,1073.50V1085.50M447.99,1073.50V1085.50M454.68,1073.50V1085.50M461.38,1073.50V1085.50M474.76,1073.50V1085.50M481.45,1073.50V1085.50M488.14,1073.50V1085.50M494.83,1073.50V1085.50M508.22,1073.50V1085.50M514.91,1073.50V1085.50M521.60,1073.50V1085.50M528.29,1073.50V1085.50M541.67,1073.50V1085.50M548.37,1073.50V1085.50M555.06,1073.50V1085.50M561.75,1073.50V1085.50M575.13,1073.50V1085.50M581.83,1073.50V1085.50M588.52,1073.50V1085.50M595.21,1073.50V1085.50" stroke="#000" stroke-width="0.85" opacity="0.24"/>
<path d="M233.86,1063.30V1095.30M300.77,1063.30V1095.30M367.69,1063.30V1095.30M434.61,1063.30V1095.30M501.52,1063.30V1095.30M568.44,1063.30V1095.30" stroke="#000" stroke-width="0.8" stroke-dasharray="1 1" opacity="0.26"/>
<path d="M267.32,1063.30V1095.30M334.23,1063.30V1095.30M401.15,1063.30V1095.30M468.07,1063.30V1095.30M534.98,1063.30V1095.30" stroke="#333" stroke-width="1"/>
<rect x="200.40" y="1063.30" width="401.5" height="1.4" fill="#1e1e1e"/>
<rect x="200.40" y="1093.60" width="401.5" height="1.9" fill="#1e1e1e"/>
<rect x="200.10" y="1063.30" width="1.1" height="32.0" fill="#333"/>
<rect x="600.90" y="1063.30" width="1.2" height="32.0" fill="#888"/>
<line x1="31.8" y1="1099.00" x2="601.90" y2="1099.00" stroke="#8c8c8c" stroke-width="1"/>
<line x1="31.8" y1="1101.5" x2="601.9" y2="1101.5" stroke="#b5b5b5" stroke-width="1" stroke-dasharray="1 2.3"/>
<text x="30.6" y="1118.20" font-size="12.3" fill="#2e2e2e" stroke="#2e2e2e" stroke-width="0.32" textLength="89.81" lengthAdjust="spacingAndGlyphs">Chicken Thigh, Bone-In*</text>
<text transform="translate(31.3,1128.90) scale(0.72,1)" font-size="8.6" fill="#646464" stroke="#646464" stroke-width="0.15" letter-spacing="1.972">2-3 OUNCES</text>
<text transform="translate(31.1,1138.60) scale(0.84,1)" font-size="7.6" font-weight="bold" fill="#6fb2af" letter-spacing="0.848">AVERAGE COOKING TIME: 40 MIN.</text>
<path d="M162.20,1110.00 L163.21,1109.46 L164.23,1109.20 L165.24,1109.36 L166.26,1109.85 L167.27,1110.42 L168.29,1110.77 L169.30,1110.72 L170.32,1110.29 L171.33,1109.71 L172.35,1109.28 L173.36,1109.23 L174.38,1109.58 L175.39,1110.15 L176.41,1110.64 L177.42,1110.80 L178.44,1110.54 L179.45,1110.00 L180.46,1109.46 L181.48,1109.20 L182.49,1109.36 L183.51,1109.85 L184.52,1110.42 L185.54,1110.77 L186.55,1110.72 L187.57,1110.29 L188.58,1109.71 L189.60,1109.28 L190.61,1109.23 L191.63,1109.58 L192.64,1110.15 L193.66,1110.64 L194.67,1110.80 L195.69,1110.54 L196.70,1110.00" fill="none" stroke="#7bb8b5" stroke-width="1.9"/>
<path d="M162.20,1114.15 L163.21,1113.61 L164.23,1113.35 L165.24,1113.51 L166.26,1114.00 L167.27,1114.57 L168.29,1114.92 L169.30,1114.87 L170.32,1114.44 L171.33,1113.86 L172.35,1113.43 L173.36,1113.38 L174.38,1113.73 L175.39,1114.30 L176.41,1114.79 L177.42,1114.95 L178.44,1114.69 L179.45,1114.15 L180.46,1113.61 L181.48,1113.35 L182.49,1113.51 L183.51,1114.00 L184.52,1114.57 L185.54,1114.92 L186.55,1114.87 L187.57,1114.44 L188.58,1113.86 L189.60,1113.43 L190.61,1113.38 L191.63,1113.73 L192.64,1114.30 L193.66,1114.79 L194.67,1114.95 L195.69,1114.69 L196.70,1114.15" fill="none" stroke="#7bb8b5" stroke-width="1.9"/>
<path d="M162.20,1118.30 L163.21,1117.76 L164.23,1117.50 L165.24,1117.66 L166.26,1118.15 L167.27,1118.72 L168.29,1119.07 L169.30,1119.02 L170.32,1118.59 L171.33,1118.01 L172.35,1117.58 L173.36,1117.53 L174.38,1117.88 L175.39,1118.45 L176.41,1118.94 L177.42,1119.10 L178.44,1118.84 L179.45,1118.30 L180.46,1117.76 L181.48,1117.50 L182.49,1117.66 L183.51,1118.15 L184.52,1118.72 L185.54,1119.07 L186.55,1119.02 L187.57,1118.59 L188.58,1118.01 L189.60,1117.58 L190.61,1117.53 L191.63,1117.88 L192.64,1118.45 L193.66,1118.94 L194.67,1119.10 L195.69,1118.84 L196.70,1118.30" fill="none" stroke="#7bb8b5" stroke-width="1.9"/>
<g transform="translate(162.00,1123.20) scale(0.900,0.975)"><path d="M5,16 C2.1,16 0,13.9 0,11 C0,9 0.5,7.3 1.2,5.8 C1.6,6.8 2,7.3 2.6,7.6 C2.6,4.8 3.2,2.2 4.4,0 C5,2.4 5.8,4.2 6.6,5.6 C7.2,4.8 7.9,4 8.6,2.8 C9.6,4.8 10,7.6 10,11 C10,13.9 7.9,16 5,16 Z" fill="#7bb8b5"/><path d="M5.2,7.2 C6,8.8 7.4,9.8 7.4,12 C7.4,13.6 6.4,14.6 5,14.6 C3.6,14.6 2.6,13.6 2.6,12.2 C2.6,11 3.1,10.2 3.6,9.6 C3.8,10.2 4.1,10.6 4.4,10.7 C4.4,9.4 4.7,8.2 5.2,7.2 Z" fill="#ffffff" opacity="0.18"/></g>
<g transform="translate(174.40,1123.20) scale(0.900,0.975)"><path d="M5,16 C2.1,16 0,13.9 0,11 C0,9 0.5,7.3 1.2,5.8 C1.6,6.8 2,7.3 2.6,7.6 C2.6,4.8 3.2,2.2 4.4,0 C5,2.4 5.8,4.2 6.6,5.6 C7.2,4.8 7.9,4 8.6,2.8 C9.6,4.8 10,7.6 10,11 C10,13.9 7.9,16 5,16 Z" fill="#7bb8b5"/><path d="M5.2,7.2 C6,8.8 7.4,9.8 7.4,12 C7.4,13.6 6.4,14.6 5,14.6 C3.6,14.6 2.6,13.6 2.6,12.2 C2.6,11 3.1,10.2 3.6,9.6 C3.8,10.2 4.1,10.6 4.4,10.7 C4.4,9.4 4.7,8.2 5.2,7.2 Z" fill="#ffffff" opacity="0.18"/></g>
<rect x="200.40" y="1107.10" width="401.5" height="32.0" fill="#fafafa"/>
<rect x="200.40" y="1107.10" width="301.12" height="32.0" fill="#9dd3d0"/>
<rect x="200.40" y="1107.10" width="234.21" height="32.0" fill="#6aafac"/>
<path d="M207.09,1117.30V1129.30M213.78,1117.30V1129.30M220.47,1117.30V1129.30M227.17,1117.30V1129.30M240.55,1117.30V1129.30M247.24,1117.30V1129.30M253.93,1117.30V1129.30M260.62,1117.30V1129.30M274.01,1117.30V1129.30M280.70,1117.30V1129.30M287.39,1117.30V1129.30M294.08,1117.30V1129.30M307.47,1117.30V1129.30M314.16,1117.30V1129.30M320.85,1117.30V1129.30M327.54,1117.30V1129.30M340.93,1117.30V1129.30M347.62,1117.30V1129.30M354.31,1117.30V1129.30M361.00,1117.30V1129.30M374.38,1117.30V1129.30M381.07,1117.30V1129.30M387.77,1117.30V1129.30M394.46,1117.30V1129.30M407.84,1117.30V1129.30M414.53,1117.30V1129.30M421.23,1117.30V1129.30M427.92,1117.30V1129.30M441.30,1117.30V1129.30M447.99,1117.30V1129.30M454.68,1117.30V1129.30M461.38,1117.30V1129.30M474.76,1117.30V1129.30M481.45,1117.30V1129.30M488.14,1117.30V1129.30M494.83,1117.30V1129.30M508.22,1117.30V1129.30M514.91,1117.30V1129.30M521.60,1117.30V1129.30M528.29,1117.30V1129.30M541.67,1117.30V1129.30M548.37,1117.30V1129.30M555.06,1117.30V1129.30M561.75,1117.30V1129.30M575.13,1117.30V1129.30M581.83,1117.30V1129.30M588.52,1117.30V1129.30M595.21,1117.30V1129.30" stroke="#000" stroke-width="0.85" opacity="0.24"/>
<path d="M233.86,1107.10V1139.10M300.77,1107.10V1139.10M367.69,1107.10V1139.10M434.61,1107.10V1139.10M501.52,1107.10V1139.10M568.44,1107.10V1139.10" stroke="#000" stroke-width="0.8" stroke-dasharray="1 1" opacity="0.26"/>
<path d="M267.32,1107.10V1139.10M334.23,1107.10V1139.10M401.15,1107.10V1139.10M468.07,1107.10V1139.10M534.98,1107.10V1139.10" stroke="#333" stroke-width="1"/>
<rect x="200.40" y="1107.10" width="401.5" height="1.4" fill="#1e1e1e"/>
<rect x="200.40" y="1137.40" width="401.5" height="1.9" fill="#1e1e1e"/>
<rect x="200.10" y="1107.10" width="1.1" height="32.0" fill="#333"/>
<rect x="600.90" y="1107.10" width="1.2" height="32.0" fill="#888"/>
<line x1="31.8" y1="1142.80" x2="601.90" y2="1142.80" stroke="#8c8c8c" stroke-width="1"/>
<line x1="31.8" y1="1145.3" x2="601.9" y2="1145.3" stroke="#b5b5b5" stroke-width="1" stroke-dasharray="1 2.3"/>
<text x="30.6" y="1161.60" font-size="12.3" fill="#2e2e2e" stroke="#2e2e2e" stroke-width="0.32" textLength="106.09" lengthAdjust="spacingAndGlyphs">Chicken Drumstick, Bone-In*</text>
<text transform="translate(31.3,1172.30) scale(0.72,1)" font-size="8.6" fill="#646464" stroke="#646464" stroke-width="0.15" letter-spacing="1.972">5-6 OUNCES</text>
<text transform="translate(31.1,1182.00) scale(0.84,1)" font-size="7.6" font-weight="bold" fill="#6fb2af" letter-spacing="0.848">AVERAGE COOKING TIME: 40 MIN.</text>
<path d="M162.20,1153.40 L163.21,1152.86 L164.23,1152.60 L165.24,1152.76 L166.26,1153.25 L167.27,1153.82 L168.29,1154.17 L169.30,1154.12 L170.32,1153.69 L171.33,1153.11 L172.35,1152.68 L173.36,1152.63 L174.38,1152.98 L175.39,1153.55 L176.41,1154.04 L177.42,1154.20 L178.44,1153.94 L179.45,1153.40 L180.46,1152.86 L181.48,1152.60 L182.49,1152.76 L183.51,1153.25 L184.52,1153.82 L185.54,1154.17 L186.55,1154.12 L187.57,1153.69 L188.58,1153.11 L189.60,1152.68 L190.61,1152.63 L191.63,1152.98 L192.64,1153.55 L193.66,1154.04 L194.67,1154.20 L195.69,1153.94 L196.70,1153.40" fill="none" stroke="#7bb8b5" stroke-width="1.9"/>
<path d="M162.20,1157.55 L163.21,1157.01 L164.23,1156.75 L165.24,1156.91 L166.26,1157.40 L167.27,1157.97 L168.29,1158.32 L169.30,1158.27 L170.32,1157.84 L171.33,1157.26 L172.35,1156.83 L173.36,1156.78 L174.38,1157.13 L175.39,1157.70 L176.41,1158.19 L177.42,1158.35 L178.44,1158.09 L179.45,1157.55 L180.46,1157.01 L181.48,1156.75 L182.49,1156.91 L183.51,1157.40 L184.52,1157.97 L185.54,1158.32 L186.55,1158.27 L187.57,1157.84 L188.58,1157.26 L189.60,1156.83 L190.61,1156.78 L191.63,1157.13 L192.64,1157.70 L193.66,1158.19 L194.67,1158.35 L195.69,1158.09 L196.70,1157.55" fill="none" stroke="#7bb8b5" stroke-width="1.9"/>
<path d="M162.20,1161.70 L163.21,1161.16 L164.23,1160.90 L165.24,1161.06 L166.26,1161.55 L167.27,1162.12 L168.29,1162.47 L169.30,1162.42 L170.32,1161.99 L171.33,1161.41 L172.35,1160.98 L173.36,1160.93 L174.38,1161.28 L175.39,1161.85 L176.41,1162.34 L177.42,1162.50 L178.44,1162.24 L179.45,1161.70 L180.46,1161.16 L181.48,1160.90 L182.49,1161.06 L183.51,1161.55 L184.52,1162.12 L185.54,1162.47 L186.55,1162.42 L187.57,1161.99 L188.58,1161.41 L189.60,1160.98 L190.61,1160.93 L191.63,1161.28 L192.64,1161.85 L193.66,1162.34 L194.67,1162.50 L195.69,1162.24 L196.70,1161.70" fill="none" stroke="#7bb8b5" stroke-width="1.9"/>
<g transform="translate(162.00,1166.60) scale(0.900,0.975)"><path d="M5,16 C2.1,16 0,13.9 0,11 C0,9 0.5,7.3 1.2,5.8 C1.6,6.8 2,7.3 2.6,7.6 C2.6,4.8 3.2,2.2 4.4,0 C5,2.4 5.8,4.2 6.6,5.6 C7.2,4.8 7.9,4 8.6,2.8 C9.6,4.8 10,7.6 10,11 C10,13.9 7.9,16 5,16 Z" fill="#7bb8b5"/><path d="M5.2,7.2 C6,8.8 7.4,9.8 7.4,12 C7.4,13.6 6.4,14.6 5,14.6 C3.6,14.6 2.6,13.6 2.6,12.2 C2.6,11 3.1,10.2 3.6,9.6 C3.8,10.2 4.1,10.6 4.4,10.7 C4.4,9.4 4.7,8.2 5.2,7.2 Z" fill="#ffffff" opacity="0.18"/></g>
<g transform="translate(174.40,1166.60) scale(0.900,0.975)"><path d="M5,16 C2.1,16 0,13.9 0,11 C0,9 0.5,7.3 1.2,5.8 C1.6,6.8 2,7.3 2.6,7.6 C2.6,4.8 3.2,2.2 4.4,0 C5,2.4 5.8,4.2 6.6,5.6 C7.2,4.8 7.9,4 8.6,2.8 C9.6,4.8 10,7.6 10,11 C10,13.9 7.9,16 5,16 Z" fill="#7bb8b5"/><path d="M5.2,7.2 C6,8.8 7.4,9.8 7.4,12 C7.4,13.6 6.4,14.6 5,14.6 C3.6,14.6 2.6,13.6 2.6,12.2 C2.6,11 3.1,10.2 3.6,9.6 C3.8,10.2 4.1,10.6 4.4,10.7 C4.4,9.4 4.7,8.2 5.2,7.2 Z" fill="#ffffff" opacity="0.18"/></g>
<rect x="200.40" y="1150.50" width="401.5" height="32.0" fill="#fafafa"/>
<rect x="200.40" y="1150.50" width="301.12" height="32.0" fill="#9dd3d0"/>
<rect x="200.40" y="1150.50" width="234.21" height="32.0" fill="#6aafac"/>
<path d="M207.09,1160.70V1172.70M213.78,1160.70V1172.70M220.47,1160.70V1172.70M227.17,1160.70V1172.70M240.55,1160.70V1172.70M247.24,1160.70V1172.70M253.93,1160.70V1172.70M260.62,1160.70V1172.70M274.01,1160.70V1172.70M280.70,1160.70V1172.70M287.39,1160.70V1172.70M294.08,1160.70V1172.70M307.47,1160.70V1172.70M314.16,1160.70V1172.70M320.85,1160.70V1172.70M327.54,1160.70V1172.70M340.93,1160.70V1172.70M347.62,1160.70V1172.70M354.31,1160.70V1172.70M361.00,1160.70V1172.70M374.38,1160.70V1172.70M381.07,1160.70V1172.70M387.77,1160.70V1172.70M394.46,1160.70V1172.70M407.84,1160.70V1172.70M414.53,1160.70V1172.70M421.23,1160.70V1172.70M427.92,1160.70V1172.70M441.30,1160.70V1172.70M447.99,1160.70V1172.70M454.68,1160.70V1172.70M461.38,1160.70V1172.70M474.76,1160.70V1172.70M481.45,1160.70V1172.70M488.14,1160.70V1172.70M494.83,1160.70V1172.70M508.22,1160.70V1172.70M514.91,1160.70V1172.70M521.60,1160.70V1172.70M528.29,1160.70V1172.70M541.67,1160.70V1172.70M548.37,1160.70V1172.70M555.06,1160.70V1172.70M561.75,1160.70V1172.70M575.13,1160.70V1172.70M581.83,1160.70V1172.70M588.52,1160.70V1172.70M595.21,1160.70V1172.70" stroke="#000" stroke-width="0.85" opacity="0.24"/>
<path d="M233.86,1150.50V1182.50M300.77,1150.50V1182.50M367.69,1150.50V1182.50M434.61,1150.50V1182.50M501.52,1150.50V1182.50M568.44,1150.50V1182.50" stroke="#000" stroke-width="0.8" stroke-dasharray="1 1" opacity="0.26"/>
<path d="M267.32,1150.50V1182.50M334.23,1150.50V1182.50M401.15,1150.50V1182.50M468.07,1150.50V1182.50M534.98,1150.50V1182.50" stroke="#333" stroke-width="1"/>
<rect x="200.40" y="1150.50" width="401.5" height="1.4" fill="#1e1e1e"/>
<rect x="200.40" y="1180.80" width="401.5" height="1.9" fill="#1e1e1e"/>
<rect x="200.10" y="1150.50" width="1.1" height="32.0" fill="#333"/>
<rect x="600.90" y="1150.50" width="1.2" height="32.0" fill="#888"/>
<line x1="31.8" y1="1186.20" x2="601.90" y2="1186.20" stroke="#8c8c8c" stroke-width="1"/>
<line x1="31.8" y1="1188.7" x2="601.9" y2="1188.7" stroke="#b5b5b5" stroke-width="1" stroke-dasharray="1 2.3"/>
<text x="30.6" y="1204.00" font-size="12.3" fill="#2e2e2e" stroke="#2e2e2e" stroke-width="0.32" textLength="93.19" lengthAdjust="spacingAndGlyphs">Chicken Breast, Bone-In*</text>
<text transform="translate(31.3,1214.70) scale(0.72,1)" font-size="8.6" fill="#646464" stroke="#646464" stroke-width="0.15" letter-spacing="1.972">10-12 OUNCES</text>
<text transform="translate(31.1,1224.40) scale(0.84,1)" font-size="7.6" font-weight="bold" fill="#6fb2af" letter-spacing="0.848">AVERAGE COOKING TIME: 40 MIN.</text>
<path d="M162.20,1195.80 L163.21,1195.26 L164.23,1195.00 L165.24,1195.16 L166.26,1195.65 L167.27,1196.22 L168.29,1196.57 L169.30,1196.52 L170.32,1196.09 L171.33,1195.51 L172.35,1195.08 L173.36,1195.03 L174.38,1195.38 L175.39,1195.95 L176.41,1196.44 L177.42,1196.60 L178.44,1196.34 L179.45,1195.80 L180.46,1195.26 L181.48,1195.00 L182.49,1195.16 L183.51,1195.65 L184.52,1196.22 L185.54,1196.57 L186.55,1196.52 L187.57,1196.09 L188.58,1195.51 L189.60,1195.08 L190.61,1195.03 L191.63,1195.38 L192.64,1195.95 L193.66,1196.44 L194.67,1196.60 L195.69,1196.34 L196.70,1195.80" fill="none" stroke="#7bb8b5" stroke-width="1.9"/>
<path d="M162.20,1199.95 L163.21,1199.41 L164.23,1199.15 L165.24,1199.31 L166.26,1199.80 L167.27,1200.37 L168.29,1200.72 L169.30,1200.67 L170.32,1200.24 L171.33,1199.66 L172.35,1199.23 L173.36,1199.18 L174.38,1199.53 L175.39,1200.10 L176.41,1200.59 L177.42,1200.75 L178.44,1200.49 L179.45,1199.95 L180.46,1199.41 L181.48,1199.15 L182.49,1199.31 L183.51,1199.80 L184.52,1200.37 L185.54,1200.72 L186.55,1200.67 L187.57,1200.24 L188.58,1199.66 L189.60,1199.23 L190.61,1199.18 L191.63,1199.53 L192.64,1200.10 L193.66,1200.59 L194.67,1200.75 L195.69,1200.49 L196.70,1199.95" fill="none" stroke="#7bb8b5" stroke-width="1.9"/>
<path d="M162.20,1204.10 L163.21,1203.56 L164.23,1203.30 L165.24,1203.46 L166.26,1203.95 L167.27,1204.52 L168.29,1204.87 L169.30,1204.82 L170.32,1204.39 L171.33,1203.81 L172.35,1203.38 L173.36,1203.33 L174.38,1203.68 L175.39,1204.25 L176.41,1204.74 L177.42,1204.90 L178.44,1204.64 L179.45,1204.10 L180.46,1203.56 L181.48,1203.30 L182.49,1203.46 L183.51,1203.95 L184.52,1204.52 L185.54,1204.87 L186.55,1204.82 L187.57,1204.39 L188.58,1203.81 L189.60,1203.38 L190.61,1203.33 L191.63,1203.68 L192.64,1204.25 L193.66,1204.74 L194.67,1204.90 L195.69,1204.64 L196.70,1204.10" fill="none" stroke="#7bb8b5" stroke-width="1.9"/>
<g transform="translate(162.00,1209.00) scale(0.900,0.975)"><path d="M5,16 C2.1,16 0,13.9 0,11 C0,9 0.5,7.3 1.2,5.8 C1.6,6.8 2,7.3 2.6,7.6 C2.6,4.8 3.2,2.2 4.4,0 C5,2.4 5.8,4.2 6.6,5.6 C7.2,4.8 7.9,4 8.6,2.8 C9.6,4.8 10,7.6 10,11 C10,13.9 7.9,16 5,16 Z" fill="#7bb8b5"/><path d="M5.2,7.2 C6,8.8 7.4,9.8 7.4,12 C7.4,13.6 6.4,14.6 5,14.6 C3.6,14.6 2.6,13.6 2.6,12.2 C2.6,11 3.1,10.2 3.6,9.6 C3.8,10.2 4.1,10.6 4.4,10.7 C4.4,9.4 4.7,8.2 5.2,7.2 Z" fill="#ffffff" opacity="0.18"/></g>
<g transform="translate(174.40,1209.00) scale(0.900,0.975)"><path d="M5,16 C2.1,16 0,13.9 0,11 C0,9 0.5,7.3 1.2,5.8 C1.6,6.8 2,7.3 2.6,7.6 C2.6,4.8 3.2,2.2 4.4,0 C5,2.4 5.8,4.2 6.6,5.6 C7.2,4.8 7.9,4 8.6,2.8 C9.6,4.8 10,7.6 10,11 C10,13.9 7.9,16 5,16 Z" fill="#7bb8b5"/><path d="M5.2,7.2 C6,8.8 7.4,9.8 7.4,12 C7.4,13.6 6.4,14.6 5,14.6 C3.6,14.6 2.6,13.6 2.6,12.2 C2.6,11 3.1,10.2 3.6,9.6 C3.8,10.2 4.1,10.6 4.4,10.7 C4.4,9.4 4.7,8.2 5.2,7.2 Z" fill="#ffffff" opacity="0.18"/></g>
<rect x="200.40" y="1192.90" width="401.5" height="32.0" fill="#fafafa"/>
<rect x="200.40" y="1192.90" width="301.12" height="32.0" fill="#9dd3d0"/>
<rect x="200.40" y="1192.90" width="234.21" height="32.0" fill="#6aafac"/>
<path d="M207.09,1203.10V1215.10M213.78,1203.10V1215.10M220.47,1203.10V1215.10M227.17,1203.10V1215.10M240.55,1203.10V1215.10M247.24,1203.10V1215.10M253.93,1203.10V1215.10M260.62,1203.10V1215.10M274.01,1203.10V1215.10M280.70,1203.10V1215.10M287.39,1203.10V1215.10M294.08,1203.10V1215.10M307.47,1203.10V1215.10M314.16,1203.10V1215.10M320.85,1203.10V1215.10M327.54,1203.10V1215.10M340.93,1203.10V1215.10M347.62,1203.10V1215.10M354.31,1203.10V1215.10M361.00,1203.10V1215.10M374.38,1203.10V1215.10M381.07,1203.10V1215.10M387.77,1203.10V1215.10M394.46,1203.10V1215.10M407.84,1203.10V1215.10M414.53,1203.10V1215.10M421.23,1203.10V1215.10M427.92,1203.10V1215.10M441.30,1203.10V1215.10M447.99,1203.10V1215.10M454.68,1203.10V1215.10M461.38,1203.10V1215.10M474.76,1203.10V1215.10M481.45,1203.10V1215.10M488.14,1203.10V1215.10M494.83,1203.10V1215.10M508.22,1203.10V1215.10M514.91,1203.10V1215.10M521.60,1203.10V1215.10M528.29,1203.10V1215.10M541.67,1203.10V1215.10M548.37,1203.10V1215.10M555.06,1203.10V1215.10M561.75,1203.10V1215.10M575.13,1203.10V1215.10M581.83,1203.10V1215.10M588.52,1203.10V1215.10M595.21,1203.10V1215.10" stroke="#000" stroke-width="0.85" opacity="0.24"/>
<path d="M233.86,1192.90V1224.90M300.77,1192.90V1224.90M367.69,1192.90V1224.90M434.61,1192.90V1224.90M501.52,1192.90V1224.90M568.44,1192.90V1224.90" stroke="#000" stroke-width="0.8" stroke-dasharray="1 1" opacity="0.26"/>
<path d="M267.32,1192.90V1224.90M334.23,1192.90V1224.90M401.15,1192.90V1224.90M468.07,1192.90V1224.90M534.98,1192.90V1224.90" stroke="#333" stroke-width="1"/>
<rect x="200.40" y="1192.90" width="401.5" height="1.4" fill="#1e1e1e"/>
<rect x="200.40" y="1223.20" width="401.5" height="1.9" fill="#1e1e1e"/>
<rect x="200.10" y="1192.90" width="1.1" height="32.0" fill="#333"/>
<rect x="600.90" y="1192.90" width="1.2" height="32.0" fill="#888"/>
<line x1="31.8" y1="1228.60" x2="601.90" y2="1228.60" stroke="#8c8c8c" stroke-width="1"/>
<line x1="31.8" y1="1231.1000000000001" x2="601.9" y2="1231.1000000000001" stroke="#b5b5b5" stroke-width="1" stroke-dasharray="1 2.3"/>
<text transform="translate(31.00,1240.40) scale(0.78,1)" font-size="6.4" fill="#9a9a9a" letter-spacing="1.068" >*BONE-IN CHICKEN SHOULD BE INITIALLY COOKED ON DIRECT HEAT BEFORE BEING TRANSFERRED TO INDIRECT. BREAST: 3-5 MINUTES DIRECT, 20-30 MINUTES INDIRECT;</text>
<text transform="translate(31.00,1250.00) scale(0.78,1)" font-size="6.4" fill="#9a9a9a" letter-spacing="1.048" >DRUMSTICK AND THIGH: 6-10 MINUTES DIRECT, 30 MINUTES INDIRECT.</text>
<g transform="translate(246.34,1282.35) translate(-6.39,-17.50) scale(1,0.8113)"><path d="M12.78,11.22 V8.63 A6.39,8.63 0 0 0 0.00,8.63 V12.08 C0.00,18.12 12.78,22.43 12.78,30.20 V34.51 A6.39,8.63 0 0 1 0.00,34.51 V31.92" fill="none" stroke="#6a6a6a" stroke-width="6.70" stroke-linejoin="miter" stroke-miterlimit="5" stroke-linecap="butt"/><path d="M12.78,11.22 V8.63 A6.39,8.63 0 0 0 0.00,8.63 V12.08 C0.00,18.12 12.78,22.43 12.78,30.20 V34.51 A6.39,8.63 0 0 1 0.00,34.51 V31.92" fill="none" stroke="#f5f5f5" stroke-width="5.30" stroke-linejoin="miter" stroke-miterlimit="5" stroke-linecap="butt"/></g>
<g transform="translate(268.31,1282.35) translate(-4.62,-17.50) scale(1,0.8113)"><path d="M11.89,0.00 H0 V43.14 H11.89 M0.00,20.71 H10.60" fill="none" stroke="#6a6a6a" stroke-width="6.70" stroke-linejoin="miter" stroke-miterlimit="5" stroke-linecap="butt"/><path d="M11.89,0.00 H0 V43.14 H11.89 M0.00,20.71 H10.60" fill="none" stroke="#f5f5f5" stroke-width="5.30" stroke-linejoin="miter" stroke-miterlimit="5" stroke-linecap="butt"/></g>
<g transform="translate(292.06,1282.35) translate(-8.16,-17.50) scale(1,0.8113)"><path d="M-0.40,45.79 L6.85,0.00 H9.46 L16.71,45.79 M2.45,29.33 H13.87" fill="none" stroke="#6a6a6a" stroke-width="6.70" stroke-linejoin="miter" stroke-miterlimit="5" stroke-linecap="butt"/><path d="M-0.40,45.79 L6.85,0.00 H9.46 L16.71,45.79 M2.45,29.33 H13.87" fill="none" stroke="#f5f5f5" stroke-width="5.30" stroke-linejoin="miter" stroke-miterlimit="5" stroke-linecap="butt"/></g>
<g transform="translate(316.10,1282.35) translate(-4.92,-17.50) scale(1,0.8113)"><path d="M12.48,0.00 H0 V45.79 M0.00,20.71 H11.10" fill="none" stroke="#6a6a6a" stroke-width="6.70" stroke-linejoin="miter" stroke-miterlimit="5" stroke-linecap="butt"/><path d="M12.48,0.00 H0 V45.79 M0.00,20.71 H11.10" fill="none" stroke="#f5f5f5" stroke-width="5.30" stroke-linejoin="miter" stroke-miterlimit="5" stroke-linecap="butt"/></g>
<g transform="translate(338.37,1282.35) translate(-6.39,-17.50) scale(1,0.8113)"><path d="M0.00,8.66 A6.39,8.66 0 0 1 12.78,8.66 V34.48 A6.39,8.66 0 0 1 0.00,34.48 Z" fill="none" stroke="#6a6a6a" stroke-width="6.70" stroke-linejoin="miter" stroke-miterlimit="5" stroke-linecap="butt"/><path d="M0.00,8.66 A6.39,8.66 0 0 1 12.78,8.66 V34.48 A6.39,8.66 0 0 1 0.00,34.48 Z" fill="none" stroke="#f5f5f5" stroke-width="5.30" stroke-linejoin="miter" stroke-miterlimit="5" stroke-linecap="butt"/></g>
<g transform="translate(362.11,1282.35) translate(-6.39,-17.50) scale(1,0.8113)"><path d="M0.00,8.66 A6.39,8.66 0 0 1 12.78,8.66 V34.48 A6.39,8.66 0 0 1 0.00,34.48 Z" fill="none" stroke="#6a6a6a" stroke-width="6.70" stroke-linejoin="miter" stroke-miterlimit="5" stroke-linecap="butt"/><path d="M0.00,8.66 A6.39,8.66 0 0 1 12.78,8.66 V34.48 A6.39,8.66 0 0 1 0.00,34.48 Z" fill="none" stroke="#f5f5f5" stroke-width="5.30" stroke-linejoin="miter" stroke-miterlimit="5" stroke-linecap="butt"/></g>
<g transform="translate(385.66,1282.35) translate(-6.19,-17.50) scale(1,0.8113)"><path d="M0.00,0.00 V43.14 H6.19 A6.19,8.40 0 0 0 12.39,34.74 V8.40 A6.19,8.40 0 0 0 6.19,0.00 Z" fill="none" stroke="#6a6a6a" stroke-width="6.70" stroke-linejoin="miter" stroke-miterlimit="5" stroke-linecap="butt"/><path d="M0.00,0.00 V43.14 H6.19 A6.19,8.40 0 0 0 12.39,34.74 V8.40 A6.19,8.40 0 0 0 6.19,0.00 Z" fill="none" stroke="#f5f5f5" stroke-width="5.30" stroke-linejoin="miter" stroke-miterlimit="5" stroke-linecap="butt"/></g>
<g transform="translate(247.94,1280.45) translate(-6.39,-17.50) scale(1,0.8113)"><path d="M12.78,11.22 V8.63 A6.39,8.63 0 0 0 0.00,8.63 V12.08 C0.00,18.12 12.78,22.43 12.78,30.20 V34.51 A6.39,8.63 0 0 1 0.00,34.51 V31.92" fill="none" stroke="#2b2b2b" stroke-width="5.30" stroke-linejoin="miter" stroke-miterlimit="5" stroke-linecap="butt"/></g>
<g transform="translate(269.91,1280.45) translate(-4.62,-17.50) scale(1,0.8113)"><path d="M11.89,0.00 H0 V43.14 H11.89 M0.00,20.71 H10.60" fill="none" stroke="#2b2b2b" stroke-width="5.30" stroke-linejoin="miter" stroke-miterlimit="5" stroke-linecap="butt"/></g>
<g transform="translate(293.66,1280.45) translate(-8.16,-17.50) scale(1,0.8113)"><path d="M-0.40,45.79 L6.85,0.00 H9.46 L16.71,45.79 M2.45,29.33 H13.87" fill="none" stroke="#2b2b2b" stroke-width="5.30" stroke-linejoin="miter" stroke-miterlimit="5" stroke-linecap="butt"/></g>
<g transform="translate(317.70,1280.45) translate(-4.92,-17.50) scale(1,0.8113)"><path d="M12.48,0.00 H0 V45.79 M0.00,20.71 H11.10" fill="none" stroke="#2b2b2b" stroke-width="5.30" stroke-linejoin="miter" stroke-miterlimit="5" stroke-linecap="butt"/></g>
<g transform="translate(339.97,1280.45) translate(-6.39,-17.50) scale(1,0.8113)"><path d="M0.00,8.66 A6.39,8.66 0 0 1 12.78,8.66 V34.48 A6.39,8.66 0 0 1 0.00,34.48 Z" fill="none" stroke="#2b2b2b" stroke-width="5.30" stroke-linejoin="miter" stroke-miterlimit="5" stroke-linecap="butt"/></g>
<g transform="translate(363.71,1280.45) translate(-6.39,-17.50) scale(1,0.8113)"><path d="M0.00,8.66 A6.39,8.66 0 0 1 12.78,8.66 V34.48 A6.39,8.66 0 0 1 0.00,34.48 Z" fill="none" stroke="#2b2b2b" stroke-width="5.30" stroke-linejoin="miter" stroke-miterlimit="5" stroke-linecap="butt"/></g>
<g transform="translate(387.26,1280.45) translate(-6.19,-17.50) scale(1,0.8113)"><path d="M0.00,0.00 V43.14 H6.19 A6.19,8.40 0 0 0 12.39,34.74 V8.40 A6.19,8.40 0 0 0 6.19,0.00 Z" fill="none" stroke="#2b2b2b" stroke-width="5.30" stroke-linejoin="miter" stroke-miterlimit="5" stroke-linecap="butt"/></g>
<path d="M32.00,1273.40 L35.60,1280.50 L32.00,1287.60 M35.87,1273.40 L39.47,1280.50 L35.87,1287.60 M39.74,1273.40 L43.34,1280.50 L39.74,1287.60 M43.61,1273.40 L47.21,1280.50 L43.61,1287.60 M47.48,1273.40 L51.08,1280.50 L47.48,1287.60 M51.35,1273.40 L54.95,1280.50 L51.35,1287.60 M55.22,1273.40 L58.82,1280.50 L55.22,1287.60 M59.09,1273.40 L62.69,1280.50 L59.09,1287.60 M62.96,1273.40 L66.56,1280.50 L62.96,1287.60 M66.83,1273.40 L70.43,1280.50 L66.83,1287.60 M70.70,1273.40 L74.30,1280.50 L70.70,1287.60 M74.57,1273.40 L78.17,1280.50 L74.57,1287.60 M78.44,1273.40 L82.04,1280.50 L78.44,1287.60 M82.31,1273.40 L85.91,1280.50 L82.31,1287.60 M86.18,1273.40 L89.78,1280.50 L86.18,1287.60 M90.05,1273.40 L93.65,1280.50 L90.05,1287.60 M93.92,1273.40 L97.52,1280.50 L93.92,1287.60 M97.79,1273.40 L101.39,1280.50 L97.79,1287.60 M101.66,1273.40 L105.26,1280.50 L101.66,1287.60 M105.53,1273.40 L109.13,1280.50 L105.53,1287.60 M109.40,1273.40 L113.00,1280.50 L109.40,1287.60 M113.27,1273.40 L116.87,1280.50 L113.27,1287.60 M117.14,1273.40 L120.74,1280.50 L117.14,1287.60 M121.01,1273.40 L124.61,1280.50 L121.01,1287.60 M124.88,1273.40 L128.48,1280.50 L124.88,1287.60 M128.75,1273.40 L132.35,1280.50 L128.75,1287.60 M132.62,1273.40 L136.22,1280.50 L132.62,1287.60 M136.49,1273.40 L140.09,1280.50 L136.49,1287.60 M140.36,1273.40 L143.96,1280.50 L140.36,1287.60 M144.23,1273.40 L147.83,1280.50 L144.23,1287.60 M148.10,1273.40 L151.70,1280.50 L148.10,1287.60 M151.97,1273.40 L155.57,1280.50 L151.97,1287.60 M155.84,1273.40 L159.44,1280.50 L155.84,1287.60 M159.71,1273.40 L163.31,1280.50 L159.71,1287.60 M163.58,1273.40 L167.18,1280.50 L163.58,1287.60 M167.45,1273.40 L171.05,1280.50 L167.45,1287.60 M171.32,1273.40 L174.92,1280.50 L171.32,1287.60 M175.19,1273.40 L178.79,1280.50 L175.19,1287.60 M179.06,1273.40 L182.66,1280.50 L179.06,1287.60 M182.93,1273.40 L186.53,1280.50 L182.93,1287.60 M186.80,1273.40 L190.40,1280.50 L186.80,1287.60 M190.67,1273.40 L194.27,1280.50 L190.67,1287.60 M194.54,1273.40 L198.14,1280.50 L194.54,1287.60 M198.41,1273.40 L202.01,1280.50 L198.41,1287.60 M202.28,1273.40 L205.88,1280.50 L202.28,1287.60 M206.15,1273.40 L209.75,1280.50 L206.15,1287.60 M210.02,1273.40 L213.62,1280.50 L210.02,1287.60 " fill="none" stroke="#8a8a8a" stroke-width="1.25"/>
<path d="M604.00,1273.40 L600.40,1280.50 L604.00,1287.60 M600.13,1273.40 L596.53,1280.50 L600.13,1287.60 M596.26,1273.40 L592.66,1280.50 L596.26,1287.60 M592.39,1273.40 L588.79,1280.50 L592.39,1287.60 M588.52,1273.40 L584.92,1280.50 L588.52,1287.60 M584.65,1273.40 L581.05,1280.50 L584.65,1287.60 M580.78,1273.40 L577.18,1280.50 L580.78,1287.60 M576.91,1273.40 L573.31,1280.50 L576.91,1287.60 M573.04,1273.40 L569.44,1280.50 L573.04,1287.60 M569.17,1273.40 L565.57,1280.50 L569.17,1287.60 M565.30,1273.40 L561.70,1280.50 L565.30,1287.60 M561.43,1273.40 L557.83,1280.50 L561.43,1287.60 M557.56,1273.40 L553.96,1280.50 L557.56,1287.60 M553.69,1273.40 L550.09,1280.50 L553.69,1287.60 M549.82,1273.40 L546.22,1280.50 L549.82,1287.60 M545.95,1273.40 L542.35,1280.50 L545.95,1287.60 M542.08,1273.40 L538.48,1280.50 L542.08,1287.60 M538.21,1273.40 L534.61,1280.50 L538.21,1287.60 M534.34,1273.40 L530.74,1280.50 L534.34,1287.60 M530.47,1273.40 L526.87,1280.50 L530.47,1287.60 M526.60,1273.40 L523.00,1280.50 L526.60,1287.60 M522.73,1273.40 L519.13,1280.50 L522.73,1287.60 M518.86,1273.40 L515.26,1280.50 L518.86,1287.60 M514.99,1273.40 L511.39,1280.50 L514.99,1287.60 M511.12,1273.40 L507.52,1280.50 L511.12,1287.60 M507.25,1273.40 L503.65,1280.50 L507.25,1287.60 M503.38,1273.40 L499.78,1280.50 L503.38,1287.60 M499.51,1273.40 L495.91,1280.50 L499.51,1287.60 M495.64,1273.40 L492.04,1280.50 L495.64,1287.60 M491.77,1273.40 L488.17,1280.50 L491.77,1287.60 M487.90,1273.40 L484.30,1280.50 L487.90,1287.60 M484.03,1273.40 L480.43,1280.50 L484.03,1287.60 M480.16,1273.40 L476.56,1280.50 L480.16,1287.60 M476.29,1273.40 L472.69,1280.50 L476.29,1287.60 M472.42,1273.40 L468.82,1280.50 L472.42,1287.60 M468.55,1273.40 L464.95,1280.50 L468.55,1287.60 M464.68,1273.40 L461.08,1280.50 L464.68,1287.60 M460.81,1273.40 L457.21,1280.50 L460.81,1287.60 M456.94,1273.40 L453.34,1280.50 L456.94,1287.60 M453.07,1273.40 L449.47,1280.50 L453.07,1287.60 M449.20,1273.40 L445.60,1280.50 L449.20,1287.60 M445.33,1273.40 L441.73,1280.50 L445.33,1287.60 M441.46,1273.40 L437.86,1280.50 L441.46,1287.60 M437.59,1273.40 L433.99,1280.50 L437.59,1287.60 M433.72,1273.40 L430.12,1280.50 L433.72,1287.60 M429.85,1273.40 L426.25,1280.50 L429.85,1287.60 M425.98,1273.40 L422.38,1280.50 L425.98,1287.60 M422.11,1273.40 L418.51,1280.50 L422.11,1287.60 M418.24,1273.40 L414.64,1280.50 L418.24,1287.60 " fill="none" stroke="#8a8a8a" stroke-width="1.25"/>
<text transform="translate(201.80,1317.50) scale(0.8,1)" font-size="7.3" fill="#555" text-anchor="middle">0</text>
<line x1="201.80" y1="1318.10" x2="201.80" y2="1325.1" stroke="#444" stroke-width="0.9"/>
<text transform="translate(268.72,1317.50) scale(0.8,1)" font-size="7.3" fill="#555" text-anchor="middle">10</text>
<line x1="268.72" y1="1318.10" x2="268.72" y2="1325.1" stroke="#444" stroke-width="0.9"/>
<text transform="translate(335.63,1317.50) scale(0.8,1)" font-size="7.3" fill="#555" text-anchor="middle">20</text>
<line x1="335.63" y1="1318.10" x2="335.63" y2="1325.1" stroke="#444" stroke-width="0.9"/>
<text transform="translate(402.55,1317.50) scale(0.8,1)" font-size="7.3" fill="#555" text-anchor="middle">30</text>
<line x1="402.55" y1="1318.10" x2="402.55" y2="1325.1" stroke="#444" stroke-width="0.9"/>
<text transform="translate(469.47,1317.50) scale(0.8,1)" font-size="7.3" fill="#555" text-anchor="middle">40</text>
<line x1="469.47" y1="1318.10" x2="469.47" y2="1325.1" stroke="#444" stroke-width="0.9"/>
<text transform="translate(536.38,1317.50) scale(0.8,1)" font-size="7.3" fill="#555" text-anchor="middle">50</text>
<line x1="536.38" y1="1318.10" x2="536.38" y2="1325.1" stroke="#444" stroke-width="0.9"/>
<text transform="translate(603.30,1317.50) scale(0.8,1)" font-size="7.3" fill="#555" text-anchor="middle">60</text>
<line x1="603.30" y1="1318.10" x2="603.30" y2="1325.1" stroke="#444" stroke-width="0.9"/>
<text x="30.6" y="1336.20" font-size="12.3" fill="#2e2e2e" stroke="#2e2e2e" stroke-width="0.32" textLength="24.44" lengthAdjust="spacingAndGlyphs">Oyster</text>
<text transform="translate(31.3,1346.90) scale(0.72,1)" font-size="8.6" fill="#646464" stroke="#646464" stroke-width="0.15" letter-spacing="1.972">3-4 OUNCES</text>
<text transform="translate(31.1,1356.60) scale(0.84,1)" font-size="7.6" font-weight="bold" fill="#e05536" letter-spacing="0.838">AVERAGE COOKING TIME: 3 MIN.</text>
<path d="M162.20,1328.00 L163.21,1327.46 L164.23,1327.20 L165.24,1327.36 L166.26,1327.85 L167.27,1328.42 L168.29,1328.77 L169.30,1328.72 L170.32,1328.29 L171.33,1327.71 L172.35,1327.28 L173.36,1327.23 L174.38,1327.58 L175.39,1328.15 L176.41,1328.64 L177.42,1328.80 L178.44,1328.54 L179.45,1328.00 L180.46,1327.46 L181.48,1327.20 L182.49,1327.36 L183.51,1327.85 L184.52,1328.42 L185.54,1328.77 L186.55,1328.72 L187.57,1328.29 L188.58,1327.71 L189.60,1327.28 L190.61,1327.23 L191.63,1327.58 L192.64,1328.15 L193.66,1328.64 L194.67,1328.80 L195.69,1328.54 L196.70,1328.00" fill="none" stroke="#e05536" stroke-width="1.9"/>
<path d="M162.20,1332.15 L163.21,1331.61 L164.23,1331.35 L165.24,1331.51 L166.26,1332.00 L167.27,1332.57 L168.29,1332.92 L169.30,1332.87 L170.32,1332.44 L171.33,1331.86 L172.35,1331.43 L173.36,1331.38 L174.38,1331.73 L175.39,1332.30 L176.41,1332.79 L177.42,1332.95 L178.44,1332.69 L179.45,1332.15 L180.46,1331.61 L181.48,1331.35 L182.49,1331.51 L183.51,1332.00 L184.52,1332.57 L185.54,1332.92 L186.55,1332.87 L187.57,1332.44 L188.58,1331.86 L189.60,1331.43 L190.61,1331.38 L191.63,1331.73 L192.64,1332.30 L193.66,1332.79 L194.67,1332.95 L195.69,1332.69 L196.70,1332.15" fill="none" stroke="#e05536" stroke-width="1.9"/>
<path d="M162.20,1336.30 L163.21,1335.76 L164.23,1335.50 L165.24,1335.66 L166.26,1336.15 L167.27,1336.72 L168.29,1337.07 L169.30,1337.02 L170.32,1336.59 L171.33,1336.01 L172.35,1335.58 L173.36,1335.53 L174.38,1335.88 L175.39,1336.45 L176.41,1336.94 L177.42,1337.10 L178.44,1336.84 L179.45,1336.30 L180.46,1335.76 L181.48,1335.50 L182.49,1335.66 L183.51,1336.15 L184.52,1336.72 L185.54,1337.07 L186.55,1337.02 L187.57,1336.59 L188.58,1336.01 L189.60,1335.58 L190.61,1335.53 L191.63,1335.88 L192.64,1336.45 L193.66,1336.94 L194.67,1337.10 L195.69,1336.84 L196.70,1336.30" fill="none" stroke="#e05536" stroke-width="1.9"/>
<g transform="translate(162.00,1341.20) scale(0.900,0.975)"><path d="M5,16 C2.1,16 0,13.9 0,11 C0,9 0.5,7.3 1.2,5.8 C1.6,6.8 2,7.3 2.6,7.6 C2.6,4.8 3.2,2.2 4.4,0 C5,2.4 5.8,4.2 6.6,5.6 C7.2,4.8 7.9,4 8.6,2.8 C9.6,4.8 10,7.6 10,11 C10,13.9 7.9,16 5,16 Z" fill="#e05536"/><path d="M5.2,7.2 C6,8.8 7.4,9.8 7.4,12 C7.4,13.6 6.4,14.6 5,14.6 C3.6,14.6 2.6,13.6 2.6,12.2 C2.6,11 3.1,10.2 3.6,9.6 C3.8,10.2 4.1,10.6 4.4,10.7 C4.4,9.4 4.7,8.2 5.2,7.2 Z" fill="#ffffff" opacity="0.18"/></g>
<g transform="translate(174.40,1341.20) scale(0.900,0.975)"><path d="M5,16 C2.1,16 0,13.9 0,11 C0,9 0.5,7.3 1.2,5.8 C1.6,6.8 2,7.3 2.6,7.6 C2.6,4.8 3.2,2.2 4.4,0 C5,2.4 5.8,4.2 6.6,5.6 C7.2,4.8 7.9,4 8.6,2.8 C9.6,4.8 10,7.6 10,11 C10,13.9 7.9,16 5,16 Z" fill="#e05536"/><path d="M5.2,7.2 C6,8.8 7.4,9.8 7.4,12 C7.4,13.6 6.4,14.6 5,14.6 C3.6,14.6 2.6,13.6 2.6,12.2 C2.6,11 3.1,10.2 3.6,9.6 C3.8,10.2 4.1,10.6 4.4,10.7 C4.4,9.4 4.7,8.2 5.2,7.2 Z" fill="#ffffff" opacity="0.18"/></g>
<g transform="translate(186.80,1341.20) scale(0.900,0.975)"><path d="M5,16 C2.1,16 0,13.9 0,11 C0,9 0.5,7.3 1.2,5.8 C1.6,6.8 2,7.3 2.6,7.6 C2.6,4.8 3.2,2.2 4.4,0 C5,2.4 5.8,4.2 6.6,5.6 C7.2,4.8 7.9,4 8.6,2.8 C9.6,4.8 10,7.6 10,11 C10,13.9 7.9,16 5,16 Z" fill="#e05536"/><path d="M5.2,7.2 C6,8.8 7.4,9.8 7.4,12 C7.4,13.6 6.4,14.6 5,14.6 C3.6,14.6 2.6,13.6 2.6,12.2 C2.6,11 3.1,10.2 3.6,9.6 C3.8,10.2 4.1,10.6 4.4,10.7 C4.4,9.4 4.7,8.2 5.2,7.2 Z" fill="#ffffff" opacity="0.18"/></g>
<rect x="201.80" y="1325.10" width="401.5" height="32.0" fill="#fafafa"/>
<rect x="201.80" y="1325.10" width="26.77" height="32.0" fill="#f5917f"/>
<rect x="201.80" y="1325.10" width="13.38" height="32.0" fill="#e05a3b"/>
<path d="M208.49,1335.30V1347.30M215.18,1335.30V1347.30M221.88,1335.30V1347.30M228.57,1335.30V1347.30M241.95,1335.30V1347.30M248.64,1335.30V1347.30M255.33,1335.30V1347.30M262.02,1335.30V1347.30M275.41,1335.30V1347.30M282.10,1335.30V1347.30M288.79,1335.30V1347.30M295.48,1335.30V1347.30M308.87,1335.30V1347.30M315.56,1335.30V1347.30M322.25,1335.30V1347.30M328.94,1335.30V1347.30M342.33,1335.30V1347.30M349.02,1335.30V1347.30M355.71,1335.30V1347.30M362.40,1335.30V1347.30M375.78,1335.30V1347.30M382.48,1335.30V1347.30M389.17,1335.30V1347.30M395.86,1335.30V1347.30M409.24,1335.30V1347.30M415.93,1335.30V1347.30M422.62,1335.30V1347.30M429.32,1335.30V1347.30M442.70,1335.30V1347.30M449.39,1335.30V1347.30M456.08,1335.30V1347.30M462.77,1335.30V1347.30M476.16,1335.30V1347.30M482.85,1335.30V1347.30M489.54,1335.30V1347.30M496.23,1335.30V1347.30M509.62,1335.30V1347.30M516.31,1335.30V1347.30M523.00,1335.30V1347.30M529.69,1335.30V1347.30M543.08,1335.30V1347.30M549.77,1335.30V1347.30M556.46,1335.30V1347.30M563.15,1335.30V1347.30M576.53,1335.30V1347.30M583.23,1335.30V1347.30M589.92,1335.30V1347.30M596.61,1335.30V1347.30" stroke="#000" stroke-width="0.85" opacity="0.24"/>
<path d="M235.26,1325.10V1357.10M302.18,1325.10V1357.10M369.09,1325.10V1357.10M436.01,1325.10V1357.10M502.93,1325.10V1357.10M569.84,1325.10V1357.10" stroke="#000" stroke-width="0.8" stroke-dasharray="1 1" opacity="0.26"/>
<path d="M268.72,1325.10V1357.10M335.63,1325.10V1357.10M402.55,1325.10V1357.10M469.47,1325.10V1357.10M536.38,1325.10V1357.10" stroke="#333" stroke-width="1"/>
<rect x="201.80" y="1325.10" width="401.5" height="1.4" fill="#1e1e1e"/>
<rect x="201.80" y="1355.40" width="401.5" height="1.9" fill="#1e1e1e"/>
<rect x="201.50" y="1325.10" width="1.1" height="32.0" fill="#333"/>
<rect x="602.30" y="1325.10" width="1.2" height="32.0" fill="#888"/>
<line x1="31.8" y1="1360.80" x2="603.30" y2="1360.80" stroke="#8c8c8c" stroke-width="1"/>
<line x1="31.8" y1="1363.3" x2="603.3" y2="1363.3" stroke="#b5b5b5" stroke-width="1" stroke-dasharray="1 2.3"/>
<text x="30.6" y="1378.90" font-size="12.3" fill="#2e2e2e" stroke="#2e2e2e" stroke-width="0.32" textLength="26.29" lengthAdjust="spacingAndGlyphs">Shrimp</text>
<text transform="translate(31.3,1389.60) scale(0.72,1)" font-size="8.6" fill="#646464" stroke="#646464" stroke-width="0.15" letter-spacing="1.972">LARGE</text>
<text transform="translate(31.1,1399.30) scale(0.84,1)" font-size="7.6" font-weight="bold" fill="#e05536" letter-spacing="0.838">AVERAGE COOKING TIME: 5 MIN.</text>
<path d="M162.20,1370.70 L163.21,1370.16 L164.23,1369.90 L165.24,1370.06 L166.26,1370.55 L167.27,1371.12 L168.29,1371.47 L169.30,1371.42 L170.32,1370.99 L171.33,1370.41 L172.35,1369.98 L173.36,1369.93 L174.38,1370.28 L175.39,1370.85 L176.41,1371.34 L177.42,1371.50 L178.44,1371.24 L179.45,1370.70 L180.46,1370.16 L181.48,1369.90 L182.49,1370.06 L183.51,1370.55 L184.52,1371.12 L185.54,1371.47 L186.55,1371.42 L187.57,1370.99 L188.58,1370.41 L189.60,1369.98 L190.61,1369.93 L191.63,1370.28 L192.64,1370.85 L193.66,1371.34 L194.67,1371.50 L195.69,1371.24 L196.70,1370.70" fill="none" stroke="#e05536" stroke-width="1.9"/>
<path d="M162.20,1374.85 L163.21,1374.31 L164.23,1374.05 L165.24,1374.21 L166.26,1374.70 L167.27,1375.27 L168.29,1375.62 L169.30,1375.57 L170.32,1375.14 L171.33,1374.56 L172.35,1374.13 L173.36,1374.08 L174.38,1374.43 L175.39,1375.00 L176.41,1375.49 L177.42,1375.65 L178.44,1375.39 L179.45,1374.85 L180.46,1374.31 L181.48,1374.05 L182.49,1374.21 L183.51,1374.70 L184.52,1375.27 L185.54,1375.62 L186.55,1375.57 L187.57,1375.14 L188.58,1374.56 L189.60,1374.13 L190.61,1374.08 L191.63,1374.43 L192.64,1375.00 L193.66,1375.49 L194.67,1375.65 L195.69,1375.39 L196.70,1374.85" fill="none" stroke="#e05536" stroke-width="1.9"/>
<path d="M162.20,1379.00 L163.21,1378.46 L164.23,1378.20 L165.24,1378.36 L166.26,1378.85 L167.27,1379.42 L168.29,1379.77 L169.30,1379.72 L170.32,1379.29 L171.33,1378.71 L172.35,1378.28 L173.36,1378.23 L174.38,1378.58 L175.39,1379.15 L176.41,1379.64 L177.42,1379.80 L178.44,1379.54 L179.45,1379.00 L180.46,1378.46 L181.48,1378.20 L182.49,1378.36 L183.51,1378.85 L184.52,1379.42 L185.54,1379.77 L186.55,1379.72 L187.57,1379.29 L188.58,1378.71 L189.60,1378.28 L190.61,1378.23 L191.63,1378.58 L192.64,1379.15 L193.66,1379.64 L194.67,1379.80 L195.69,1379.54 L196.70,1379.00" fill="none" stroke="#e05536" stroke-width="1.9"/>
<g transform="translate(162.00,1383.90) scale(0.900,0.975)"><path d="M5,16 C2.1,16 0,13.9 0,11 C0,9 0.5,7.3 1.2,5.8 C1.6,6.8 2,7.3 2.6,7.6 C2.6,4.8 3.2,2.2 4.4,0 C5,2.4 5.8,4.2 6.6,5.6 C7.2,4.8 7.9,4 8.6,2.8 C9.6,4.8 10,7.6 10,11 C10,13.9 7.9,16 5,16 Z" fill="#e05536"/><path d="M5.2,7.2 C6,8.8 7.4,9.8 7.4,12 C7.4,13.6 6.4,14.6 5,14.6 C3.6,14.6 2.6,13.6 2.6,12.2 C2.6,11 3.1,10.2 3.6,9.6 C3.8,10.2 4.1,10.6 4.4,10.7 C4.4,9.4 4.7,8.2 5.2,7.2 Z" fill="#ffffff" opacity="0.18"/></g>
<g transform="translate(174.40,1383.90) scale(0.900,0.975)"><path d="M5,16 C2.1,16 0,13.9 0,11 C0,9 0.5,7.3 1.2,5.8 C1.6,6.8 2,7.3 2.6,7.6 C2.6,4.8 3.2,2.2 4.4,0 C5,2.4 5.8,4.2 6.6,5.6 C7.2,4.8 7.9,4 8.6,2.8 C9.6,4.8 10,7.6 10,11 C10,13.9 7.9,16 5,16 Z" fill="#e05536"/><path d="M5.2,7.2 C6,8.8 7.4,9.8 7.4,12 C7.4,13.6 6.4,14.6 5,14.6 C3.6,14.6 2.6,13.6 2.6,12.2 C2.6,11 3.1,10.2 3.6,9.6 C3.8,10.2 4.1,10.6 4.4,10.7 C4.4,9.4 4.7,8.2 5.2,7.2 Z" fill="#ffffff" opacity="0.18"/></g>
<g transform="translate(186.80,1383.90) scale(0.900,0.975)"><path d="M5,16 C2.1,16 0,13.9 0,11 C0,9 0.5,7.3 1.2,5.8 C1.6,6.8 2,7.3 2.6,7.6 C2.6,4.8 3.2,2.2 4.4,0 C5,2.4 5.8,4.2 6.6,5.6 C7.2,4.8 7.9,4 8.6,2.8 C9.6,4.8 10,7.6 10,11 C10,13.9 7.9,16 5,16 Z" fill="#e05536"/><path d="M5.2,7.2 C6,8.8 7.4,9.8 7.4,12 C7.4,13.6 6.4,14.6 5,14.6 C3.6,14.6 2.6,13.6 2.6,12.2 C2.6,11 3.1,10.2 3.6,9.6 C3.8,10.2 4.1,10.6 4.4,10.7 C4.4,9.4 4.7,8.2 5.2,7.2 Z" fill="#ffffff" opacity="0.18"/></g>
<rect x="201.80" y="1367.80" width="401.5" height="32.0" fill="#fafafa"/>
<rect x="201.80" y="1367.80" width="40.15" height="32.0" fill="#f5917f"/>
<rect x="201.80" y="1367.80" width="26.77" height="32.0" fill="#e05a3b"/>
<path d="M208.49,1378.00V1390.00M215.18,1378.00V1390.00M221.88,1378.00V1390.00M228.57,1378.00V1390.00M241.95,1378.00V1390.00M248.64,1378.00V1390.00M255.33,1378.00V1390.00M262.02,1378.00V1390.00M275.41,1378.00V1390.00M282.10,1378.00V1390.00M288.79,1378.00V1390.00M295.48,1378.00V1390.00M308.87,1378.00V1390.00M315.56,1378.00V1390.00M322.25,1378.00V1390.00M328.94,1378.00V1390.00M342.33,1378.00V1390.00M349.02,1378.00V1390.00M355.71,1378.00V1390.00M362.40,1378.00V1390.00M375.78,1378.00V1390.00M382.48,1378.00V1390.00M389.17,1378.00V1390.00M395.86,1378.00V1390.00M409.24,1378.00V1390.00M415.93,1378.00V1390.00M422.62,1378.00V1390.00M429.32,1378.00V1390.00M442.70,1378.00V1390.00M449.39,1378.00V1390.00M456.08,1378.00V1390.00M462.77,1378.00V1390.00M476.16,1378.00V1390.00M482.85,1378.00V1390.00M489.54,1378.00V1390.00M496.23,1378.00V1390.00M509.62,1378.00V1390.00M516.31,1378.00V1390.00M523.00,1378.00V1390.00M529.69,1378.00V1390.00M543.08,1378.00V1390.00M549.77,1378.00V1390.00M556.46,1378.00V1390.00M563.15,1378.00V1390.00M576.53,1378.00V1390.00M583.23,1378.00V1390.00M589.92,1378.00V1390.00M596.61,1378.00V1390.00" stroke="#000" stroke-width="0.85" opacity="0.24"/>
<path d="M235.26,1367.80V1399.80M302.18,1367.80V1399.80M369.09,1367.80V1399.80M436.01,1367.80V1399.80M502.93,1367.80V1399.80M569.84,1367.80V1399.80" stroke="#000" stroke-width="0.8" stroke-dasharray="1 1" opacity="0.26"/>
<path d="M268.72,1367.80V1399.80M335.63,1367.80V1399.80M402.55,1367.80V1399.80M469.47,1367.80V1399.80M536.38,1367.80V1399.80" stroke="#333" stroke-width="1"/>
<rect x="201.80" y="1367.80" width="401.5" height="1.4" fill="#1e1e1e"/>
<rect x="201.80" y="1398.10" width="401.5" height="1.9" fill="#1e1e1e"/>
<rect x="201.50" y="1367.80" width="1.1" height="32.0" fill="#333"/>
<rect x="602.30" y="1367.80" width="1.2" height="32.0" fill="#888"/>
<line x1="31.8" y1="1403.50" x2="603.30" y2="1403.50" stroke="#8c8c8c" stroke-width="1"/>
<line x1="31.8" y1="1406.0" x2="603.3" y2="1406.0" stroke="#b5b5b5" stroke-width="1" stroke-dasharray="1 2.3"/>
<text x="30.6" y="1421.70" font-size="12.3" fill="#2e2e2e" stroke="#2e2e2e" stroke-width="0.32" textLength="27.22" lengthAdjust="spacingAndGlyphs">Scallop</text>
<text transform="translate(31.3,1432.40) scale(0.72,1)" font-size="8.6" fill="#646464" stroke="#646464" stroke-width="0.15" letter-spacing="1.972">1 1/2 OUNCES</text>
<text transform="translate(31.1,1442.10) scale(0.84,1)" font-size="7.6" font-weight="bold" fill="#e05536" letter-spacing="0.838">AVERAGE COOKING TIME: 5 MIN.</text>
<path d="M162.20,1413.50 L163.21,1412.96 L164.23,1412.70 L165.24,1412.86 L166.26,1413.35 L167.27,1413.92 L168.29,1414.27 L169.30,1414.22 L170.32,1413.79 L171.33,1413.21 L172.35,1412.78 L173.36,1412.73 L174.38,1413.08 L175.39,1413.65 L176.41,1414.14 L177.42,1414.30 L178.44,1414.04 L179.45,1413.50 L180.46,1412.96 L181.48,1412.70 L182.49,1412.86 L183.51,1413.35 L184.52,1413.92 L185.54,1414.27 L186.55,1414.22 L187.57,1413.79 L188.58,1413.21 L189.60,1412.78 L190.61,1412.73 L191.63,1413.08 L192.64,1413.65 L193.66,1414.14 L194.67,1414.30 L195.69,1414.04 L196.70,1413.50" fill="none" stroke="#e05536" stroke-width="1.9"/>
<path d="M162.20,1417.65 L163.21,1417.11 L164.23,1416.85 L165.24,1417.01 L166.26,1417.50 L167.27,1418.07 L168.29,1418.42 L169.30,1418.37 L170.32,1417.94 L171.33,1417.36 L172.35,1416.93 L173.36,1416.88 L174.38,1417.23 L175.39,1417.80 L176.41,1418.29 L177.42,1418.45 L178.44,1418.19 L179.45,1417.65 L180.46,1417.11 L181.48,1416.85 L182.49,1417.01 L183.51,1417.50 L184.52,1418.07 L185.54,1418.42 L186.55,1418.37 L187.57,1417.94 L188.58,1417.36 L189.60,1416.93 L190.61,1416.88 L191.63,1417.23 L192.64,1417.80 L193.66,1418.29 L194.67,1418.45 L195.69,1418.19 L196.70,1417.65" fill="none" stroke="#e05536" stroke-width="1.9"/>
<path d="M162.20,1421.80 L163.21,1421.26 L164.23,1421.00 L165.24,1421.16 L166.26,1421.65 L167.27,1422.22 L168.29,1422.57 L169.30,1422.52 L170.32,1422.09 L171.33,1421.51 L172.35,1421.08 L173.36,1421.03 L174.38,1421.38 L175.39,1421.95 L176.41,1422.44 L177.42,1422.60 L178.44,1422.34 L179.45,1421.80 L180.46,1421.26 L181.48,1421.00 L182.49,1421.16 L183.51,1421.65 L184.52,1422.22 L185.54,1422.57 L186.55,1422.52 L187.57,1422.09 L188.58,1421.51 L189.60,1421.08 L190.61,1421.03 L191.63,1421.38 L192.64,1421.95 L193.66,1422.44 L194.67,1422.60 L195.69,1422.34 L196.70,1421.80" fill="none" stroke="#e05536" stroke-width="1.9"/>
<g transform="translate(162.00,1426.70) scale(0.900,0.975)"><path d="M5,16 C2.1,16 0,13.9 0,11 C0,9 0.5,7.3 1.2,5.8 C1.6,6.8 2,7.3 2.6,7.6 C2.6,4.8 3.2,2.2 4.4,0 C5,2.4 5.8,4.2 6.6,5.6 C7.2,4.8 7.9,4 8.6,2.8 C9.6,4.8 10,7.6 10,11 C10,13.9 7.9,16 5,16 Z" fill="#e05536"/><path d="M5.2,7.2 C6,8.8 7.4,9.8 7.4,12 C7.4,13.6 6.4,14.6 5,14.6 C3.6,14.6 2.6,13.6 2.6,12.2 C2.6,11 3.1,10.2 3.6,9.6 C3.8,10.2 4.1,10.6 4.4,10.7 C4.4,9.4 4.7,8.2 5.2,7.2 Z" fill="#ffffff" opacity="0.18"/></g>
<g transform="translate(174.40,1426.70) scale(0.900,0.975)"><path d="M5,16 C2.1,16 0,13.9 0,11 C0,9 0.5,7.3 1.2,5.8 C1.6,6.8 2,7.3 2.6,7.6 C2.6,4.8 3.2,2.2 4.4,0 C5,2.4 5.8,4.2 6.6,5.6 C7.2,4.8 7.9,4 8.6,2.8 C9.6,4.8 10,7.6 10,11 C10,13.9 7.9,16 5,16 Z" fill="#e05536"/><path d="M5.2,7.2 C6,8.8 7.4,9.8 7.4,12 C7.4,13.6 6.4,14.6 5,14.6 C3.6,14.6 2.6,13.6 2.6,12.2 C2.6,11 3.1,10.2 3.6,9.6 C3.8,10.2 4.1,10.6 4.4,10.7 C4.4,9.4 4.7,8.2 5.2,7.2 Z" fill="#ffffff" opacity="0.18"/></g>
<g transform="translate(186.80,1426.70) scale(0.900,0.975)"><path d="M5,16 C2.1,16 0,13.9 0,11 C0,9 0.5,7.3 1.2,5.8 C1.6,6.8 2,7.3 2.6,7.6 C2.6,4.8 3.2,2.2 4.4,0 C5,2.4 5.8,4.2 6.6,5.6 C7.2,4.8 7.9,4 8.6,2.8 C9.6,4.8 10,7.6 10,11 C10,13.9 7.9,16 5,16 Z" fill="#e05536"/><path d="M5.2,7.2 C6,8.8 7.4,9.8 7.4,12 C7.4,13.6 6.4,14.6 5,14.6 C3.6,14.6 2.6,13.6 2.6,12.2 C2.6,11 3.1,10.2 3.6,9.6 C3.8,10.2 4.1,10.6 4.4,10.7 C4.4,9.4 4.7,8.2 5.2,7.2 Z" fill="#ffffff" opacity="0.18"/></g>
<rect x="201.80" y="1410.60" width="401.5" height="32.0" fill="#fafafa"/>
<rect x="201.80" y="1410.60" width="40.15" height="32.0" fill="#f5917f"/>
<rect x="201.80" y="1410.60" width="26.77" height="32.0" fill="#e05a3b"/>
<path d="M208.49,1420.80V1432.80M215.18,1420.80V1432.80M221.88,1420.80V1432.80M228.57,1420.80V1432.80M241.95,1420.80V1432.80M248.64,1420.80V1432.80M255.33,1420.80V1432.80M262.02,1420.80V1432.80M275.41,1420.80V1432.80M282.10,1420.80V1432.80M288.79,1420.80V1432.80M295.48,1420.80V1432.80M308.87,1420.80V1432.80M315.56,1420.80V1432.80M322.25,1420.80V1432.80M328.94,1420.80V1432.80M342.33,1420.80V1432.80M349.02,1420.80V1432.80M355.71,1420.80V1432.80M362.40,1420.80V1432.80M375.78,1420.80V1432.80M382.48,1420.80V1432.80M389.17,1420.80V1432.80M395.86,1420.80V1432.80M409.24,1420.80V1432.80M415.93,1420.80V1432.80M422.62,1420.80V1432.80M429.32,1420.80V1432.80M442.70,1420.80V1432.80M449.39,1420.80V1432.80M456.08,1420.80V1432.80M462.77,1420.80V1432.80M476.16,1420.80V1432.80M482.85,1420.80V1432.80M489.54,1420.80V1432.80M496.23,1420.80V1432.80M509.62,1420.80V1432.80M516.31,1420.80V1432.80M523.00,1420.80V1432.80M529.69,1420.80V1432.80M543.08,1420.80V1432.80M549.77,1420.80V1432.80M556.46,1420.80V1432.80M563.15,1420.80V1432.80M576.53,1420.80V1432.80M583.23,1420.80V1432.80M589.92,1420.80V1432.80M596.61,1420.80V1432.80" stroke="#000" stroke-width="0.85" opacity="0.24"/>
<path d="M235.26,1410.60V1442.60M302.18,1410.60V1442.60M369.09,1410.60V1442.60M436.01,1410.60V1442.60M502.93,1410.60V1442.60M569.84,1410.60V1442.60" stroke="#000" stroke-width="0.8" stroke-dasharray="1 1" opacity="0.26"/>
<path d="M268.72,1410.60V1442.60M335.63,1410.60V1442.60M402.55,1410.60V1442.60M469.47,1410.60V1442.60M536.38,1410.60V1442.60" stroke="#333" stroke-width="1"/>
<rect x="201.80" y="1410.60" width="401.5" height="1.4" fill="#1e1e1e"/>
<rect x="201.80" y="1440.90" width="401.5" height="1.9" fill="#1e1e1e"/>
<rect x="201.50" y="1410.60" width="1.1" height="32.0" fill="#333"/>
<rect x="602.30" y="1410.60" width="1.2" height="32.0" fill="#888"/>
<line x1="31.8" y1="1446.30" x2="603.30" y2="1446.30" stroke="#8c8c8c" stroke-width="1"/>
<line x1="31.8" y1="1448.8" x2="603.3" y2="1448.8" stroke="#b5b5b5" stroke-width="1" stroke-dasharray="1 2.3"/>
<text x="30.6" y="1466.20" font-size="12.3" fill="#2e2e2e" stroke="#2e2e2e" stroke-width="0.32" textLength="25.83" lengthAdjust="spacingAndGlyphs">Clam**</text>
<text transform="translate(31.3,1476.90) scale(0.72,1)" font-size="8.6" fill="#646464" stroke="#646464" stroke-width="0.15" letter-spacing="1.972">2-3 OUNCES</text>
<text transform="translate(31.1,1486.60) scale(0.84,1)" font-size="7.6" font-weight="bold" fill="#e05536" letter-spacing="0.838">AVERAGE COOKING TIME: 7 MIN.</text>
<path d="M162.20,1458.00 L163.21,1457.46 L164.23,1457.20 L165.24,1457.36 L166.26,1457.85 L167.27,1458.42 L168.29,1458.77 L169.30,1458.72 L170.32,1458.29 L171.33,1457.71 L172.35,1457.28 L173.36,1457.23 L174.38,1457.58 L175.39,1458.15 L176.41,1458.64 L177.42,1458.80 L178.44,1458.54 L179.45,1458.00 L180.46,1457.46 L181.48,1457.20 L182.49,1457.36 L183.51,1457.85 L184.52,1458.42 L185.54,1458.77 L186.55,1458.72 L187.57,1458.29 L188.58,1457.71 L189.60,1457.28 L190.61,1457.23 L191.63,1457.58 L192.64,1458.15 L193.66,1458.64 L194.67,1458.80 L195.69,1458.54 L196.70,1458.00" fill="none" stroke="#e05536" stroke-width="1.9"/>
<path d="M162.20,1462.15 L163.21,1461.61 L164.23,1461.35 L165.24,1461.51 L166.26,1462.00 L167.27,1462.57 L168.29,1462.92 L169.30,1462.87 L170.32,1462.44 L171.33,1461.86 L172.35,1461.43 L173.36,1461.38 L174.38,1461.73 L175.39,1462.30 L176.41,1462.79 L177.42,1462.95 L178.44,1462.69 L179.45,1462.15 L180.46,1461.61 L181.48,1461.35 L182.49,1461.51 L183.51,1462.00 L184.52,1462.57 L185.54,1462.92 L186.55,1462.87 L187.57,1462.44 L188.58,1461.86 L189.60,1461.43 L190.61,1461.38 L191.63,1461.73 L192.64,1462.30 L193.66,1462.79 L194.67,1462.95 L195.69,1462.69 L196.70,1462.15" fill="none" stroke="#e05536" stroke-width="1.9"/>
<path d="M162.20,1466.30 L163.21,1465.76 L164.23,1465.50 L165.24,1465.66 L166.26,1466.15 L167.27,1466.72 L168.29,1467.07 L169.30,1467.02 L170.32,1466.59 L171.33,1466.01 L172.35,1465.58 L173.36,1465.53 L174.38,1465.88 L175.39,1466.45 L176.41,1466.94 L177.42,1467.10 L178.44,1466.84 L179.45,1466.30 L180.46,1465.76 L181.48,1465.50 L182.49,1465.66 L183.51,1466.15 L184.52,1466.72 L185.54,1467.07 L186.55,1467.02 L187.57,1466.59 L188.58,1466.01 L189.60,1465.58 L190.61,1465.53 L191.63,1465.88 L192.64,1466.45 L193.66,1466.94 L194.67,1467.10 L195.69,1466.84 L196.70,1466.30" fill="none" stroke="#e05536" stroke-width="1.9"/>
<g transform="translate(162.00,1471.20) scale(0.900,0.975)"><path d="M5,16 C2.1,16 0,13.9 0,11 C0,9 0.5,7.3 1.2,5.8 C1.6,6.8 2,7.3 2.6,7.6 C2.6,4.8 3.2,2.2 4.4,0 C5,2.4 5.8,4.2 6.6,5.6 C7.2,4.8 7.9,4 8.6,2.8 C9.6,4.8 10,7.6 10,11 C10,13.9 7.9,16 5,16 Z" fill="#e05536"/><path d="M5.2,7.2 C6,8.8 7.4,9.8 7.4,12 C7.4,13.6 6.4,14.6 5,14.6 C3.6,14.6 2.6,13.6 2.6,12.2 C2.6,11 3.1,10.2 3.6,9.6 C3.8,10.2 4.1,10.6 4.4,10.7 C4.4,9.4 4.7,8.2 5.2,7.2 Z" fill="#ffffff" opacity="0.18"/></g>
<g transform="translate(174.40,1471.20) scale(0.900,0.975)"><path d="M5,16 C2.1,16 0,13.9 0,11 C0,9 0.5,7.3 1.2,5.8 C1.6,6.8 2,7.3 2.6,7.6 C2.6,4.8 3.2,2.2 4.4,0 C5,2.4 5.8,4.2 6.6,5.6 C7.2,4.8 7.9,4 8.6,2.8 C9.6,4.8 10,7.6 10,11 C10,13.9 7.9,16 5,16 Z" fill="#e05536"/><path d="M5.2,7.2 C6,8.8 7.4,9.8 7.4,12 C7.4,13.6 6.4,14.6 5,14.6 C3.6,14.6 2.6,13.6 2.6,12.2 C2.6,11 3.1,10.2 3.6,9.6 C3.8,10.2 4.1,10.6 4.4,10.7 C4.4,9.4 4.7,8.2 5.2,7.2 Z" fill="#ffffff" opacity="0.18"/></g>
<g transform="translate(186.80,1471.20) scale(0.900,0.975)"><path d="M5,16 C2.1,16 0,13.9 0,11 C0,9 0.5,7.3 1.2,5.8 C1.6,6.8 2,7.3 2.6,7.6 C2.6,4.8 3.2,2.2 4.4,0 C5,2.4 5.8,4.2 6.6,5.6 C7.2,4.8 7.9,4 8.6,2.8 C9.6,4.8 10,7.6 10,11 C10,13.9 7.9,16 5,16 Z" fill="#e05536"/><path d="M5.2,7.2 C6,8.8 7.4,9.8 7.4,12 C7.4,13.6 6.4,14.6 5,14.6 C3.6,14.6 2.6,13.6 2.6,12.2 C2.6,11 3.1,10.2 3.6,9.6 C3.8,10.2 4.1,10.6 4.4,10.7 C4.4,9.4 4.7,8.2 5.2,7.2 Z" fill="#ffffff" opacity="0.18"/></g>
<rect x="201.80" y="1455.10" width="401.5" height="32.0" fill="#fafafa"/>
<rect x="201.80" y="1455.10" width="46.84" height="32.0" fill="#f5917f"/>
<rect x="201.80" y="1455.10" width="33.46" height="32.0" fill="#e05a3b"/>
<path d="M208.49,1465.30V1477.30M215.18,1465.30V1477.30M221.88,1465.30V1477.30M228.57,1465.30V1477.30M241.95,1465.30V1477.30M248.64,1465.30V1477.30M255.33,1465.30V1477.30M262.02,1465.30V1477.30M275.41,1465.30V1477.30M282.10,1465.30V1477.30M288.79,1465.30V1477.30M295.48,1465.30V1477.30M308.87,1465.30V1477.30M315.56,1465.30V1477.30M322.25,1465.30V1477.30M328.94,1465.30V1477.30M342.33,1465.30V1477.30M349.02,1465.30V1477.30M355.71,1465.30V1477.30M362.40,1465.30V1477.30M375.78,1465.30V1477.30M382.48,1465.30V1477.30M389.17,1465.30V1477.30M395.86,1465.30V1477.30M409.24,1465.30V1477.30M415.93,1465.30V1477.30M422.62,1465.30V1477.30M429.32,1465.30V1477.30M442.70,1465.30V1477.30M449.39,1465.30V1477.30M456.08,1465.30V1477.30M462.77,1465.30V1477.30M476.16,1465.30V1477.30M482.85,1465.30V1477.30M489.54,1465.30V1477.30M496.23,1465.30V1477.30M509.62,1465.30V1477.30M516.31,1465.30V1477.30M523.00,1465.30V1477.30M529.69,1465.30V1477.30M543.08,1465.30V1477.30M549.77,1465.30V1477.30M556.46,1465.30V1477.30M563.15,1465.30V1477.30M576.53,1465.30V1477.30M583.23,1465.30V1477.30M589.92,1465.30V1477.30M596.61,1465.30V1477.30" stroke="#000" stroke-width="0.85" opacity="0.24"/>
<path d="M235.26,1455.10V1487.10M302.18,1455.10V1487.10M369.09,1455.10V1487.10M436.01,1455.10V1487.10M502.93,1455.10V1487.10M569.84,1455.10V1487.10" stroke="#000" stroke-width="0.8" stroke-dasharray="1 1" opacity="0.26"/>
<path d="M268.72,1455.10V1487.10M335.63,1455.10V1487.10M402.55,1455.10V1487.10M469.47,1455.10V1487.10M536.38,1455.10V1487.10" stroke="#333" stroke-width="1"/>
<rect x="201.80" y="1455.10" width="401.5" height="1.4" fill="#1e1e1e"/>
<rect x="201.80" y="1485.40" width="401.5" height="1.9" fill="#1e1e1e"/>
<rect x="201.50" y="1455.10" width="1.1" height="32.0" fill="#333"/>
<rect x="602.30" y="1455.10" width="1.2" height="32.0" fill="#888"/>
<line x1="31.8" y1="1490.80" x2="603.30" y2="1490.80" stroke="#8c8c8c" stroke-width="1"/>
<line x1="31.8" y1="1493.3" x2="603.3" y2="1493.3" stroke="#b5b5b5" stroke-width="1" stroke-dasharray="1 2.3"/>
<text x="30.6" y="1508.70" font-size="12.3" fill="#2e2e2e" stroke="#2e2e2e" stroke-width="0.32" textLength="69.18" lengthAdjust="spacingAndGlyphs">Fish, Filet or Steak</text>
<text transform="translate(31.3,1519.40) scale(0.72,1)" font-size="8.6" fill="#646464" stroke="#646464" stroke-width="0.15" letter-spacing="1.972">1-INCH THICK</text>
<text transform="translate(31.1,1529.10) scale(0.84,1)" font-size="7.6" font-weight="bold" fill="#e05536" letter-spacing="0.838">AVERAGE COOKING TIME: 8 MIN.</text>
<path d="M162.20,1500.50 L163.21,1499.96 L164.23,1499.70 L165.24,1499.86 L166.26,1500.35 L167.27,1500.92 L168.29,1501.27 L169.30,1501.22 L170.32,1500.79 L171.33,1500.21 L172.35,1499.78 L173.36,1499.73 L174.38,1500.08 L175.39,1500.65 L176.41,1501.14 L177.42,1501.30 L178.44,1501.04 L179.45,1500.50 L180.46,1499.96 L181.48,1499.70 L182.49,1499.86 L183.51,1500.35 L184.52,1500.92 L185.54,1501.27 L186.55,1501.22 L187.57,1500.79 L188.58,1500.21 L189.60,1499.78 L190.61,1499.73 L191.63,1500.08 L192.64,1500.65 L193.66,1501.14 L194.67,1501.30 L195.69,1501.04 L196.70,1500.50" fill="none" stroke="#e05536" stroke-width="1.9"/>
<path d="M162.20,1504.65 L163.21,1504.11 L164.23,1503.85 L165.24,1504.01 L166.26,1504.50 L167.27,1505.07 L168.29,1505.42 L169.30,1505.37 L170.32,1504.94 L171.33,1504.36 L172.35,1503.93 L173.36,1503.88 L174.38,1504.23 L175.39,1504.80 L176.41,1505.29 L177.42,1505.45 L178.44,1505.19 L179.45,1504.65 L180.46,1504.11 L181.48,1503.85 L182.49,1504.01 L183.51,1504.50 L184.52,1505.07 L185.54,1505.42 L186.55,1505.37 L187.57,1504.94 L188.58,1504.36 L189.60,1503.93 L190.61,1503.88 L191.63,1504.23 L192.64,1504.80 L193.66,1505.29 L194.67,1505.45 L195.69,1505.19 L196.70,1504.65" fill="none" stroke="#e05536" stroke-width="1.9"/>
<path d="M162.20,1508.80 L163.21,1508.26 L164.23,1508.00 L165.24,1508.16 L166.26,1508.65 L167.27,1509.22 L168.29,1509.57 L169.30,1509.52 L170.32,1509.09 L171.33,1508.51 L172.35,1508.08 L173.36,1508.03 L174.38,1508.38 L175.39,1508.95 L176.41,1509.44 L177.42,1509.60 L178.44,1509.34 L179.45,1508.80 L180.46,1508.26 L181.48,1508.00 L182.49,1508.16 L183.51,1508.65 L184.52,1509.22 L185.54,1509.57 L186.55,1509.52 L187.57,1509.09 L188.58,1508.51 L189.60,1508.08 L190.61,1508.03 L191.63,1508.38 L192.64,1508.95 L193.66,1509.44 L194.67,1509.60 L195.69,1509.34 L196.70,1508.80" fill="none" stroke="#e05536" stroke-width="1.9"/>
<g transform="translate(162.00,1513.70) scale(0.900,0.975)"><path d="M5,16 C2.1,16 0,13.9 0,11 C0,9 0.5,7.3 1.2,5.8 C1.6,6.8 2,7.3 2.6,7.6 C2.6,4.8 3.2,2.2 4.4,0 C5,2.4 5.8,4.2 6.6,5.6 C7.2,4.8 7.9,4 8.6,2.8 C9.6,4.8 10,7.6 10,11 C10,13.9 7.9,16 5,16 Z" fill="#e05536"/><path d="M5.2,7.2 C6,8.8 7.4,9.8 7.4,12 C7.4,13.6 6.4,14.6 5,14.6 C3.6,14.6 2.6,13.6 2.6,12.2 C2.6,11 3.1,10.2 3.6,9.6 C3.8,10.2 4.1,10.6 4.4,10.7 C4.4,9.4 4.7,8.2 5.2,7.2 Z" fill="#ffffff" opacity="0.18"/></g>
<g transform="translate(174.40,1513.70) scale(0.900,0.975)"><path d="M5,16 C2.1,16 0,13.9 0,11 C0,9 0.5,7.3 1.2,5.8 C1.6,6.8 2,7.3 2.6,7.6 C2.6,4.8 3.2,2.2 4.4,0 C5,2.4 5.8,4.2 6.6,5.6 C7.2,4.8 7.9,4 8.6,2.8 C9.6,4.8 10,7.6 10,11 C10,13.9 7.9,16 5,16 Z" fill="#e05536"/><path d="M5.2,7.2 C6,8.8 7.4,9.8 7.4,12 C7.4,13.6 6.4,14.6 5,14.6 C3.6,14.6 2.6,13.6 2.6,12.2 C2.6,11 3.1,10.2 3.6,9.6 C3.8,10.2 4.1,10.6 4.4,10.7 C4.4,9.4 4.7,8.2 5.2,7.2 Z" fill="#ffffff" opacity="0.18"/></g>
<g transform="translate(186.80,1513.70) scale(0.900,0.975)"><path d="M5,16 C2.1,16 0,13.9 0,11 C0,9 0.5,7.3 1.2,5.8 C1.6,6.8 2,7.3 2.6,7.6 C2.6,4.8 3.2,2.2 4.4,0 C5,2.4 5.8,4.2 6.6,5.6 C7.2,4.8 7.9,4 8.6,2.8 C9.6,4.8 10,7.6 10,11 C10,13.9 7.9,16 5,16 Z" fill="#e05536"/><path d="M5.2,7.2 C6,8.8 7.4,9.8 7.4,12 C7.4,13.6 6.4,14.6 5,14.6 C3.6,14.6 2.6,13.6 2.6,12.2 C2.6,11 3.1,10.2 3.6,9.6 C3.8,10.2 4.1,10.6 4.4,10.7 C4.4,9.4 4.7,8.2 5.2,7.2 Z" fill="#ffffff" opacity="0.18"/></g>
<rect x="201.80" y="1497.60" width="401.5" height="32.0" fill="#fafafa"/>
<rect x="201.80" y="1497.60" width="66.92" height="32.0" fill="#f5917f"/>
<rect x="201.80" y="1497.60" width="33.46" height="32.0" fill="#e05a3b"/>
<path d="M208.49,1507.80V1519.80M215.18,1507.80V1519.80M221.88,1507.80V1519.80M228.57,1507.80V1519.80M241.95,1507.80V1519.80M248.64,1507.80V1519.80M255.33,1507.80V1519.80M262.02,1507.80V1519.80M275.41,1507.80V1519.80M282.10,1507.80V1519.80M288.79,1507.80V1519.80M295.48,1507.80V1519.80M308.87,1507.80V1519.80M315.56,1507.80V1519.80M322.25,1507.80V1519.80M328.94,1507.80V1519.80M342.33,1507.80V1519.80M349.02,1507.80V1519.80M355.71,1507.80V1519.80M362.40,1507.80V1519.80M375.78,1507.80V1519.80M382.48,1507.80V1519.80M389.17,1507.80V1519.80M395.86,1507.80V1519.80M409.24,1507.80V1519.80M415.93,1507.80V1519.80M422.62,1507.80V1519.80M429.32,1507.80V1519.80M442.70,1507.80V1519.80M449.39,1507.80V1519.80M456.08,1507.80V1519.80M462.77,1507.80V1519.80M476.16,1507.80V1519.80M482.85,1507.80V1519.80M489.54,1507.80V1519.80M496.23,1507.80V1519.80M509.62,1507.80V1519.80M516.31,1507.80V1519.80M523.00,1507.80V1519.80M529.69,1507.80V1519.80M543.08,1507.80V1519.80M549.77,1507.80V1519.80M556.46,1507.80V1519.80M563.15,1507.80V1519.80M576.53,1507.80V1519.80M583.23,1507.80V1519.80M589.92,1507.80V1519.80M596.61,1507.80V1519.80" stroke="#000" stroke-width="0.85" opacity="0.24"/>
<path d="M235.26,1497.60V1529.60M302.18,1497.60V1529.60M369.09,1497.60V1529.60M436.01,1497.60V1529.60M502.93,1497.60V1529.60M569.84,1497.60V1529.60" stroke="#000" stroke-width="0.8" stroke-dasharray="1 1" opacity="0.26"/>
<path d="M268.72,1497.60V1529.60M335.63,1497.60V1529.60M402.55,1497.60V1529.60M469.47,1497.60V1529.60M536.38,1497.60V1529.60" stroke="#333" stroke-width="1"/>
<rect x="201.80" y="1497.60" width="401.5" height="1.4" fill="#1e1e1e"/>
<rect x="201.80" y="1527.90" width="401.5" height="1.9" fill="#1e1e1e"/>
<rect x="201.50" y="1497.60" width="1.1" height="32.0" fill="#333"/>
<rect x="602.30" y="1497.60" width="1.2" height="32.0" fill="#888"/>
<line x1="31.8" y1="1533.30" x2="603.30" y2="1533.30" stroke="#8c8c8c" stroke-width="1"/>
<line x1="31.8" y1="1535.8" x2="603.3" y2="1535.8" stroke="#b5b5b5" stroke-width="1" stroke-dasharray="1 2.3"/>
<text x="30.6" y="1551.30" font-size="12.3" fill="#2e2e2e" stroke="#2e2e2e" stroke-width="0.32" textLength="42.29" lengthAdjust="spacingAndGlyphs">Lobster Tail</text>
<text transform="translate(31.3,1562.00) scale(0.72,1)" font-size="8.6" fill="#646464" stroke="#646464" stroke-width="0.15" letter-spacing="1.972">6 OUNCES</text>
<text transform="translate(31.1,1571.70) scale(0.84,1)" font-size="7.6" font-weight="bold" fill="#e05536" letter-spacing="0.838">AVERAGE COOKING TIME: 9 MIN.</text>
<path d="M162.20,1543.10 L163.21,1542.56 L164.23,1542.30 L165.24,1542.46 L166.26,1542.95 L167.27,1543.52 L168.29,1543.87 L169.30,1543.82 L170.32,1543.39 L171.33,1542.81 L172.35,1542.38 L173.36,1542.33 L174.38,1542.68 L175.39,1543.25 L176.41,1543.74 L177.42,1543.90 L178.44,1543.64 L179.45,1543.10 L180.46,1542.56 L181.48,1542.30 L182.49,1542.46 L183.51,1542.95 L184.52,1543.52 L185.54,1543.87 L186.55,1543.82 L187.57,1543.39 L188.58,1542.81 L189.60,1542.38 L190.61,1542.33 L191.63,1542.68 L192.64,1543.25 L193.66,1543.74 L194.67,1543.90 L195.69,1543.64 L196.70,1543.10" fill="none" stroke="#e05536" stroke-width="1.9"/>
<path d="M162.20,1547.25 L163.21,1546.71 L164.23,1546.45 L165.24,1546.61 L166.26,1547.10 L167.27,1547.67 L168.29,1548.02 L169.30,1547.97 L170.32,1547.54 L171.33,1546.96 L172.35,1546.53 L173.36,1546.48 L174.38,1546.83 L175.39,1547.40 L176.41,1547.89 L177.42,1548.05 L178.44,1547.79 L179.45,1547.25 L180.46,1546.71 L181.48,1546.45 L182.49,1546.61 L183.51,1547.10 L184.52,1547.67 L185.54,1548.02 L186.55,1547.97 L187.57,1547.54 L188.58,1546.96 L189.60,1546.53 L190.61,1546.48 L191.63,1546.83 L192.64,1547.40 L193.66,1547.89 L194.67,1548.05 L195.69,1547.79 L196.70,1547.25" fill="none" stroke="#e05536" stroke-width="1.9"/>
<path d="M162.20,1551.40 L163.21,1550.86 L164.23,1550.60 L165.24,1550.76 L166.26,1551.25 L167.27,1551.82 L168.29,1552.17 L169.30,1552.12 L170.32,1551.69 L171.33,1551.11 L172.35,1550.68 L173.36,1550.63 L174.38,1550.98 L175.39,1551.55 L176.41,1552.04 L177.42,1552.20 L178.44,1551.94 L179.45,1551.40 L180.46,1550.86 L181.48,1550.60 L182.49,1550.76 L183.51,1551.25 L184.52,1551.82 L185.54,1552.17 L186.55,1552.12 L187.57,1551.69 L188.58,1551.11 L189.60,1550.68 L190.61,1550.63 L191.63,1550.98 L192.64,1551.55 L193.66,1552.04 L194.67,1552.20 L195.69,1551.94 L196.70,1551.40" fill="none" stroke="#e05536" stroke-width="1.9"/>
<g transform="translate(162.00,1556.30) scale(0.900,0.975)"><path d="M5,16 C2.1,16 0,13.9 0,11 C0,9 0.5,7.3 1.2,5.8 C1.6,6.8 2,7.3 2.6,7.6 C2.6,4.8 3.2,2.2 4.4,0 C5,2.4 5.8,4.2 6.6,5.6 C7.2,4.8 7.9,4 8.6,2.8 C9.6,4.8 10,7.6 10,11 C10,13.9 7.9,16 5,16 Z" fill="#e05536"/><path d="M5.2,7.2 C6,8.8 7.4,9.8 7.4,12 C7.4,13.6 6.4,14.6 5,14.6 C3.6,14.6 2.6,13.6 2.6,12.2 C2.6,11 3.1,10.2 3.6,9.6 C3.8,10.2 4.1,10.6 4.4,10.7 C4.4,9.4 4.7,8.2 5.2,7.2 Z" fill="#ffffff" opacity="0.18"/></g>
<g transform="translate(174.40,1556.30) scale(0.900,0.975)"><path d="M5,16 C2.1,16 0,13.9 0,11 C0,9 0.5,7.3 1.2,5.8 C1.6,6.8 2,7.3 2.6,7.6 C2.6,4.8 3.2,2.2 4.4,0 C5,2.4 5.8,4.2 6.6,5.6 C7.2,4.8 7.9,4 8.6,2.8 C9.6,4.8 10,7.6 10,11 C10,13.9 7.9,16 5,16 Z" fill="#e05536"/><path d="M5.2,7.2 C6,8.8 7.4,9.8 7.4,12 C7.4,13.6 6.4,14.6 5,14.6 C3.6,14.6 2.6,13.6 2.6,12.2 C2.6,11 3.1,10.2 3.6,9.6 C3.8,10.2 4.1,10.6 4.4,10.7 C4.4,9.4 4.7,8.2 5.2,7.2 Z" fill="#ffffff" opacity="0.18"/></g>
<rect x="201.80" y="1540.20" width="401.5" height="32.0" fill="#fafafa"/>
<rect x="201.80" y="1540.20" width="73.61" height="32.0" fill="#f5917f"/>
<rect x="201.80" y="1540.20" width="46.84" height="32.0" fill="#e05a3b"/>
<path d="M208.49,1550.40V1562.40M215.18,1550.40V1562.40M221.88,1550.40V1562.40M228.57,1550.40V1562.40M241.95,1550.40V1562.40M248.64,1550.40V1562.40M255.33,1550.40V1562.40M262.02,1550.40V1562.40M275.41,1550.40V1562.40M282.10,1550.40V1562.40M288.79,1550.40V1562.40M295.48,1550.40V1562.40M308.87,1550.40V1562.40M315.56,1550.40V1562.40M322.25,1550.40V1562.40M328.94,1550.40V1562.40M342.33,1550.40V1562.40M349.02,1550.40V1562.40M355.71,1550.40V1562.40M362.40,1550.40V1562.40M375.78,1550.40V1562.40M382.48,1550.40V1562.40M389.17,1550.40V1562.40M395.86,1550.40V1562.40M409.24,1550.40V1562.40M415.93,1550.40V1562.40M422.62,1550.40V1562.40M429.32,1550.40V1562.40M442.70,1550.40V1562.40M449.39,1550.40V1562.40M456.08,1550.40V1562.40M462.77,1550.40V1562.40M476.16,1550.40V1562.40M482.85,1550.40V1562.40M489.54,1550.40V1562.40M496.23,1550.40V1562.40M509.62,1550.40V1562.40M516.31,1550.40V1562.40M523.00,1550.40V1562.40M529.69,1550.40V1562.40M543.08,1550.40V1562.40M549.77,1550.40V1562.40M556.46,1550.40V1562.40M563.15,1550.40V1562.40M576.53,1550.40V1562.40M583.23,1550.40V1562.40M589.92,1550.40V1562.40M596.61,1550.40V1562.40" stroke="#000" stroke-width="0.85" opacity="0.24"/>
<path d="M235.26,1540.20V1572.20M302.18,1540.20V1572.20M369.09,1540.20V1572.20M436.01,1540.20V1572.20M502.93,1540.20V1572.20M569.84,1540.20V1572.20" stroke="#000" stroke-width="0.8" stroke-dasharray="1 1" opacity="0.26"/>
<path d="M268.72,1540.20V1572.20M335.63,1540.20V1572.20M402.55,1540.20V1572.20M469.47,1540.20V1572.20M536.38,1540.20V1572.20" stroke="#333" stroke-width="1"/>
<rect x="201.80" y="1540.20" width="401.5" height="1.4" fill="#1e1e1e"/>
<rect x="201.80" y="1570.50" width="401.5" height="1.9" fill="#1e1e1e"/>
<rect x="201.50" y="1540.20" width="1.1" height="32.0" fill="#333"/>
<rect x="602.30" y="1540.20" width="1.2" height="32.0" fill="#888"/>
<line x1="31.8" y1="1575.90" x2="603.30" y2="1575.90" stroke="#8c8c8c" stroke-width="1"/>
<line x1="31.8" y1="1578.4" x2="603.3" y2="1578.4" stroke="#b5b5b5" stroke-width="1" stroke-dasharray="1 2.3"/>
<text x="30.6" y="1595.10" font-size="12.3" fill="#2e2e2e" stroke="#2e2e2e" stroke-width="0.32" textLength="43.82" lengthAdjust="spacingAndGlyphs">Fish, Whole</text>
<text transform="translate(31.3,1605.80) scale(0.72,1)" font-size="8.6" fill="#646464" stroke="#646464" stroke-width="0.15" letter-spacing="1.972">1 POUND</text>
<text transform="translate(31.1,1615.50) scale(0.84,1)" font-size="7.6" font-weight="bold" fill="#6fb2af" letter-spacing="0.848">AVERAGE COOKING TIME: 18 MIN.</text>
<path d="M162.20,1586.90 L163.21,1586.36 L164.23,1586.10 L165.24,1586.26 L166.26,1586.75 L167.27,1587.32 L168.29,1587.67 L169.30,1587.62 L170.32,1587.19 L171.33,1586.61 L172.35,1586.18 L173.36,1586.13 L174.38,1586.48 L175.39,1587.05 L176.41,1587.54 L177.42,1587.70 L178.44,1587.44 L179.45,1586.90 L180.46,1586.36 L181.48,1586.10 L182.49,1586.26 L183.51,1586.75 L184.52,1587.32 L185.54,1587.67 L186.55,1587.62 L187.57,1587.19 L188.58,1586.61 L189.60,1586.18 L190.61,1586.13 L191.63,1586.48 L192.64,1587.05 L193.66,1587.54 L194.67,1587.70 L195.69,1587.44 L196.70,1586.90" fill="none" stroke="#7bb8b5" stroke-width="1.9"/>
<path d="M162.20,1591.05 L163.21,1590.51 L164.23,1590.25 L165.24,1590.41 L166.26,1590.90 L167.27,1591.47 L168.29,1591.82 L169.30,1591.77 L170.32,1591.34 L171.33,1590.76 L172.35,1590.33 L173.36,1590.28 L174.38,1590.63 L175.39,1591.20 L176.41,1591.69 L177.42,1591.85 L178.44,1591.59 L179.45,1591.05 L180.46,1590.51 L181.48,1590.25 L182.49,1590.41 L183.51,1590.90 L184.52,1591.47 L185.54,1591.82 L186.55,1591.77 L187.57,1591.34 L188.58,1590.76 L189.60,1590.33 L190.61,1590.28 L191.63,1590.63 L192.64,1591.20 L193.66,1591.69 L194.67,1591.85 L195.69,1591.59 L196.70,1591.05" fill="none" stroke="#7bb8b5" stroke-width="1.9"/>
<path d="M162.20,1595.20 L163.21,1594.66 L164.23,1594.40 L165.24,1594.56 L166.26,1595.05 L167.27,1595.62 L168.29,1595.97 L169.30,1595.92 L170.32,1595.49 L171.33,1594.91 L172.35,1594.48 L173.36,1594.43 L174.38,1594.78 L175.39,1595.35 L176.41,1595.84 L177.42,1596.00 L178.44,1595.74 L179.45,1595.20 L180.46,1594.66 L181.48,1594.40 L182.49,1594.56 L183.51,1595.05 L184.52,1595.62 L185.54,1595.97 L186.55,1595.92 L187.57,1595.49 L188.58,1594.91 L189.60,1594.48 L190.61,1594.43 L191.63,1594.78 L192.64,1595.35 L193.66,1595.84 L194.67,1596.00 L195.69,1595.74 L196.70,1595.20" fill="none" stroke="#7bb8b5" stroke-width="1.9"/>
<g transform="translate(162.00,1600.10) scale(0.900,0.975)"><path d="M5,16 C2.1,16 0,13.9 0,11 C0,9 0.5,7.3 1.2,5.8 C1.6,6.8 2,7.3 2.6,7.6 C2.6,4.8 3.2,2.2 4.4,0 C5,2.4 5.8,4.2 6.6,5.6 C7.2,4.8 7.9,4 8.6,2.8 C9.6,4.8 10,7.6 10,11 C10,13.9 7.9,16 5,16 Z" fill="#7bb8b5"/><path d="M5.2,7.2 C6,8.8 7.4,9.8 7.4,12 C7.4,13.6 6.4,14.6 5,14.6 C3.6,14.6 2.6,13.6 2.6,12.2 C2.6,11 3.1,10.2 3.6,9.6 C3.8,10.2 4.1,10.6 4.4,10.7 C4.4,9.4 4.7,8.2 5.2,7.2 Z" fill="#ffffff" opacity="0.18"/></g>
<g transform="translate(174.40,1600.10) scale(0.900,0.975)"><path d="M5,16 C2.1,16 0,13.9 0,11 C0,9 0.5,7.3 1.2,5.8 C1.6,6.8 2,7.3 2.6,7.6 C2.6,4.8 3.2,2.2 4.4,0 C5,2.4 5.8,4.2 6.6,5.6 C7.2,4.8 7.9,4 8.6,2.8 C9.6,4.8 10,7.6 10,11 C10,13.9 7.9,16 5,16 Z" fill="#7bb8b5"/><path d="M5.2,7.2 C6,8.8 7.4,9.8 7.4,12 C7.4,13.6 6.4,14.6 5,14.6 C3.6,14.6 2.6,13.6 2.6,12.2 C2.6,11 3.1,10.2 3.6,9.6 C3.8,10.2 4.1,10.6 4.4,10.7 C4.4,9.4 4.7,8.2 5.2,7.2 Z" fill="#ffffff" opacity="0.18"/></g>
<rect x="201.80" y="1584.00" width="401.5" height="32.0" fill="#fafafa"/>
<rect x="201.80" y="1584.00" width="133.83" height="32.0" fill="#9dd3d0"/>
<rect x="201.80" y="1584.00" width="100.38" height="32.0" fill="#6aafac"/>
<path d="M208.49,1594.20V1606.20M215.18,1594.20V1606.20M221.88,1594.20V1606.20M228.57,1594.20V1606.20M241.95,1594.20V1606.20M248.64,1594.20V1606.20M255.33,1594.20V1606.20M262.02,1594.20V1606.20M275.41,1594.20V1606.20M282.10,1594.20V1606.20M288.79,1594.20V1606.20M295.48,1594.20V1606.20M308.87,1594.20V1606.20M315.56,1594.20V1606.20M322.25,1594.20V1606.20M328.94,1594.20V1606.20M342.33,1594.20V1606.20M349.02,1594.20V1606.20M355.71,1594.20V1606.20M362.40,1594.20V1606.20M375.78,1594.20V1606.20M382.48,1594.20V1606.20M389.17,1594.20V1606.20M395.86,1594.20V1606.20M409.24,1594.20V1606.20M415.93,1594.20V1606.20M422.62,1594.20V1606.20M429.32,1594.20V1606.20M442.70,1594.20V1606.20M449.39,1594.20V1606.20M456.08,1594.20V1606.20M462.77,1594.20V1606.20M476.16,1594.20V1606.20M482.85,1594.20V1606.20M489.54,1594.20V1606.20M496.23,1594.20V1606.20M509.62,1594.20V1606.20M516.31,1594.20V1606.20M523.00,1594.20V1606.20M529.69,1594.20V1606.20M543.08,1594.20V1606.20M549.77,1594.20V1606.20M556.46,1594.20V1606.20M563.15,1594.20V1606.20M576.53,1594.20V1606.20M583.23,1594.20V1606.20M589.92,1594.20V1606.20M596.61,1594.20V1606.20" stroke="#000" stroke-width="0.85" opacity="0.24"/>
<path d="M235.26,1584.00V1616.00M302.18,1584.00V1616.00M369.09,1584.00V1616.00M436.01,1584.00V1616.00M502.93,1584.00V1616.00M569.84,1584.00V1616.00" stroke="#000" stroke-width="0.8" stroke-dasharray="1 1" opacity="0.26"/>
<path d="M268.72,1584.00V1616.00M335.63,1584.00V1616.00M402.55,1584.00V1616.00M469.47,1584.00V1616.00M536.38,1584.00V1616.00" stroke="#333" stroke-width="1"/>
<rect x="201.80" y="1584.00" width="401.5" height="1.4" fill="#1e1e1e"/>
<rect x="201.80" y="1614.30" width="401.5" height="1.9" fill="#1e1e1e"/>
<rect x="201.50" y="1584.00" width="1.1" height="32.0" fill="#333"/>
<rect x="602.30" y="1584.00" width="1.2" height="32.0" fill="#888"/>
<line x1="31.8" y1="1619.70" x2="603.30" y2="1619.70" stroke="#8c8c8c" stroke-width="1"/>
<line x1="31.8" y1="1622.2" x2="603.3" y2="1622.2" stroke="#b5b5b5" stroke-width="1" stroke-dasharray="1 2.3"/>
<text transform="translate(31.00,1633.00) scale(0.78,1)" font-size="6.4" fill="#9a9a9a" letter-spacing="1.061" >**DISCARD ANY CLAMS THAT DO NOT OPEN DURING THE COOKING PROCESS.</text>
<g transform="translate(216.53,1666.35) translate(-7.18,-17.50) scale(1,0.8113)"><path d="M-0.40,-2.65 L6.31,43.14 H8.04 L14.75,-2.65" fill="none" stroke="#6a6a6a" stroke-width="6.70" stroke-linejoin="miter" stroke-miterlimit="5" stroke-linecap="butt"/><path d="M-0.40,-2.65 L6.31,43.14 H8.04 L14.75,-2.65" fill="none" stroke="#f5f5f5" stroke-width="5.30" stroke-linejoin="miter" stroke-miterlimit="5" stroke-linecap="butt"/></g>
<g transform="translate(238.57,1666.35) translate(-4.62,-17.50) scale(1,0.8113)"><path d="M11.89,0.00 H0 V43.14 H11.89 M0.00,20.71 H10.60" fill="none" stroke="#6a6a6a" stroke-width="6.70" stroke-linejoin="miter" stroke-miterlimit="5" stroke-linecap="butt"/><path d="M11.89,0.00 H0 V43.14 H11.89 M0.00,20.71 H10.60" fill="none" stroke="#f5f5f5" stroke-width="5.30" stroke-linejoin="miter" stroke-miterlimit="5" stroke-linecap="butt"/></g>
<g transform="translate(259.83,1666.35) translate(-6.39,-17.50) scale(1,0.8113)"><path d="M12.78,12.94 V8.66 A6.39,8.66 0 0 0 0.00,8.66 V34.48 A6.39,8.66 0 0 0 12.78,34.48 V21.57 H6.39" fill="none" stroke="#6a6a6a" stroke-width="6.70" stroke-linejoin="miter" stroke-miterlimit="5" stroke-linecap="butt"/><path d="M12.78,12.94 V8.66 A6.39,8.66 0 0 0 0.00,8.66 V34.48 A6.39,8.66 0 0 0 12.78,34.48 V21.57 H6.39" fill="none" stroke="#f5f5f5" stroke-width="5.30" stroke-linejoin="miter" stroke-miterlimit="5" stroke-linecap="butt"/></g>
<g transform="translate(281.08,1666.35) translate(-4.62,-17.50) scale(1,0.8113)"><path d="M11.89,0.00 H0 V43.14 H11.89 M0.00,20.71 H10.60" fill="none" stroke="#6a6a6a" stroke-width="6.70" stroke-linejoin="miter" stroke-miterlimit="5" stroke-linecap="butt"/><path d="M11.89,0.00 H0 V43.14 H11.89 M0.00,20.71 H10.60" fill="none" stroke="#f5f5f5" stroke-width="5.30" stroke-linejoin="miter" stroke-miterlimit="5" stroke-linecap="butt"/></g>
<g transform="translate(302.54,1666.35) translate(-6.59,-17.50) scale(1,0.8113)"><path d="M-2.65,0.00 H15.82 M6.59,0.00 V45.79" fill="none" stroke="#6a6a6a" stroke-width="6.70" stroke-linejoin="miter" stroke-miterlimit="5" stroke-linecap="butt"/><path d="M-2.65,0.00 H15.82 M6.59,0.00 V45.79" fill="none" stroke="#f5f5f5" stroke-width="5.30" stroke-linejoin="miter" stroke-miterlimit="5" stroke-linecap="butt"/></g>
<g transform="translate(327.53,1666.35) translate(-8.16,-17.50) scale(1,0.8113)"><path d="M-0.40,45.79 L6.85,0.00 H9.46 L16.71,45.79 M2.45,29.33 H13.87" fill="none" stroke="#6a6a6a" stroke-width="6.70" stroke-linejoin="miter" stroke-miterlimit="5" stroke-linecap="butt"/><path d="M-0.40,45.79 L6.85,0.00 H9.46 L16.71,45.79 M2.45,29.33 H13.87" fill="none" stroke="#f5f5f5" stroke-width="5.30" stroke-linejoin="miter" stroke-miterlimit="5" stroke-linecap="butt"/></g>
<g transform="translate(351.74,1666.35) translate(-5.80,-17.50) scale(1,0.8113)"><path d="M0.00,20.28 V0.00 H5.80 A5.57,7.86 0 0 1 11.14,7.86 V12.41 A5.57,7.86 0 0 1 5.80,20.28 H0 V43.14 H5.80 A5.80,7.86 0 0 0 11.60,35.28 V28.14 A5.80,7.86 0 0 0 5.80,20.28" fill="none" stroke="#6a6a6a" stroke-width="6.70" stroke-linejoin="miter" stroke-miterlimit="5" stroke-linecap="butt"/><path d="M0.00,20.28 V0.00 H5.80 A5.57,7.86 0 0 1 11.14,7.86 V12.41 A5.57,7.86 0 0 1 5.80,20.28 H0 V43.14 H5.80 A5.80,7.86 0 0 0 11.60,35.28 V28.14 A5.80,7.86 0 0 0 5.80,20.28" fill="none" stroke="#f5f5f5" stroke-width="5.30" stroke-linejoin="miter" stroke-miterlimit="5" stroke-linecap="butt"/></g>
<g transform="translate(372.11,1666.35) translate(-4.33,-17.50) scale(1,0.8113)"><path d="M0.00,-2.65 V43.14 H11.30" fill="none" stroke="#6a6a6a" stroke-width="6.70" stroke-linejoin="miter" stroke-miterlimit="5" stroke-linecap="butt"/><path d="M0.00,-2.65 V43.14 H11.30" fill="none" stroke="#f5f5f5" stroke-width="5.30" stroke-linejoin="miter" stroke-miterlimit="5" stroke-linecap="butt"/></g>
<g transform="translate(391.30,1666.35) translate(-4.62,-17.50) scale(1,0.8113)"><path d="M11.89,0.00 H0 V43.14 H11.89 M0.00,20.71 H10.60" fill="none" stroke="#6a6a6a" stroke-width="6.70" stroke-linejoin="miter" stroke-miterlimit="5" stroke-linecap="butt"/><path d="M11.89,0.00 H0 V43.14 H11.89 M0.00,20.71 H10.60" fill="none" stroke="#f5f5f5" stroke-width="5.30" stroke-linejoin="miter" stroke-miterlimit="5" stroke-linecap="butt"/></g>
<g transform="translate(412.56,1666.35) translate(-6.39,-17.50) scale(1,0.8113)"><path d="M12.78,11.22 V8.63 A6.39,8.63 0 0 0 0.00,8.63 V12.08 C0.00,18.12 12.78,22.43 12.78,30.20 V34.51 A6.39,8.63 0 0 1 0.00,34.51 V31.92" fill="none" stroke="#6a6a6a" stroke-width="6.70" stroke-linejoin="miter" stroke-miterlimit="5" stroke-linecap="butt"/><path d="M12.78,11.22 V8.63 A6.39,8.63 0 0 0 0.00,8.63 V12.08 C0.00,18.12 12.78,22.43 12.78,30.20 V34.51 A6.39,8.63 0 0 1 0.00,34.51 V31.92" fill="none" stroke="#f5f5f5" stroke-width="5.30" stroke-linejoin="miter" stroke-miterlimit="5" stroke-linecap="butt"/></g>
<g transform="translate(218.12,1664.45) translate(-7.18,-17.50) scale(1,0.8113)"><path d="M-0.40,-2.65 L6.31,43.14 H8.04 L14.75,-2.65" fill="none" stroke="#2b2b2b" stroke-width="5.30" stroke-linejoin="miter" stroke-miterlimit="5" stroke-linecap="butt"/></g>
<g transform="translate(240.17,1664.45) translate(-4.62,-17.50) scale(1,0.8113)"><path d="M11.89,0.00 H0 V43.14 H11.89 M0.00,20.71 H10.60" fill="none" stroke="#2b2b2b" stroke-width="5.30" stroke-linejoin="miter" stroke-miterlimit="5" stroke-linecap="butt"/></g>
<g transform="translate(261.43,1664.45) translate(-6.39,-17.50) scale(1,0.8113)"><path d="M12.78,12.94 V8.66 A6.39,8.66 0 0 0 0.00,8.66 V34.48 A6.39,8.66 0 0 0 12.78,34.48 V21.57 H6.39" fill="none" stroke="#2b2b2b" stroke-width="5.30" stroke-linejoin="miter" stroke-miterlimit="5" stroke-linecap="butt"/></g>
<g transform="translate(282.68,1664.45) translate(-4.62,-17.50) scale(1,0.8113)"><path d="M11.89,0.00 H0 V43.14 H11.89 M0.00,20.71 H10.60" fill="none" stroke="#2b2b2b" stroke-width="5.30" stroke-linejoin="miter" stroke-miterlimit="5" stroke-linecap="butt"/></g>
<g transform="translate(304.14,1664.45) translate(-6.59,-17.50) scale(1,0.8113)"><path d="M-2.65,0.00 H15.82 M6.59,0.00 V45.79" fill="none" stroke="#2b2b2b" stroke-width="5.30" stroke-linejoin="miter" stroke-miterlimit="5" stroke-linecap="butt"/></g>
<g transform="translate(329.13,1664.45) translate(-8.16,-17.50) scale(1,0.8113)"><path d="M-0.40,45.79 L6.85,0.00 H9.46 L16.71,45.79 M2.45,29.33 H13.87" fill="none" stroke="#2b2b2b" stroke-width="5.30" stroke-linejoin="miter" stroke-miterlimit="5" stroke-linecap="butt"/></g>
<g transform="translate(353.34,1664.45) translate(-5.80,-17.50) scale(1,0.8113)"><path d="M0.00,20.28 V0.00 H5.80 A5.57,7.86 0 0 1 11.14,7.86 V12.41 A5.57,7.86 0 0 1 5.80,20.28 H0 V43.14 H5.80 A5.80,7.86 0 0 0 11.60,35.28 V28.14 A5.80,7.86 0 0 0 5.80,20.28" fill="none" stroke="#2b2b2b" stroke-width="5.30" stroke-linejoin="miter" stroke-miterlimit="5" stroke-linecap="butt"/></g>
<g transform="translate(373.71,1664.45) translate(-4.33,-17.50) scale(1,0.8113)"><path d="M0.00,-2.65 V43.14 H11.30" fill="none" stroke="#2b2b2b" stroke-width="5.30" stroke-linejoin="miter" stroke-miterlimit="5" stroke-linecap="butt"/></g>
<g transform="translate(392.90,1664.45) translate(-4.62,-17.50) scale(1,0.8113)"><path d="M11.89,0.00 H0 V43.14 H11.89 M0.00,20.71 H10.60" fill="none" stroke="#2b2b2b" stroke-width="5.30" stroke-linejoin="miter" stroke-miterlimit="5" stroke-linecap="butt"/></g>
<g transform="translate(414.16,1664.45) translate(-6.39,-17.50) scale(1,0.8113)"><path d="M12.78,11.22 V8.63 A6.39,8.63 0 0 0 0.00,8.63 V12.08 C0.00,18.12 12.78,22.43 12.78,30.20 V34.51 A6.39,8.63 0 0 1 0.00,34.51 V31.92" fill="none" stroke="#2b2b2b" stroke-width="5.30" stroke-linejoin="miter" stroke-miterlimit="5" stroke-linecap="butt"/></g>
<path d="M32.00,1657.40 L35.60,1664.50 L32.00,1671.60 M35.87,1657.40 L39.47,1664.50 L35.87,1671.60 M39.74,1657.40 L43.34,1664.50 L39.74,1671.60 M43.61,1657.40 L47.21,1664.50 L43.61,1671.60 M47.48,1657.40 L51.08,1664.50 L47.48,1671.60 M51.35,1657.40 L54.95,1664.50 L51.35,1671.60 M55.22,1657.40 L58.82,1664.50 L55.22,1671.60 M59.09,1657.40 L62.69,1664.50 L59.09,1671.60 M62.96,1657.40 L66.56,1664.50 L62.96,1671.60 M66.83,1657.40 L70.43,1664.50 L66.83,1671.60 M70.70,1657.40 L74.30,1664.50 L70.70,1671.60 M74.57,1657.40 L78.17,1664.50 L74.57,1671.60 M78.44,1657.40 L82.04,1664.50 L78.44,1671.60 M82.31,1657.40 L85.91,1664.50 L82.31,1671.60 M86.18,1657.40 L89.78,1664.50 L86.18,1671.60 M90.05,1657.40 L93.65,1664.50 L90.05,1671.60 M93.92,1657.40 L97.52,1664.50 L93.92,1671.60 M97.79,1657.40 L101.39,1664.50 L97.79,1671.60 M101.66,1657.40 L105.26,1664.50 L101.66,1671.60 M105.53,1657.40 L109.13,1664.50 L105.53,1671.60 M109.40,1657.40 L113.00,1664.50 L109.40,1671.60 M113.27,1657.40 L116.87,1664.50 L113.27,1671.60 M117.14,1657.40 L120.74,1664.50 L117.14,1671.60 M121.01,1657.40 L124.61,1664.50 L121.01,1671.60 M124.88,1657.40 L128.48,1664.50 L124.88,1671.60 M128.75,1657.40 L132.35,1664.50 L128.75,1671.60 M132.62,1657.40 L136.22,1664.50 L132.62,1671.60 M136.49,1657.40 L140.09,1664.50 L136.49,1671.60 M140.36,1657.40 L143.96,1664.50 L140.36,1671.60 M144.23,1657.40 L147.83,1664.50 L144.23,1671.60 M148.10,1657.40 L151.70,1664.50 L148.10,1671.60 M151.97,1657.40 L155.57,1664.50 L151.97,1671.60 M155.84,1657.40 L159.44,1664.50 L155.84,1671.60 M159.71,1657.40 L163.31,1664.50 L159.71,1671.60 M163.58,1657.40 L167.18,1664.50 L163.58,1671.60 M167.45,1657.40 L171.05,1664.50 L167.45,1671.60 M171.32,1657.40 L174.92,1664.50 L171.32,1671.60 M175.19,1657.40 L178.79,1664.50 L175.19,1671.60 M179.06,1657.40 L182.66,1664.50 L179.06,1671.60 M182.93,1657.40 L186.53,1664.50 L182.93,1671.60 " fill="none" stroke="#8a8a8a" stroke-width="1.25"/>
<path d="M604.00,1657.40 L600.40,1664.50 L604.00,1671.60 M600.13,1657.40 L596.53,1664.50 L600.13,1671.60 M596.26,1657.40 L592.66,1664.50 L596.26,1671.60 M592.39,1657.40 L588.79,1664.50 L592.39,1671.60 M588.52,1657.40 L584.92,1664.50 L588.52,1671.60 M584.65,1657.40 L581.05,1664.50 L584.65,1671.60 M580.78,1657.40 L577.18,1664.50 L580.78,1671.60 M576.91,1657.40 L573.31,1664.50 L576.91,1671.60 M573.04,1657.40 L569.44,1664.50 L573.04,1671.60 M569.17,1657.40 L565.57,1664.50 L569.17,1671.60 M565.30,1657.40 L561.70,1664.50 L565.30,1671.60 M561.43,1657.40 L557.83,1664.50 L561.43,1671.60 M557.56,1657.40 L553.96,1664.50 L557.56,1671.60 M553.69,1657.40 L550.09,1664.50 L553.69,1671.60 M549.82,1657.40 L546.22,1664.50 L549.82,1671.60 M545.95,1657.40 L542.35,1664.50 L545.95,1671.60 M542.08,1657.40 L538.48,1664.50 L542.08,1671.60 M538.21,1657.40 L534.61,1664.50 L538.21,1671.60 M534.34,1657.40 L530.74,1664.50 L534.34,1671.60 M530.47,1657.40 L526.87,1664.50 L530.47,1671.60 M526.60,1657.40 L523.00,1664.50 L526.60,1671.60 M522.73,1657.40 L519.13,1664.50 L522.73,1671.60 M518.86,1657.40 L515.26,1664.50 L518.86,1671.60 M514.99,1657.40 L511.39,1664.50 L514.99,1671.60 M511.12,1657.40 L507.52,1664.50 L511.12,1671.60 M507.25,1657.40 L503.65,1664.50 L507.25,1671.60 M503.38,1657.40 L499.78,1664.50 L503.38,1671.60 M499.51,1657.40 L495.91,1664.50 L499.51,1671.60 M495.64,1657.40 L492.04,1664.50 L495.64,1671.60 M491.77,1657.40 L488.17,1664.50 L491.77,1671.60 M487.90,1657.40 L484.30,1664.50 L487.90,1671.60 M484.03,1657.40 L480.43,1664.50 L484.03,1671.60 M480.16,1657.40 L476.56,1664.50 L480.16,1671.60 M476.29,1657.40 L472.69,1664.50 L476.29,1671.60 M472.42,1657.40 L468.82,1664.50 L472.42,1671.60 M468.55,1657.40 L464.95,1664.50 L468.55,1671.60 M464.68,1657.40 L461.08,1664.50 L464.68,1671.60 M460.81,1657.40 L457.21,1664.50 L460.81,1671.60 M456.94,1657.40 L453.34,1664.50 L456.94,1671.60 M453.07,1657.40 L449.47,1664.50 L453.07,1671.60 M449.20,1657.40 L445.60,1664.50 L449.20,1671.60 M445.33,1657.40 L441.73,1664.50 L445.33,1671.60 " fill="none" stroke="#8a8a8a" stroke-width="1.25"/>
<text transform="translate(201.60,1700.60) scale(0.8,1)" font-size="7.3" fill="#555" text-anchor="middle">0</text>
<line x1="201.60" y1="1701.20" x2="201.60" y2="1708.2" stroke="#444" stroke-width="0.9"/>
<text transform="translate(268.52,1700.60) scale(0.8,1)" font-size="7.3" fill="#555" text-anchor="middle">10</text>
<line x1="268.52" y1="1701.20" x2="268.52" y2="1708.2" stroke="#444" stroke-width="0.9"/>
<text transform="translate(335.43,1700.60) scale(0.8,1)" font-size="7.3" fill="#555" text-anchor="middle">20</text>
<line x1="335.43" y1="1701.20" x2="335.43" y2="1708.2" stroke="#444" stroke-width="0.9"/>
<text transform="translate(402.35,1700.60) scale(0.8,1)" font-size="7.3" fill="#555" text-anchor="middle">30</text>
<line x1="402.35" y1="1701.20" x2="402.35" y2="1708.2" stroke="#444" stroke-width="0.9"/>
<text transform="translate(469.27,1700.60) scale(0.8,1)" font-size="7.3" fill="#555" text-anchor="middle">40</text>
<line x1="469.27" y1="1701.20" x2="469.27" y2="1708.2" stroke="#444" stroke-width="0.9"/>
<text transform="translate(536.18,1700.60) scale(0.8,1)" font-size="7.3" fill="#555" text-anchor="middle">50</text>
<line x1="536.18" y1="1701.20" x2="536.18" y2="1708.2" stroke="#444" stroke-width="0.9"/>
<text transform="translate(603.10,1700.60) scale(0.8,1)" font-size="7.3" fill="#555" text-anchor="middle">60</text>
<line x1="603.10" y1="1701.20" x2="603.10" y2="1708.2" stroke="#444" stroke-width="0.9"/>
<text x="30.6" y="1719.30" font-size="12.3" fill="#2e2e2e" stroke="#2e2e2e" stroke-width="0.32" textLength="29.07" lengthAdjust="spacingAndGlyphs">Scallion</text>
<text transform="translate(31.3,1730.00) scale(0.72,1)" font-size="8.6" fill="#646464" stroke="#646464" stroke-width="0.15" letter-spacing="1.972">WHOLE</text>
<text transform="translate(31.1,1739.70) scale(0.84,1)" font-size="7.6" font-weight="bold" fill="#e05536" letter-spacing="0.838">AVERAGE COOKING TIME: 4 MIN.</text>
<path d="M162.20,1711.10 L163.21,1710.56 L164.23,1710.30 L165.24,1710.46 L166.26,1710.95 L167.27,1711.52 L168.29,1711.87 L169.30,1711.82 L170.32,1711.39 L171.33,1710.81 L172.35,1710.38 L173.36,1710.33 L174.38,1710.68 L175.39,1711.25 L176.41,1711.74 L177.42,1711.90 L178.44,1711.64 L179.45,1711.10 L180.46,1710.56 L181.48,1710.30 L182.49,1710.46 L183.51,1710.95 L184.52,1711.52 L185.54,1711.87 L186.55,1711.82 L187.57,1711.39 L188.58,1710.81 L189.60,1710.38 L190.61,1710.33 L191.63,1710.68 L192.64,1711.25 L193.66,1711.74 L194.67,1711.90 L195.69,1711.64 L196.70,1711.10" fill="none" stroke="#e05536" stroke-width="1.9"/>
<path d="M162.20,1715.25 L163.21,1714.71 L164.23,1714.45 L165.24,1714.61 L166.26,1715.10 L167.27,1715.67 L168.29,1716.02 L169.30,1715.97 L170.32,1715.54 L171.33,1714.96 L172.35,1714.53 L173.36,1714.48 L174.38,1714.83 L175.39,1715.40 L176.41,1715.89 L177.42,1716.05 L178.44,1715.79 L179.45,1715.25 L180.46,1714.71 L181.48,1714.45 L182.49,1714.61 L183.51,1715.10 L184.52,1715.67 L185.54,1716.02 L186.55,1715.97 L187.57,1715.54 L188.58,1714.96 L189.60,1714.53 L190.61,1714.48 L191.63,1714.83 L192.64,1715.40 L193.66,1715.89 L194.67,1716.05 L195.69,1715.79 L196.70,1715.25" fill="none" stroke="#e05536" stroke-width="1.9"/>
<path d="M162.20,1719.40 L163.21,1718.86 L164.23,1718.60 L165.24,1718.76 L166.26,1719.25 L167.27,1719.82 L168.29,1720.17 L169.30,1720.12 L170.32,1719.69 L171.33,1719.11 L172.35,1718.68 L173.36,1718.63 L174.38,1718.98 L175.39,1719.55 L176.41,1720.04 L177.42,1720.20 L178.44,1719.94 L179.45,1719.40 L180.46,1718.86 L181.48,1718.60 L182.49,1718.76 L183.51,1719.25 L184.52,1719.82 L185.54,1720.17 L186.55,1720.12 L187.57,1719.69 L188.58,1719.11 L189.60,1718.68 L190.61,1718.63 L191.63,1718.98 L192.64,1719.55 L193.66,1720.04 L194.67,1720.20 L195.69,1719.94 L196.70,1719.40" fill="none" stroke="#e05536" stroke-width="1.9"/>
<g transform="translate(162.00,1724.30) scale(0.900,0.975)"><path d="M5,16 C2.1,16 0,13.9 0,11 C0,9 0.5,7.3 1.2,5.8 C1.6,6.8 2,7.3 2.6,7.6 C2.6,4.8 3.2,2.2 4.4,0 C5,2.4 5.8,4.2 6.6,5.6 C7.2,4.8 7.9,4 8.6,2.8 C9.6,4.8 10,7.6 10,11 C10,13.9 7.9,16 5,16 Z" fill="#e05536"/><path d="M5.2,7.2 C6,8.8 7.4,9.8 7.4,12 C7.4,13.6 6.4,14.6 5,14.6 C3.6,14.6 2.6,13.6 2.6,12.2 C2.6,11 3.1,10.2 3.6,9.6 C3.8,10.2 4.1,10.6 4.4,10.7 C4.4,9.4 4.7,8.2 5.2,7.2 Z" fill="#ffffff" opacity="0.18"/></g>
<g transform="translate(174.40,1724.30) scale(0.900,0.975)"><path d="M5,16 C2.1,16 0,13.9 0,11 C0,9 0.5,7.3 1.2,5.8 C1.6,6.8 2,7.3 2.6,7.6 C2.6,4.8 3.2,2.2 4.4,0 C5,2.4 5.8,4.2 6.6,5.6 C7.2,4.8 7.9,4 8.6,2.8 C9.6,4.8 10,7.6 10,11 C10,13.9 7.9,16 5,16 Z" fill="#e05536"/><path d="M5.2,7.2 C6,8.8 7.4,9.8 7.4,12 C7.4,13.6 6.4,14.6 5,14.6 C3.6,14.6 2.6,13.6 2.6,12.2 C2.6,11 3.1,10.2 3.6,9.6 C3.8,10.2 4.1,10.6 4.4,10.7 C4.4,9.4 4.7,8.2 5.2,7.2 Z" fill="#ffffff" opacity="0.18"/></g>
<rect x="201.60" y="1708.20" width="401.5" height="32.0" fill="#fafafa"/>
<rect x="201.60" y="1708.20" width="26.77" height="32.0" fill="#f5917f"/>
<rect x="201.60" y="1708.20" width="20.07" height="32.0" fill="#e05a3b"/>
<path d="M208.29,1718.40V1730.40M214.98,1718.40V1730.40M221.67,1718.40V1730.40M228.37,1718.40V1730.40M241.75,1718.40V1730.40M248.44,1718.40V1730.40M255.13,1718.40V1730.40M261.82,1718.40V1730.40M275.21,1718.40V1730.40M281.90,1718.40V1730.40M288.59,1718.40V1730.40M295.28,1718.40V1730.40M308.67,1718.40V1730.40M315.36,1718.40V1730.40M322.05,1718.40V1730.40M328.74,1718.40V1730.40M342.12,1718.40V1730.40M348.82,1718.40V1730.40M355.51,1718.40V1730.40M362.20,1718.40V1730.40M375.58,1718.40V1730.40M382.27,1718.40V1730.40M388.97,1718.40V1730.40M395.66,1718.40V1730.40M409.04,1718.40V1730.40M415.73,1718.40V1730.40M422.42,1718.40V1730.40M429.12,1718.40V1730.40M442.50,1718.40V1730.40M449.19,1718.40V1730.40M455.88,1718.40V1730.40M462.57,1718.40V1730.40M475.96,1718.40V1730.40M482.65,1718.40V1730.40M489.34,1718.40V1730.40M496.03,1718.40V1730.40M509.42,1718.40V1730.40M516.11,1718.40V1730.40M522.80,1718.40V1730.40M529.49,1718.40V1730.40M542.88,1718.40V1730.40M549.57,1718.40V1730.40M556.26,1718.40V1730.40M562.95,1718.40V1730.40M576.33,1718.40V1730.40M583.02,1718.40V1730.40M589.72,1718.40V1730.40M596.41,1718.40V1730.40" stroke="#000" stroke-width="0.85" opacity="0.24"/>
<path d="M235.06,1708.20V1740.20M301.98,1708.20V1740.20M368.89,1708.20V1740.20M435.81,1708.20V1740.20M502.73,1708.20V1740.20M569.64,1708.20V1740.20" stroke="#000" stroke-width="0.8" stroke-dasharray="1 1" opacity="0.26"/>
<path d="M268.52,1708.20V1740.20M335.43,1708.20V1740.20M402.35,1708.20V1740.20M469.27,1708.20V1740.20M536.18,1708.20V1740.20" stroke="#333" stroke-width="1"/>
<rect x="201.60" y="1708.20" width="401.5" height="1.4" fill="#1e1e1e"/>
<rect x="201.60" y="1738.50" width="401.5" height="1.9" fill="#1e1e1e"/>
<rect x="201.30" y="1708.20" width="1.1" height="32.0" fill="#333"/>
<rect x="602.10" y="1708.20" width="1.2" height="32.0" fill="#888"/>
<line x1="31.8" y1="1743.90" x2="603.10" y2="1743.90" stroke="#8c8c8c" stroke-width="1"/>
<line x1="31.8" y1="1746.4" x2="603.1" y2="1746.4" stroke="#b5b5b5" stroke-width="1" stroke-dasharray="1 2.3"/>
<text x="30.6" y="1762.20" font-size="12.3" fill="#2e2e2e" stroke="#2e2e2e" stroke-width="0.32" textLength="61.36" lengthAdjust="spacingAndGlyphs">Squash/Zucchini</text>
<text transform="translate(31.3,1772.90) scale(0.72,1)" font-size="8.6" fill="#646464" stroke="#646464" stroke-width="0.15" letter-spacing="1.972">1/2-INCH SLICES</text>
<text transform="translate(31.1,1782.60) scale(0.84,1)" font-size="7.6" font-weight="bold" fill="#e05536" letter-spacing="0.838">AVERAGE COOKING TIME: 4 MIN.</text>
<path d="M162.20,1754.00 L163.21,1753.46 L164.23,1753.20 L165.24,1753.36 L166.26,1753.85 L167.27,1754.42 L168.29,1754.77 L169.30,1754.72 L170.32,1754.29 L171.33,1753.71 L172.35,1753.28 L173.36,1753.23 L174.38,1753.58 L175.39,1754.15 L176.41,1754.64 L177.42,1754.80 L178.44,1754.54 L179.45,1754.00 L180.46,1753.46 L181.48,1753.20 L182.49,1753.36 L183.51,1753.85 L184.52,1754.42 L185.54,1754.77 L186.55,1754.72 L187.57,1754.29 L188.58,1753.71 L189.60,1753.28 L190.61,1753.23 L191.63,1753.58 L192.64,1754.15 L193.66,1754.64 L194.67,1754.80 L195.69,1754.54 L196.70,1754.00" fill="none" stroke="#e05536" stroke-width="1.9"/>
<path d="M162.20,1758.15 L163.21,1757.61 L164.23,1757.35 L165.24,1757.51 L166.26,1758.00 L167.27,1758.57 L168.29,1758.92 L169.30,1758.87 L170.32,1758.44 L171.33,1757.86 L172.35,1757.43 L173.36,1757.38 L174.38,1757.73 L175.39,1758.30 L176.41,1758.79 L177.42,1758.95 L178.44,1758.69 L179.45,1758.15 L180.46,1757.61 L181.48,1757.35 L182.49,1757.51 L183.51,1758.00 L184.52,1758.57 L185.54,1758.92 L186.55,1758.87 L187.57,1758.44 L188.58,1757.86 L189.60,1757.43 L190.61,1757.38 L191.63,1757.73 L192.64,1758.30 L193.66,1758.79 L194.67,1758.95 L195.69,1758.69 L196.70,1758.15" fill="none" stroke="#e05536" stroke-width="1.9"/>
<path d="M162.20,1762.30 L163.21,1761.76 L164.23,1761.50 L165.24,1761.66 L166.26,1762.15 L167.27,1762.72 L168.29,1763.07 L169.30,1763.02 L170.32,1762.59 L171.33,1762.01 L172.35,1761.58 L173.36,1761.53 L174.38,1761.88 L175.39,1762.45 L176.41,1762.94 L177.42,1763.10 L178.44,1762.84 L179.45,1762.30 L180.46,1761.76 L181.48,1761.50 L182.49,1761.66 L183.51,1762.15 L184.52,1762.72 L185.54,1763.07 L186.55,1763.02 L187.57,1762.59 L188.58,1762.01 L189.60,1761.58 L190.61,1761.53 L191.63,1761.88 L192.64,1762.45 L193.66,1762.94 L194.67,1763.10 L195.69,1762.84 L196.70,1762.30" fill="none" stroke="#e05536" stroke-width="1.9"/>
<g transform="translate(162.00,1767.20) scale(0.900,0.975)"><path d="M5,16 C2.1,16 0,13.9 0,11 C0,9 0.5,7.3 1.2,5.8 C1.6,6.8 2,7.3 2.6,7.6 C2.6,4.8 3.2,2.2 4.4,0 C5,2.4 5.8,4.2 6.6,5.6 C7.2,4.8 7.9,4 8.6,2.8 C9.6,4.8 10,7.6 10,11 C10,13.9 7.9,16 5,16 Z" fill="#e05536"/><path d="M5.2,7.2 C6,8.8 7.4,9.8 7.4,12 C7.4,13.6 6.4,14.6 5,14.6 C3.6,14.6 2.6,13.6 2.6,12.2 C2.6,11 3.1,10.2 3.6,9.6 C3.8,10.2 4.1,10.6 4.4,10.7 C4.4,9.4 4.7,8.2 5.2,7.2 Z" fill="#ffffff" opacity="0.18"/></g>
<g transform="translate(174.40,1767.20) scale(0.900,0.975)"><path d="M5,16 C2.1,16 0,13.9 0,11 C0,9 0.5,7.3 1.2,5.8 C1.6,6.8 2,7.3 2.6,7.6 C2.6,4.8 3.2,2.2 4.4,0 C5,2.4 5.8,4.2 6.6,5.6 C7.2,4.8 7.9,4 8.6,2.8 C9.6,4.8 10,7.6 10,11 C10,13.9 7.9,16 5,16 Z" fill="#e05536"/><path d="M5.2,7.2 C6,8.8 7.4,9.8 7.4,12 C7.4,13.6 6.4,14.6 5,14.6 C3.6,14.6 2.6,13.6 2.6,12.2 C2.6,11 3.1,10.2 3.6,9.6 C3.8,10.2 4.1,10.6 4.4,10.7 C4.4,9.4 4.7,8.2 5.2,7.2 Z" fill="#ffffff" opacity="0.18"/></g>
<rect x="201.60" y="1751.10" width="401.5" height="32.0" fill="#fafafa"/>
<rect x="201.60" y="1751.10" width="33.46" height="32.0" fill="#f5917f"/>
<rect x="201.60" y="1751.10" width="20.07" height="32.0" fill="#e05a3b"/>
<path d="M208.29,1761.30V1773.30M214.98,1761.30V1773.30M221.67,1761.30V1773.30M228.37,1761.30V1773.30M241.75,1761.30V1773.30M248.44,1761.30V1773.30M255.13,1761.30V1773.30M261.82,1761.30V1773.30M275.21,1761.30V1773.30M281.90,1761.30V1773.30M288.59,1761.30V1773.30M295.28,1761.30V1773.30M308.67,1761.30V1773.30M315.36,1761.30V1773.30M322.05,1761.30V1773.30M328.74,1761.30V1773.30M342.12,1761.30V1773.30M348.82,1761.30V1773.30M355.51,1761.30V1773.30M362.20,1761.30V1773.30M375.58,1761.30V1773.30M382.27,1761.30V1773.30M388.97,1761.30V1773.30M395.66,1761.30V1773.30M409.04,1761.30V1773.30M415.73,1761.30V1773.30M422.42,1761.30V1773.30M429.12,1761.30V1773.30M442.50,1761.30V1773.30M449.19,1761.30V1773.30M455.88,1761.30V1773.30M462.57,1761.30V1773.30M475.96,1761.30V1773.30M482.65,1761.30V1773.30M489.34,1761.30V1773.30M496.03,1761.30V1773.30M509.42,1761.30V1773.30M516.11,1761.30V1773.30M522.80,1761.30V1773.30M529.49,1761.30V1773.30M542.88,1761.30V1773.30M549.57,1761.30V1773.30M556.26,1761.30V1773.30M562.95,1761.30V1773.30M576.33,1761.30V1773.30M583.02,1761.30V1773.30M589.72,1761.30V1773.30M596.41,1761.30V1773.30" stroke="#000" stroke-width="0.85" opacity="0.24"/>
<path d="M235.06,1751.10V1783.10M301.98,1751.10V1783.10M368.89,1751.10V1783.10M435.81,1751.10V1783.10M502.73,1751.10V1783.10M569.64,1751.10V1783.10" stroke="#000" stroke-width="0.8" stroke-dasharray="1 1" opacity="0.26"/>
<path d="M268.52,1751.10V1783.10M335.43,1751.10V1783.10M402.35,1751.10V1783.10M469.27,1751.10V1783.10M536.18,1751.10V1783.10" stroke="#333" stroke-width="1"/>
<rect x="201.60" y="1751.10" width="401.5" height="1.4" fill="#1e1e1e"/>
<rect x="201.60" y="1781.40" width="401.5" height="1.9" fill="#1e1e1e"/>
<rect x="201.30" y="1751.10" width="1.1" height="32.0" fill="#333"/>
<rect x="602.10" y="1751.10" width="1.2" height="32.0" fill="#888"/>
<line x1="31.8" y1="1786.80" x2="603.10" y2="1786.80" stroke="#8c8c8c" stroke-width="1"/>
<line x1="31.8" y1="1789.3" x2="603.1" y2="1789.3" stroke="#b5b5b5" stroke-width="1" stroke-dasharray="1 2.3"/>
<text x="30.6" y="1805.30" font-size="12.3" fill="#2e2e2e" stroke="#2e2e2e" stroke-width="0.32" textLength="39.68" lengthAdjust="spacingAndGlyphs">Asparagus</text>
<text transform="translate(31.3,1816.00) scale(0.72,1)" font-size="8.6" fill="#646464" stroke="#646464" stroke-width="0.15" letter-spacing="1.972">1/2-INCH THICK</text>
<text transform="translate(31.1,1825.70) scale(0.84,1)" font-size="7.6" font-weight="bold" fill="#e05536" letter-spacing="0.838">AVERAGE COOKING TIME: 7 MIN.</text>
<path d="M162.20,1797.10 L163.21,1796.56 L164.23,1796.30 L165.24,1796.46 L166.26,1796.95 L167.27,1797.52 L168.29,1797.87 L169.30,1797.82 L170.32,1797.39 L171.33,1796.81 L172.35,1796.38 L173.36,1796.33 L174.38,1796.68 L175.39,1797.25 L176.41,1797.74 L177.42,1797.90 L178.44,1797.64 L179.45,1797.10 L180.46,1796.56 L181.48,1796.30 L182.49,1796.46 L183.51,1796.95 L184.52,1797.52 L185.54,1797.87 L186.55,1797.82 L187.57,1797.39 L188.58,1796.81 L189.60,1796.38 L190.61,1796.33 L191.63,1796.68 L192.64,1797.25 L193.66,1797.74 L194.67,1797.90 L195.69,1797.64 L196.70,1797.10" fill="none" stroke="#e05536" stroke-width="1.9"/>
<path d="M162.20,1801.25 L163.21,1800.71 L164.23,1800.45 L165.24,1800.61 L166.26,1801.10 L167.27,1801.67 L168.29,1802.02 L169.30,1801.97 L170.32,1801.54 L171.33,1800.96 L172.35,1800.53 L173.36,1800.48 L174.38,1800.83 L175.39,1801.40 L176.41,1801.89 L177.42,1802.05 L178.44,1801.79 L179.45,1801.25 L180.46,1800.71 L181.48,1800.45 L182.49,1800.61 L183.51,1801.10 L184.52,1801.67 L185.54,1802.02 L186.55,1801.97 L187.57,1801.54 L188.58,1800.96 L189.60,1800.53 L190.61,1800.48 L191.63,1800.83 L192.64,1801.40 L193.66,1801.89 L194.67,1802.05 L195.69,1801.79 L196.70,1801.25" fill="none" stroke="#e05536" stroke-width="1.9"/>
<path d="M162.20,1805.40 L163.21,1804.86 L164.23,1804.60 L165.24,1804.76 L166.26,1805.25 L167.27,1805.82 L168.29,1806.17 L169.30,1806.12 L170.32,1805.69 L171.33,1805.11 L172.35,1804.68 L173.36,1804.63 L174.38,1804.98 L175.39,1805.55 L176.41,1806.04 L177.42,1806.20 L178.44,1805.94 L179.45,1805.40 L180.46,1804.86 L181.48,1804.60 L182.49,1804.76 L183.51,1805.25 L184.52,1805.82 L185.54,1806.17 L186.55,1806.12 L187.57,1805.69 L188.58,1805.11 L189.60,1804.68 L190.61,1804.63 L191.63,1804.98 L192.64,1805.55 L193.66,1806.04 L194.67,1806.20 L195.69,1805.94 L196.70,1805.40" fill="none" stroke="#e05536" stroke-width="1.9"/>
<g transform="translate(162.00,1810.30) scale(0.900,0.975)"><path d="M5,16 C2.1,16 0,13.9 0,11 C0,9 0.5,7.3 1.2,5.8 C1.6,6.8 2,7.3 2.6,7.6 C2.6,4.8 3.2,2.2 4.4,0 C5,2.4 5.8,4.2 6.6,5.6 C7.2,4.8 7.9,4 8.6,2.8 C9.6,4.8 10,7.6 10,11 C10,13.9 7.9,16 5,16 Z" fill="#e05536"/><path d="M5.2,7.2 C6,8.8 7.4,9.8 7.4,12 C7.4,13.6 6.4,14.6 5,14.6 C3.6,14.6 2.6,13.6 2.6,12.2 C2.6,11 3.1,10.2 3.6,9.6 C3.8,10.2 4.1,10.6 4.4,10.7 C4.4,9.4 4.7,8.2 5.2,7.2 Z" fill="#ffffff" opacity="0.18"/></g>
<g transform="translate(174.40,1810.30) scale(0.900,0.975)"><path d="M5,16 C2.1,16 0,13.9 0,11 C0,9 0.5,7.3 1.2,5.8 C1.6,6.8 2,7.3 2.6,7.6 C2.6,4.8 3.2,2.2 4.4,0 C5,2.4 5.8,4.2 6.6,5.6 C7.2,4.8 7.9,4 8.6,2.8 C9.6,4.8 10,7.6 10,11 C10,13.9 7.9,16 5,16 Z" fill="#e05536"/><path d="M5.2,7.2 C6,8.8 7.4,9.8 7.4,12 C7.4,13.6 6.4,14.6 5,14.6 C3.6,14.6 2.6,13.6 2.6,12.2 C2.6,11 3.1,10.2 3.6,9.6 C3.8,10.2 4.1,10.6 4.4,10.7 C4.4,9.4 4.7,8.2 5.2,7.2 Z" fill="#ffffff" opacity="0.18"/></g>
<rect x="201.60" y="1794.20" width="401.5" height="32.0" fill="#fafafa"/>
<rect x="201.60" y="1794.20" width="53.53" height="32.0" fill="#f5917f"/>
<rect x="201.60" y="1794.20" width="40.15" height="32.0" fill="#e05a3b"/>
<path d="M208.29,1804.40V1816.40M214.98,1804.40V1816.40M221.67,1804.40V1816.40M228.37,1804.40V1816.40M241.75,1804.40V1816.40M248.44,1804.40V1816.40M255.13,1804.40V1816.40M261.82,1804.40V1816.40M275.21,1804.40V1816.40M281.90,1804.40V1816.40M288.59,1804.40V1816.40M295.28,1804.40V1816.40M308.67,1804.40V1816.40M315.36,1804.40V1816.40M322.05,1804.40V1816.40M328.74,1804.40V1816.40M342.12,1804.40V1816.40M348.82,1804.40V1816.40M355.51,1804.40V1816.40M362.20,1804.40V1816.40M375.58,1804.40V1816.40M382.27,1804.40V1816.40M388.97,1804.40V1816.40M395.66,1804.40V1816.40M409.04,1804.40V1816.40M415.73,1804.40V1816.40M422.42,1804.40V1816.40M429.12,1804.40V1816.40M442.50,1804.40V1816.40M449.19,1804.40V1816.40M455.88,1804.40V1816.40M462.57,1804.40V1816.40M475.96,1804.40V1816.40M482.65,1804.40V1816.40M489.34,1804.40V1816.40M496.03,1804.40V1816.40M509.42,1804.40V1816.40M516.11,1804.40V1816.40M522.80,1804.40V1816.40M529.49,1804.40V1816.40M542.88,1804.40V1816.40M549.57,1804.40V1816.40M556.26,1804.40V1816.40M562.95,1804.40V1816.40M576.33,1804.40V1816.40M583.02,1804.40V1816.40M589.72,1804.40V1816.40M596.41,1804.40V1816.40" stroke="#000" stroke-width="0.85" opacity="0.24"/>
<path d="M235.06,1794.20V1826.20M301.98,1794.20V1826.20M368.89,1794.20V1826.20M435.81,1794.20V1826.20M502.73,1794.20V1826.20M569.64,1794.20V1826.20" stroke="#000" stroke-width="0.8" stroke-dasharray="1 1" opacity="0.26"/>
<path d="M268.52,1794.20V1826.20M335.43,1794.20V1826.20M402.35,1794.20V1826.20M469.27,1794.20V1826.20M536.18,1794.20V1826.20" stroke="#333" stroke-width="1"/>
<rect x="201.60" y="1794.20" width="401.5" height="1.4" fill="#1e1e1e"/>
<rect x="201.60" y="1824.50" width="401.5" height="1.9" fill="#1e1e1e"/>
<rect x="201.30" y="1794.20" width="1.1" height="32.0" fill="#333"/>
<rect x="602.10" y="1794.20" width="1.2" height="32.0" fill="#888"/>
<line x1="31.8" y1="1829.90" x2="603.10" y2="1829.90" stroke="#8c8c8c" stroke-width="1"/>
<line x1="31.8" y1="1832.4" x2="603.1" y2="1832.4" stroke="#b5b5b5" stroke-width="1" stroke-dasharray="1 2.3"/>
<text x="30.6" y="1848.50" font-size="12.3" fill="#2e2e2e" stroke="#2e2e2e" stroke-width="0.32" textLength="27.22" lengthAdjust="spacingAndGlyphs">Tomato</text>
<text transform="translate(31.3,1859.20) scale(0.72,1)" font-size="8.6" fill="#646464" stroke="#646464" stroke-width="0.15" letter-spacing="1.972">HALF</text>
<text transform="translate(31.1,1868.90) scale(0.84,1)" font-size="7.6" font-weight="bold" fill="#e05536" letter-spacing="0.838">AVERAGE COOKING TIME: 7 MIN.</text>
<path d="M162.20,1840.30 L163.21,1839.76 L164.23,1839.50 L165.24,1839.66 L166.26,1840.15 L167.27,1840.72 L168.29,1841.07 L169.30,1841.02 L170.32,1840.59 L171.33,1840.01 L172.35,1839.58 L173.36,1839.53 L174.38,1839.88 L175.39,1840.45 L176.41,1840.94 L177.42,1841.10 L178.44,1840.84 L179.45,1840.30 L180.46,1839.76 L181.48,1839.50 L182.49,1839.66 L183.51,1840.15 L184.52,1840.72 L185.54,1841.07 L186.55,1841.02 L187.57,1840.59 L188.58,1840.01 L189.60,1839.58 L190.61,1839.53 L191.63,1839.88 L192.64,1840.45 L193.66,1840.94 L194.67,1841.10 L195.69,1840.84 L196.70,1840.30" fill="none" stroke="#e05536" stroke-width="1.9"/>
<path d="M162.20,1844.45 L163.21,1843.91 L164.23,1843.65 L165.24,1843.81 L166.26,1844.30 L167.27,1844.87 L168.29,1845.22 L169.30,1845.17 L170.32,1844.74 L171.33,1844.16 L172.35,1843.73 L173.36,1843.68 L174.38,1844.03 L175.39,1844.60 L176.41,1845.09 L177.42,1845.25 L178.44,1844.99 L179.45,1844.45 L180.46,1843.91 L181.48,1843.65 L182.49,1843.81 L183.51,1844.30 L184.52,1844.87 L185.54,1845.22 L186.55,1845.17 L187.57,1844.74 L188.58,1844.16 L189.60,1843.73 L190.61,1843.68 L191.63,1844.03 L192.64,1844.60 L193.66,1845.09 L194.67,1845.25 L195.69,1844.99 L196.70,1844.45" fill="none" stroke="#e05536" stroke-width="1.9"/>
<path d="M162.20,1848.60 L163.21,1848.06 L164.23,1847.80 L165.24,1847.96 L166.26,1848.45 L167.27,1849.02 L168.29,1849.37 L169.30,1849.32 L170.32,1848.89 L171.33,1848.31 L172.35,1847.88 L173.36,1847.83 L174.38,1848.18 L175.39,1848.75 L176.41,1849.24 L177.42,1849.40 L178.44,1849.14 L179.45,1848.60 L180.46,1848.06 L181.48,1847.80 L182.49,1847.96 L183.51,1848.45 L184.52,1849.02 L185.54,1849.37 L186.55,1849.32 L187.57,1848.89 L188.58,1848.31 L189.60,1847.88 L190.61,1847.83 L191.63,1848.18 L192.64,1848.75 L193.66,1849.24 L194.67,1849.40 L195.69,1849.14 L196.70,1848.60" fill="none" stroke="#e05536" stroke-width="1.9"/>
<g transform="translate(162.00,1853.50) scale(0.900,0.975)"><path d="M5,16 C2.1,16 0,13.9 0,11 C0,9 0.5,7.3 1.2,5.8 C1.6,6.8 2,7.3 2.6,7.6 C2.6,4.8 3.2,2.2 4.4,0 C5,2.4 5.8,4.2 6.6,5.6 C7.2,4.8 7.9,4 8.6,2.8 C9.6,4.8 10,7.6 10,11 C10,13.9 7.9,16 5,16 Z" fill="#e05536"/><path d="M5.2,7.2 C6,8.8 7.4,9.8 7.4,12 C7.4,13.6 6.4,14.6 5,14.6 C3.6,14.6 2.6,13.6 2.6,12.2 C2.6,11 3.1,10.2 3.6,9.6 C3.8,10.2 4.1,10.6 4.4,10.7 C4.4,9.4 4.7,8.2 5.2,7.2 Z" fill="#ffffff" opacity="0.18"/></g>
<g transform="translate(174.40,1853.50) scale(0.900,0.975)"><path d="M5,16 C2.1,16 0,13.9 0,11 C0,9 0.5,7.3 1.2,5.8 C1.6,6.8 2,7.3 2.6,7.6 C2.6,4.8 3.2,2.2 4.4,0 C5,2.4 5.8,4.2 6.6,5.6 C7.2,4.8 7.9,4 8.6,2.8 C9.6,4.8 10,7.6 10,11 C10,13.9 7.9,16 5,16 Z" fill="#e05536"/><path d="M5.2,7.2 C6,8.8 7.4,9.8 7.4,12 C7.4,13.6 6.4,14.6 5,14.6 C3.6,14.6 2.6,13.6 2.6,12.2 C2.6,11 3.1,10.2 3.6,9.6 C3.8,10.2 4.1,10.6 4.4,10.7 C4.4,9.4 4.7,8.2 5.2,7.2 Z" fill="#ffffff" opacity="0.18"/></g>
<rect x="201.60" y="1837.40" width="401.5" height="32.0" fill="#fafafa"/>
<rect x="201.60" y="1837.40" width="53.53" height="32.0" fill="#f5917f"/>
<rect x="201.60" y="1837.40" width="40.15" height="32.0" fill="#e05a3b"/>
<path d="M208.29,1847.60V1859.60M214.98,1847.60V1859.60M221.67,1847.60V1859.60M228.37,1847.60V1859.60M241.75,1847.60V1859.60M248.44,1847.60V1859.60M255.13,1847.60V1859.60M261.82,1847.60V1859.60M275.21,1847.60V1859.60M281.90,1847.60V1859.60M288.59,1847.60V1859.60M295.28,1847.60V1859.60M308.67,1847.60V1859.60M315.36,1847.60V1859.60M322.05,1847.60V1859.60M328.74,1847.60V1859.60M342.12,1847.60V1859.60M348.82,1847.60V1859.60M355.51,1847.60V1859.60M362.20,1847.60V1859.60M375.58,1847.60V1859.60M382.27,1847.60V1859.60M388.97,1847.60V1859.60M395.66,1847.60V1859.60M409.04,1847.60V1859.60M415.73,1847.60V1859.60M422.42,1847.60V1859.60M429.12,1847.60V1859.60M442.50,1847.60V1859.60M449.19,1847.60V1859.60M455.88,1847.60V1859.60M462.57,1847.60V1859.60M475.96,1847.60V1859.60M482.65,1847.60V1859.60M489.34,1847.60V1859.60M496.03,1847.60V1859.60M509.42,1847.60V1859.60M516.11,1847.60V1859.60M522.80,1847.60V1859.60M529.49,1847.60V1859.60M542.88,1847.60V1859.60M549.57,1847.60V1859.60M556.26,1847.60V1859.60M562.95,1847.60V1859.60M576.33,1847.60V1859.60M583.02,1847.60V1859.60M589.72,1847.60V1859.60M596.41,1847.60V1859.60" stroke="#000" stroke-width="0.85" opacity="0.24"/>
<path d="M235.06,1837.40V1869.40M301.98,1837.40V1869.40M368.89,1837.40V1869.40M435.81,1837.40V1869.40M502.73,1837.40V1869.40M569.64,1837.40V1869.40" stroke="#000" stroke-width="0.8" stroke-dasharray="1 1" opacity="0.26"/>
<path d="M268.52,1837.40V1869.40M335.43,1837.40V1869.40M402.35,1837.40V1869.40M469.27,1837.40V1869.40M536.18,1837.40V1869.40" stroke="#333" stroke-width="1"/>
<rect x="201.60" y="1837.40" width="401.5" height="1.4" fill="#1e1e1e"/>
<rect x="201.60" y="1867.70" width="401.5" height="1.9" fill="#1e1e1e"/>
<rect x="201.30" y="1837.40" width="1.1" height="32.0" fill="#333"/>
<rect x="602.10" y="1837.40" width="1.2" height="32.0" fill="#888"/>
<line x1="31.8" y1="1873.10" x2="603.10" y2="1873.10" stroke="#8c8c8c" stroke-width="1"/>
<line x1="31.8" y1="1875.6000000000001" x2="603.1" y2="1875.6000000000001" stroke="#b5b5b5" stroke-width="1" stroke-dasharray="1 2.3"/>
<text x="30.6" y="1892.10" font-size="12.3" fill="#2e2e2e" stroke="#2e2e2e" stroke-width="0.32" textLength="32.76" lengthAdjust="spacingAndGlyphs">Eggplant</text>
<text transform="translate(31.3,1902.80) scale(0.72,1)" font-size="8.6" fill="#646464" stroke="#646464" stroke-width="0.15" letter-spacing="1.972">1/2-INCH SLICES</text>
<text transform="translate(31.1,1912.50) scale(0.84,1)" font-size="7.6" font-weight="bold" fill="#e05536" letter-spacing="0.838">AVERAGE COOKING TIME: 9 MIN.</text>
<path d="M162.20,1883.90 L163.21,1883.36 L164.23,1883.10 L165.24,1883.26 L166.26,1883.75 L167.27,1884.32 L168.29,1884.67 L169.30,1884.62 L170.32,1884.19 L171.33,1883.61 L172.35,1883.18 L173.36,1883.13 L174.38,1883.48 L175.39,1884.05 L176.41,1884.54 L177.42,1884.70 L178.44,1884.44 L179.45,1883.90 L180.46,1883.36 L181.48,1883.10 L182.49,1883.26 L183.51,1883.75 L184.52,1884.32 L185.54,1884.67 L186.55,1884.62 L187.57,1884.19 L188.58,1883.61 L189.60,1883.18 L190.61,1883.13 L191.63,1883.48 L192.64,1884.05 L193.66,1884.54 L194.67,1884.70 L195.69,1884.44 L196.70,1883.90" fill="none" stroke="#e05536" stroke-width="1.9"/>
<path d="M162.20,1888.05 L163.21,1887.51 L164.23,1887.25 L165.24,1887.41 L166.26,1887.90 L167.27,1888.47 L168.29,1888.82 L169.30,1888.77 L170.32,1888.34 L171.33,1887.76 L172.35,1887.33 L173.36,1887.28 L174.38,1887.63 L175.39,1888.20 L176.41,1888.69 L177.42,1888.85 L178.44,1888.59 L179.45,1888.05 L180.46,1887.51 L181.48,1887.25 L182.49,1887.41 L183.51,1887.90 L184.52,1888.47 L185.54,1888.82 L186.55,1888.77 L187.57,1888.34 L188.58,1887.76 L189.60,1887.33 L190.61,1887.28 L191.63,1887.63 L192.64,1888.20 L193.66,1888.69 L194.67,1888.85 L195.69,1888.59 L196.70,1888.05" fill="none" stroke="#e05536" stroke-width="1.9"/>
<path d="M162.20,1892.20 L163.21,1891.66 L164.23,1891.40 L165.24,1891.56 L166.26,1892.05 L167.27,1892.62 L168.29,1892.97 L169.30,1892.92 L170.32,1892.49 L171.33,1891.91 L172.35,1891.48 L173.36,1891.43 L174.38,1891.78 L175.39,1892.35 L176.41,1892.84 L177.42,1893.00 L178.44,1892.74 L179.45,1892.20 L180.46,1891.66 L181.48,1891.40 L182.49,1891.56 L183.51,1892.05 L184.52,1892.62 L185.54,1892.97 L186.55,1892.92 L187.57,1892.49 L188.58,1891.91 L189.60,1891.48 L190.61,1891.43 L191.63,1891.78 L192.64,1892.35 L193.66,1892.84 L194.67,1893.00 L195.69,1892.74 L196.70,1892.20" fill="none" stroke="#e05536" stroke-width="1.9"/>
<g transform="translate(162.00,1897.10) scale(0.900,0.975)"><path d="M5,16 C2.1,16 0,13.9 0,11 C0,9 0.5,7.3 1.2,5.8 C1.6,6.8 2,7.3 2.6,7.6 C2.6,4.8 3.2,2.2 4.4,0 C5,2.4 5.8,4.2 6.6,5.6 C7.2,4.8 7.9,4 8.6,2.8 C9.6,4.8 10,7.6 10,11 C10,13.9 7.9,16 5,16 Z" fill="#e05536"/><path d="M5.2,7.2 C6,8.8 7.4,9.8 7.4,12 C7.4,13.6 6.4,14.6 5,14.6 C3.6,14.6 2.6,13.6 2.6,12.2 C2.6,11 3.1,10.2 3.6,9.6 C3.8,10.2 4.1,10.6 4.4,10.7 C4.4,9.4 4.7,8.2 5.2,7.2 Z" fill="#ffffff" opacity="0.18"/></g>
<g transform="translate(174.40,1897.10) scale(0.900,0.975)"><path d="M5,16 C2.1,16 0,13.9 0,11 C0,9 0.5,7.3 1.2,5.8 C1.6,6.8 2,7.3 2.6,7.6 C2.6,4.8 3.2,2.2 4.4,0 C5,2.4 5.8,4.2 6.6,5.6 C7.2,4.8 7.9,4 8.6,2.8 C9.6,4.8 10,7.6 10,11 C10,13.9 7.9,16 5,16 Z" fill="#e05536"/><path d="M5.2,7.2 C6,8.8 7.4,9.8 7.4,12 C7.4,13.6 6.4,14.6 5,14.6 C3.6,14.6 2.6,13.6 2.6,12.2 C2.6,11 3.1,10.2 3.6,9.6 C3.8,10.2 4.1,10.6 4.4,10.7 C4.4,9.4 4.7,8.2 5.2,7.2 Z" fill="#ffffff" opacity="0.18"/></g>
<rect x="201.60" y="1881.00" width="401.5" height="32.0" fill="#fafafa"/>
<rect x="201.60" y="1881.00" width="66.92" height="32.0" fill="#f5917f"/>
<rect x="201.60" y="1881.00" width="53.53" height="32.0" fill="#e05a3b"/>
<path d="M208.29,1891.20V1903.20M214.98,1891.20V1903.20M221.67,1891.20V1903.20M228.37,1891.20V1903.20M241.75,1891.20V1903.20M248.44,1891.20V1903.20M255.13,1891.20V1903.20M261.82,1891.20V1903.20M275.21,1891.20V1903.20M281.90,1891.20V1903.20M288.59,1891.20V1903.20M295.28,1891.20V1903.20M308.67,1891.20V1903.20M315.36,1891.20V1903.20M322.05,1891.20V1903.20M328.74,1891.20V1903.20M342.12,1891.20V1903.20M348.82,1891.20V1903.20M355.51,1891.20V1903.20M362.20,1891.20V1903.20M375.58,1891.20V1903.20M382.27,1891.20V1903.20M388.97,1891.20V1903.20M395.66,1891.20V1903.20M409.04,1891.20V1903.20M415.73,1891.20V1903.20M422.42,1891.20V1903.20M429.12,1891.20V1903.20M442.50,1891.20V1903.20M449.19,1891.20V1903.20M455.88,1891.20V1903.20M462.57,1891.20V1903.20M475.96,1891.20V1903.20M482.65,1891.20V1903.20M489.34,1891.20V1903.20M496.03,1891.20V1903.20M509.42,1891.20V1903.20M516.11,1891.20V1903.20M522.80,1891.20V1903.20M529.49,1891.20V1903.20M542.88,1891.20V1903.20M549.57,1891.20V1903.20M556.26,1891.20V1903.20M562.95,1891.20V1903.20M576.33,1891.20V1903.20M583.02,1891.20V1903.20M589.72,1891.20V1903.20M596.41,1891.20V1903.20" stroke="#000" stroke-width="0.85" opacity="0.24"/>
<path d="M235.06,1881.00V1913.00M301.98,1881.00V1913.00M368.89,1881.00V1913.00M435.81,1881.00V1913.00M502.73,1881.00V1913.00M569.64,1881.00V1913.00" stroke="#000" stroke-width="0.8" stroke-dasharray="1 1" opacity="0.26"/>
<path d="M268.52,1881.00V1913.00M335.43,1881.00V1913.00M402.35,1881.00V1913.00M469.27,1881.00V1913.00M536.18,1881.00V1913.00" stroke="#333" stroke-width="1"/>
<rect x="201.60" y="1881.00" width="401.5" height="1.4" fill="#1e1e1e"/>
<rect x="201.60" y="1911.30" width="401.5" height="1.9" fill="#1e1e1e"/>
<rect x="201.30" y="1881.00" width="1.1" height="32.0" fill="#333"/>
<rect x="602.10" y="1881.00" width="1.2" height="32.0" fill="#888"/>
<line x1="31.8" y1="1916.70" x2="603.10" y2="1916.70" stroke="#8c8c8c" stroke-width="1"/>
<line x1="31.8" y1="1919.2" x2="603.1" y2="1919.2" stroke="#b5b5b5" stroke-width="1" stroke-dasharray="1 2.3"/>
<text x="30.6" y="1935.10" font-size="12.3" fill="#2e2e2e" stroke="#2e2e2e" stroke-width="0.32" textLength="105.18" lengthAdjust="spacingAndGlyphs">Shitake or Button Mushroom</text>
<text transform="translate(31.3,1945.80) scale(0.72,1)" font-size="8.6" fill="#646464" stroke="#646464" stroke-width="0.15" letter-spacing="1.972">WHOLE</text>
<text transform="translate(31.1,1955.50) scale(0.84,1)" font-size="7.6" font-weight="bold" fill="#e05536" letter-spacing="0.838">AVERAGE COOKING TIME: 9 MIN.</text>
<path d="M162.20,1926.90 L163.21,1926.36 L164.23,1926.10 L165.24,1926.26 L166.26,1926.75 L167.27,1927.32 L168.29,1927.67 L169.30,1927.62 L170.32,1927.19 L171.33,1926.61 L172.35,1926.18 L173.36,1926.13 L174.38,1926.48 L175.39,1927.05 L176.41,1927.54 L177.42,1927.70 L178.44,1927.44 L179.45,1926.90 L180.46,1926.36 L181.48,1926.10 L182.49,1926.26 L183.51,1926.75 L184.52,1927.32 L185.54,1927.67 L186.55,1927.62 L187.57,1927.19 L188.58,1926.61 L189.60,1926.18 L190.61,1926.13 L191.63,1926.48 L192.64,1927.05 L193.66,1927.54 L194.67,1927.70 L195.69,1927.44 L196.70,1926.90" fill="none" stroke="#e05536" stroke-width="1.9"/>
<path d="M162.20,1931.05 L163.21,1930.51 L164.23,1930.25 L165.24,1930.41 L166.26,1930.90 L167.27,1931.47 L168.29,1931.82 L169.30,1931.77 L170.32,1931.34 L171.33,1930.76 L172.35,1930.33 L173.36,1930.28 L174.38,1930.63 L175.39,1931.20 L176.41,1931.69 L177.42,1931.85 L178.44,1931.59 L179.45,1931.05 L180.46,1930.51 L181.48,1930.25 L182.49,1930.41 L183.51,1930.90 L184.52,1931.47 L185.54,1931.82 L186.55,1931.77 L187.57,1931.34 L188.58,1930.76 L189.60,1930.33 L190.61,1930.28 L191.63,1930.63 L192.64,1931.20 L193.66,1931.69 L194.67,1931.85 L195.69,1931.59 L196.70,1931.05" fill="none" stroke="#e05536" stroke-width="1.9"/>
<path d="M162.20,1935.20 L163.21,1934.66 L164.23,1934.40 L165.24,1934.56 L166.26,1935.05 L167.27,1935.62 L168.29,1935.97 L169.30,1935.92 L170.32,1935.49 L171.33,1934.91 L172.35,1934.48 L173.36,1934.43 L174.38,1934.78 L175.39,1935.35 L176.41,1935.84 L177.42,1936.00 L178.44,1935.74 L179.45,1935.20 L180.46,1934.66 L181.48,1934.40 L182.49,1934.56 L183.51,1935.05 L184.52,1935.62 L185.54,1935.97 L186.55,1935.92 L187.57,1935.49 L188.58,1934.91 L189.60,1934.48 L190.61,1934.43 L191.63,1934.78 L192.64,1935.35 L193.66,1935.84 L194.67,1936.00 L195.69,1935.74 L196.70,1935.20" fill="none" stroke="#e05536" stroke-width="1.9"/>
<g transform="translate(162.00,1940.10) scale(0.900,0.975)"><path d="M5,16 C2.1,16 0,13.9 0,11 C0,9 0.5,7.3 1.2,5.8 C1.6,6.8 2,7.3 2.6,7.6 C2.6,4.8 3.2,2.2 4.4,0 C5,2.4 5.8,4.2 6.6,5.6 C7.2,4.8 7.9,4 8.6,2.8 C9.6,4.8 10,7.6 10,11 C10,13.9 7.9,16 5,16 Z" fill="#e05536"/><path d="M5.2,7.2 C6,8.8 7.4,9.8 7.4,12 C7.4,13.6 6.4,14.6 5,14.6 C3.6,14.6 2.6,13.6 2.6,12.2 C2.6,11 3.1,10.2 3.6,9.6 C3.8,10.2 4.1,10.6 4.4,10.7 C4.4,9.4 4.7,8.2 5.2,7.2 Z" fill="#ffffff" opacity="0.18"/></g>
<g transform="translate(174.40,1940.10) scale(0.900,0.975)"><path d="M5,16 C2.1,16 0,13.9 0,11 C0,9 0.5,7.3 1.2,5.8 C1.6,6.8 2,7.3 2.6,7.6 C2.6,4.8 3.2,2.2 4.4,0 C5,2.4 5.8,4.2 6.6,5.6 C7.2,4.8 7.9,4 8.6,2.8 C9.6,4.8 10,7.6 10,11 C10,13.9 7.9,16 5,16 Z" fill="#e05536"/><path d="M5.2,7.2 C6,8.8 7.4,9.8 7.4,12 C7.4,13.6 6.4,14.6 5,14.6 C3.6,14.6 2.6,13.6 2.6,12.2 C2.6,11 3.1,10.2 3.6,9.6 C3.8,10.2 4.1,10.6 4.4,10.7 C4.4,9.4 4.7,8.2 5.2,7.2 Z" fill="#ffffff" opacity="0.18"/></g>
<rect x="201.60" y="1924.00" width="401.5" height="32.0" fill="#fafafa"/>
<rect x="201.60" y="1924.00" width="66.92" height="32.0" fill="#f5917f"/>
<rect x="201.60" y="1924.00" width="53.53" height="32.0" fill="#e05a3b"/>
<path d="M208.29,1934.20V1946.20M214.98,1934.20V1946.20M221.67,1934.20V1946.20M228.37,1934.20V1946.20M241.75,1934.20V1946.20M248.44,1934.20V1946.20M255.13,1934.20V1946.20M261.82,1934.20V1946.20M275.21,1934.20V1946.20M281.90,1934.20V1946.20M288.59,1934.20V1946.20M295.28,1934.20V1946.20M308.67,1934.20V1946.20M315.36,1934.20V1946.20M322.05,1934.20V1946.20M328.74,1934.20V1946.20M342.12,1934.20V1946.20M348.82,1934.20V1946.20M355.51,1934.20V1946.20M362.20,1934.20V1946.20M375.58,1934.20V1946.20M382.27,1934.20V1946.20M388.97,1934.20V1946.20M395.66,1934.20V1946.20M409.04,1934.20V1946.20M415.73,1934.20V1946.20M422.42,1934.20V1946.20M429.12,1934.20V1946.20M442.50,1934.20V1946.20M449.19,1934.20V1946.20M455.88,1934.20V1946.20M462.57,1934.20V1946.20M475.96,1934.20V1946.20M482.65,1934.20V1946.20M489.34,1934.20V1946.20M496.03,1934.20V1946.20M509.42,1934.20V1946.20M516.11,1934.20V1946.20M522.80,1934.20V1946.20M529.49,1934.20V1946.20M542.88,1934.20V1946.20M549.57,1934.20V1946.20M556.26,1934.20V1946.20M562.95,1934.20V1946.20M576.33,1934.20V1946.20M583.02,1934.20V1946.20M589.72,1934.20V1946.20M596.41,1934.20V1946.20" stroke="#000" stroke-width="0.85" opacity="0.24"/>
<path d="M235.06,1924.00V1956.00M301.98,1924.00V1956.00M368.89,1924.00V1956.00M435.81,1924.00V1956.00M502.73,1924.00V1956.00M569.64,1924.00V1956.00" stroke="#000" stroke-width="0.8" stroke-dasharray="1 1" opacity="0.26"/>
<path d="M268.52,1924.00V1956.00M335.43,1924.00V1956.00M402.35,1924.00V1956.00M469.27,1924.00V1956.00M536.18,1924.00V1956.00" stroke="#333" stroke-width="1"/>
<rect x="201.60" y="1924.00" width="401.5" height="1.4" fill="#1e1e1e"/>
<rect x="201.60" y="1954.30" width="401.5" height="1.9" fill="#1e1e1e"/>
<rect x="201.30" y="1924.00" width="1.1" height="32.0" fill="#333"/>
<rect x="602.10" y="1924.00" width="1.2" height="32.0" fill="#888"/>
<line x1="31.8" y1="1959.70" x2="603.10" y2="1959.70" stroke="#8c8c8c" stroke-width="1"/>
<line x1="31.8" y1="1962.2" x2="603.1" y2="1962.2" stroke="#b5b5b5" stroke-width="1" stroke-dasharray="1 2.3"/>
<text x="30.6" y="1979.00" font-size="12.3" fill="#2e2e2e" stroke="#2e2e2e" stroke-width="0.32" textLength="22.15" lengthAdjust="spacingAndGlyphs">Onion</text>
<text transform="translate(31.3,1989.70) scale(0.72,1)" font-size="8.6" fill="#646464" stroke="#646464" stroke-width="0.15" letter-spacing="1.972">1/2-INCH SLICES</text>
<text transform="translate(31.1,1999.40) scale(0.84,1)" font-size="7.6" font-weight="bold" fill="#e05536" letter-spacing="0.848">AVERAGE COOKING TIME: 10 MIN.</text>
<path d="M162.20,1970.80 L163.21,1970.26 L164.23,1970.00 L165.24,1970.16 L166.26,1970.65 L167.27,1971.22 L168.29,1971.57 L169.30,1971.52 L170.32,1971.09 L171.33,1970.51 L172.35,1970.08 L173.36,1970.03 L174.38,1970.38 L175.39,1970.95 L176.41,1971.44 L177.42,1971.60 L178.44,1971.34 L179.45,1970.80 L180.46,1970.26 L181.48,1970.00 L182.49,1970.16 L183.51,1970.65 L184.52,1971.22 L185.54,1971.57 L186.55,1971.52 L187.57,1971.09 L188.58,1970.51 L189.60,1970.08 L190.61,1970.03 L191.63,1970.38 L192.64,1970.95 L193.66,1971.44 L194.67,1971.60 L195.69,1971.34 L196.70,1970.80" fill="none" stroke="#e05536" stroke-width="1.9"/>
<path d="M162.20,1974.95 L163.21,1974.41 L164.23,1974.15 L165.24,1974.31 L166.26,1974.80 L167.27,1975.37 L168.29,1975.72 L169.30,1975.67 L170.32,1975.24 L171.33,1974.66 L172.35,1974.23 L173.36,1974.18 L174.38,1974.53 L175.39,1975.10 L176.41,1975.59 L177.42,1975.75 L178.44,1975.49 L179.45,1974.95 L180.46,1974.41 L181.48,1974.15 L182.49,1974.31 L183.51,1974.80 L184.52,1975.37 L185.54,1975.72 L186.55,1975.67 L187.57,1975.24 L188.58,1974.66 L189.60,1974.23 L190.61,1974.18 L191.63,1974.53 L192.64,1975.10 L193.66,1975.59 L194.67,1975.75 L195.69,1975.49 L196.70,1974.95" fill="none" stroke="#e05536" stroke-width="1.9"/>
<path d="M162.20,1979.10 L163.21,1978.56 L164.23,1978.30 L165.24,1978.46 L166.26,1978.95 L167.27,1979.52 L168.29,1979.87 L169.30,1979.82 L170.32,1979.39 L171.33,1978.81 L172.35,1978.38 L173.36,1978.33 L174.38,1978.68 L175.39,1979.25 L176.41,1979.74 L177.42,1979.90 L178.44,1979.64 L179.45,1979.10 L180.46,1978.56 L181.48,1978.30 L182.49,1978.46 L183.51,1978.95 L184.52,1979.52 L185.54,1979.87 L186.55,1979.82 L187.57,1979.39 L188.58,1978.81 L189.60,1978.38 L190.61,1978.33 L191.63,1978.68 L192.64,1979.25 L193.66,1979.74 L194.67,1979.90 L195.69,1979.64 L196.70,1979.10" fill="none" stroke="#e05536" stroke-width="1.9"/>
<g transform="translate(162.00,1984.00) scale(0.900,0.975)"><path d="M5,16 C2.1,16 0,13.9 0,11 C0,9 0.5,7.3 1.2,5.8 C1.6,6.8 2,7.3 2.6,7.6 C2.6,4.8 3.2,2.2 4.4,0 C5,2.4 5.8,4.2 6.6,5.6 C7.2,4.8 7.9,4 8.6,2.8 C9.6,4.8 10,7.6 10,11 C10,13.9 7.9,16 5,16 Z" fill="#e05536"/><path d="M5.2,7.2 C6,8.8 7.4,9.8 7.4,12 C7.4,13.6 6.4,14.6 5,14.6 C3.6,14.6 2.6,13.6 2.6,12.2 C2.6,11 3.1,10.2 3.6,9.6 C3.8,10.2 4.1,10.6 4.4,10.7 C4.4,9.4 4.7,8.2 5.2,7.2 Z" fill="#ffffff" opacity="0.18"/></g>
<g transform="translate(174.40,1984.00) scale(0.900,0.975)"><path d="M5,16 C2.1,16 0,13.9 0,11 C0,9 0.5,7.3 1.2,5.8 C1.6,6.8 2,7.3 2.6,7.6 C2.6,4.8 3.2,2.2 4.4,0 C5,2.4 5.8,4.2 6.6,5.6 C7.2,4.8 7.9,4 8.6,2.8 C9.6,4.8 10,7.6 10,11 C10,13.9 7.9,16 5,16 Z" fill="#e05536"/><path d="M5.2,7.2 C6,8.8 7.4,9.8 7.4,12 C7.4,13.6 6.4,14.6 5,14.6 C3.6,14.6 2.6,13.6 2.6,12.2 C2.6,11 3.1,10.2 3.6,9.6 C3.8,10.2 4.1,10.6 4.4,10.7 C4.4,9.4 4.7,8.2 5.2,7.2 Z" fill="#ffffff" opacity="0.18"/></g>
<rect x="201.60" y="1967.90" width="401.5" height="32.0" fill="#fafafa"/>
<rect x="201.60" y="1967.90" width="80.30" height="32.0" fill="#f5917f"/>
<rect x="201.60" y="1967.90" width="53.53" height="32.0" fill="#e05a3b"/>
<path d="M208.29,1978.10V1990.10M214.98,1978.10V1990.10M221.67,1978.10V1990.10M228.37,1978.10V1990.10M241.75,1978.10V1990.10M248.44,1978.10V1990.10M255.13,1978.10V1990.10M261.82,1978.10V1990.10M275.21,1978.10V1990.10M281.90,1978.10V1990.10M288.59,1978.10V1990.10M295.28,1978.10V1990.10M308.67,1978.10V1990.10M315.36,1978.10V1990.10M322.05,1978.10V1990.10M328.74,1978.10V1990.10M342.12,1978.10V1990.10M348.82,1978.10V1990.10M355.51,1978.10V1990.10M362.20,1978.10V1990.10M375.58,1978.10V1990.10M382.27,1978.10V1990.10M388.97,1978.10V1990.10M395.66,1978.10V1990.10M409.04,1978.10V1990.10M415.73,1978.10V1990.10M422.42,1978.10V1990.10M429.12,1978.10V1990.10M442.50,1978.10V1990.10M449.19,1978.10V1990.10M455.88,1978.10V1990.10M462.57,1978.10V1990.10M475.96,1978.10V1990.10M482.65,1978.10V1990.10M489.34,1978.10V1990.10M496.03,1978.10V1990.10M509.42,1978.10V1990.10M516.11,1978.10V1990.10M522.80,1978.10V1990.10M529.49,1978.10V1990.10M542.88,1978.10V1990.10M549.57,1978.10V1990.10M556.26,1978.10V1990.10M562.95,1978.10V1990.10M576.33,1978.10V1990.10M583.02,1978.10V1990.10M589.72,1978.10V1990.10M596.41,1978.10V1990.10" stroke="#000" stroke-width="0.85" opacity="0.24"/>
<path d="M235.06,1967.90V1999.90M301.98,1967.90V1999.90M368.89,1967.90V1999.90M435.81,1967.90V1999.90M502.73,1967.90V1999.90M569.64,1967.90V1999.90" stroke="#000" stroke-width="0.8" stroke-dasharray="1 1" opacity="0.26"/>
<path d="M268.52,1967.90V1999.90M335.43,1967.90V1999.90M402.35,1967.90V1999.90M469.27,1967.90V1999.90M536.18,1967.90V1999.90" stroke="#333" stroke-width="1"/>
<rect x="201.60" y="1967.90" width="401.5" height="1.4" fill="#1e1e1e"/>
<rect x="201.60" y="1998.20" width="401.5" height="1.9" fill="#1e1e1e"/>
<rect x="201.30" y="1967.90" width="1.1" height="32.0" fill="#333"/>
<rect x="602.10" y="1967.90" width="1.2" height="32.0" fill="#888"/>
<line x1="31.8" y1="2003.60" x2="603.10" y2="2003.60" stroke="#8c8c8c" stroke-width="1"/>
<line x1="31.8" y1="2006.1000000000001" x2="603.1" y2="2006.1000000000001" stroke="#b5b5b5" stroke-width="1" stroke-dasharray="1 2.3"/>
<text x="30.6" y="2022.20" font-size="12.3" fill="#2e2e2e" stroke="#2e2e2e" stroke-width="0.32" textLength="42.91" lengthAdjust="spacingAndGlyphs">Bell Pepper</text>
<text transform="translate(31.3,2032.90) scale(0.72,1)" font-size="8.6" fill="#646464" stroke="#646464" stroke-width="0.15" letter-spacing="1.972">WHOLE</text>
<text transform="translate(31.1,2042.60) scale(0.84,1)" font-size="7.6" font-weight="bold" fill="#e05536" letter-spacing="0.848">AVERAGE COOKING TIME: 13 MIN.</text>
<path d="M162.20,2014.00 L163.21,2013.46 L164.23,2013.20 L165.24,2013.36 L166.26,2013.85 L167.27,2014.42 L168.29,2014.77 L169.30,2014.72 L170.32,2014.29 L171.33,2013.71 L172.35,2013.28 L173.36,2013.23 L174.38,2013.58 L175.39,2014.15 L176.41,2014.64 L177.42,2014.80 L178.44,2014.54 L179.45,2014.00 L180.46,2013.46 L181.48,2013.20 L182.49,2013.36 L183.51,2013.85 L184.52,2014.42 L185.54,2014.77 L186.55,2014.72 L187.57,2014.29 L188.58,2013.71 L189.60,2013.28 L190.61,2013.23 L191.63,2013.58 L192.64,2014.15 L193.66,2014.64 L194.67,2014.80 L195.69,2014.54 L196.70,2014.00" fill="none" stroke="#e05536" stroke-width="1.9"/>
<path d="M162.20,2018.15 L163.21,2017.61 L164.23,2017.35 L165.24,2017.51 L166.26,2018.00 L167.27,2018.57 L168.29,2018.92 L169.30,2018.87 L170.32,2018.44 L171.33,2017.86 L172.35,2017.43 L173.36,2017.38 L174.38,2017.73 L175.39,2018.30 L176.41,2018.79 L177.42,2018.95 L178.44,2018.69 L179.45,2018.15 L180.46,2017.61 L181.48,2017.35 L182.49,2017.51 L183.51,2018.00 L184.52,2018.57 L185.54,2018.92 L186.55,2018.87 L187.57,2018.44 L188.58,2017.86 L189.60,2017.43 L190.61,2017.38 L191.63,2017.73 L192.64,2018.30 L193.66,2018.79 L194.67,2018.95 L195.69,2018.69 L196.70,2018.15" fill="none" stroke="#e05536" stroke-width="1.9"/>
<path d="M162.20,2022.30 L163.21,2021.76 L164.23,2021.50 L165.24,2021.66 L166.26,2022.15 L167.27,2022.72 L168.29,2023.07 L169.30,2023.02 L170.32,2022.59 L171.33,2022.01 L172.35,2021.58 L173.36,2021.53 L174.38,2021.88 L175.39,2022.45 L176.41,2022.94 L177.42,2023.10 L178.44,2022.84 L179.45,2022.30 L180.46,2021.76 L181.48,2021.50 L182.49,2021.66 L183.51,2022.15 L184.52,2022.72 L185.54,2023.07 L186.55,2023.02 L187.57,2022.59 L188.58,2022.01 L189.60,2021.58 L190.61,2021.53 L191.63,2021.88 L192.64,2022.45 L193.66,2022.94 L194.67,2023.10 L195.69,2022.84 L196.70,2022.30" fill="none" stroke="#e05536" stroke-width="1.9"/>
<g transform="translate(162.00,2027.20) scale(0.900,0.975)"><path d="M5,16 C2.1,16 0,13.9 0,11 C0,9 0.5,7.3 1.2,5.8 C1.6,6.8 2,7.3 2.6,7.6 C2.6,4.8 3.2,2.2 4.4,0 C5,2.4 5.8,4.2 6.6,5.6 C7.2,4.8 7.9,4 8.6,2.8 C9.6,4.8 10,7.6 10,11 C10,13.9 7.9,16 5,16 Z" fill="#e05536"/><path d="M5.2,7.2 C6,8.8 7.4,9.8 7.4,12 C7.4,13.6 6.4,14.6 5,14.6 C3.6,14.6 2.6,13.6 2.6,12.2 C2.6,11 3.1,10.2 3.6,9.6 C3.8,10.2 4.1,10.6 4.4,10.7 C4.4,9.4 4.7,8.2 5.2,7.2 Z" fill="#ffffff" opacity="0.18"/></g>
<g transform="translate(174.40,2027.20) scale(0.900,0.975)"><path d="M5,16 C2.1,16 0,13.9 0,11 C0,9 0.5,7.3 1.2,5.8 C1.6,6.8 2,7.3 2.6,7.6 C2.6,4.8 3.2,2.2 4.4,0 C5,2.4 5.8,4.2 6.6,5.6 C7.2,4.8 7.9,4 8.6,2.8 C9.6,4.8 10,7.6 10,11 C10,13.9 7.9,16 5,16 Z" fill="#e05536"/><path d="M5.2,7.2 C6,8.8 7.4,9.8 7.4,12 C7.4,13.6 6.4,14.6 5,14.6 C3.6,14.6 2.6,13.6 2.6,12.2 C2.6,11 3.1,10.2 3.6,9.6 C3.8,10.2 4.1,10.6 4.4,10.7 C4.4,9.4 4.7,8.2 5.2,7.2 Z" fill="#ffffff" opacity="0.18"/></g>
<rect x="201.60" y="2011.10" width="401.5" height="32.0" fill="#fafafa"/>
<rect x="201.60" y="2011.10" width="100.38" height="32.0" fill="#f5917f"/>
<rect x="201.60" y="2011.10" width="66.92" height="32.0" fill="#e05a3b"/>
<path d="M208.29,2021.30V2033.30M214.98,2021.30V2033.30M221.67,2021.30V2033.30M228.37,2021.30V2033.30M241.75,2021.30V2033.30M248.44,2021.30V2033.30M255.13,2021.30V2033.30M261.82,2021.30V2033.30M275.21,2021.30V2033.30M281.90,2021.30V2033.30M288.59,2021.30V2033.30M295.28,2021.30V2033.30M308.67,2021.30V2033.30M315.36,2021.30V2033.30M322.05,2021.30V2033.30M328.74,2021.30V2033.30M342.12,2021.30V2033.30M348.82,2021.30V2033.30M355.51,2021.30V2033.30M362.20,2021.30V2033.30M375.58,2021.30V2033.30M382.27,2021.30V2033.30M388.97,2021.30V2033.30M395.66,2021.30V2033.30M409.04,2021.30V2033.30M415.73,2021.30V2033.30M422.42,2021.30V2033.30M429.12,2021.30V2033.30M442.50,2021.30V2033.30M449.19,2021.30V2033.30M455.88,2021.30V2033.30M462.57,2021.30V2033.30M475.96,2021.30V2033.30M482.65,2021.30V2033.30M489.34,2021.30V2033.30M496.03,2021.30V2033.30M509.42,2021.30V2033.30M516.11,2021.30V2033.30M522.80,2021.30V2033.30M529.49,2021.30V2033.30M542.88,2021.30V2033.30M549.57,2021.30V2033.30M556.26,2021.30V2033.30M562.95,2021.30V2033.30M576.33,2021.30V2033.30M583.02,2021.30V2033.30M589.72,2021.30V2033.30M596.41,2021.30V2033.30" stroke="#000" stroke-width="0.85" opacity="0.24"/>
<path d="M235.06,2011.10V2043.10M301.98,2011.10V2043.10M368.89,2011.10V2043.10M435.81,2011.10V2043.10M502.73,2011.10V2043.10M569.64,2011.10V2043.10" stroke="#000" stroke-width="0.8" stroke-dasharray="1 1" opacity="0.26"/>
<path d="M268.52,2011.10V2043.10M335.43,2011.10V2043.10M402.35,2011.10V2043.10M469.27,2011.10V2043.10M536.18,2011.10V2043.10" stroke="#333" stroke-width="1"/>
<rect x="201.60" y="2011.10" width="401.5" height="1.4" fill="#1e1e1e"/>
<rect x="201.60" y="2041.40" width="401.5" height="1.9" fill="#1e1e1e"/>
<rect x="201.30" y="2011.10" width="1.1" height="32.0" fill="#333"/>
<rect x="602.10" y="2011.10" width="1.2" height="32.0" fill="#888"/>
<line x1="31.8" y1="2046.80" x2="603.10" y2="2046.80" stroke="#8c8c8c" stroke-width="1"/>
<line x1="31.8" y1="2049.2999999999997" x2="603.1" y2="2049.2999999999997" stroke="#b5b5b5" stroke-width="1" stroke-dasharray="1 2.3"/>
<text x="30.6" y="2066.40" font-size="12.3" fill="#2e2e2e" stroke="#2e2e2e" stroke-width="0.32" textLength="78.88" lengthAdjust="spacingAndGlyphs">Portabello Mushroom</text>
<text transform="translate(31.3,2077.10) scale(0.72,1)" font-size="8.6" fill="#646464" stroke="#646464" stroke-width="0.15" letter-spacing="1.972">WHOLE</text>
<text transform="translate(31.1,2086.80) scale(0.84,1)" font-size="7.6" font-weight="bold" fill="#e05536" letter-spacing="0.848">AVERAGE COOKING TIME: 13 MIN.</text>
<path d="M162.20,2058.20 L163.21,2057.66 L164.23,2057.40 L165.24,2057.56 L166.26,2058.05 L167.27,2058.62 L168.29,2058.97 L169.30,2058.92 L170.32,2058.49 L171.33,2057.91 L172.35,2057.48 L173.36,2057.43 L174.38,2057.78 L175.39,2058.35 L176.41,2058.84 L177.42,2059.00 L178.44,2058.74 L179.45,2058.20 L180.46,2057.66 L181.48,2057.40 L182.49,2057.56 L183.51,2058.05 L184.52,2058.62 L185.54,2058.97 L186.55,2058.92 L187.57,2058.49 L188.58,2057.91 L189.60,2057.48 L190.61,2057.43 L191.63,2057.78 L192.64,2058.35 L193.66,2058.84 L194.67,2059.00 L195.69,2058.74 L196.70,2058.20" fill="none" stroke="#e05536" stroke-width="1.9"/>
<path d="M162.20,2062.35 L163.21,2061.81 L164.23,2061.55 L165.24,2061.71 L166.26,2062.20 L167.27,2062.77 L168.29,2063.12 L169.30,2063.07 L170.32,2062.64 L171.33,2062.06 L172.35,2061.63 L173.36,2061.58 L174.38,2061.93 L175.39,2062.50 L176.41,2062.99 L177.42,2063.15 L178.44,2062.89 L179.45,2062.35 L180.46,2061.81 L181.48,2061.55 L182.49,2061.71 L183.51,2062.20 L184.52,2062.77 L185.54,2063.12 L186.55,2063.07 L187.57,2062.64 L188.58,2062.06 L189.60,2061.63 L190.61,2061.58 L191.63,2061.93 L192.64,2062.50 L193.66,2062.99 L194.67,2063.15 L195.69,2062.89 L196.70,2062.35" fill="none" stroke="#e05536" stroke-width="1.9"/>
<path d="M162.20,2066.50 L163.21,2065.96 L164.23,2065.70 L165.24,2065.86 L166.26,2066.35 L167.27,2066.92 L168.29,2067.27 L169.30,2067.22 L170.32,2066.79 L171.33,2066.21 L172.35,2065.78 L173.36,2065.73 L174.38,2066.08 L175.39,2066.65 L176.41,2067.14 L177.42,2067.30 L178.44,2067.04 L179.45,2066.50 L180.46,2065.96 L181.48,2065.70 L182.49,2065.86 L183.51,2066.35 L184.52,2066.92 L185.54,2067.27 L186.55,2067.22 L187.57,2066.79 L188.58,2066.21 L189.60,2065.78 L190.61,2065.73 L191.63,2066.08 L192.64,2066.65 L193.66,2067.14 L194.67,2067.30 L195.69,2067.04 L196.70,2066.50" fill="none" stroke="#e05536" stroke-width="1.9"/>
<g transform="translate(162.00,2071.40) scale(0.900,0.975)"><path d="M5,16 C2.1,16 0,13.9 0,11 C0,9 0.5,7.3 1.2,5.8 C1.6,6.8 2,7.3 2.6,7.6 C2.6,4.8 3.2,2.2 4.4,0 C5,2.4 5.8,4.2 6.6,5.6 C7.2,4.8 7.9,4 8.6,2.8 C9.6,4.8 10,7.6 10,11 C10,13.9 7.9,16 5,16 Z" fill="#e05536"/><path d="M5.2,7.2 C6,8.8 7.4,9.8 7.4,12 C7.4,13.6 6.4,14.6 5,14.6 C3.6,14.6 2.6,13.6 2.6,12.2 C2.6,11 3.1,10.2 3.6,9.6 C3.8,10.2 4.1,10.6 4.4,10.7 C4.4,9.4 4.7,8.2 5.2,7.2 Z" fill="#ffffff" opacity="0.18"/></g>
<g transform="translate(174.40,2071.40) scale(0.900,0.975)"><path d="M5,16 C2.1,16 0,13.9 0,11 C0,9 0.5,7.3 1.2,5.8 C1.6,6.8 2,7.3 2.6,7.6 C2.6,4.8 3.2,2.2 4.4,0 C5,2.4 5.8,4.2 6.6,5.6 C7.2,4.8 7.9,4 8.6,2.8 C9.6,4.8 10,7.6 10,11 C10,13.9 7.9,16 5,16 Z" fill="#e05536"/><path d="M5.2,7.2 C6,8.8 7.4,9.8 7.4,12 C7.4,13.6 6.4,14.6 5,14.6 C3.6,14.6 2.6,13.6 2.6,12.2 C2.6,11 3.1,10.2 3.6,9.6 C3.8,10.2 4.1,10.6 4.4,10.7 C4.4,9.4 4.7,8.2 5.2,7.2 Z" fill="#ffffff" opacity="0.18"/></g>
<rect x="201.60" y="2055.30" width="401.5" height="32.0" fill="#fafafa"/>
<rect x="201.60" y="2055.30" width="100.38" height="32.0" fill="#f5917f"/>
<rect x="201.60" y="2055.30" width="66.92" height="32.0" fill="#e05a3b"/>
<path d="M208.29,2065.50V2077.50M214.98,2065.50V2077.50M221.67,2065.50V2077.50M228.37,2065.50V2077.50M241.75,2065.50V2077.50M248.44,2065.50V2077.50M255.13,2065.50V2077.50M261.82,2065.50V2077.50M275.21,2065.50V2077.50M281.90,2065.50V2077.50M288.59,2065.50V2077.50M295.28,2065.50V2077.50M308.67,2065.50V2077.50M315.36,2065.50V2077.50M322.05,2065.50V2077.50M328.74,2065.50V2077.50M342.12,2065.50V2077.50M348.82,2065.50V2077.50M355.51,2065.50V2077.50M362.20,2065.50V2077.50M375.58,2065.50V2077.50M382.27,2065.50V2077.50M388.97,2065.50V2077.50M395.66,2065.50V2077.50M409.04,2065.50V2077.50M415.73,2065.50V2077.50M422.42,2065.50V2077.50M429.12,2065.50V2077.50M442.50,2065.50V2077.50M449.19,2065.50V2077.50M455.88,2065.50V2077.50M462.57,2065.50V2077.50M475.96,2065.50V2077.50M482.65,2065.50V2077.50M489.34,2065.50V2077.50M496.03,2065.50V2077.50M509.42,2065.50V2077.50M516.11,2065.50V2077.50M522.80,2065.50V2077.50M529.49,2065.50V2077.50M542.88,2065.50V2077.50M549.57,2065.50V2077.50M556.26,2065.50V2077.50M562.95,2065.50V2077.50M576.33,2065.50V2077.50M583.02,2065.50V2077.50M589.72,2065.50V2077.50M596.41,2065.50V2077.50" stroke="#000" stroke-width="0.85" opacity="0.24"/>
<path d="M235.06,2055.30V2087.30M301.98,2055.30V2087.30M368.89,2055.30V2087.30M435.81,2055.30V2087.30M502.73,2055.30V2087.30M569.64,2055.30V2087.30" stroke="#000" stroke-width="0.8" stroke-dasharray="1 1" opacity="0.26"/>
<path d="M268.52,2055.30V2087.30M335.43,2055.30V2087.30M402.35,2055.30V2087.30M469.27,2055.30V2087.30M536.18,2055.30V2087.30" stroke="#333" stroke-width="1"/>
<rect x="201.60" y="2055.30" width="401.5" height="1.4" fill="#1e1e1e"/>
<rect x="201.60" y="2085.60" width="401.5" height="1.9" fill="#1e1e1e"/>
<rect x="201.30" y="2055.30" width="1.1" height="32.0" fill="#333"/>
<rect x="602.10" y="2055.30" width="1.2" height="32.0" fill="#888"/>
<line x1="31.8" y1="2091.00" x2="603.10" y2="2091.00" stroke="#8c8c8c" stroke-width="1"/>
<line x1="31.8" y1="2093.5" x2="603.1" y2="2093.5" stroke="#b5b5b5" stroke-width="1" stroke-dasharray="1 2.3"/>
<text x="30.6" y="2109.20" font-size="12.3" fill="#2e2e2e" stroke="#2e2e2e" stroke-width="0.32" textLength="50.74" lengthAdjust="spacingAndGlyphs">Corn, Husked</text>
<text transform="translate(31.3,2119.90) scale(0.72,1)" font-size="8.6" fill="#646464" stroke="#646464" stroke-width="0.15" letter-spacing="1.972">1 EAR</text>
<text transform="translate(31.1,2129.60) scale(0.84,1)" font-size="7.6" font-weight="bold" fill="#e05536" letter-spacing="0.848">AVERAGE COOKING TIME: 13 MIN.</text>
<path d="M162.20,2101.00 L163.21,2100.46 L164.23,2100.20 L165.24,2100.36 L166.26,2100.85 L167.27,2101.42 L168.29,2101.77 L169.30,2101.72 L170.32,2101.29 L171.33,2100.71 L172.35,2100.28 L173.36,2100.23 L174.38,2100.58 L175.39,2101.15 L176.41,2101.64 L177.42,2101.80 L178.44,2101.54 L179.45,2101.00 L180.46,2100.46 L181.48,2100.20 L182.49,2100.36 L183.51,2100.85 L184.52,2101.42 L185.54,2101.77 L186.55,2101.72 L187.57,2101.29 L188.58,2100.71 L189.60,2100.28 L190.61,2100.23 L191.63,2100.58 L192.64,2101.15 L193.66,2101.64 L194.67,2101.80 L195.69,2101.54 L196.70,2101.00" fill="none" stroke="#e05536" stroke-width="1.9"/>
<path d="M162.20,2105.15 L163.21,2104.61 L164.23,2104.35 L165.24,2104.51 L166.26,2105.00 L167.27,2105.57 L168.29,2105.92 L169.30,2105.87 L170.32,2105.44 L171.33,2104.86 L172.35,2104.43 L173.36,2104.38 L174.38,2104.73 L175.39,2105.30 L176.41,2105.79 L177.42,2105.95 L178.44,2105.69 L179.45,2105.15 L180.46,2104.61 L181.48,2104.35 L182.49,2104.51 L183.51,2105.00 L184.52,2105.57 L185.54,2105.92 L186.55,2105.87 L187.57,2105.44 L188.58,2104.86 L189.60,2104.43 L190.61,2104.38 L191.63,2104.73 L192.64,2105.30 L193.66,2105.79 L194.67,2105.95 L195.69,2105.69 L196.70,2105.15" fill="none" stroke="#e05536" stroke-width="1.9"/>
<path d="M162.20,2109.30 L163.21,2108.76 L164.23,2108.50 L165.24,2108.66 L166.26,2109.15 L167.27,2109.72 L168.29,2110.07 L169.30,2110.02 L170.32,2109.59 L171.33,2109.01 L172.35,2108.58 L173.36,2108.53 L174.38,2108.88 L175.39,2109.45 L176.41,2109.94 L177.42,2110.10 L178.44,2109.84 L179.45,2109.30 L180.46,2108.76 L181.48,2108.50 L182.49,2108.66 L183.51,2109.15 L184.52,2109.72 L185.54,2110.07 L186.55,2110.02 L187.57,2109.59 L188.58,2109.01 L189.60,2108.58 L190.61,2108.53 L191.63,2108.88 L192.64,2109.45 L193.66,2109.94 L194.67,2110.10 L195.69,2109.84 L196.70,2109.30" fill="none" stroke="#e05536" stroke-width="1.9"/>
<g transform="translate(162.00,2114.20) scale(0.900,0.975)"><path d="M5,16 C2.1,16 0,13.9 0,11 C0,9 0.5,7.3 1.2,5.8 C1.6,6.8 2,7.3 2.6,7.6 C2.6,4.8 3.2,2.2 4.4,0 C5,2.4 5.8,4.2 6.6,5.6 C7.2,4.8 7.9,4 8.6,2.8 C9.6,4.8 10,7.6 10,11 C10,13.9 7.9,16 5,16 Z" fill="#e05536"/><path d="M5.2,7.2 C6,8.8 7.4,9.8 7.4,12 C7.4,13.6 6.4,14.6 5,14.6 C3.6,14.6 2.6,13.6 2.6,12.2 C2.6,11 3.1,10.2 3.6,9.6 C3.8,10.2 4.1,10.6 4.4,10.7 C4.4,9.4 4.7,8.2 5.2,7.2 Z" fill="#ffffff" opacity="0.18"/></g>
<g transform="translate(174.40,2114.20) scale(0.900,0.975)"><path d="M5,16 C2.1,16 0,13.9 0,11 C0,9 0.5,7.3 1.2,5.8 C1.6,6.8 2,7.3 2.6,7.6 C2.6,4.8 3.2,2.2 4.4,0 C5,2.4 5.8,4.2 6.6,5.6 C7.2,4.8 7.9,4 8.6,2.8 C9.6,4.8 10,7.6 10,11 C10,13.9 7.9,16 5,16 Z" fill="#e05536"/><path d="M5.2,7.2 C6,8.8 7.4,9.8 7.4,12 C7.4,13.6 6.4,14.6 5,14.6 C3.6,14.6 2.6,13.6 2.6,12.2 C2.6,11 3.1,10.2 3.6,9.6 C3.8,10.2 4.1,10.6 4.4,10.7 C4.4,9.4 4.7,8.2 5.2,7.2 Z" fill="#ffffff" opacity="0.18"/></g>
<rect x="201.60" y="2098.10" width="401.5" height="32.0" fill="#fafafa"/>
<rect x="201.60" y="2098.10" width="100.38" height="32.0" fill="#f5917f"/>
<rect x="201.60" y="2098.10" width="66.92" height="32.0" fill="#e05a3b"/>
<path d="M208.29,2108.30V2120.30M214.98,2108.30V2120.30M221.67,2108.30V2120.30M228.37,2108.30V2120.30M241.75,2108.30V2120.30M248.44,2108.30V2120.30M255.13,2108.30V2120.30M261.82,2108.30V2120.30M275.21,2108.30V2120.30M281.90,2108.30V2120.30M288.59,2108.30V2120.30M295.28,2108.30V2120.30M308.67,2108.30V2120.30M315.36,2108.30V2120.30M322.05,2108.30V2120.30M328.74,2108.30V2120.30M342.12,2108.30V2120.30M348.82,2108.30V2120.30M355.51,2108.30V2120.30M362.20,2108.30V2120.30M375.58,2108.30V2120.30M382.27,2108.30V2120.30M388.97,2108.30V2120.30M395.66,2108.30V2120.30M409.04,2108.30V2120.30M415.73,2108.30V2120.30M422.42,2108.30V2120.30M429.12,2108.30V2120.30M442.50,2108.30V2120.30M449.19,2108.30V2120.30M455.88,2108.30V2120.30M462.57,2108.30V2120.30M475.96,2108.30V2120.30M482.65,2108.30V2120.30M489.34,2108.30V2120.30M496.03,2108.30V2120.30M509.42,2108.30V2120.30M516.11,2108.30V2120.30M522.80,2108.30V2120.30M529.49,2108.30V2120.30M542.88,2108.30V2120.30M549.57,2108.30V2120.30M556.26,2108.30V2120.30M562.95,2108.30V2120.30M576.33,2108.30V2120.30M583.02,2108.30V2120.30M589.72,2108.30V2120.30M596.41,2108.30V2120.30" stroke="#000" stroke-width="0.85" opacity="0.24"/>
<path d="M235.06,2098.10V2130.10M301.98,2098.10V2130.10M368.89,2098.10V2130.10M435.81,2098.10V2130.10M502.73,2098.10V2130.10M569.64,2098.10V2130.10" stroke="#000" stroke-width="0.8" stroke-dasharray="1 1" opacity="0.26"/>
<path d="M268.52,2098.10V2130.10M335.43,2098.10V2130.10M402.35,2098.10V2130.10M469.27,2098.10V2130.10M536.18,2098.10V2130.10" stroke="#333" stroke-width="1"/>
<rect x="201.60" y="2098.10" width="401.5" height="1.4" fill="#1e1e1e"/>
<rect x="201.60" y="2128.40" width="401.5" height="1.9" fill="#1e1e1e"/>
<rect x="201.30" y="2098.10" width="1.1" height="32.0" fill="#333"/>
<rect x="602.10" y="2098.10" width="1.2" height="32.0" fill="#888"/>
<line x1="31.8" y1="2133.80" x2="603.10" y2="2133.80" stroke="#8c8c8c" stroke-width="1"/>
<line x1="31.8" y1="2136.2999999999997" x2="603.1" y2="2136.2999999999997" stroke="#b5b5b5" stroke-width="1" stroke-dasharray="1 2.3"/>
<text x="30.6" y="2153.10" font-size="12.3" fill="#2e2e2e" stroke="#2e2e2e" stroke-width="0.32" textLength="50.74" lengthAdjust="spacingAndGlyphs">Corn, In Husk</text>
<text transform="translate(31.3,2163.80) scale(0.72,1)" font-size="8.6" fill="#646464" stroke="#646464" stroke-width="0.15" letter-spacing="1.972">1 EAR</text>
<text transform="translate(31.1,2173.50) scale(0.84,1)" font-size="7.6" font-weight="bold" fill="#e05536" letter-spacing="0.848">AVERAGE COOKING TIME: 28 MIN.</text>
<path d="M162.20,2144.90 L163.21,2144.36 L164.23,2144.10 L165.24,2144.26 L166.26,2144.75 L167.27,2145.32 L168.29,2145.67 L169.30,2145.62 L170.32,2145.19 L171.33,2144.61 L172.35,2144.18 L173.36,2144.13 L174.38,2144.48 L175.39,2145.05 L176.41,2145.54 L177.42,2145.70 L178.44,2145.44 L179.45,2144.90 L180.46,2144.36 L181.48,2144.10 L182.49,2144.26 L183.51,2144.75 L184.52,2145.32 L185.54,2145.67 L186.55,2145.62 L187.57,2145.19 L188.58,2144.61 L189.60,2144.18 L190.61,2144.13 L191.63,2144.48 L192.64,2145.05 L193.66,2145.54 L194.67,2145.70 L195.69,2145.44 L196.70,2144.90" fill="none" stroke="#e05536" stroke-width="1.9"/>
<path d="M162.20,2149.05 L163.21,2148.51 L164.23,2148.25 L165.24,2148.41 L166.26,2148.90 L167.27,2149.47 L168.29,2149.82 L169.30,2149.77 L170.32,2149.34 L171.33,2148.76 L172.35,2148.33 L173.36,2148.28 L174.38,2148.63 L175.39,2149.20 L176.41,2149.69 L177.42,2149.85 L178.44,2149.59 L179.45,2149.05 L180.46,2148.51 L181.48,2148.25 L182.49,2148.41 L183.51,2148.90 L184.52,2149.47 L185.54,2149.82 L186.55,2149.77 L187.57,2149.34 L188.58,2148.76 L189.60,2148.33 L190.61,2148.28 L191.63,2148.63 L192.64,2149.20 L193.66,2149.69 L194.67,2149.85 L195.69,2149.59 L196.70,2149.05" fill="none" stroke="#e05536" stroke-width="1.9"/>
<path d="M162.20,2153.20 L163.21,2152.66 L164.23,2152.40 L165.24,2152.56 L166.26,2153.05 L167.27,2153.62 L168.29,2153.97 L169.30,2153.92 L170.32,2153.49 L171.33,2152.91 L172.35,2152.48 L173.36,2152.43 L174.38,2152.78 L175.39,2153.35 L176.41,2153.84 L177.42,2154.00 L178.44,2153.74 L179.45,2153.20 L180.46,2152.66 L181.48,2152.40 L182.49,2152.56 L183.51,2153.05 L184.52,2153.62 L185.54,2153.97 L186.55,2153.92 L187.57,2153.49 L188.58,2152.91 L189.60,2152.48 L190.61,2152.43 L191.63,2152.78 L192.64,2153.35 L193.66,2153.84 L194.67,2154.00 L195.69,2153.74 L196.70,2153.20" fill="none" stroke="#e05536" stroke-width="1.9"/>
<g transform="translate(162.00,2158.10) scale(0.900,0.975)"><path d="M5,16 C2.1,16 0,13.9 0,11 C0,9 0.5,7.3 1.2,5.8 C1.6,6.8 2,7.3 2.6,7.6 C2.6,4.8 3.2,2.2 4.4,0 C5,2.4 5.8,4.2 6.6,5.6 C7.2,4.8 7.9,4 8.6,2.8 C9.6,4.8 10,7.6 10,11 C10,13.9 7.9,16 5,16 Z" fill="#e05536"/><path d="M5.2,7.2 C6,8.8 7.4,9.8 7.4,12 C7.4,13.6 6.4,14.6 5,14.6 C3.6,14.6 2.6,13.6 2.6,12.2 C2.6,11 3.1,10.2 3.6,9.6 C3.8,10.2 4.1,10.6 4.4,10.7 C4.4,9.4 4.7,8.2 5.2,7.2 Z" fill="#ffffff" opacity="0.18"/></g>
<g transform="translate(174.40,2158.10) scale(0.900,0.975)"><path d="M5,16 C2.1,16 0,13.9 0,11 C0,9 0.5,7.3 1.2,5.8 C1.6,6.8 2,7.3 2.6,7.6 C2.6,4.8 3.2,2.2 4.4,0 C5,2.4 5.8,4.2 6.6,5.6 C7.2,4.8 7.9,4 8.6,2.8 C9.6,4.8 10,7.6 10,11 C10,13.9 7.9,16 5,16 Z" fill="#e05536"/><path d="M5.2,7.2 C6,8.8 7.4,9.8 7.4,12 C7.4,13.6 6.4,14.6 5,14.6 C3.6,14.6 2.6,13.6 2.6,12.2 C2.6,11 3.1,10.2 3.6,9.6 C3.8,10.2 4.1,10.6 4.4,10.7 C4.4,9.4 4.7,8.2 5.2,7.2 Z" fill="#ffffff" opacity="0.18"/></g>
<rect x="201.60" y="2142.00" width="401.5" height="32.0" fill="#fafafa"/>
<rect x="201.60" y="2142.00" width="200.75" height="32.0" fill="#f5917f"/>
<rect x="201.60" y="2142.00" width="167.29" height="32.0" fill="#e05a3b"/>
<path d="M208.29,2152.20V2164.20M214.98,2152.20V2164.20M221.67,2152.20V2164.20M228.37,2152.20V2164.20M241.75,2152.20V2164.20M248.44,2152.20V2164.20M255.13,2152.20V2164.20M261.82,2152.20V2164.20M275.21,2152.20V2164.20M281.90,2152.20V2164.20M288.59,2152.20V2164.20M295.28,2152.20V2164.20M308.67,2152.20V2164.20M315.36,2152.20V2164.20M322.05,2152.20V2164.20M328.74,2152.20V2164.20M342.12,2152.20V2164.20M348.82,2152.20V2164.20M355.51,2152.20V2164.20M362.20,2152.20V2164.20M375.58,2152.20V2164.20M382.27,2152.20V2164.20M388.97,2152.20V2164.20M395.66,2152.20V2164.20M409.04,2152.20V2164.20M415.73,2152.20V2164.20M422.42,2152.20V2164.20M429.12,2152.20V2164.20M442.50,2152.20V2164.20M449.19,2152.20V2164.20M455.88,2152.20V2164.20M462.57,2152.20V2164.20M475.96,2152.20V2164.20M482.65,2152.20V2164.20M489.34,2152.20V2164.20M496.03,2152.20V2164.20M509.42,2152.20V2164.20M516.11,2152.20V2164.20M522.80,2152.20V2164.20M529.49,2152.20V2164.20M542.88,2152.20V2164.20M549.57,2152.20V2164.20M556.26,2152.20V2164.20M562.95,2152.20V2164.20M576.33,2152.20V2164.20M583.02,2152.20V2164.20M589.72,2152.20V2164.20M596.41,2152.20V2164.20" stroke="#000" stroke-width="0.85" opacity="0.24"/>
<path d="M235.06,2142.00V2174.00M301.98,2142.00V2174.00M368.89,2142.00V2174.00M435.81,2142.00V2174.00M502.73,2142.00V2174.00M569.64,2142.00V2174.00" stroke="#000" stroke-width="0.8" stroke-dasharray="1 1" opacity="0.26"/>
<path d="M268.52,2142.00V2174.00M335.43,2142.00V2174.00M402.35,2142.00V2174.00M469.27,2142.00V2174.00M536.18,2142.00V2174.00" stroke="#333" stroke-width="1"/>
<rect x="201.60" y="2142.00" width="401.5" height="1.4" fill="#1e1e1e"/>
<rect x="201.60" y="2172.30" width="401.5" height="1.9" fill="#1e1e1e"/>
<rect x="201.30" y="2142.00" width="1.1" height="32.0" fill="#333"/>
<rect x="602.10" y="2142.00" width="1.2" height="32.0" fill="#888"/>
<line x1="31.8" y1="2177.70" x2="603.10" y2="2177.70" stroke="#8c8c8c" stroke-width="1"/>
<line x1="31.8" y1="2180.2" x2="603.1" y2="2180.2" stroke="#b5b5b5" stroke-width="1" stroke-dasharray="1 2.3"/>
<defs><pattern id="hv" width="2" height="2" patternUnits="userSpaceOnUse"><rect width="1" height="2" fill="#e0e0e0"/></pattern><pattern id="hh" width="2" height="2" patternUnits="userSpaceOnUse"><rect width="2" height="1" fill="#e0e0e0"/></pattern></defs>
<rect x="27.5" y="2192" width="4.5" height="120" fill="url(#hh)"/>
<rect x="30" y="2311.5" width="570" height="3.5" fill="url(#hv)"/>
<rect x="34.3" y="2189.3" width="570" height="120" fill="#f6f6f6" stroke="#a8a8a8" stroke-width="1.3"/>
<path d="M57.60,2205.50 Q57.80,2209.60 60.60,2209.40 Q62.60,2209.00 62.40,2204.40 Q61.20,2207.60 57.60,2205.50 Z" fill="#d9eeec" opacity="0.8"/>
<path d="M58.40,2208.90 Q61.40,2209.60 62.20,2206.20" fill="none" stroke="#5da6a4" stroke-width="0.9" opacity="0.55"/>
<path d="M70.60,2205.50 Q70.80,2209.60 73.60,2209.40 Q75.60,2209.00 75.40,2204.40 Q74.20,2207.60 70.60,2205.50 Z" fill="#d9eeec" opacity="0.8"/>
<path d="M71.40,2208.90 Q74.40,2209.60 75.20,2206.20" fill="none" stroke="#5da6a4" stroke-width="0.9" opacity="0.55"/>
<path d="M83.60,2205.50 Q83.80,2209.60 86.60,2209.40 Q88.60,2209.00 88.40,2204.40 Q87.20,2207.60 83.60,2205.50 Z" fill="#d9eeec" opacity="0.8"/>
<path d="M84.40,2208.90 Q87.40,2209.60 88.20,2206.20" fill="none" stroke="#5da6a4" stroke-width="0.9" opacity="0.55"/>
<path d="M96.60,2205.50 Q96.80,2209.60 99.60,2209.40 Q101.60,2209.00 101.40,2204.40 Q100.20,2207.60 96.60,2205.50 Z" fill="#d9eeec" opacity="0.8"/>
<path d="M97.40,2208.90 Q100.40,2209.60 101.20,2206.20" fill="none" stroke="#5da6a4" stroke-width="0.9" opacity="0.55"/>
<path d="M109.60,2205.50 Q109.80,2209.60 112.60,2209.40 Q114.60,2209.00 114.40,2204.40 Q113.20,2207.60 109.60,2205.50 Z" fill="#d9eeec" opacity="0.8"/>
<path d="M110.40,2208.90 Q113.40,2209.60 114.20,2206.20" fill="none" stroke="#5da6a4" stroke-width="0.9" opacity="0.55"/>
<path d="M122.60,2205.50 Q122.80,2209.60 125.60,2209.40 Q127.60,2209.00 127.40,2204.40 Q126.20,2207.60 122.60,2205.50 Z" fill="#d9eeec" opacity="0.8"/>
<path d="M123.40,2208.90 Q126.40,2209.60 127.20,2206.20" fill="none" stroke="#5da6a4" stroke-width="0.9" opacity="0.55"/>
<path d="M135.60,2205.50 Q135.80,2209.60 138.60,2209.40 Q140.60,2209.00 140.40,2204.40 Q139.20,2207.60 135.60,2205.50 Z" fill="#d9eeec" opacity="0.8"/>
<path d="M136.40,2208.90 Q139.40,2209.60 140.20,2206.20" fill="none" stroke="#5da6a4" stroke-width="0.9" opacity="0.55"/>
<path d="M148.60,2205.50 Q148.80,2209.60 151.60,2209.40 Q153.60,2209.00 153.40,2204.40 Q152.20,2207.60 148.60,2205.50 Z" fill="#d9eeec" opacity="0.8"/>
<path d="M149.40,2208.90 Q152.40,2209.60 153.20,2206.20" fill="none" stroke="#5da6a4" stroke-width="0.9" opacity="0.55"/>
<path d="M161.60,2205.50 Q161.80,2209.60 164.60,2209.40 Q166.60,2209.00 166.40,2204.40 Q165.20,2207.60 161.60,2205.50 Z" fill="#d9eeec" opacity="0.8"/>
<path d="M162.40,2208.90 Q165.40,2209.60 166.20,2206.20" fill="none" stroke="#5da6a4" stroke-width="0.9" opacity="0.55"/>
<path d="M174.60,2205.50 Q174.80,2209.60 177.60,2209.40 Q179.60,2209.00 179.40,2204.40 Q178.20,2207.60 174.60,2205.50 Z" fill="#d9eeec" opacity="0.8"/>
<path d="M175.40,2208.90 Q178.40,2209.60 179.20,2206.20" fill="none" stroke="#5da6a4" stroke-width="0.9" opacity="0.55"/>
<path d="M187.60,2205.50 Q187.80,2209.60 190.60,2209.40 Q192.60,2209.00 192.40,2204.40 Q191.20,2207.60 187.60,2205.50 Z" fill="#d9eeec" opacity="0.8"/>
<path d="M188.40,2208.90 Q191.40,2209.60 192.20,2206.20" fill="none" stroke="#5da6a4" stroke-width="0.9" opacity="0.55"/>
<path d="M200.60,2205.50 Q200.80,2209.60 203.60,2209.40 Q205.60,2209.00 205.40,2204.40 Q204.20,2207.60 200.60,2205.50 Z" fill="#d9eeec" opacity="0.8"/>
<path d="M201.40,2208.90 Q204.40,2209.60 205.20,2206.20" fill="none" stroke="#5da6a4" stroke-width="0.9" opacity="0.55"/>
<path d="M213.60,2205.50 Q213.80,2209.60 216.60,2209.40 Q218.60,2209.00 218.40,2204.40 Q217.20,2207.60 213.60,2205.50 Z" fill="#d9eeec" opacity="0.8"/>
<path d="M214.40,2208.90 Q217.40,2209.60 218.20,2206.20" fill="none" stroke="#5da6a4" stroke-width="0.9" opacity="0.55"/>
<path d="M226.60,2205.50 Q226.80,2209.60 229.60,2209.40 Q231.60,2209.00 231.40,2204.40 Q230.20,2207.60 226.60,2205.50 Z" fill="#d9eeec" opacity="0.8"/>
<path d="M227.40,2208.90 Q230.40,2209.60 231.20,2206.20" fill="none" stroke="#5da6a4" stroke-width="0.9" opacity="0.55"/>
<path d="M239.60,2205.50 Q239.80,2209.60 242.60,2209.40 Q244.60,2209.00 244.40,2204.40 Q243.20,2207.60 239.60,2205.50 Z" fill="#d9eeec" opacity="0.8"/>
<path d="M240.40,2208.90 Q243.40,2209.60 244.20,2206.20" fill="none" stroke="#5da6a4" stroke-width="0.9" opacity="0.55"/>
<path d="M252.60,2205.50 Q252.80,2209.60 255.60,2209.40 Q257.60,2209.00 257.40,2204.40 Q256.20,2207.60 252.60,2205.50 Z" fill="#d9eeec" opacity="0.8"/>
<path d="M253.40,2208.90 Q256.40,2209.60 257.20,2206.20" fill="none" stroke="#5da6a4" stroke-width="0.9" opacity="0.55"/>
<path d="M265.60,2205.50 Q265.80,2209.60 268.60,2209.40 Q270.60,2209.00 270.40,2204.40 Q269.20,2207.60 265.60,2205.50 Z" fill="#d9eeec" opacity="0.8"/>
<path d="M266.40,2208.90 Q269.40,2209.60 270.20,2206.20" fill="none" stroke="#5da6a4" stroke-width="0.9" opacity="0.55"/>
<path d="M359.60,2205.50 Q359.80,2209.60 362.60,2209.40 Q364.60,2209.00 364.40,2204.40 Q363.20,2207.60 359.60,2205.50 Z" fill="#d9eeec" opacity="0.8"/>
<path d="M360.40,2208.90 Q363.40,2209.60 364.20,2206.20" fill="none" stroke="#5da6a4" stroke-width="0.9" opacity="0.55"/>
<path d="M372.79,2205.50 Q372.99,2209.60 375.79,2209.40 Q377.79,2209.00 377.59,2204.40 Q376.39,2207.60 372.79,2205.50 Z" fill="#d9eeec" opacity="0.8"/>
<path d="M373.59,2208.90 Q376.59,2209.60 377.39,2206.20" fill="none" stroke="#5da6a4" stroke-width="0.9" opacity="0.55"/>
<path d="M385.98,2205.50 Q386.18,2209.60 388.98,2209.40 Q390.98,2209.00 390.77,2204.40 Q389.57,2207.60 385.98,2205.50 Z" fill="#d9eeec" opacity="0.8"/>
<path d="M386.77,2208.90 Q389.77,2209.60 390.57,2206.20" fill="none" stroke="#5da6a4" stroke-width="0.9" opacity="0.55"/>
<path d="M399.16,2205.50 Q399.36,2209.60 402.16,2209.40 Q404.16,2209.00 403.96,2204.40 Q402.76,2207.60 399.16,2205.50 Z" fill="#d9eeec" opacity="0.8"/>
<path d="M399.96,2208.90 Q402.96,2209.60 403.76,2206.20" fill="none" stroke="#5da6a4" stroke-width="0.9" opacity="0.55"/>
<path d="M412.35,2205.50 Q412.55,2209.60 415.35,2209.40 Q417.35,2209.00 417.15,2204.40 Q415.95,2207.60 412.35,2205.50 Z" fill="#d9eeec" opacity="0.8"/>
<path d="M413.15,2208.90 Q416.15,2209.60 416.95,2206.20" fill="none" stroke="#5da6a4" stroke-width="0.9" opacity="0.55"/>
<path d="M425.54,2205.50 Q425.74,2209.60 428.54,2209.40 Q430.54,2209.00 430.34,2204.40 Q429.14,2207.60 425.54,2205.50 Z" fill="#d9eeec" opacity="0.8"/>
<path d="M426.34,2208.90 Q429.34,2209.60 430.14,2206.20" fill="none" stroke="#5da6a4" stroke-width="0.9" opacity="0.55"/>
<path d="M438.73,2205.50 Q438.93,2209.60 441.73,2209.40 Q443.73,2209.00 443.52,2204.40 Q442.32,2207.60 438.73,2205.50 Z" fill="#d9eeec" opacity="0.8"/>
<path d="M439.52,2208.90 Q442.52,2209.60 443.32,2206.20" fill="none" stroke="#5da6a4" stroke-width="0.9" opacity="0.55"/>
<path d="M451.91,2205.50 Q452.11,2209.60 454.91,2209.40 Q456.91,2209.00 456.71,2204.40 Q455.51,2207.60 451.91,2205.50 Z" fill="#d9eeec" opacity="0.8"/>
<path d="M452.71,2208.90 Q455.71,2209.60 456.51,2206.20" fill="none" stroke="#5da6a4" stroke-width="0.9" opacity="0.55"/>
<path d="M465.10,2205.50 Q465.30,2209.60 468.10,2209.40 Q470.10,2209.00 469.90,2204.40 Q468.70,2207.60 465.10,2205.50 Z" fill="#d9eeec" opacity="0.8"/>
<path d="M465.90,2208.90 Q468.90,2209.60 469.70,2206.20" fill="none" stroke="#5da6a4" stroke-width="0.9" opacity="0.55"/>
<path d="M478.29,2205.50 Q478.49,2209.60 481.29,2209.40 Q483.29,2209.00 483.09,2204.40 Q481.89,2207.60 478.29,2205.50 Z" fill="#d9eeec" opacity="0.8"/>
<path d="M479.09,2208.90 Q482.09,2209.60 482.89,2206.20" fill="none" stroke="#5da6a4" stroke-width="0.9" opacity="0.55"/>
<path d="M491.48,2205.50 Q491.68,2209.60 494.48,2209.40 Q496.48,2209.00 496.27,2204.40 Q495.07,2207.60 491.48,2205.50 Z" fill="#d9eeec" opacity="0.8"/>
<path d="M492.27,2208.90 Q495.27,2209.60 496.07,2206.20" fill="none" stroke="#5da6a4" stroke-width="0.9" opacity="0.55"/>
<path d="M504.66,2205.50 Q504.86,2209.60 507.66,2209.40 Q509.66,2209.00 509.46,2204.40 Q508.26,2207.60 504.66,2205.50 Z" fill="#d9eeec" opacity="0.8"/>
<path d="M505.46,2208.90 Q508.46,2209.60 509.26,2206.20" fill="none" stroke="#5da6a4" stroke-width="0.9" opacity="0.55"/>
<path d="M517.85,2205.50 Q518.05,2209.60 520.85,2209.40 Q522.85,2209.00 522.65,2204.40 Q521.45,2207.60 517.85,2205.50 Z" fill="#d9eeec" opacity="0.8"/>
<path d="M518.65,2208.90 Q521.65,2209.60 522.45,2206.20" fill="none" stroke="#5da6a4" stroke-width="0.9" opacity="0.55"/>
<path d="M531.04,2205.50 Q531.24,2209.60 534.04,2209.40 Q536.04,2209.00 535.84,2204.40 Q534.64,2207.60 531.04,2205.50 Z" fill="#d9eeec" opacity="0.8"/>
<path d="M531.84,2208.90 Q534.84,2209.60 535.64,2206.20" fill="none" stroke="#5da6a4" stroke-width="0.9" opacity="0.55"/>
<path d="M544.23,2205.50 Q544.42,2209.60 547.23,2209.40 Q549.23,2209.00 549.02,2204.40 Q547.83,2207.60 544.23,2205.50 Z" fill="#d9eeec" opacity="0.8"/>
<path d="M545.02,2208.90 Q548.02,2209.60 548.83,2206.20" fill="none" stroke="#5da6a4" stroke-width="0.9" opacity="0.55"/>
<path d="M557.41,2205.50 Q557.61,2209.60 560.41,2209.40 Q562.41,2209.00 562.21,2204.40 Q561.01,2207.60 557.41,2205.50 Z" fill="#d9eeec" opacity="0.8"/>
<path d="M558.21,2208.90 Q561.21,2209.60 562.01,2206.20" fill="none" stroke="#5da6a4" stroke-width="0.9" opacity="0.55"/>
<path d="M570.60,2205.50 Q570.80,2209.60 573.60,2209.40 Q575.60,2209.00 575.40,2204.40 Q574.20,2207.60 570.60,2205.50 Z" fill="#d9eeec" opacity="0.8"/>
<path d="M571.40,2208.90 Q574.40,2209.60 575.20,2206.20" fill="none" stroke="#5da6a4" stroke-width="0.9" opacity="0.55"/>
<g transform="translate(279.75,2207.20) translate(-2.30,-5.40) scale(1,0.8421)"><path d="M4.60,3.33 V2.57 A2.30,2.57 0 0 0 0.00,2.57 V3.59 C0.00,5.39 4.60,6.67 4.60,8.98 V10.26 A2.30,2.57 0 0 1 0.00,10.26 V9.49" fill="none" stroke="#e0664c" stroke-width="1.90" stroke-linejoin="miter" stroke-miterlimit="5" stroke-linecap="butt"/></g>
<g transform="translate(287.30,2207.20) translate(-2.75,-5.40) scale(1,0.8421)"><path d="M-0.14,13.78 L2.31,0.00 H3.19 L5.64,13.78 M0.82,8.72 H4.67" fill="none" stroke="#e0664c" stroke-width="1.90" stroke-linejoin="miter" stroke-miterlimit="5" stroke-linecap="butt"/></g>
<g transform="translate(294.60,2207.20) translate(-1.85,-5.40) scale(1,0.8421)"><path d="M4.65,0.00 H0 V13.78 M0.00,6.16 H4.13" fill="none" stroke="#e0664c" stroke-width="1.90" stroke-linejoin="miter" stroke-miterlimit="5" stroke-linecap="butt"/></g>
<g transform="translate(300.80,2207.20) translate(-1.55,-5.40) scale(1,0.8421)"><path d="M4.05,0.00 H0 V12.83 H4.05 M0.00,6.16 H3.62" fill="none" stroke="#e0664c" stroke-width="1.90" stroke-linejoin="miter" stroke-miterlimit="5" stroke-linecap="butt"/></g>
<g transform="translate(306.55,2207.20) translate(-2.20,-5.40) scale(1,0.8421)"><path d="M-0.95,0.00 H5.35 M2.20,0.00 V13.78" fill="none" stroke="#e0664c" stroke-width="1.90" stroke-linejoin="miter" stroke-miterlimit="5" stroke-linecap="butt"/></g>
<g transform="translate(313.45,2207.20) translate(-2.60,-5.40) scale(1,0.8421)"><path d="M0.00,-0.95 L2.60,7.05 L5.20,-0.95 M2.60,7.05 V13.78" fill="none" stroke="#e0664c" stroke-width="1.90" stroke-linejoin="miter" stroke-miterlimit="5" stroke-linecap="butt"/></g>
<g transform="translate(324.65,2207.20) translate(-1.60,-5.40) scale(1,0.8421)"><path d="M4.15,0.00 H0 V13.78 M0.00,6.16 H3.70" fill="none" stroke="#e0664c" stroke-width="1.90" stroke-linejoin="miter" stroke-miterlimit="5" stroke-linecap="butt"/></g>
<g transform="translate(329.45,2207.20) translate(-0.20,-5.40) scale(1,0.8421)"><path d="M0.00,-0.95 V13.78" fill="none" stroke="#e0664c" stroke-width="1.90" stroke-linejoin="miter" stroke-miterlimit="5" stroke-linecap="butt"/></g>
<g transform="translate(334.35,2207.20) translate(-2.00,-5.40) scale(1,0.8421)"><path d="M0.00,13.78 V0.00 H2.00 A2.00,2.61 0 0 1 4.00,2.61 V3.80 A2.00,2.61 0 0 1 2.00,6.41 H0 M2.80,6.41 L4.00,13.78" fill="none" stroke="#e0664c" stroke-width="1.90" stroke-linejoin="miter" stroke-miterlimit="5" stroke-linecap="butt"/></g>
<g transform="translate(341.55,2207.20) translate(-2.00,-5.40) scale(1,0.8421)"><path d="M4.00,3.33 V2.57 A2.00,2.57 0 0 0 0.00,2.57 V3.59 C0.00,5.39 4.00,6.67 4.00,8.98 V10.26 A2.00,2.57 0 0 1 0.00,10.26 V9.49" fill="none" stroke="#e0664c" stroke-width="1.90" stroke-linejoin="miter" stroke-miterlimit="5" stroke-linecap="butt"/></g>
<g transform="translate(348.10,2207.20) translate(-1.95,-5.40) scale(1,0.8421)"><path d="M-0.95,0.00 H4.85 M1.95,0.00 V13.78" fill="none" stroke="#e0664c" stroke-width="1.90" stroke-linejoin="miter" stroke-miterlimit="5" stroke-linecap="butt"/></g>
<g transform="translate(354.75,2207.20) translate(-0.20,-5.40) scale(1,0.8421)"><path d="M0.00,-0.95 V8.72 M0.00,11.03 V13.78" fill="none" stroke="#e0664c" stroke-width="1.90" stroke-linejoin="miter" stroke-miterlimit="5" stroke-linecap="butt"/></g>
<text x="61.40" y="2228.60" font-size="8.2" fill="#9a9a9a" textLength="515.20" lengthAdjust="spacingAndGlyphs" >Cook times presented are general guidelines that can vary depending on desired doneness, thickness, and amount of each item being cooked,</text>
<text x="92.00" y="2239.40" font-size="8.2" fill="#9a9a9a" textLength="452.60" lengthAdjust="spacingAndGlyphs" >or other factors. For safety reasons, always use a cooking thermometer to gauge the internal temperature of meat products.</text>
<rect x="58.9" y="2251.2" width="160.5" height="1.2" fill="#b0b0b0"/><rect x="415.6" y="2251.2" width="159.1" height="1.2" fill="#b0b0b0"/>
<text transform="translate(225.00,2255.20) scale(0.85,1)" font-size="8.4" font-weight="bold" fill="#555" letter-spacing="1.825" >USDA SAFE MINIMAL INTERNAL TEMPS</text>
<rect x="57.3" y="2261.2" width="124.5" height="41" fill="#a4d6d4"/>
<rect x="191.9" y="2261.2" width="119.3" height="41" fill="#a4d6d4"/>
<line x1="186.9" y1="2263" x2="186.9" y2="2300" stroke="#b5b5b5" stroke-width="1" stroke-dasharray="1 2"/>
<rect x="321.4" y="2261.2" width="118.9" height="41" fill="#a4d6d4"/>
<line x1="316.3" y1="2263" x2="316.3" y2="2300" stroke="#b5b5b5" stroke-width="1" stroke-dasharray="1 2"/>
<rect x="450.7" y="2261.2" width="124.0" height="41" fill="#a4d6d4"/>
<line x1="445.5" y1="2263" x2="445.5" y2="2300" stroke="#b5b5b5" stroke-width="1" stroke-dasharray="1 2"/>
<text transform="translate(80.00,2278.70) scale(0.8524,1)" x="0" y="0" font-size="10.63" fill="#ffffff" stroke="#ffffff" stroke-width="0.41">Fish and Shellfish:</text>
<text transform="translate(103.70,2294.00) scale(0.7115,1)" x="0" y="0" font-size="14.85" fill="#ffffff" stroke="#ffffff" stroke-width="0.49">145°F</text>
<text transform="translate(212.00,2278.70) scale(0.8403,1)" x="0" y="0" font-size="10.63" fill="#ffffff" stroke="#ffffff" stroke-width="0.42">Beef or Pork Steaks</text>
<text transform="translate(216.90,2294.00) scale(0.8379,1)" x="0" y="0" font-size="10.63" fill="#ffffff" stroke="#ffffff" stroke-width="0.42">or Chops:</text>
<text transform="translate(258.50,2294.00) scale(0.6964,1)" x="0" y="0" font-size="14.85" fill="#ffffff" stroke="#ffffff" stroke-width="0.50">145°F</text>
<text transform="translate(338.00,2278.70) scale(0.8307,1)" x="0" y="0" font-size="10.63" fill="#ffffff" stroke="#ffffff" stroke-width="0.42">Ground Beef or Pork:</text>
<text transform="translate(366.20,2294.00) scale(0.7367,1)" x="0" y="0" font-size="14.85" fill="#ffffff" stroke="#ffffff" stroke-width="0.48">160°F</text>
<text transform="translate(495.50,2278.70) scale(0.8345,1)" x="0" y="0" font-size="10.63" fill="#ffffff" stroke="#ffffff" stroke-width="0.42">Chicken:</text>
<text transform="translate(499.00,2294.00) scale(0.7165,1)" x="0" y="0" font-size="14.85" fill="#ffffff" stroke="#ffffff" stroke-width="0.49">165°F</text>
<text transform="translate(30.80,2326.00) scale(0.85,1)" font-size="7.0" fill="#8f8f8f" letter-spacing="0.180" >SOURCES: FOOD.COM, WEBER.COM, USDA.GOV</text>
<text x="378.60" y="2330.20" font-size="5.2" fill="#111" font-weight="bold" textLength="22.50" lengthAdjust="spacingAndGlyphs" >Created by</text>
<text transform="translate(378.60,2340.70) scale(0.95,1)" font-size="10.4" font-weight="bold" fill="#111" letter-spacing="1.546" stroke="#111" stroke-width="0.25">COLUMN</text>
<text transform="translate(452.80,2340.70) scale(0.95,1)" font-size="10.4" font-weight="bold" fill="#111" letter-spacing="1.277" stroke="#111" stroke-width="0.25">FIVE</text>
<path d="M447.6,2326.3 L440.4,2321.9 L433.3,2325.7 L440.4,2329.6" fill="none" stroke="#e05a3a" stroke-width="1.7" stroke-linejoin="miter"/>
<path d="M447.6,2337 L440.4,2332.9 L433.3,2336.7 L439.9,2341.1 L439.9,2349.9 L433.3,2346.6" fill="none" stroke="#80c6c4" stroke-width="1.7"/>
<path d="M499.3,2326 V2322.3 H503 M534,2322.3 H537.5 V2326 M537.5,2340.8 V2344 H534" fill="none" stroke="#222" stroke-width="1.6"/>
<path d="M499.3,2340.8 V2344 H505.2 L506.8,2349.4 L511.5,2344 H517.8" fill="none" stroke="#222" stroke-width="1.6"/>
<path d="M518.4,2341.6 C514,2337.6 508.8,2334 508.8,2329.4 C508.8,2326.6 510.9,2324.7 513.4,2324.7 C515.6,2324.7 517.4,2326 518.4,2327.8 C519.4,2326 521.2,2324.7 523.4,2324.7 C525.9,2324.7 528,2326.6 528,2329.4 C528,2334 522.8,2337.6 518.4,2341.6 Z" fill="#e25a3c"/>
<text transform="translate(540.00,2337.20) scale(0.9,1)" font-size="9.8" font-weight="bold" fill="#222" letter-spacing="0.434" >VISUAL NEWS</text>
</svg></body></html>
